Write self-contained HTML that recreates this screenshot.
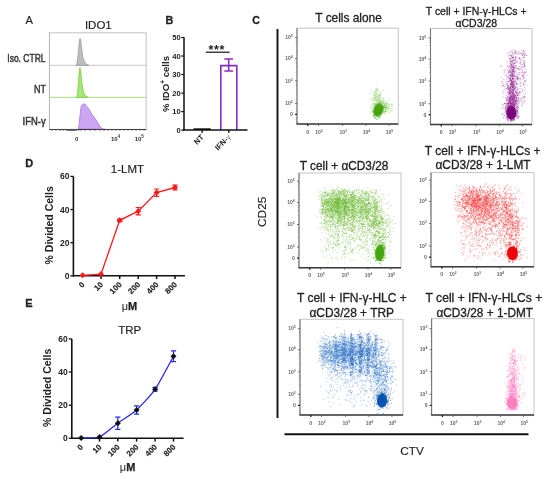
<!DOCTYPE html>
<html><head><meta charset="utf-8"><style>
html,body{margin:0;padding:0;background:#fff;width:550px;height:479px;overflow:hidden}
svg{display:block;will-change:transform}
text{font-family:"Liberation Sans",sans-serif}
.t{stroke:#222;stroke-width:0.3px}
</style></head><body>
<svg width="550" height="479" viewBox="0 0 550 479">
<defs><filter id="b5" x="-50%" y="-50%" width="200%" height="200%"><feGaussianBlur stdDeviation="0.5"/></filter><filter id="b10" x="-50%" y="-50%" width="200%" height="200%"><feGaussianBlur stdDeviation="1.0"/></filter><filter id="b15" x="-50%" y="-50%" width="200%" height="200%"><feGaussianBlur stdDeviation="1.5"/></filter><filter id="b20" x="-50%" y="-50%" width="200%" height="200%"><feGaussianBlur stdDeviation="2.0"/></filter></defs>
<rect width="550" height="479" fill="#fff"/>
<text x="25.4" y="23.6" font-size="11.2" text-anchor="start" font-weight="normal" fill="#222" stroke="#222" stroke-width="0.15">A</text>
<text x="84.9" y="28.7" font-size="11.5" text-anchor="start" font-weight="normal" fill="#222" stroke="#222" stroke-width="0.15">IDO1</text>
<rect x="49.5" y="32.8" width="96.7" height="96.6" fill="none" stroke="#c8c8c8" stroke-width="1.1"/>
<line x1="49.5" y1="65.3" x2="146.2" y2="65.3" stroke="#c8c8c8" stroke-width="1"/>
<line x1="49.5" y1="97.3" x2="146.2" y2="97.3" stroke="#a6e07a" stroke-width="1"/>
<line x1="49.5" y1="32.8" x2="49.5" y2="129.5" stroke="#b8b8b8" stroke-width="1"/>
<text x="45.5" y="61.5" font-size="10.3" text-anchor="end" font-weight="normal" fill="#333" stroke="#333" stroke-width="0.45" textLength="38.2" lengthAdjust="spacingAndGlyphs">Iso. CTRL</text>
<text x="45.9" y="92.9" font-size="10.8" text-anchor="end" font-weight="normal" fill="#333" stroke="#333" stroke-width="0.45" textLength="11.9" lengthAdjust="spacingAndGlyphs">NT</text>
<text x="45.6" y="124.9" font-size="10.2" text-anchor="end" font-weight="normal" fill="#333" stroke="#333" stroke-width="0.45" textLength="23" lengthAdjust="spacingAndGlyphs">IFN-γ</text>
<path d="M76 65.4 C77.3 64.5 78.2 55 79.3 41.5 Q80 35.8 80.8 40.5 C81.8 51 82.8 58.5 84.5 61.8 C86 64 87.5 65 89 65.4 Z" fill="#bdbdbd" stroke="#9a9a9a" stroke-width="0.8"/>
<path d="M76.5 97.4 C77.7 96 78.3 85 79.3 70.5 Q79.9 65.6 80.6 69.5 C81.6 81 82.4 89.5 84.2 93.8 C85.5 96 86.8 97 88 97.4 Z" fill="#a8e47c" stroke="#7fd040" stroke-width="0.9"/>
<path d="M78 129 C79.5 127 80 112 81.3 106 Q82.5 104 84.3 103.8 C85.5 104 86 106 87.4 107.2 C89 109 90.5 112 92.1 114.8 C94 117 95 118.5 96.3 120.3 C98 123 99.5 126 101.2 128.2 C102.5 129 104 129.2 105 129.3 Z" fill="#cca4f2" stroke="#a97ae6" stroke-width="0.9"/>
<line x1="49.2" y1="129.5" x2="146.2" y2="129.5" stroke="#333" stroke-width="0.9"/>
<line x1="52" y1="129.5" x2="52" y2="131" stroke="#444" stroke-width="0.7"/>
<line x1="56" y1="129.5" x2="56" y2="131" stroke="#444" stroke-width="0.7"/>
<line x1="60" y1="129.5" x2="60" y2="131" stroke="#444" stroke-width="0.7"/>
<line x1="63" y1="129.5" x2="63" y2="131" stroke="#444" stroke-width="0.7"/>
<line x1="66" y1="129.5" x2="66" y2="131" stroke="#444" stroke-width="0.7"/>
<line x1="68" y1="129.5" x2="68" y2="131" stroke="#444" stroke-width="0.7"/>
<line x1="70" y1="129.5" x2="70" y2="131" stroke="#444" stroke-width="0.7"/>
<line x1="72" y1="129.5" x2="72" y2="131" stroke="#444" stroke-width="0.7"/>
<line x1="74" y1="129.5" x2="74" y2="131" stroke="#444" stroke-width="0.7"/>
<line x1="76.5" y1="129.5" x2="76.5" y2="131" stroke="#444" stroke-width="0.7"/>
<line x1="79" y1="129.5" x2="79" y2="131" stroke="#444" stroke-width="0.7"/>
<line x1="81" y1="129.5" x2="81" y2="131" stroke="#444" stroke-width="0.7"/>
<line x1="85" y1="129.5" x2="85" y2="131" stroke="#444" stroke-width="0.7"/>
<line x1="90" y1="129.5" x2="90" y2="131" stroke="#444" stroke-width="0.7"/>
<line x1="95" y1="129.5" x2="95" y2="131" stroke="#444" stroke-width="0.7"/>
<line x1="100" y1="129.5" x2="100" y2="131" stroke="#444" stroke-width="0.7"/>
<line x1="104" y1="129.5" x2="104" y2="131" stroke="#444" stroke-width="0.7"/>
<line x1="108" y1="129.5" x2="108" y2="131" stroke="#444" stroke-width="0.7"/>
<line x1="112" y1="129.5" x2="112" y2="131" stroke="#444" stroke-width="0.7"/>
<line x1="116" y1="129.5" x2="116" y2="131" stroke="#444" stroke-width="0.7"/>
<line x1="120" y1="129.5" x2="120" y2="131" stroke="#444" stroke-width="0.7"/>
<line x1="124" y1="129.5" x2="124" y2="131" stroke="#444" stroke-width="0.7"/>
<line x1="128" y1="129.5" x2="128" y2="131" stroke="#444" stroke-width="0.7"/>
<line x1="132" y1="129.5" x2="132" y2="131" stroke="#444" stroke-width="0.7"/>
<line x1="136" y1="129.5" x2="136" y2="131" stroke="#444" stroke-width="0.7"/>
<line x1="140" y1="129.5" x2="140" y2="131" stroke="#444" stroke-width="0.7"/>
<line x1="144" y1="129.5" x2="144" y2="131" stroke="#444" stroke-width="0.7"/>
<rect x="67" y="129.5" width="9" height="1.2" fill="#555"/>
<text x="76.6" y="141" font-size="6" text-anchor="middle" font-weight="bold" fill="#333" >0</text>
<text x="111" y="141" font-size="6" text-anchor="start" font-weight="bold" fill="#333" >10</text>
<text x="117.5" y="137.5" font-size="4.5" text-anchor="start" font-weight="bold" fill="#333" >4</text>
<text x="134.7" y="141" font-size="6" text-anchor="start" font-weight="bold" fill="#333" >10</text>
<text x="141.2" y="137.5" font-size="4.5" text-anchor="start" font-weight="bold" fill="#333" >5</text>
<text x="165.4" y="23.6" font-size="10.8" text-anchor="start" font-weight="bold" fill="#222" stroke="#222" stroke-width="0.3">B</text>
<path d="M220.8 130V65.6H236.8V130" fill="none" stroke="#8a2bc4" stroke-width="1.6"/>
<path d="M228.7 59.1V70.9M224.3 59.1H233.1M224.3 70.9H233.1" fill="none" stroke="#8a2bc4" stroke-width="1.5"/>
<line x1="193.5" y1="129.2" x2="210.7" y2="129.2" stroke="#111" stroke-width="1.8"/>
<line x1="184" y1="37.2" x2="184" y2="130.7" stroke="#111" stroke-width="1.5"/>
<line x1="183.3" y1="130" x2="247.5" y2="130" stroke="#111" stroke-width="1.5"/>
<line x1="181.3" y1="37.5" x2="184" y2="37.5" stroke="#111" stroke-width="1.2"/>
<text x="180.8" y="40.2" font-size="7.6" text-anchor="end" font-weight="bold" fill="#222" >50</text>
<line x1="181.3" y1="56.0" x2="184" y2="56.0" stroke="#111" stroke-width="1.2"/>
<text x="180.8" y="58.72" font-size="7.6" text-anchor="end" font-weight="bold" fill="#222" >40</text>
<line x1="181.3" y1="74.5" x2="184" y2="74.5" stroke="#111" stroke-width="1.2"/>
<text x="180.8" y="77.24" font-size="7.6" text-anchor="end" font-weight="bold" fill="#222" >30</text>
<line x1="181.3" y1="93.1" x2="184" y2="93.1" stroke="#111" stroke-width="1.2"/>
<text x="180.8" y="95.76" font-size="7.6" text-anchor="end" font-weight="bold" fill="#222" >20</text>
<line x1="181.3" y1="111.6" x2="184" y2="111.6" stroke="#111" stroke-width="1.2"/>
<text x="180.8" y="114.28" font-size="7.6" text-anchor="end" font-weight="bold" fill="#222" >10</text>
<line x1="181.3" y1="130.1" x2="184" y2="130.1" stroke="#111" stroke-width="1.2"/>
<text x="180.8" y="132.79999999999998" font-size="7.6" text-anchor="end" font-weight="bold" fill="#222" >0</text>
<text transform="translate(168.8,84) rotate(-90)" x="0" y="0" font-size="9.6" font-weight="bold" text-anchor="middle" fill="#222">% IDO<tspan font-size="6.5" dy="-3.5">+</tspan><tspan dy="3.5"> cells</tspan></text>
<line x1="202" y1="130" x2="202" y2="133" stroke="#111" stroke-width="1.3"/>
<line x1="228.8" y1="130" x2="228.8" y2="133" stroke="#111" stroke-width="1.3"/>
<line x1="205.8" y1="52.2" x2="229.6" y2="52.2" stroke="#111" stroke-width="1.2"/>
<text x="216.8" y="54.4" font-size="12.5" text-anchor="middle" font-weight="bold" fill="#222" letter-spacing="0.6">***</text>
<text transform="translate(204.2,137.8) rotate(-45)" font-size="7.6" font-weight="bold" text-anchor="end" fill="#222">NT</text>
<text transform="translate(231.2,137.6) rotate(-45)" font-size="7.6" font-weight="bold" text-anchor="end" fill="#222">IFN-<tspan font-weight="normal" fill="#777">γ</tspan></text>
<text x="25.3" y="166.8" font-size="11" text-anchor="start" font-weight="bold" fill="#222" stroke="#222" stroke-width="0.3">D</text>
<text x="110.8" y="172.5" font-size="11.5" text-anchor="start" font-weight="normal" fill="#222" stroke="#222" stroke-width="0.15">1-LMT</text>
<line x1="73.4" y1="176.4" x2="73.4" y2="276.5" stroke="#111" stroke-width="1.6"/>
<line x1="72.7" y1="275.8" x2="184.9" y2="275.8" stroke="#111" stroke-width="1.6"/>
<line x1="70.4" y1="275.8" x2="73.4" y2="275.8" stroke="#111" stroke-width="1.3"/>
<text x="69.4" y="278.8" font-size="8.5" text-anchor="end" font-weight="bold" fill="#222" >0</text>
<line x1="70.4" y1="242.7" x2="73.4" y2="242.7" stroke="#111" stroke-width="1.3"/>
<text x="69.4" y="245.66000000000003" font-size="8.5" text-anchor="end" font-weight="bold" fill="#222" >20</text>
<line x1="70.4" y1="209.5" x2="73.4" y2="209.5" stroke="#111" stroke-width="1.3"/>
<text x="69.4" y="212.52" font-size="8.5" text-anchor="end" font-weight="bold" fill="#222" >40</text>
<line x1="70.4" y1="176.4" x2="73.4" y2="176.4" stroke="#111" stroke-width="1.3"/>
<text x="69.4" y="179.38" font-size="8.5" text-anchor="end" font-weight="bold" fill="#222" >60</text>
<line x1="101" y1="275.8" x2="101" y2="279.1" stroke="#111" stroke-width="1.5"/>
<line x1="119.7" y1="275.8" x2="119.7" y2="279.1" stroke="#111" stroke-width="1.5"/>
<line x1="138.2" y1="275.8" x2="138.2" y2="279.1" stroke="#111" stroke-width="1.5"/>
<line x1="156.6" y1="275.8" x2="156.6" y2="279.1" stroke="#111" stroke-width="1.5"/>
<line x1="175.0" y1="275.8" x2="175.0" y2="279.1" stroke="#111" stroke-width="1.5"/>
<text transform="translate(85.19999999999999,285.0) rotate(-45)" font-size="8" font-weight="bold" text-anchor="end" fill="#222" stroke="#222" stroke-width="0.15">0</text>
<text transform="translate(103.6,285.0) rotate(-45)" font-size="8" font-weight="bold" text-anchor="end" fill="#222" stroke="#222" stroke-width="0.15">10</text>
<text transform="translate(122.3,285.0) rotate(-45)" font-size="8" font-weight="bold" text-anchor="end" fill="#222" stroke="#222" stroke-width="0.15">100</text>
<text transform="translate(140.79999999999998,285.0) rotate(-45)" font-size="8" font-weight="bold" text-anchor="end" fill="#222" stroke="#222" stroke-width="0.15">200</text>
<text transform="translate(159.2,285.0) rotate(-45)" font-size="8" font-weight="bold" text-anchor="end" fill="#222" stroke="#222" stroke-width="0.15">400</text>
<text transform="translate(177.6,285.0) rotate(-45)" font-size="8" font-weight="bold" text-anchor="end" fill="#222" stroke="#222" stroke-width="0.15">800</text>
<text transform="translate(52.800000000000004,225.3) rotate(-90)" font-size="10.5" font-weight="bold" text-anchor="middle" fill="#222">% Divided Cells</text>
<text x="121.7" y="310.1" font-size="11" fill="#222"><tspan font-weight="normal">μ</tspan><tspan font-weight="bold" stroke="#222" stroke-width="0.25">M</tspan></text>
<path d="M82.6 275.3 L101.0 274.1 L119.7 220.3 L138.2 211.2 L156.6 192.6 L175.0 187.5" fill="none" stroke="#ff1a1a" stroke-width="1.3"/>
<path d="M82.6 272.3L85.6 275.3L82.6 278.3L79.6 275.3Z" fill="#ff1a1a"/>
<path d="M101.0 271.1L104.0 274.1L101.0 277.1L98.0 274.1Z" fill="#ff1a1a"/>
<path d="M117.1 219.0h5.2M119.7 219.0v2.7M117.1 221.6h5.2" stroke="#ff1a1a" stroke-width="1.2" fill="none"/>
<path d="M119.7 217.3L122.7 220.3L119.7 223.3L116.7 220.3Z" fill="#ff1a1a"/>
<path d="M135.6 207.5h5.2M138.2 207.5v7.3M135.6 214.8h5.2" stroke="#ff1a1a" stroke-width="1.2" fill="none"/>
<path d="M138.2 208.2L141.2 211.2L138.2 214.2L135.2 211.2Z" fill="#ff1a1a"/>
<path d="M154.0 189.0h5.2M156.6 189.0v7.3M154.0 196.3h5.2" stroke="#ff1a1a" stroke-width="1.2" fill="none"/>
<path d="M156.6 189.6L159.6 192.6L156.6 195.6L153.6 192.6Z" fill="#ff1a1a"/>
<path d="M172.4 185.2h5.2M175.0 185.2v4.6M172.4 189.8h5.2" stroke="#ff1a1a" stroke-width="1.2" fill="none"/>
<path d="M175.0 184.5L178.0 187.5L175.0 190.5L172.0 187.5Z" fill="#ff1a1a"/>
<text x="25.3" y="307.3" font-size="11" text-anchor="start" font-weight="bold" fill="#222" stroke="#222" stroke-width="0.3">E</text>
<text x="118.2" y="334.2" font-size="11.5" text-anchor="start" font-weight="normal" fill="#222" stroke="#222" stroke-width="0.15">TRP</text>
<line x1="71.8" y1="338.9" x2="71.8" y2="439.0" stroke="#111" stroke-width="1.6"/>
<line x1="71.1" y1="438.3" x2="183.6" y2="438.3" stroke="#111" stroke-width="1.6"/>
<line x1="68.8" y1="438.3" x2="71.8" y2="438.3" stroke="#111" stroke-width="1.3"/>
<text x="67.8" y="441.3" font-size="8.5" text-anchor="end" font-weight="bold" fill="#222" >0</text>
<line x1="68.8" y1="405.2" x2="71.8" y2="405.2" stroke="#111" stroke-width="1.3"/>
<text x="67.8" y="408.16" font-size="8.5" text-anchor="end" font-weight="bold" fill="#222" >20</text>
<line x1="68.8" y1="372.0" x2="71.8" y2="372.0" stroke="#111" stroke-width="1.3"/>
<text x="67.8" y="375.02" font-size="8.5" text-anchor="end" font-weight="bold" fill="#222" >40</text>
<line x1="68.8" y1="338.9" x2="71.8" y2="338.9" stroke="#111" stroke-width="1.3"/>
<text x="67.8" y="341.88" font-size="8.5" text-anchor="end" font-weight="bold" fill="#222" >60</text>
<line x1="99.5" y1="438.3" x2="99.5" y2="441.6" stroke="#111" stroke-width="1.5"/>
<line x1="117.8" y1="438.3" x2="117.8" y2="441.6" stroke="#111" stroke-width="1.5"/>
<line x1="136.6" y1="438.3" x2="136.6" y2="441.6" stroke="#111" stroke-width="1.5"/>
<line x1="155.1" y1="438.3" x2="155.1" y2="441.6" stroke="#111" stroke-width="1.5"/>
<line x1="173.5" y1="438.3" x2="173.5" y2="441.6" stroke="#111" stroke-width="1.5"/>
<text transform="translate(83.69999999999999,447.5) rotate(-45)" font-size="8" font-weight="bold" text-anchor="end" fill="#222" stroke="#222" stroke-width="0.15">0</text>
<text transform="translate(102.1,447.5) rotate(-45)" font-size="8" font-weight="bold" text-anchor="end" fill="#222" stroke="#222" stroke-width="0.15">10</text>
<text transform="translate(120.39999999999999,447.5) rotate(-45)" font-size="8" font-weight="bold" text-anchor="end" fill="#222" stroke="#222" stroke-width="0.15">100</text>
<text transform="translate(139.2,447.5) rotate(-45)" font-size="8" font-weight="bold" text-anchor="end" fill="#222" stroke="#222" stroke-width="0.15">200</text>
<text transform="translate(157.7,447.5) rotate(-45)" font-size="8" font-weight="bold" text-anchor="end" fill="#222" stroke="#222" stroke-width="0.15">400</text>
<text transform="translate(176.1,447.5) rotate(-45)" font-size="8" font-weight="bold" text-anchor="end" fill="#222" stroke="#222" stroke-width="0.15">800</text>
<text transform="translate(51.199999999999996,387.8) rotate(-90)" font-size="10.5" font-weight="bold" text-anchor="middle" fill="#222">% Divided Cells</text>
<text x="119.8" y="471.0" font-size="11" fill="#222"><tspan font-weight="normal">μ</tspan><tspan font-weight="bold" stroke="#222" stroke-width="0.25">M</tspan></text>
<path d="M81.1 438.0 C82.9 437.9 95.8 438.4 99.5 437.0 C103.2 435.5 114.1 425.9 117.8 423.2 C121.5 420.5 132.9 413.4 136.6 410.0 C140.3 406.6 151.4 394.6 155.1 389.3 C158.8 383.9 171.7 359.6 173.5 356.3" fill="none" stroke="#2a2ae6" stroke-width="1.3"/>
<path d="M81.1 435.0L84.1 438.0L81.1 441.0L78.1 438.0Z" fill="#111"/>
<path d="M99.5 434.0L102.5 437.0L99.5 440.0L96.5 437.0Z" fill="#111"/>
<path d="M115.2 417.1h5.2M117.8 417.1v12.3M115.2 429.4h5.2" stroke="#2a2ae6" stroke-width="1.2" fill="none"/>
<path d="M117.8 420.2L120.8 423.2L117.8 426.2L114.8 423.2Z" fill="#111"/>
<path d="M134.0 405.8h5.2M136.6 405.8v8.3M134.0 414.1h5.2" stroke="#2a2ae6" stroke-width="1.2" fill="none"/>
<path d="M136.6 407.0L139.6 410.0L136.6 413.0L133.6 410.0Z" fill="#111"/>
<path d="M152.5 387.3h5.2M155.1 387.3v4.0M152.5 391.2h5.2" stroke="#2a2ae6" stroke-width="1.2" fill="none"/>
<path d="M155.1 386.3L158.1 389.3L155.1 392.3L152.1 389.3Z" fill="#111"/>
<path d="M170.9 350.8h5.2M173.5 350.8v10.9M170.9 361.7h5.2" stroke="#2a2ae6" stroke-width="1.2" fill="none"/>
<path d="M173.5 353.3L176.5 356.3L173.5 359.3L170.5 356.3Z" fill="#111"/>
<text x="252.3" y="23.6" font-size="10.6" text-anchor="start" font-weight="bold" fill="#222" stroke="#222" stroke-width="0.3">C</text>
<line x1="277.5" y1="29" x2="277.5" y2="418" stroke="#111" stroke-width="1.9"/>
<line x1="284.5" y1="434.3" x2="528.5" y2="434.3" stroke="#111" stroke-width="1.9"/>
<text transform="translate(265.9,226.9) rotate(-90)" font-size="11.8" fill="#222" stroke="#222" stroke-width="0.15">CD25</text>
<text x="400.3" y="454.8" font-size="11.75" text-anchor="start" font-weight="normal" fill="#222" stroke="#222" stroke-width="0.15">CTV</text>
<rect x="297" y="28.2" width="101.30000000000001" height="95.8" fill="none" stroke="#c4c4c4" stroke-width="1"/>
<line x1="297" y1="28.2" x2="297" y2="124" stroke="#777" stroke-width="1.1"/>
<line x1="296.5" y1="124" x2="398.3" y2="124" stroke="#3a3a3a" stroke-width="1.45"/>
<line x1="295" y1="37.6" x2="297" y2="37.6" stroke="#555" stroke-width="0.8"/>
<text x="292.7" y="39.3" font-size="5" font-weight="bold" text-anchor="end" fill="#666">10<tspan font-size="3.4" dy="-2">5</tspan></text>
<line x1="295" y1="58.7" x2="297" y2="58.7" stroke="#555" stroke-width="0.8"/>
<text x="292.7" y="60.4" font-size="5" font-weight="bold" text-anchor="end" fill="#666">10<tspan font-size="3.4" dy="-2">4</tspan></text>
<line x1="295" y1="80.8" x2="297" y2="80.8" stroke="#555" stroke-width="0.8"/>
<text x="292.7" y="82.5" font-size="5" font-weight="bold" text-anchor="end" fill="#666">10<tspan font-size="3.4" dy="-2">3</tspan></text>
<line x1="295" y1="103.4" x2="297" y2="103.4" stroke="#555" stroke-width="0.8"/>
<text x="292.7" y="105.1" font-size="5" font-weight="bold" text-anchor="end" fill="#666">10<tspan font-size="3.4" dy="-2">2</tspan></text>
<line x1="295" y1="114.4" x2="297" y2="114.4" stroke="#222" stroke-width="1.3"/>
<text x="293" y="116.2" font-size="5.2" font-weight="bold" text-anchor="end" fill="#666">0</text>
<line x1="295.8" y1="122.0" x2="297" y2="122.0" stroke="#777" stroke-width="0.6"/>
<line x1="295.8" y1="119.0" x2="297" y2="119.0" stroke="#777" stroke-width="0.6"/>
<line x1="295.8" y1="111.0" x2="297" y2="111.0" stroke="#777" stroke-width="0.6"/>
<line x1="295.8" y1="94.0" x2="297" y2="94.0" stroke="#777" stroke-width="0.6"/>
<line x1="295.8" y1="89.0" x2="297" y2="89.0" stroke="#777" stroke-width="0.6"/>
<line x1="295.8" y1="86.0" x2="297" y2="86.0" stroke="#777" stroke-width="0.6"/>
<line x1="295.8" y1="84.0" x2="297" y2="84.0" stroke="#777" stroke-width="0.6"/>
<line x1="295.8" y1="72.0" x2="297" y2="72.0" stroke="#777" stroke-width="0.6"/>
<line x1="295.8" y1="67.0" x2="297" y2="67.0" stroke="#777" stroke-width="0.6"/>
<line x1="295.8" y1="64.0" x2="297" y2="64.0" stroke="#777" stroke-width="0.6"/>
<line x1="295.8" y1="62.0" x2="297" y2="62.0" stroke="#777" stroke-width="0.6"/>
<line x1="295.8" y1="51.0" x2="297" y2="51.0" stroke="#777" stroke-width="0.6"/>
<line x1="295.8" y1="45.0" x2="297" y2="45.0" stroke="#777" stroke-width="0.6"/>
<line x1="295.8" y1="42.0" x2="297" y2="42.0" stroke="#777" stroke-width="0.6"/>
<line x1="295.8" y1="40.0" x2="297" y2="40.0" stroke="#777" stroke-width="0.6"/>
<line x1="318.5" y1="124" x2="318.5" y2="126" stroke="#555" stroke-width="0.8"/>
<text x="315.3" y="133.6" font-size="5" font-weight="bold" fill="#666">10<tspan font-size="3.4" dy="-2">2</tspan></text>
<line x1="342.6" y1="124" x2="342.6" y2="126" stroke="#555" stroke-width="0.8"/>
<text x="339.4" y="133.6" font-size="5" font-weight="bold" fill="#666">10<tspan font-size="3.4" dy="-2">3</tspan></text>
<line x1="366.0" y1="124" x2="366.0" y2="126" stroke="#555" stroke-width="0.8"/>
<text x="362.8" y="133.6" font-size="5" font-weight="bold" fill="#666">10<tspan font-size="3.4" dy="-2">4</tspan></text>
<line x1="389.0" y1="124" x2="389.0" y2="126" stroke="#555" stroke-width="0.8"/>
<text x="385.8" y="133.6" font-size="5" font-weight="bold" fill="#666">10<tspan font-size="3.4" dy="-2">5</tspan></text>
<line x1="307.8" y1="124" x2="307.8" y2="126" stroke="#222" stroke-width="1.3"/>
<text x="307.8" y="133.6" font-size="5.2" font-weight="bold" text-anchor="middle" fill="#666">0</text>
<line x1="299.0" y1="124" x2="299.0" y2="125.2" stroke="#777" stroke-width="0.6"/>
<line x1="302.0" y1="124" x2="302.0" y2="125.2" stroke="#777" stroke-width="0.6"/>
<line x1="312.0" y1="124" x2="312.0" y2="125.2" stroke="#777" stroke-width="0.6"/>
<line x1="315.0" y1="124" x2="315.0" y2="125.2" stroke="#777" stroke-width="0.6"/>
<line x1="327.0" y1="124" x2="327.0" y2="125.2" stroke="#777" stroke-width="0.6"/>
<line x1="333.0" y1="124" x2="333.0" y2="125.2" stroke="#777" stroke-width="0.6"/>
<line x1="337.0" y1="124" x2="337.0" y2="125.2" stroke="#777" stroke-width="0.6"/>
<line x1="340.0" y1="124" x2="340.0" y2="125.2" stroke="#777" stroke-width="0.6"/>
<line x1="351.0" y1="124" x2="351.0" y2="125.2" stroke="#777" stroke-width="0.6"/>
<line x1="357.0" y1="124" x2="357.0" y2="125.2" stroke="#777" stroke-width="0.6"/>
<line x1="361.0" y1="124" x2="361.0" y2="125.2" stroke="#777" stroke-width="0.6"/>
<line x1="364.0" y1="124" x2="364.0" y2="125.2" stroke="#777" stroke-width="0.6"/>
<line x1="374.0" y1="124" x2="374.0" y2="125.2" stroke="#777" stroke-width="0.6"/>
<line x1="380.0" y1="124" x2="380.0" y2="125.2" stroke="#777" stroke-width="0.6"/>
<line x1="384.0" y1="124" x2="384.0" y2="125.2" stroke="#777" stroke-width="0.6"/>
<line x1="387.0" y1="124" x2="387.0" y2="125.2" stroke="#777" stroke-width="0.6"/>
<line x1="397.0" y1="124" x2="397.0" y2="125.2" stroke="#777" stroke-width="0.6"/>
<text x="315.3" y="21.8" font-size="11.9" text-anchor="start" font-weight="normal" fill="#222" class="t">T cells alone</text>
<path d="M370.1 107.5h1.0M386.0 106.0h1.0M374.0 97.2h1.0M379.5 100.1h1.0M391.1 105.2h1.0M377.7 105.5h1.0M381.5 101.7h1.0M384.8 108.3h1.0M377.8 100.1h1.0M374.1 92.4h1.0M384.8 107.2h1.0M371.6 91.6h1.0M375.7 100.2h1.0M389.5 110.1h1.0M380.9 104.4h1.0M376.2 94.6h1.0M377.7 99.5h1.0M373.9 105.6h1.0M373.7 98.8h1.0M386.2 107.9h1.0M376.8 110.2h1.0M384.8 108.9h1.0M381.2 105.6h1.0M376.3 103.8h1.0M377.6 106.6h1.0M373.9 96.8h1.0M388.1 108.3h1.0M382.4 109.0h1.0M385.3 110.3h1.0M381.5 102.0h1.0M375.7 95.5h1.0M383.8 101.9h1.0M374.0 92.9h1.0M379.2 99.1h1.0M378.1 96.0h1.0M380.8 93.1h1.0M386.1 102.8h1.0M378.2 92.7h1.0M375.1 103.3h1.0M381.6 106.8h1.0M386.4 104.0h1.0M375.1 100.1h1.0M376.5 105.7h1.0M377.7 94.3h1.0M390.6 107.5h1.0M381.4 106.0h1.0M370.3 106.9h1.0M389.5 105.6h1.0M374.4 113.9h1.0M383.2 101.4h1.0M385.9 106.7h1.0M380.6 110.6h1.0M376.9 101.0h1.0M379.1 108.0h1.0M381.0 106.2h1.0M380.3 104.2h1.0M379.2 108.8h1.0M385.2 107.9h1.0M380.2 103.7h1.0M381.6 103.9h1.0M388.8 107.1h1.0M376.7 106.4h1.0M384.4 106.7h1.0M374.1 107.0h1.0M385.2 103.7h1.0M382.8 107.9h1.0M375.4 103.2h1.0M384.3 107.1h1.0M375.7 96.5h1.0M381.4 108.3h1.0M379.4 95.9h1.0M380.2 108.4h1.0M383.2 98.8h1.0M374.2 101.0h1.0M381.4 107.8h1.0M375.6 98.2h1.0M385.4 107.4h1.0M380.8 110.4h1.0M376.7 101.3h1.0M380.0 102.7h1.0M372.0 100.7h1.0M378.0 108.3h1.0M384.6 107.4h1.0M371.7 99.6h1.0M376.0 110.2h1.0M377.5 95.2h1.0M374.1 104.1h1.0M377.2 101.4h1.0M384.1 106.0h1.0M380.8 108.1h1.0M388.8 113.6h1.0M381.9 107.6h1.0M375.1 95.4h1.0M377.9 90.2h1.0M380.7 104.4h1.0M383.5 105.2h1.0M382.9 106.6h1.0M376.0 90.7h1.0M385.7 111.5h1.0M381.1 104.6h1.0M393.2 108.5h1.0M381.5 107.1h1.0M375.3 97.7h1.0M378.0 108.0h1.0M372.9 102.4h1.0M377.1 105.5h1.0M380.7 103.3h1.0M377.8 105.7h1.0M386.0 106.6h1.0M385.2 106.8h1.0M380.8 110.3h1.0M384.5 103.9h1.0M374.0 95.0h1.0M379.2 92.2h1.0M377.3 112.3h1.0M379.6 93.7h1.0M375.9 109.1h1.0M379.7 98.8h1.0M373.6 94.1h1.0M391.3 108.8h1.0M376.9 105.7h1.0M383.5 105.1h1.0M384.1 105.9h1.0M386.5 103.1h1.0M386.4 113.9h1.0M388.6 104.6h1.0M379.5 95.2h1.0M382.3 110.0h1.0M386.3 103.8h1.0M384.0 103.6h1.0M376.3 98.0h1.0M374.9 90.6h1.0M388.5 99.7h1.0M381.7 106.9h1.0M376.6 100.1h1.0M385.0 105.9h1.0M378.7 98.2h1.0M379.2 100.2h1.0M377.7 90.0h1.0M373.3 95.2h1.0M387.5 111.9h1.0M391.5 106.5h1.0M379.4 95.9h1.0M383.3 101.7h1.0M383.2 105.5h1.0M383.3 111.3h1.0M376.9 98.5h1.0M379.1 114.3h1.0M386.2 110.2h1.0M376.6 86.7h1.0M373.1 97.5h1.0M374.3 95.5h1.0M382.4 103.9h1.0M395.3 108.8h1.0M378.1 102.8h1.0M371.3 104.1h1.0M386.7 108.9h1.0M388.7 109.0h1.0M392.5 107.1h1.0M375.9 92.3h1.0M375.9 88.5h1.0M381.6 99.5h1.0M378.7 99.5h1.0M372.7 98.8h1.0M387.2 103.3h1.0M379.7 108.0h1.0M379.4 95.3h1.0M393.3 95.4h1.0M372.7 99.1h1.0M375.3 92.7h1.0M375.3 89.4h1.0M378.7 103.4h1.0M374.6 98.2h1.0M376.4 101.5h1.0M387.0 109.8h1.0M385.9 106.2h1.0M380.4 110.6h1.0M376.1 94.7h1.0M383.3 112.9h1.0M380.0 103.0h1.0M379.7 108.2h1.0M376.8 108.8h1.0M388.7 108.7h1.0M378.7 95.4h1.0M374.9 103.4h1.0M381.8 105.9h1.0M376.6 82.6h1.0M385.9 102.9h1.0M379.8 106.4h1.0M379.2 105.1h1.0M377.3 99.8h1.0M373.9 109.1h1.0M375.0 98.2h1.0M374.6 94.7h1.0M380.7 103.8h1.0M378.1 104.3h1.0M371.3 108.8h1.0M389.0 104.7h1.0M377.5 98.1h1.0M383.9 104.7h1.0M377.7 101.2h1.0M384.6 111.7h1.0M386.0 108.0h1.0M378.4 107.9h1.0M377.3 89.3h1.0M385.7 111.5h1.0M384.2 107.6h1.0M383.0 112.0h1.0M375.4 100.7h1.0M381.1 100.6h1.0M383.6 105.8h1.0M373.1 111.5h1.0M377.3 104.0h1.0M375.1 108.2h1.0M372.6 104.3h1.0M380.4 105.1h1.0M386.6 107.5h1.0M377.1 96.3h1.0M376.4 99.7h1.0M378.7 104.0h1.0M377.0 104.7h1.0M383.4 109.8h1.0M385.3 101.6h1.0M379.1 103.4h1.0M379.2 94.2h1.0M382.8 90.8h1.0M379.1 97.0h1.0M373.3 95.1h1.0M375.1 103.5h1.0M380.8 105.0h1.0M383.5 103.6h1.0M377.3 102.9h1.0M374.6 96.6h1.0M380.1 108.5h1.0M383.3 101.8h1.0M380.3 94.2h1.0M387.9 107.9h1.0M388.5 106.8h1.0M377.1 96.3h1.0M380.3 100.8h1.0M375.8 90.9h1.0M376.4 100.5h1.0M373.4 92.0h1.0M378.9 96.9h1.0M378.8 100.4h1.0M386.5 108.4h1.0M383.2 108.0h1.0M379.6 95.8h1.0M378.1 105.9h1.0M373.3 99.8h1.0M377.6 104.4h1.0M372.7 103.6h1.0M373.2 113.1h1.0M376.6 97.0h1.0M383.9 106.5h1.0M379.9 105.7h1.0M383.6 110.9h1.0M379.5 101.3h1.0M374.8 97.8h1.0M383.1 103.0h1.0M382.3 103.9h1.0M383.2 98.3h1.0M390.9 110.1h1.0M382.2 102.7h1.0M380.8 98.8h1.0M377.0 105.2h1.0M378.2 95.5h1.0M391.0 104.3h1.0M387.6 109.7h1.0M376.9 90.0h1.0M389.2 104.3h1.0M367.8 98.4h1.0M391.9 110.9h1.0M379.0 97.3h1.0M380.7 108.9h1.0M379.0 109.4h1.0M383.1 106.9h1.0M391.6 104.6h1.0M386.8 103.7h1.0M374.3 104.1h1.0M388.3 112.1h1.0M380.2 101.6h1.0M377.2 98.9h1.0M370.3 89.3h1.0M374.0 102.4h1.0M374.0 92.6h1.0M376.0 91.7h1.0M382.9 107.7h1.0M379.3 110.6h1.0M372.7 108.4h1.0M377.8 98.9h1.0M374.4 106.7h1.0M385.0 109.6h1.0M375.6 92.5h1.0M389.7 100.0h1.0M374.7 91.4h1.0M375.7 105.8h1.0M387.4 108.2h1.0M386.3 109.0h1.0M375.5 92.5h1.0M387.1 108.8h1.0M376.3 97.1h1.0M382.9 107.8h1.0M379.8 95.7h1.0M384.5 111.1h1.0M384.7 105.2h1.0M377.8 105.0h1.0M376.5 89.6h1.0M374.7 94.4h1.0M386.1 105.3h1.0M391.6 104.6h1.0M375.7 99.3h1.0M375.1 100.8h1.0M384.7 94.7h1.0M374.0 99.8h1.0M385.9 103.4h1.0M376.3 94.2h1.0M377.0 105.9h1.0M377.8 105.3h1.0M386.5 105.9h1.0M392.3 103.9h1.0M388.8 112.0h1.0M386.8 104.1h1.0M386.1 106.0h1.0M382.9 107.3h1.0M384.8 107.4h1.0M374.5 97.1h1.0M386.6 105.4h1.0M376.8 89.3h1.0M383.4 104.7h1.0M377.6 99.9h1.0M381.4 106.3h1.0M378.5 96.6h1.0M383.4 107.7h1.0M382.8 106.8h1.0M373.1 106.4h1.0M382.0 109.3h1.0M383.0 98.8h1.0M375.7 104.4h1.0M379.5 109.3h1.0M379.2 102.8h1.0M389.9 103.9h1.0M379.8 103.0h1.0M374.6 99.1h1.0M379.3 110.7h1.0M373.4 103.4h1.0M379.1 111.2h1.0M375.7 89.8h1.0M371.1 100.4h1.0M370.7 108.4h1.0M371.0 93.2h1.0M378.2 108.4h1.0M388.0 105.7h1.0M391.1 111.6h1.0M380.0 105.1h1.0M371.5 98.6h1.0M376.1 109.1h1.0M373.7 97.6h1.0M373.4 104.3h1.0M376.1 97.4h1.0M377.5 108.5h1.0M377.4 94.3h1.0M381.9 99.4h1.0M371.9 111.4h1.0M383.3 103.9h1.0M378.0 110.8h1.0M378.5 99.0h1.0M375.8 105.4h1.0M370.6 97.7h1.0M374.0 95.0h1.0M379.1 108.1h1.0M380.1 97.4h1.0M386.8 105.3h1.0M384.9 105.3h1.0M382.6 100.6h1.0M382.7 90.3h1.0M386.7 100.4h1.0M386.7 107.6h1.0M374.7 114.4h1.0M384.7 109.5h1.0" stroke="#86cc5a" stroke-width="1.0" stroke-opacity="0.4" fill="none"/>
<ellipse cx="378.3" cy="110.0" rx="4.8" ry="6.8" fill="#4caa12" transform="rotate(18 378.3 110.0)" filter="url(#b5)"/>
<path d="M379.3 109.0h1.0M382.3 107.1h1.0M378.0 105.6h1.0M381.5 108.2h1.0M379.7 110.4h1.0M381.8 108.2h1.0M379.2 110.0h1.0M378.5 109.2h1.0M376.4 111.6h1.0M376.0 113.5h1.0M380.4 108.0h1.0M378.9 107.1h1.0M379.2 104.6h1.0M380.1 107.5h1.0M375.4 111.8h1.0M379.3 107.3h1.0M385.0 111.7h1.0M379.2 108.0h1.0M377.9 106.7h1.0M378.7 110.8h1.0M376.8 112.6h1.0M378.0 110.6h1.0M379.2 117.6h1.0M379.1 110.6h1.0M373.8 112.2h1.0M377.4 109.4h1.0M377.1 106.7h1.0M377.3 113.5h1.0M381.1 108.2h1.0M378.6 110.1h1.0M379.7 113.8h1.0M382.1 106.8h1.0M377.5 116.2h1.0M378.0 112.8h1.0M381.3 109.4h1.0M377.1 110.2h1.0M374.0 112.2h1.0M377.0 107.0h1.0M378.2 107.1h1.0M379.2 112.7h1.0M377.2 105.9h1.0M377.8 110.4h1.0M377.5 106.9h1.0M377.1 111.2h1.0M380.9 108.3h1.0M380.9 113.3h1.0M376.9 107.7h1.0M374.6 114.8h1.0M374.8 118.3h1.0M381.5 109.1h1.0M375.1 106.6h1.0M379.0 111.5h1.0M373.0 116.7h1.0M379.0 107.8h1.0M373.9 116.4h1.0M382.4 111.7h1.0M375.4 110.6h1.0M379.1 109.3h1.0M381.9 109.2h1.0M375.0 108.8h1.0M378.1 109.7h1.0M381.2 107.3h1.0M378.5 113.1h1.0M379.1 106.2h1.0M379.8 106.7h1.0M378.0 109.1h1.0M385.3 109.7h1.0M375.9 108.0h1.0M376.4 110.1h1.0M378.2 108.6h1.0M383.4 101.7h1.0M379.3 102.7h1.0M382.1 112.5h1.0M375.8 115.8h1.0M378.9 116.6h1.0M375.2 114.5h1.0M374.1 108.9h1.0M381.3 101.1h1.0M379.0 103.5h1.0M376.2 115.2h1.0M384.5 111.9h1.0M373.1 112.1h1.0M377.6 112.6h1.0M377.2 107.2h1.0M378.6 111.6h1.0M378.3 105.6h1.0M372.3 106.9h1.0M377.4 113.7h1.0M377.5 109.8h1.0M379.7 104.0h1.0M376.7 113.9h1.0M375.8 108.1h1.0M383.1 108.0h1.0M375.2 111.2h1.0M380.5 111.3h1.0M375.5 111.2h1.0M377.6 112.2h1.0M377.9 109.0h1.0M384.5 107.8h1.0M379.3 112.9h1.0M384.7 111.7h1.0M375.9 112.6h1.0M375.1 108.2h1.0M379.1 111.3h1.0M376.1 115.1h1.0M379.4 103.1h1.0M371.2 110.7h1.0M374.3 108.8h1.0M382.3 109.5h1.0M377.1 107.2h1.0M377.9 107.2h1.0M375.2 113.4h1.0M377.5 108.7h1.0M383.3 110.0h1.0M380.5 108.5h1.0M379.8 113.4h1.0M380.6 109.6h1.0M377.3 112.8h1.0M373.6 117.8h1.0M374.5 111.9h1.0M377.2 102.5h1.0M377.4 110.3h1.0M380.8 109.0h1.0M374.3 115.0h1.0M378.3 113.0h1.0M378.4 106.3h1.0M374.9 110.9h1.0M382.0 110.2h1.0M376.9 108.0h1.0M375.1 112.2h1.0M379.1 117.3h1.0M377.3 109.4h1.0M381.7 102.4h1.0M380.7 105.0h1.0M379.7 106.2h1.0M378.2 111.6h1.0M381.2 108.5h1.0M377.6 109.0h1.0M377.9 111.5h1.0M376.4 111.4h1.0M379.9 108.6h1.0M377.0 107.5h1.0M376.3 115.2h1.0M377.2 109.2h1.0M380.0 110.0h1.0M378.4 111.0h1.0M375.9 113.2h1.0M373.5 111.5h1.0M372.5 105.9h1.0M379.4 110.9h1.0M375.1 107.2h1.0M374.3 107.5h1.0M379.5 114.4h1.0M380.6 110.5h1.0M371.8 111.9h1.0M379.4 113.8h1.0M381.5 107.8h1.0M377.4 110.4h1.0M383.7 113.3h1.0M381.7 111.3h1.0M380.5 111.9h1.0M375.1 113.3h1.0M377.2 108.2h1.0M376.9 111.2h1.0M380.3 113.3h1.0M376.6 104.7h1.0M380.3 104.0h1.0M377.5 109.9h1.0M380.7 107.6h1.0M377.2 111.8h1.0M379.9 116.2h1.0M374.7 112.1h1.0M377.1 112.6h1.0M378.3 107.0h1.0M377.2 109.5h1.0M380.3 105.6h1.0M378.5 117.2h1.0M382.5 110.5h1.0M375.9 111.6h1.0M374.7 109.2h1.0M380.0 112.4h1.0M373.9 105.3h1.0M380.6 105.8h1.0M379.2 107.1h1.0M378.3 109.3h1.0M375.8 108.8h1.0M380.0 106.5h1.0M379.2 108.9h1.0M377.3 110.9h1.0M376.5 114.8h1.0M377.8 108.7h1.0M378.2 117.1h1.0M377.6 110.5h1.0M376.2 110.4h1.0M375.0 110.3h1.0M381.4 113.8h1.0M384.0 107.6h1.0M373.0 110.3h1.0M370.3 112.2h1.0M382.2 107.2h1.0M378.9 109.9h1.0M378.2 108.5h1.0M376.9 106.4h1.0M377.0 111.3h1.0M373.2 114.9h1.0M379.3 108.7h1.0M376.2 119.3h1.0M380.1 109.4h1.0M379.1 110.7h1.0M375.5 114.2h1.0M375.2 113.1h1.0M383.2 107.3h1.0M377.0 109.4h1.0M380.1 107.6h1.0M382.1 103.8h1.0M374.5 118.1h1.0M375.7 110.3h1.0M378.3 109.5h1.0M380.6 112.5h1.0M379.4 109.0h1.0M380.8 110.5h1.0M378.8 114.9h1.0M380.7 112.1h1.0M381.1 105.4h1.0M377.9 111.7h1.0M375.4 107.3h1.0M376.0 110.4h1.0M383.6 106.7h1.0M375.7 111.9h1.0M376.5 114.7h1.0M382.9 108.7h1.0M378.0 115.2h1.0M376.2 109.8h1.0M375.8 110.4h1.0M378.6 108.4h1.0M378.6 105.3h1.0M373.0 115.5h1.0M375.3 107.4h1.0M377.9 113.0h1.0M377.6 115.5h1.0M377.2 108.2h1.0M376.8 109.6h1.0M376.6 111.0h1.0M377.7 109.8h1.0M374.7 111.6h1.0M378.7 101.7h1.0M380.2 111.6h1.0M377.8 105.8h1.0M384.6 104.6h1.0M374.8 109.9h1.0M378.4 107.6h1.0M375.7 110.2h1.0M377.3 112.2h1.0M374.8 104.9h1.0M376.4 119.1h1.0M378.1 113.5h1.0M380.7 110.7h1.0M378.7 106.5h1.0M378.3 110.8h1.0M377.7 106.8h1.0M375.8 115.3h1.0M377.5 109.9h1.0M377.7 114.0h1.0M374.3 115.5h1.0M377.5 104.4h1.0M379.5 108.9h1.0M375.0 106.9h1.0M379.7 106.6h1.0M379.3 108.5h1.0M380.6 110.8h1.0M376.1 103.2h1.0M376.4 112.5h1.0M377.8 118.8h1.0M377.9 113.1h1.0M377.8 109.0h1.0M375.6 113.1h1.0M379.7 110.3h1.0M376.8 110.3h1.0M380.3 112.0h1.0M376.9 108.3h1.0M375.2 113.9h1.0M375.7 112.7h1.0M381.4 105.8h1.0M379.1 109.5h1.0M378.1 102.9h1.0M378.2 108.2h1.0M378.3 109.5h1.0M378.6 111.5h1.0M375.3 117.7h1.0M376.9 106.7h1.0M380.5 115.0h1.0M375.8 112.7h1.0M375.5 112.0h1.0M372.5 110.3h1.0M379.9 101.0h1.0M378.3 108.5h1.0M381.4 105.9h1.0M382.1 107.1h1.0M379.2 107.0h1.0M375.9 105.3h1.0" stroke="#4caa12" stroke-width="1.0" stroke-opacity="0.5" fill="none"/>
<rect x="430.5" y="28.5" width="101.5" height="95.9" fill="none" stroke="#c4c4c4" stroke-width="1"/>
<line x1="430.5" y1="28.5" x2="430.5" y2="124.4" stroke="#777" stroke-width="1.1"/>
<line x1="430.0" y1="124.4" x2="532" y2="124.4" stroke="#3a3a3a" stroke-width="1.45"/>
<line x1="428.5" y1="38.0" x2="430.5" y2="38.0" stroke="#555" stroke-width="0.8"/>
<text x="426.2" y="39.7" font-size="5" font-weight="bold" text-anchor="end" fill="#666">10<tspan font-size="3.4" dy="-2">5</tspan></text>
<line x1="428.5" y1="59.1" x2="430.5" y2="59.1" stroke="#555" stroke-width="0.8"/>
<text x="426.2" y="60.8" font-size="5" font-weight="bold" text-anchor="end" fill="#666">10<tspan font-size="3.4" dy="-2">4</tspan></text>
<line x1="428.5" y1="81.2" x2="430.5" y2="81.2" stroke="#555" stroke-width="0.8"/>
<text x="426.2" y="82.9" font-size="5" font-weight="bold" text-anchor="end" fill="#666">10<tspan font-size="3.4" dy="-2">3</tspan></text>
<line x1="428.5" y1="103.8" x2="430.5" y2="103.8" stroke="#555" stroke-width="0.8"/>
<text x="426.2" y="105.5" font-size="5" font-weight="bold" text-anchor="end" fill="#666">10<tspan font-size="3.4" dy="-2">2</tspan></text>
<line x1="428.5" y1="114.8" x2="430.5" y2="114.8" stroke="#222" stroke-width="1.3"/>
<text x="426.5" y="116.6" font-size="5.2" font-weight="bold" text-anchor="end" fill="#666">0</text>
<line x1="429.3" y1="122.4" x2="430.5" y2="122.4" stroke="#777" stroke-width="0.6"/>
<line x1="429.3" y1="119.4" x2="430.5" y2="119.4" stroke="#777" stroke-width="0.6"/>
<line x1="429.3" y1="111.4" x2="430.5" y2="111.4" stroke="#777" stroke-width="0.6"/>
<line x1="429.3" y1="94.4" x2="430.5" y2="94.4" stroke="#777" stroke-width="0.6"/>
<line x1="429.3" y1="89.4" x2="430.5" y2="89.4" stroke="#777" stroke-width="0.6"/>
<line x1="429.3" y1="86.4" x2="430.5" y2="86.4" stroke="#777" stroke-width="0.6"/>
<line x1="429.3" y1="84.4" x2="430.5" y2="84.4" stroke="#777" stroke-width="0.6"/>
<line x1="429.3" y1="72.4" x2="430.5" y2="72.4" stroke="#777" stroke-width="0.6"/>
<line x1="429.3" y1="67.4" x2="430.5" y2="67.4" stroke="#777" stroke-width="0.6"/>
<line x1="429.3" y1="64.4" x2="430.5" y2="64.4" stroke="#777" stroke-width="0.6"/>
<line x1="429.3" y1="62.4" x2="430.5" y2="62.4" stroke="#777" stroke-width="0.6"/>
<line x1="429.3" y1="51.4" x2="430.5" y2="51.4" stroke="#777" stroke-width="0.6"/>
<line x1="429.3" y1="45.4" x2="430.5" y2="45.4" stroke="#777" stroke-width="0.6"/>
<line x1="429.3" y1="42.4" x2="430.5" y2="42.4" stroke="#777" stroke-width="0.6"/>
<line x1="429.3" y1="40.4" x2="430.5" y2="40.4" stroke="#777" stroke-width="0.6"/>
<line x1="452.0" y1="124.4" x2="452.0" y2="126.4" stroke="#555" stroke-width="0.8"/>
<text x="448.8" y="134.0" font-size="5" font-weight="bold" fill="#666">10<tspan font-size="3.4" dy="-2">2</tspan></text>
<line x1="476.1" y1="124.4" x2="476.1" y2="126.4" stroke="#555" stroke-width="0.8"/>
<text x="472.9" y="134.0" font-size="5" font-weight="bold" fill="#666">10<tspan font-size="3.4" dy="-2">3</tspan></text>
<line x1="499.5" y1="124.4" x2="499.5" y2="126.4" stroke="#555" stroke-width="0.8"/>
<text x="496.3" y="134.0" font-size="5" font-weight="bold" fill="#666">10<tspan font-size="3.4" dy="-2">4</tspan></text>
<line x1="522.5" y1="124.4" x2="522.5" y2="126.4" stroke="#555" stroke-width="0.8"/>
<text x="519.3" y="134.0" font-size="5" font-weight="bold" fill="#666">10<tspan font-size="3.4" dy="-2">5</tspan></text>
<line x1="441.3" y1="124.4" x2="441.3" y2="126.4" stroke="#222" stroke-width="1.3"/>
<text x="441.3" y="134.0" font-size="5.2" font-weight="bold" text-anchor="middle" fill="#666">0</text>
<line x1="432.5" y1="124.4" x2="432.5" y2="125.60000000000001" stroke="#777" stroke-width="0.6"/>
<line x1="435.5" y1="124.4" x2="435.5" y2="125.60000000000001" stroke="#777" stroke-width="0.6"/>
<line x1="445.5" y1="124.4" x2="445.5" y2="125.60000000000001" stroke="#777" stroke-width="0.6"/>
<line x1="448.5" y1="124.4" x2="448.5" y2="125.60000000000001" stroke="#777" stroke-width="0.6"/>
<line x1="460.5" y1="124.4" x2="460.5" y2="125.60000000000001" stroke="#777" stroke-width="0.6"/>
<line x1="466.5" y1="124.4" x2="466.5" y2="125.60000000000001" stroke="#777" stroke-width="0.6"/>
<line x1="470.5" y1="124.4" x2="470.5" y2="125.60000000000001" stroke="#777" stroke-width="0.6"/>
<line x1="473.5" y1="124.4" x2="473.5" y2="125.60000000000001" stroke="#777" stroke-width="0.6"/>
<line x1="484.5" y1="124.4" x2="484.5" y2="125.60000000000001" stroke="#777" stroke-width="0.6"/>
<line x1="490.5" y1="124.4" x2="490.5" y2="125.60000000000001" stroke="#777" stroke-width="0.6"/>
<line x1="494.5" y1="124.4" x2="494.5" y2="125.60000000000001" stroke="#777" stroke-width="0.6"/>
<line x1="497.5" y1="124.4" x2="497.5" y2="125.60000000000001" stroke="#777" stroke-width="0.6"/>
<line x1="507.5" y1="124.4" x2="507.5" y2="125.60000000000001" stroke="#777" stroke-width="0.6"/>
<line x1="513.5" y1="124.4" x2="513.5" y2="125.60000000000001" stroke="#777" stroke-width="0.6"/>
<line x1="517.5" y1="124.4" x2="517.5" y2="125.60000000000001" stroke="#777" stroke-width="0.6"/>
<line x1="520.5" y1="124.4" x2="520.5" y2="125.60000000000001" stroke="#777" stroke-width="0.6"/>
<line x1="530.5" y1="124.4" x2="530.5" y2="125.60000000000001" stroke="#777" stroke-width="0.6"/>
<text x="425.8" y="14.5" font-size="10.45" text-anchor="start" font-weight="normal" fill="#222" class="t">T cell + IFN-γ-HLCs +</text>
<text x="455.4" y="26.7" font-size="10.5" text-anchor="start" font-weight="normal" fill="#222" class="t">αCD3/28</text>
<path d="M513.7 95.9h1.0M513.9 89.1h1.0M502.0 91.4h1.0M510.4 77.6h1.0M513.1 95.1h1.0M514.6 115.7h1.0M507.3 62.1h1.0M512.5 67.0h1.0M511.4 97.8h1.0M512.2 83.3h1.0M510.9 82.1h1.0M523.5 84.1h1.0M511.4 77.5h1.0M512.2 110.0h1.0M512.1 102.5h1.0M508.3 85.4h1.0M513.8 70.1h1.0M524.8 80.7h1.0M513.2 107.2h1.0M511.7 104.3h1.0M510.4 83.3h1.0M508.8 70.0h1.0M508.6 89.4h1.0M514.8 95.5h1.0M509.3 107.6h1.0M510.1 111.8h1.0M509.8 101.4h1.0M510.0 79.7h1.0M513.0 107.5h1.0M522.9 96.3h1.0M514.8 57.4h1.0M512.0 71.7h1.0M524.1 65.0h1.0M512.4 87.6h1.0M510.7 74.9h1.0M510.3 92.2h1.0M517.9 97.7h1.0M510.6 75.4h1.0M517.1 89.5h1.0M514.7 100.8h1.0M511.8 84.9h1.0M512.2 57.3h1.0M510.8 113.9h1.0M512.2 98.1h1.0M511.0 86.8h1.0M510.6 63.2h1.0M508.7 97.3h1.0M508.0 106.1h1.0M506.2 107.2h1.0M512.8 94.2h1.0M509.1 99.6h1.0M513.1 115.6h1.0M511.0 103.5h1.0M522.9 57.6h1.0M511.8 96.9h1.0M524.2 96.6h1.0M508.5 104.9h1.0M506.5 97.7h1.0M503.7 89.0h1.0M510.4 106.8h1.0M512.9 87.7h1.0M512.4 69.5h1.0M509.6 95.3h1.0M513.8 106.3h1.0M510.4 99.5h1.0M513.2 57.6h1.0M513.8 87.2h1.0M521.8 70.7h1.0M507.7 66.2h1.0M509.8 89.3h1.0M513.0 82.6h1.0M513.8 97.4h1.0M513.2 99.6h1.0M511.7 93.8h1.0M511.3 97.8h1.0M508.6 89.1h1.0M506.5 53.2h1.0M512.2 73.3h1.0M510.8 64.5h1.0M510.8 103.2h1.0M512.4 100.8h1.0M519.0 57.3h1.0M516.6 98.3h1.0M509.1 89.2h1.0M516.0 116.5h1.0M513.6 65.1h1.0M512.3 74.7h1.0M511.7 74.3h1.0M510.7 109.9h1.0M514.3 109.2h1.0M510.9 96.7h1.0M522.6 66.6h1.0M515.1 114.3h1.0M509.4 114.4h1.0M522.2 77.3h1.0M505.7 74.4h1.0M525.2 92.1h1.0M508.7 92.9h1.0M513.4 107.7h1.0M509.4 106.5h1.0M509.2 108.6h1.0M517.6 103.7h1.0M515.5 68.0h1.0M509.6 87.9h1.0M511.3 86.3h1.0M524.4 53.9h1.0M513.2 100.9h1.0M508.3 92.7h1.0M510.5 71.6h1.0M512.4 85.0h1.0M509.2 102.3h1.0M514.5 106.6h1.0M515.2 99.1h1.0M509.5 100.6h1.0M506.3 110.0h1.0M509.4 100.6h1.0M503.6 103.7h1.0M512.5 70.6h1.0M505.0 107.5h1.0M518.9 92.4h1.0M521.9 76.1h1.0M512.9 101.8h1.0M511.1 106.6h1.0M502.9 85.6h1.0M514.6 97.1h1.0M515.6 93.2h1.0M515.6 112.8h1.0M521.8 52.3h1.0M511.0 105.2h1.0M511.9 75.4h1.0M518.7 53.4h1.0M512.6 100.9h1.0M515.2 51.1h1.0M509.7 99.7h1.0M512.6 93.6h1.0M512.9 93.7h1.0M506.5 99.9h1.0M510.1 102.9h1.0M515.6 107.8h1.0M511.5 72.4h1.0M508.0 102.7h1.0M522.5 97.7h1.0M509.7 97.4h1.0M511.1 83.7h1.0M509.9 108.3h1.0M512.4 70.0h1.0M513.5 109.3h1.0M515.6 84.2h1.0M510.9 66.5h1.0M510.4 102.0h1.0M522.5 102.9h1.0M510.4 72.9h1.0M520.3 82.8h1.0M511.6 108.3h1.0M507.6 106.5h1.0M514.6 61.6h1.0M513.0 68.0h1.0M512.7 90.7h1.0M511.6 74.1h1.0M502.5 97.3h1.0M512.6 118.7h1.0M510.9 102.2h1.0M510.4 104.4h1.0M507.9 73.0h1.0M507.9 108.2h1.0M510.8 97.0h1.0M523.4 55.3h1.0M514.1 102.7h1.0M512.5 84.4h1.0M512.2 81.4h1.0M510.0 62.8h1.0M511.7 57.1h1.0M509.7 60.8h1.0M512.8 88.0h1.0M522.9 56.6h1.0M509.2 114.0h1.0M511.2 116.9h1.0M512.1 78.6h1.0M510.9 86.4h1.0M512.7 97.5h1.0M513.0 81.9h1.0M504.3 70.0h1.0M512.2 52.2h1.0M511.6 82.2h1.0M511.9 79.5h1.0M510.6 83.6h1.0M509.0 94.6h1.0M514.8 94.6h1.0M512.4 105.3h1.0M520.4 85.3h1.0M507.5 99.0h1.0M513.0 118.0h1.0M511.7 61.2h1.0M516.5 88.2h1.0M510.6 85.0h1.0M511.6 76.9h1.0M508.2 102.6h1.0M523.9 98.4h1.0M509.5 52.0h1.0M510.7 103.8h1.0M509.2 98.1h1.0M513.6 63.3h1.0M507.9 103.3h1.0M512.6 109.2h1.0M506.4 106.9h1.0M505.3 106.8h1.0M501.8 104.5h1.0M517.2 118.4h1.0M515.1 116.4h1.0M510.2 81.9h1.0M511.7 78.9h1.0M508.8 78.4h1.0M511.9 92.5h1.0M516.7 93.8h1.0M505.5 71.0h1.0M519.2 84.1h1.0M522.3 76.3h1.0M510.5 64.5h1.0M516.8 89.1h1.0M523.8 57.5h1.0M523.7 89.5h1.0M510.1 68.9h1.0M505.6 84.5h1.0M518.9 58.3h1.0M509.7 85.6h1.0M512.6 106.0h1.0M505.9 85.8h1.0M512.2 104.2h1.0M510.6 69.9h1.0M522.8 51.2h1.0M508.6 71.4h1.0M515.8 92.9h1.0M513.6 95.7h1.0M519.8 68.3h1.0M509.9 110.2h1.0M514.7 81.1h1.0M510.8 105.2h1.0M514.5 110.4h1.0M515.7 65.5h1.0M513.8 109.9h1.0M515.0 101.3h1.0M507.5 94.3h1.0M505.7 103.5h1.0M513.6 70.7h1.0M524.3 53.2h1.0M513.1 116.5h1.0M510.3 64.8h1.0M512.4 96.1h1.0M512.9 84.6h1.0M512.8 94.2h1.0M514.8 96.2h1.0M516.1 95.8h1.0M512.2 76.4h1.0M512.1 105.4h1.0M511.2 57.4h1.0M513.8 73.0h1.0M505.2 108.0h1.0M511.7 118.4h1.0M509.0 100.3h1.0M515.6 105.3h1.0M512.3 110.5h1.0M524.2 77.8h1.0M510.2 112.9h1.0M515.8 100.7h1.0M512.3 102.1h1.0M523.2 75.1h1.0M510.0 61.0h1.0M516.9 92.5h1.0M510.8 97.7h1.0M513.1 100.5h1.0M514.6 91.4h1.0M510.0 101.0h1.0M509.4 79.5h1.0M508.9 115.5h1.0M509.2 66.4h1.0M513.2 71.5h1.0M514.8 103.8h1.0M513.6 118.8h1.0M509.0 78.3h1.0M516.9 106.2h1.0M514.7 95.6h1.0M513.3 99.9h1.0M510.2 89.9h1.0M524.0 64.8h1.0M510.2 98.5h1.0M513.3 77.1h1.0M509.2 88.4h1.0M512.7 110.9h1.0M510.3 80.2h1.0M521.0 72.8h1.0M511.4 94.4h1.0M513.0 96.9h1.0M513.7 76.0h1.0M515.0 81.2h1.0M510.8 103.8h1.0M511.4 66.4h1.0M521.6 64.6h1.0M512.5 74.5h1.0M509.9 103.2h1.0M519.0 58.9h1.0M509.3 77.9h1.0M511.9 117.1h1.0M511.4 69.3h1.0M511.9 92.3h1.0M510.8 118.4h1.0M516.7 108.1h1.0M505.2 104.0h1.0M513.4 83.3h1.0M515.9 110.9h1.0M510.0 104.8h1.0M509.7 111.7h1.0M512.7 91.8h1.0M509.2 106.6h1.0M507.1 104.2h1.0M523.6 65.4h1.0M511.8 72.0h1.0M509.6 103.7h1.0M523.6 61.2h1.0M515.1 99.8h1.0M512.9 108.5h1.0M510.8 82.1h1.0M520.2 86.5h1.0M510.2 91.4h1.0M511.4 56.0h1.0M521.1 100.8h1.0M510.7 86.8h1.0M509.2 105.1h1.0M513.1 80.4h1.0M511.6 82.1h1.0M509.4 99.1h1.0M509.9 119.3h1.0M505.9 99.8h1.0M512.1 107.0h1.0M513.2 85.4h1.0M510.5 103.5h1.0M511.5 107.6h1.0M509.6 95.6h1.0M512.8 89.5h1.0M513.5 114.6h1.0M515.5 60.1h1.0M509.0 105.8h1.0M514.0 98.3h1.0M512.3 101.9h1.0M512.0 57.8h1.0M510.4 67.6h1.0M510.7 107.6h1.0M523.9 66.2h1.0M513.8 87.7h1.0M515.3 100.9h1.0M512.8 57.8h1.0M524.5 77.6h1.0M508.3 105.9h1.0M512.8 53.5h1.0M510.5 84.2h1.0M511.5 83.3h1.0M516.6 94.1h1.0M514.3 97.6h1.0M508.0 118.8h1.0M510.4 76.1h1.0M510.6 86.6h1.0M512.8 79.3h1.0M508.9 97.4h1.0M509.9 75.7h1.0M509.0 108.6h1.0M515.0 50.2h1.0M522.6 75.3h1.0M513.2 98.8h1.0M510.7 84.0h1.0M509.9 108.5h1.0M508.7 86.9h1.0M516.8 62.7h1.0M512.9 76.8h1.0M516.3 76.8h1.0M509.4 75.7h1.0M508.7 108.2h1.0M505.8 102.4h1.0M511.0 79.1h1.0M513.1 110.8h1.0M513.1 101.0h1.0M517.1 116.9h1.0M507.2 105.9h1.0M509.2 81.9h1.0M510.5 70.8h1.0M521.0 53.5h1.0M514.7 66.3h1.0M514.6 76.5h1.0M517.8 68.4h1.0M511.3 67.0h1.0M514.0 84.8h1.0M516.5 92.3h1.0M501.6 81.2h1.0M512.2 78.7h1.0M513.3 114.3h1.0M511.7 69.9h1.0M508.7 93.0h1.0M510.0 89.5h1.0M513.3 96.3h1.0M504.4 109.2h1.0M517.2 67.9h1.0M501.9 84.0h1.0M506.7 103.8h1.0M510.9 99.2h1.0M524.4 93.4h1.0M511.4 106.2h1.0M509.7 87.2h1.0M516.3 94.8h1.0M512.7 75.3h1.0M513.4 73.6h1.0M512.5 78.6h1.0M510.1 93.4h1.0M511.6 89.9h1.0M509.6 101.4h1.0M511.8 100.5h1.0M513.7 112.1h1.0M513.1 64.4h1.0M509.3 99.2h1.0M509.5 97.3h1.0M514.2 94.1h1.0M511.9 60.8h1.0M521.5 82.0h1.0M508.3 71.2h1.0M514.5 107.1h1.0M512.5 106.5h1.0M508.5 110.4h1.0M520.7 53.3h1.0M509.8 84.0h1.0M511.2 94.5h1.0M518.4 91.6h1.0M507.7 81.4h1.0M524.3 71.5h1.0M510.9 84.8h1.0M509.6 75.8h1.0M512.7 117.8h1.0M511.4 107.7h1.0M510.0 55.6h1.0M511.9 67.4h1.0M524.4 96.0h1.0M521.8 97.8h1.0M512.0 108.5h1.0M507.9 110.4h1.0M517.5 95.4h1.0M505.8 110.7h1.0M513.7 73.1h1.0M515.6 87.3h1.0M509.7 98.8h1.0M512.3 66.0h1.0M510.9 105.5h1.0M511.5 110.4h1.0M509.6 106.3h1.0M512.6 65.3h1.0M500.7 108.6h1.0M513.4 113.8h1.0M506.5 83.6h1.0M506.1 82.3h1.0M511.8 103.3h1.0M511.1 95.7h1.0M515.5 96.8h1.0M521.6 72.1h1.0M512.9 83.5h1.0M523.1 62.3h1.0M513.6 54.6h1.0M509.2 107.9h1.0M512.1 98.8h1.0M512.4 86.3h1.0M515.8 61.8h1.0M511.6 107.1h1.0M516.8 106.5h1.0M509.8 119.0h1.0M510.3 80.7h1.0M521.6 75.2h1.0M510.3 118.3h1.0M511.1 118.3h1.0M515.4 77.1h1.0M511.7 90.4h1.0M512.1 103.2h1.0M507.5 87.9h1.0M512.9 99.8h1.0M517.0 77.4h1.0M511.6 65.2h1.0M509.3 119.0h1.0M523.0 78.2h1.0M522.9 76.1h1.0M508.6 102.7h1.0M523.9 81.2h1.0M512.3 98.4h1.0M508.7 101.8h1.0M510.0 88.0h1.0M506.1 76.0h1.0M514.0 63.7h1.0M520.3 64.9h1.0M511.5 109.6h1.0M524.8 80.8h1.0M517.8 89.1h1.0M514.1 76.2h1.0M514.3 71.2h1.0M511.2 111.3h1.0M510.8 80.7h1.0M510.1 105.2h1.0M516.0 97.7h1.0M508.8 114.0h1.0M509.7 59.1h1.0M512.2 87.5h1.0M516.6 83.5h1.0M513.5 96.4h1.0M512.0 99.9h1.0M512.9 104.4h1.0M515.7 104.3h1.0M508.9 97.1h1.0M512.2 70.8h1.0M513.9 109.7h1.0M511.4 61.6h1.0M512.5 117.6h1.0M514.6 52.9h1.0M514.5 72.3h1.0M518.9 72.7h1.0M523.6 74.7h1.0M512.5 78.0h1.0M519.9 62.9h1.0M517.1 109.3h1.0M513.9 78.5h1.0M517.2 115.5h1.0M511.8 99.3h1.0M511.8 78.7h1.0M515.0 88.5h1.0M510.3 92.0h1.0M510.4 115.2h1.0M509.3 78.7h1.0M509.7 105.8h1.0M516.1 91.9h1.0M510.8 55.1h1.0M503.3 93.0h1.0M512.9 82.3h1.0M507.3 98.3h1.0M512.8 84.5h1.0M512.0 111.2h1.0M512.9 111.7h1.0M515.5 109.4h1.0M511.3 80.0h1.0M512.6 106.0h1.0M509.6 106.3h1.0M511.3 84.7h1.0M508.0 100.1h1.0M507.9 85.7h1.0M513.8 108.1h1.0M516.3 110.9h1.0M519.2 92.2h1.0M517.1 104.1h1.0M512.0 107.6h1.0M511.4 116.0h1.0M509.8 59.1h1.0M513.9 88.6h1.0M510.9 82.4h1.0M512.6 63.7h1.0M512.7 57.6h1.0M501.6 82.1h1.0M515.4 53.4h1.0M508.8 92.0h1.0M514.1 97.2h1.0M511.7 107.7h1.0M507.4 96.9h1.0M512.0 87.4h1.0M518.3 100.1h1.0M514.9 59.5h1.0M509.9 110.9h1.0M511.3 62.7h1.0M508.8 88.9h1.0M509.1 99.0h1.0M511.5 104.7h1.0M513.1 110.7h1.0M517.1 111.4h1.0M518.4 116.5h1.0M516.0 103.7h1.0M511.9 67.1h1.0M512.2 110.5h1.0M507.7 117.0h1.0M516.1 92.4h1.0M511.3 100.3h1.0M509.1 98.4h1.0M518.7 116.9h1.0M518.4 95.6h1.0M520.5 98.0h1.0M516.3 53.1h1.0M515.0 57.8h1.0M512.1 97.1h1.0M515.2 62.2h1.0M515.0 88.0h1.0M511.9 107.8h1.0M508.8 55.3h1.0M515.4 97.6h1.0M506.9 92.7h1.0M509.1 80.0h1.0M513.5 104.6h1.0M507.1 93.3h1.0M512.1 104.3h1.0M508.6 103.6h1.0M507.2 99.4h1.0M513.9 63.2h1.0M510.9 83.8h1.0M511.2 97.4h1.0M519.3 100.4h1.0M510.2 96.5h1.0M507.8 108.8h1.0M513.8 66.8h1.0M513.3 98.5h1.0M512.3 93.3h1.0M509.6 111.6h1.0M512.7 63.6h1.0M509.6 91.6h1.0M517.7 51.6h1.0M511.4 111.3h1.0M511.9 103.1h1.0M513.3 85.9h1.0M513.6 97.0h1.0M509.1 72.9h1.0M508.4 87.1h1.0M514.7 67.9h1.0M522.9 73.6h1.0M512.3 117.5h1.0M512.7 60.4h1.0M508.8 108.5h1.0M512.5 99.5h1.0M522.1 90.6h1.0M519.0 66.3h1.0M513.7 101.8h1.0M511.6 117.3h1.0M512.9 111.3h1.0M519.6 73.4h1.0M516.1 106.3h1.0M512.1 82.6h1.0M511.2 81.8h1.0M520.3 58.4h1.0M512.8 49.8h1.0M509.2 104.1h1.0M519.4 69.5h1.0M513.6 97.7h1.0M513.8 105.3h1.0M517.8 100.3h1.0M509.1 105.6h1.0M523.1 50.8h1.0M516.5 118.6h1.0M510.5 68.8h1.0M510.5 80.2h1.0M513.7 89.2h1.0M521.6 105.4h1.0M509.6 100.8h1.0M519.2 59.0h1.0M514.6 71.7h1.0M509.2 110.2h1.0M517.1 95.6h1.0M513.1 59.3h1.0M517.5 117.0h1.0M506.3 90.9h1.0M512.7 78.8h1.0M513.3 103.0h1.0M507.4 96.6h1.0M511.3 61.1h1.0M512.0 86.4h1.0M517.5 69.0h1.0M509.2 80.7h1.0M510.7 104.9h1.0M516.5 108.9h1.0M510.7 86.4h1.0M510.9 100.7h1.0M512.4 114.1h1.0M512.9 115.2h1.0M524.3 72.6h1.0M517.3 79.1h1.0M519.4 69.2h1.0M506.0 118.1h1.0M515.7 87.2h1.0M511.2 108.8h1.0M506.8 65.8h1.0M512.2 85.9h1.0M515.1 116.6h1.0M506.6 67.1h1.0M509.7 103.8h1.0M508.8 58.7h1.0M509.4 100.0h1.0M510.1 74.7h1.0M511.8 92.1h1.0M509.6 93.5h1.0M514.3 101.8h1.0M523.9 51.9h1.0M521.4 66.5h1.0M514.3 51.0h1.0M512.4 112.8h1.0M515.4 86.7h1.0M512.8 92.6h1.0M523.9 102.3h1.0M502.7 85.8h1.0M512.9 57.5h1.0M517.8 77.4h1.0M512.3 84.3h1.0M514.3 98.9h1.0M512.2 88.1h1.0M513.8 119.3h1.0M519.2 103.8h1.0M515.9 84.5h1.0M516.6 84.0h1.0M513.2 110.3h1.0M513.3 99.6h1.0M510.8 56.3h1.0M511.1 105.1h1.0M512.5 108.2h1.0M510.4 92.2h1.0M508.0 98.8h1.0M503.6 91.1h1.0M508.3 113.9h1.0M514.5 82.1h1.0M512.5 97.2h1.0M506.8 112.3h1.0M508.8 91.0h1.0M513.5 87.9h1.0M514.5 101.2h1.0M508.1 104.2h1.0M509.5 65.9h1.0M510.7 84.7h1.0M510.3 101.1h1.0M514.0 74.9h1.0M514.2 97.2h1.0M511.9 93.9h1.0M502.5 108.7h1.0M516.4 101.7h1.0M506.0 98.4h1.0M510.4 71.4h1.0M517.8 105.1h1.0M519.6 91.6h1.0M515.6 104.1h1.0M515.5 77.4h1.0M510.8 108.5h1.0M515.9 93.1h1.0M508.1 103.4h1.0M505.8 79.8h1.0M510.8 66.0h1.0M517.1 54.5h1.0M506.7 81.3h1.0M514.3 119.1h1.0M507.2 77.4h1.0M517.5 78.8h1.0M509.9 71.9h1.0M520.4 78.2h1.0M512.1 108.7h1.0M516.8 61.2h1.0M508.8 103.3h1.0M523.8 72.5h1.0M507.0 109.9h1.0M511.2 113.0h1.0M508.6 102.1h1.0M508.1 111.8h1.0M506.0 100.6h1.0M510.8 108.4h1.0M513.0 66.9h1.0M526.3 75.0h1.0M513.6 66.9h1.0M507.0 87.9h1.0M507.9 104.3h1.0M509.4 115.9h1.0M509.0 112.3h1.0M508.3 102.7h1.0M513.3 102.8h1.0M513.2 101.9h1.0M508.4 70.2h1.0M516.7 79.1h1.0M513.5 88.9h1.0M513.7 96.1h1.0M512.1 104.0h1.0M510.1 87.3h1.0M512.3 103.2h1.0M525.1 72.8h1.0M512.0 62.6h1.0M509.8 90.4h1.0M508.8 115.9h1.0M512.4 81.8h1.0M517.3 101.2h1.0M512.5 61.8h1.0M514.3 113.7h1.0M513.9 80.3h1.0M509.6 76.4h1.0M512.4 116.3h1.0M509.1 70.3h1.0M513.5 104.4h1.0M517.6 74.5h1.0M503.5 70.8h1.0M513.1 89.5h1.0M524.3 87.3h1.0M519.6 61.4h1.0M510.1 108.0h1.0M513.2 91.5h1.0M513.4 98.7h1.0M506.9 117.5h1.0M511.5 111.7h1.0M509.8 99.9h1.0M517.8 68.7h1.0M523.7 69.1h1.0M517.2 101.0h1.0M513.1 79.2h1.0M509.9 87.4h1.0M512.6 70.6h1.0M514.8 75.8h1.0M505.7 100.9h1.0M512.4 67.4h1.0M511.2 81.6h1.0M509.9 110.3h1.0M508.4 112.6h1.0M510.8 114.7h1.0M511.4 73.1h1.0M515.2 92.5h1.0M512.2 112.0h1.0M511.1 84.3h1.0M523.7 83.7h1.0M524.0 66.6h1.0M514.2 85.6h1.0M521.0 50.2h1.0M510.7 89.7h1.0M513.5 94.5h1.0M514.2 72.1h1.0M512.8 103.4h1.0M507.6 103.9h1.0M516.6 79.1h1.0M521.4 70.2h1.0M524.5 82.2h1.0M511.3 105.0h1.0M505.0 88.9h1.0M509.3 112.7h1.0M511.1 68.0h1.0M509.3 55.9h1.0M514.0 118.1h1.0M510.0 97.4h1.0M509.3 67.8h1.0M513.1 68.9h1.0M508.8 98.6h1.0M512.0 104.3h1.0M506.1 88.4h1.0M519.5 98.3h1.0M509.9 118.0h1.0M511.4 91.8h1.0M513.3 98.8h1.0M515.9 98.9h1.0M506.9 107.4h1.0M513.0 87.4h1.0M510.0 103.0h1.0M510.5 51.8h1.0M509.3 84.8h1.0M512.9 73.9h1.0M511.8 72.7h1.0M512.8 106.2h1.0M513.0 67.2h1.0M508.1 72.2h1.0M510.8 87.1h1.0M514.4 68.8h1.0M524.4 96.9h1.0M506.9 103.7h1.0M513.9 101.3h1.0M512.1 74.2h1.0M513.5 86.6h1.0M512.2 91.5h1.0M506.7 69.2h1.0M509.6 111.5h1.0M518.1 117.8h1.0M507.2 87.4h1.0M513.5 81.2h1.0M517.8 69.2h1.0M513.1 94.1h1.0M515.4 83.4h1.0M517.2 99.0h1.0M511.2 109.1h1.0M512.4 70.9h1.0M510.4 60.0h1.0M514.1 109.5h1.0M503.1 85.7h1.0M512.4 84.4h1.0M511.5 81.1h1.0M506.2 95.3h1.0M520.2 100.9h1.0M516.2 98.0h1.0M518.4 102.6h1.0M509.8 88.2h1.0M517.6 110.1h1.0M509.0 93.3h1.0M508.3 89.0h1.0M500.8 65.7h1.0M513.0 90.8h1.0M524.2 100.5h1.0M501.6 86.3h1.0M511.3 115.0h1.0M507.6 101.2h1.0M509.2 91.0h1.0M507.0 85.5h1.0M512.6 105.9h1.0M511.0 73.0h1.0M508.6 101.4h1.0M512.2 53.5h1.0M510.0 58.7h1.0M509.8 98.5h1.0M513.2 117.4h1.0M510.8 86.4h1.0M512.2 67.4h1.0M515.1 91.7h1.0M515.2 66.5h1.0M516.9 95.7h1.0M516.4 90.5h1.0M511.4 97.4h1.0M511.9 113.3h1.0M510.1 105.5h1.0M509.8 67.1h1.0M518.0 93.4h1.0M511.4 79.9h1.0M508.1 81.4h1.0M511.0 107.2h1.0M509.4 116.3h1.0M510.6 108.5h1.0M512.4 117.8h1.0M513.7 104.6h1.0M514.0 89.0h1.0M505.0 97.8h1.0M511.8 105.0h1.0M515.7 74.2h1.0M512.8 102.5h1.0M509.3 63.8h1.0M512.3 108.7h1.0M512.4 105.6h1.0M508.3 105.6h1.0M510.5 106.6h1.0M504.8 109.1h1.0M520.5 55.3h1.0M511.4 110.3h1.0M510.7 61.4h1.0M518.4 101.9h1.0M511.8 110.9h1.0M511.7 99.0h1.0M510.4 93.1h1.0M507.7 83.7h1.0M524.1 55.6h1.0M509.4 90.7h1.0M517.6 86.4h1.0M515.5 81.9h1.0M512.6 106.4h1.0M511.5 95.5h1.0M508.4 75.6h1.0M502.4 106.5h1.0M511.6 107.8h1.0M516.4 83.1h1.0M511.0 89.1h1.0M512.7 105.0h1.0M513.9 100.0h1.0M514.1 106.6h1.0M513.1 107.8h1.0M512.4 86.3h1.0M512.9 114.6h1.0M508.7 100.9h1.0M515.6 70.4h1.0M511.6 72.3h1.0M507.8 105.3h1.0M513.7 103.2h1.0M510.8 102.7h1.0M515.5 97.1h1.0M510.7 105.7h1.0M512.0 98.1h1.0M506.4 104.9h1.0M511.3 88.7h1.0M509.6 97.1h1.0M512.4 100.9h1.0M512.4 111.7h1.0M512.6 113.7h1.0M513.3 76.6h1.0M511.2 103.4h1.0M511.9 110.3h1.0M508.5 99.2h1.0M507.9 88.2h1.0M526.4 55.6h1.0M510.1 104.3h1.0M524.6 54.5h1.0M523.7 97.4h1.0M507.9 111.4h1.0M511.9 59.8h1.0M513.0 113.6h1.0M514.6 114.2h1.0M515.7 108.0h1.0M511.5 57.9h1.0M512.6 113.2h1.0M509.2 106.5h1.0M512.9 98.7h1.0M514.6 63.2h1.0M514.4 60.5h1.0M514.0 75.6h1.0M511.0 97.7h1.0M517.1 77.8h1.0M519.3 63.5h1.0M503.4 83.2h1.0M508.7 72.1h1.0M510.7 100.4h1.0M515.6 116.3h1.0M514.9 95.3h1.0M514.0 68.1h1.0M513.1 107.0h1.0M506.7 109.7h1.0M514.1 95.1h1.0M515.6 101.5h1.0M514.2 119.3h1.0M507.8 73.1h1.0M513.0 79.2h1.0M515.0 56.8h1.0M510.9 117.8h1.0M506.0 110.0h1.0M511.5 96.3h1.0M509.8 78.0h1.0M515.8 103.4h1.0M509.7 110.6h1.0M508.8 110.1h1.0M511.9 98.3h1.0M520.9 99.6h1.0M520.5 63.0h1.0M516.7 95.0h1.0M512.2 94.6h1.0M520.6 59.9h1.0M515.0 90.8h1.0M511.9 114.9h1.0M512.2 117.0h1.0M510.7 95.5h1.0M506.4 104.0h1.0M510.1 84.2h1.0M507.7 89.7h1.0M521.8 102.8h1.0M516.9 116.9h1.0M512.9 101.6h1.0M510.2 80.5h1.0M511.3 89.3h1.0M508.0 109.5h1.0M508.9 114.2h1.0M523.1 85.4h1.0M508.5 53.1h1.0M510.7 64.3h1.0M511.6 75.2h1.0M507.6 116.6h1.0M519.5 78.5h1.0M508.4 102.8h1.0M524.2 64.2h1.0M510.3 100.1h1.0M518.3 98.8h1.0M511.6 80.8h1.0M515.8 114.9h1.0M511.6 96.4h1.0M514.5 108.1h1.0M514.5 84.9h1.0M510.8 103.2h1.0M511.1 97.7h1.0M516.3 68.3h1.0M511.8 90.6h1.0M512.1 71.4h1.0M506.2 75.6h1.0M507.5 103.9h1.0M501.1 77.2h1.0M511.2 61.3h1.0M510.0 75.8h1.0M508.5 78.7h1.0M511.7 107.5h1.0M509.7 91.5h1.0M513.5 113.6h1.0M511.0 91.9h1.0M512.8 112.5h1.0M511.4 69.0h1.0M509.7 94.2h1.0M516.8 97.3h1.0M508.2 77.6h1.0M510.1 88.5h1.0M510.0 102.5h1.0M512.0 84.2h1.0M518.7 92.8h1.0M512.1 98.0h1.0M525.8 72.1h1.0M506.7 84.4h1.0M512.4 93.5h1.0M515.6 53.0h1.0M512.6 86.3h1.0M512.1 85.7h1.0M509.1 94.8h1.0M510.8 98.0h1.0M511.9 95.5h1.0M511.7 102.7h1.0M511.0 65.3h1.0M512.5 112.1h1.0M509.3 58.4h1.0M509.6 80.6h1.0M505.1 106.1h1.0M508.1 110.4h1.0M513.6 100.7h1.0M512.6 97.3h1.0M513.5 60.4h1.0M522.0 90.9h1.0M510.5 91.2h1.0M514.9 58.2h1.0M511.1 81.8h1.0M517.3 76.2h1.0M509.7 103.5h1.0M512.2 89.7h1.0M511.2 109.2h1.0M507.4 105.8h1.0M511.1 84.9h1.0M511.9 106.5h1.0M514.1 90.5h1.0M517.8 98.7h1.0M514.0 106.3h1.0M508.8 118.4h1.0M513.5 101.3h1.0M513.2 95.4h1.0M513.8 98.1h1.0M504.1 86.8h1.0M522.8 54.1h1.0M525.4 69.0h1.0M509.4 97.2h1.0M516.4 79.1h1.0M513.5 105.5h1.0M500.2 66.3h1.0M514.3 107.8h1.0M515.9 101.3h1.0M522.6 72.4h1.0M522.0 55.4h1.0M509.8 119.3h1.0M516.5 59.0h1.0M516.3 114.0h1.0M506.9 76.9h1.0M509.8 98.5h1.0M513.8 104.9h1.0M507.8 88.8h1.0M509.6 78.5h1.0M511.2 99.3h1.0M513.9 104.0h1.0M514.1 109.8h1.0M513.3 75.5h1.0M510.1 72.0h1.0M511.7 95.1h1.0M508.5 92.1h1.0M507.5 87.2h1.0M512.3 113.1h1.0M515.1 102.3h1.0M508.2 86.6h1.0M516.0 99.5h1.0M511.4 110.6h1.0M509.3 118.3h1.0M515.9 93.0h1.0M508.7 94.7h1.0M507.9 103.7h1.0M507.5 115.9h1.0M517.0 80.8h1.0M519.8 79.4h1.0M512.8 116.8h1.0M515.9 104.7h1.0M508.8 108.4h1.0M511.1 96.5h1.0M512.0 87.0h1.0M509.9 84.5h1.0M511.7 76.1h1.0M512.4 90.0h1.0M513.9 83.3h1.0M508.5 92.1h1.0M513.1 71.7h1.0M508.8 90.7h1.0M512.2 87.6h1.0M512.3 100.2h1.0M514.2 63.4h1.0M522.4 59.9h1.0M516.4 83.2h1.0M512.3 83.1h1.0M506.7 96.9h1.0M513.5 104.8h1.0M515.6 100.7h1.0M518.1 93.7h1.0M523.5 60.7h1.0M506.9 105.5h1.0M512.6 102.1h1.0M520.4 60.9h1.0M513.4 94.8h1.0M517.3 75.0h1.0M522.7 79.5h1.0M514.2 99.3h1.0M513.4 111.1h1.0M506.1 113.6h1.0M517.7 72.6h1.0M509.1 61.9h1.0M516.2 102.7h1.0M519.4 80.3h1.0M512.7 92.2h1.0M514.3 82.1h1.0M514.9 97.0h1.0M511.5 76.7h1.0M515.1 52.2h1.0M520.4 92.6h1.0M510.2 72.9h1.0M504.1 103.6h1.0M508.5 89.9h1.0M524.7 62.3h1.0M508.1 102.5h1.0M511.8 111.5h1.0M511.2 101.7h1.0M515.3 99.9h1.0M510.9 75.4h1.0M509.6 106.9h1.0M515.4 103.3h1.0M519.2 74.8h1.0M511.0 97.0h1.0M511.4 51.2h1.0M512.7 117.1h1.0M510.9 109.5h1.0M505.5 105.2h1.0M512.5 71.7h1.0M512.5 89.9h1.0M513.3 68.1h1.0M506.8 100.1h1.0M513.2 71.2h1.0M513.9 116.4h1.0M509.8 91.0h1.0M523.8 63.1h1.0M515.7 103.1h1.0M512.9 109.4h1.0M507.4 100.8h1.0M512.6 55.5h1.0M516.1 56.9h1.0M520.3 83.4h1.0M525.4 55.5h1.0M510.4 102.4h1.0M510.1 79.9h1.0M506.4 89.6h1.0M521.7 105.2h1.0M506.2 108.8h1.0M512.2 84.8h1.0M519.4 94.5h1.0M513.2 95.6h1.0M511.4 99.1h1.0M514.5 105.8h1.0M513.8 60.0h1.0M512.0 87.2h1.0M513.5 110.2h1.0M509.4 93.1h1.0M508.5 101.3h1.0M508.8 97.8h1.0M503.8 72.7h1.0M507.5 55.9h1.0M511.4 91.7h1.0M517.5 107.7h1.0M516.3 76.5h1.0M511.5 117.8h1.0M526.5 85.0h1.0M508.3 95.1h1.0M510.7 100.3h1.0M511.0 115.6h1.0M515.1 102.5h1.0M515.8 113.9h1.0M511.0 74.7h1.0M523.2 101.3h1.0M512.2 65.1h1.0M518.3 77.9h1.0M512.1 75.2h1.0M518.6 52.0h1.0M519.6 53.5h1.0M523.0 84.5h1.0M508.1 92.4h1.0M511.2 93.7h1.0M514.1 86.4h1.0M516.8 95.2h1.0M513.5 103.6h1.0M512.6 96.4h1.0M511.7 68.3h1.0M504.6 107.1h1.0M514.8 115.5h1.0M523.0 54.1h1.0M517.4 78.9h1.0M513.4 85.6h1.0M509.8 100.4h1.0M508.8 99.5h1.0M512.1 99.4h1.0M512.7 118.2h1.0M511.8 82.1h1.0M507.8 103.4h1.0M513.6 67.7h1.0M512.8 56.7h1.0M512.2 89.0h1.0M508.5 101.6h1.0M511.9 81.4h1.0M511.2 107.5h1.0M511.6 75.1h1.0M511.6 76.5h1.0M521.9 68.2h1.0M508.5 114.9h1.0M512.6 93.1h1.0M511.7 65.9h1.0M509.1 93.8h1.0M513.8 93.1h1.0M513.6 98.5h1.0M524.7 66.5h1.0M512.2 77.0h1.0M515.4 90.5h1.0M513.6 104.6h1.0M507.3 86.9h1.0M514.3 101.8h1.0M513.7 108.6h1.0M509.2 111.2h1.0M515.0 65.6h1.0M513.1 90.6h1.0M510.1 94.6h1.0M521.1 67.4h1.0M508.8 66.5h1.0M513.8 81.9h1.0M514.2 116.7h1.0M503.2 79.6h1.0M522.0 54.4h1.0M515.4 100.2h1.0M513.9 110.3h1.0M522.3 64.2h1.0M511.2 99.8h1.0M509.9 91.1h1.0M511.8 112.6h1.0M509.0 74.5h1.0M516.0 97.8h1.0M509.7 96.5h1.0M516.3 101.0h1.0M523.2 63.3h1.0M512.3 71.1h1.0M516.7 101.2h1.0M513.2 99.6h1.0M514.9 78.6h1.0M512.9 69.4h1.0M509.4 108.9h1.0M507.1 119.2h1.0M521.4 88.7h1.0M512.9 69.2h1.0M514.0 52.0h1.0M514.4 100.6h1.0M513.7 96.6h1.0M513.3 92.3h1.0M510.2 63.8h1.0M515.0 88.1h1.0M510.6 104.1h1.0M502.8 104.9h1.0M512.3 104.8h1.0M511.7 85.3h1.0M515.8 80.0h1.0M517.7 78.5h1.0M507.7 88.7h1.0M514.7 104.0h1.0M524.1 57.4h1.0M513.2 103.0h1.0M509.8 101.1h1.0M512.1 75.7h1.0M517.6 113.5h1.0M510.4 92.6h1.0M510.3 91.5h1.0M517.7 57.7h1.0M506.5 112.2h1.0M519.6 88.7h1.0M511.1 54.9h1.0" stroke="#9a2c9a" stroke-width="1.0" stroke-opacity="0.44" fill="none"/>
<ellipse cx="511.3" cy="112.9" rx="5.0" ry="6.4" fill="#7d0a80" transform="rotate(0 511.3 112.9)" filter="url(#b5)"/>
<path d="M507.3 113.7h1.0M509.6 112.5h1.0M510.2 111.7h1.0M510.6 110.9h1.0M509.7 110.4h1.0M510.7 119.5h1.0M509.3 112.9h1.0M512.3 109.3h1.0M509.7 107.3h1.0M512.3 114.3h1.0M508.9 107.4h1.0M510.8 111.0h1.0M513.5 113.9h1.0M512.9 109.6h1.0M510.9 115.1h1.0M512.4 118.9h1.0M510.2 117.5h1.0M510.3 109.7h1.0M509.1 112.2h1.0M507.5 103.2h1.0M510.6 114.8h1.0M509.4 103.1h1.0M513.3 112.4h1.0M513.6 120.3h1.0M515.4 111.2h1.0M512.6 106.9h1.0M509.4 108.3h1.0M510.6 116.5h1.0M510.4 111.6h1.0M513.1 110.7h1.0M510.9 105.9h1.0M512.7 114.0h1.0M513.0 111.4h1.0M509.0 106.0h1.0M515.2 109.5h1.0M507.2 107.5h1.0M515.0 113.3h1.0M512.6 112.1h1.0M515.0 112.6h1.0M510.5 111.3h1.0M515.3 111.8h1.0M506.7 110.7h1.0M513.2 119.8h1.0M511.6 118.4h1.0M511.7 115.0h1.0M504.4 115.2h1.0M510.9 107.5h1.0M515.4 113.3h1.0M514.0 110.2h1.0M511.3 113.5h1.0M509.2 111.1h1.0M512.1 109.8h1.0M509.8 113.9h1.0M510.4 109.6h1.0M511.7 111.3h1.0M501.8 113.5h1.0M513.2 111.5h1.0M509.0 115.1h1.0M507.5 109.6h1.0M512.5 108.3h1.0M510.8 107.8h1.0M511.7 112.3h1.0M508.5 118.3h1.0M509.0 108.7h1.0M511.9 116.2h1.0M510.8 107.8h1.0M510.9 113.7h1.0M506.5 111.2h1.0M512.1 111.4h1.0M514.0 108.9h1.0M516.6 110.3h1.0M510.7 112.6h1.0M511.4 106.8h1.0M509.5 114.7h1.0M507.2 112.7h1.0M511.9 109.0h1.0M508.2 108.0h1.0M509.2 113.9h1.0M512.1 110.7h1.0M513.0 109.9h1.0M511.8 116.5h1.0M511.0 112.3h1.0M505.7 110.8h1.0M510.2 115.1h1.0M507.7 115.7h1.0M513.4 109.4h1.0M508.3 106.6h1.0M512.7 121.1h1.0M507.8 114.0h1.0M510.6 111.0h1.0M511.0 119.1h1.0M512.2 118.9h1.0M506.5 117.5h1.0M513.3 110.5h1.0M507.5 114.0h1.0M511.0 110.9h1.0M509.6 112.2h1.0M509.3 118.4h1.0M508.8 108.0h1.0M510.5 113.5h1.0M511.4 109.7h1.0M515.9 114.6h1.0M511.5 112.5h1.0M506.4 115.5h1.0M509.7 111.5h1.0M504.5 112.0h1.0M510.8 107.1h1.0M507.7 110.2h1.0M511.1 112.7h1.0M512.8 109.1h1.0M511.3 120.3h1.0M509.8 112.6h1.0M512.3 112.3h1.0M507.5 109.6h1.0M510.8 116.1h1.0M508.0 110.7h1.0M507.2 113.0h1.0M510.2 112.9h1.0M514.5 111.2h1.0M511.9 115.8h1.0M511.6 118.6h1.0M506.4 106.7h1.0M501.9 114.8h1.0M516.8 111.5h1.0M511.7 116.3h1.0M508.6 108.0h1.0M508.6 112.2h1.0M510.8 114.7h1.0M511.4 109.8h1.0M510.3 113.1h1.0M512.2 109.1h1.0M505.6 111.4h1.0M507.8 113.7h1.0M512.7 106.6h1.0M508.5 107.7h1.0M508.6 118.4h1.0M508.9 110.6h1.0M514.6 110.3h1.0M513.6 114.0h1.0M507.4 120.7h1.0M509.9 115.0h1.0M509.8 117.9h1.0M513.2 109.1h1.0M508.3 111.3h1.0M512.7 107.7h1.0M513.6 116.4h1.0M512.4 114.0h1.0M512.5 111.4h1.0M518.0 107.4h1.0M511.3 111.3h1.0M512.3 112.8h1.0M507.4 110.5h1.0M517.4 112.3h1.0M514.1 109.8h1.0M517.1 112.7h1.0M510.2 110.4h1.0M512.4 115.2h1.0M509.2 106.2h1.0M504.6 116.1h1.0M508.0 110.0h1.0M508.0 115.2h1.0M513.2 115.8h1.0M511.4 115.4h1.0M509.9 115.3h1.0M512.8 110.3h1.0M511.0 116.9h1.0M512.9 116.1h1.0M508.3 115.0h1.0M509.3 109.8h1.0M512.9 112.3h1.0M510.0 114.7h1.0M517.2 110.7h1.0M512.9 110.7h1.0M510.8 112.7h1.0M508.8 107.4h1.0M515.0 115.3h1.0M507.4 115.6h1.0M513.7 111.1h1.0M517.1 106.5h1.0M510.3 120.9h1.0M511.9 113.9h1.0M511.0 115.9h1.0M511.4 111.8h1.0M511.6 115.9h1.0M508.5 115.9h1.0M513.1 113.7h1.0M510.7 120.1h1.0M511.3 107.8h1.0M511.6 114.7h1.0M510.4 107.1h1.0M513.0 115.4h1.0M508.9 113.8h1.0M508.5 109.8h1.0M514.6 113.9h1.0M514.4 112.3h1.0M506.6 119.3h1.0M510.5 115.7h1.0M511.4 119.8h1.0M509.3 114.9h1.0M510.1 112.8h1.0M510.1 117.3h1.0M514.5 117.3h1.0M510.0 114.6h1.0M510.9 115.3h1.0M510.4 112.1h1.0M513.9 116.7h1.0M505.5 113.0h1.0M507.6 121.1h1.0M506.0 117.2h1.0M511.7 116.5h1.0M511.4 108.4h1.0M514.0 111.8h1.0M514.0 105.0h1.0M510.4 110.8h1.0M511.9 116.6h1.0M511.6 108.6h1.0M512.4 114.9h1.0M509.1 113.3h1.0M512.3 120.2h1.0M514.0 115.4h1.0M511.0 115.3h1.0M515.7 115.0h1.0M510.7 108.0h1.0M507.2 107.8h1.0M509.2 110.6h1.0M509.5 113.4h1.0M505.7 110.8h1.0M514.7 114.6h1.0M510.2 121.2h1.0M503.2 117.8h1.0M509.4 111.5h1.0M505.5 108.3h1.0M515.3 111.5h1.0M512.6 119.6h1.0M511.4 110.4h1.0M512.7 107.8h1.0M508.7 115.5h1.0M515.5 113.3h1.0M513.4 113.3h1.0M512.7 113.3h1.0M514.4 110.8h1.0M509.5 106.1h1.0M510.7 117.0h1.0M511.7 112.9h1.0M509.7 109.1h1.0M511.0 112.7h1.0M509.7 108.7h1.0M516.5 108.3h1.0M515.0 113.5h1.0M510.8 110.6h1.0M514.6 105.3h1.0M512.7 113.7h1.0M507.1 115.0h1.0M511.1 108.7h1.0M511.6 106.5h1.0M510.8 111.5h1.0M508.9 111.9h1.0M506.1 113.4h1.0M507.2 119.2h1.0M510.8 114.8h1.0M514.4 113.2h1.0M504.2 103.5h1.0M513.7 107.3h1.0M511.5 114.7h1.0M510.4 119.7h1.0M507.6 106.9h1.0M511.3 114.8h1.0M511.1 110.2h1.0M512.8 114.6h1.0M517.8 114.8h1.0M511.3 108.1h1.0M509.4 115.6h1.0M510.0 115.4h1.0M507.3 111.2h1.0M511.0 112.1h1.0M514.6 116.2h1.0M511.8 111.0h1.0M508.8 114.8h1.0M506.8 112.6h1.0M507.7 111.5h1.0M512.8 112.9h1.0M509.0 113.8h1.0M511.3 115.5h1.0M510.7 116.9h1.0M505.5 109.3h1.0M511.6 115.7h1.0M507.9 116.9h1.0M513.2 117.4h1.0M510.4 120.7h1.0M510.8 113.7h1.0M510.9 115.9h1.0M508.3 114.9h1.0M513.5 103.7h1.0M508.7 117.0h1.0M514.7 111.5h1.0M512.7 113.8h1.0M514.0 112.3h1.0M508.5 115.0h1.0M511.5 112.1h1.0M514.1 112.9h1.0" stroke="#7d0a80" stroke-width="1.0" stroke-opacity="0.5" fill="none"/>
<rect x="299" y="173" width="102" height="94.69999999999999" fill="none" stroke="#c4c4c4" stroke-width="1"/>
<line x1="299" y1="173" x2="299" y2="267.7" stroke="#777" stroke-width="1.1"/>
<line x1="298.5" y1="267.7" x2="401" y2="267.7" stroke="#3a3a3a" stroke-width="1.45"/>
<line x1="297" y1="181.3" x2="299" y2="181.3" stroke="#555" stroke-width="0.8"/>
<text x="294.7" y="183.0" font-size="5" font-weight="bold" text-anchor="end" fill="#666">10<tspan font-size="3.4" dy="-2">5</tspan></text>
<line x1="297" y1="202.4" x2="299" y2="202.4" stroke="#555" stroke-width="0.8"/>
<text x="294.7" y="204.1" font-size="5" font-weight="bold" text-anchor="end" fill="#666">10<tspan font-size="3.4" dy="-2">4</tspan></text>
<line x1="297" y1="224.5" x2="299" y2="224.5" stroke="#555" stroke-width="0.8"/>
<text x="294.7" y="226.2" font-size="5" font-weight="bold" text-anchor="end" fill="#666">10<tspan font-size="3.4" dy="-2">3</tspan></text>
<line x1="297" y1="247.1" x2="299" y2="247.1" stroke="#555" stroke-width="0.8"/>
<text x="294.7" y="248.8" font-size="5" font-weight="bold" text-anchor="end" fill="#666">10<tspan font-size="3.4" dy="-2">2</tspan></text>
<line x1="297" y1="258.1" x2="299" y2="258.1" stroke="#222" stroke-width="1.3"/>
<text x="295" y="259.9" font-size="5.2" font-weight="bold" text-anchor="end" fill="#666">0</text>
<line x1="297.8" y1="265.7" x2="299" y2="265.7" stroke="#777" stroke-width="0.6"/>
<line x1="297.8" y1="262.7" x2="299" y2="262.7" stroke="#777" stroke-width="0.6"/>
<line x1="297.8" y1="254.7" x2="299" y2="254.7" stroke="#777" stroke-width="0.6"/>
<line x1="297.8" y1="237.7" x2="299" y2="237.7" stroke="#777" stroke-width="0.6"/>
<line x1="297.8" y1="232.7" x2="299" y2="232.7" stroke="#777" stroke-width="0.6"/>
<line x1="297.8" y1="229.7" x2="299" y2="229.7" stroke="#777" stroke-width="0.6"/>
<line x1="297.8" y1="227.7" x2="299" y2="227.7" stroke="#777" stroke-width="0.6"/>
<line x1="297.8" y1="215.7" x2="299" y2="215.7" stroke="#777" stroke-width="0.6"/>
<line x1="297.8" y1="210.7" x2="299" y2="210.7" stroke="#777" stroke-width="0.6"/>
<line x1="297.8" y1="207.7" x2="299" y2="207.7" stroke="#777" stroke-width="0.6"/>
<line x1="297.8" y1="205.7" x2="299" y2="205.7" stroke="#777" stroke-width="0.6"/>
<line x1="297.8" y1="194.7" x2="299" y2="194.7" stroke="#777" stroke-width="0.6"/>
<line x1="297.8" y1="188.7" x2="299" y2="188.7" stroke="#777" stroke-width="0.6"/>
<line x1="297.8" y1="185.7" x2="299" y2="185.7" stroke="#777" stroke-width="0.6"/>
<line x1="297.8" y1="183.7" x2="299" y2="183.7" stroke="#777" stroke-width="0.6"/>
<line x1="320.5" y1="267.7" x2="320.5" y2="269.7" stroke="#555" stroke-width="0.8"/>
<text x="317.3" y="277.3" font-size="5" font-weight="bold" fill="#666">10<tspan font-size="3.4" dy="-2">2</tspan></text>
<line x1="344.6" y1="267.7" x2="344.6" y2="269.7" stroke="#555" stroke-width="0.8"/>
<text x="341.4" y="277.3" font-size="5" font-weight="bold" fill="#666">10<tspan font-size="3.4" dy="-2">3</tspan></text>
<line x1="368.0" y1="267.7" x2="368.0" y2="269.7" stroke="#555" stroke-width="0.8"/>
<text x="364.8" y="277.3" font-size="5" font-weight="bold" fill="#666">10<tspan font-size="3.4" dy="-2">4</tspan></text>
<line x1="391.0" y1="267.7" x2="391.0" y2="269.7" stroke="#555" stroke-width="0.8"/>
<text x="387.8" y="277.3" font-size="5" font-weight="bold" fill="#666">10<tspan font-size="3.4" dy="-2">5</tspan></text>
<line x1="309.8" y1="267.7" x2="309.8" y2="269.7" stroke="#222" stroke-width="1.3"/>
<text x="309.8" y="277.3" font-size="5.2" font-weight="bold" text-anchor="middle" fill="#666">0</text>
<line x1="301.0" y1="267.7" x2="301.0" y2="268.9" stroke="#777" stroke-width="0.6"/>
<line x1="304.0" y1="267.7" x2="304.0" y2="268.9" stroke="#777" stroke-width="0.6"/>
<line x1="314.0" y1="267.7" x2="314.0" y2="268.9" stroke="#777" stroke-width="0.6"/>
<line x1="317.0" y1="267.7" x2="317.0" y2="268.9" stroke="#777" stroke-width="0.6"/>
<line x1="329.0" y1="267.7" x2="329.0" y2="268.9" stroke="#777" stroke-width="0.6"/>
<line x1="335.0" y1="267.7" x2="335.0" y2="268.9" stroke="#777" stroke-width="0.6"/>
<line x1="339.0" y1="267.7" x2="339.0" y2="268.9" stroke="#777" stroke-width="0.6"/>
<line x1="342.0" y1="267.7" x2="342.0" y2="268.9" stroke="#777" stroke-width="0.6"/>
<line x1="353.0" y1="267.7" x2="353.0" y2="268.9" stroke="#777" stroke-width="0.6"/>
<line x1="359.0" y1="267.7" x2="359.0" y2="268.9" stroke="#777" stroke-width="0.6"/>
<line x1="363.0" y1="267.7" x2="363.0" y2="268.9" stroke="#777" stroke-width="0.6"/>
<line x1="366.0" y1="267.7" x2="366.0" y2="268.9" stroke="#777" stroke-width="0.6"/>
<line x1="376.0" y1="267.7" x2="376.0" y2="268.9" stroke="#777" stroke-width="0.6"/>
<line x1="382.0" y1="267.7" x2="382.0" y2="268.9" stroke="#777" stroke-width="0.6"/>
<line x1="386.0" y1="267.7" x2="386.0" y2="268.9" stroke="#777" stroke-width="0.6"/>
<line x1="389.0" y1="267.7" x2="389.0" y2="268.9" stroke="#777" stroke-width="0.6"/>
<line x1="399.0" y1="267.7" x2="399.0" y2="268.9" stroke="#777" stroke-width="0.6"/>
<text x="299.8" y="169.7" font-size="11.85" text-anchor="start" font-weight="normal" fill="#222" class="t">T cell + αCD3/28</text>
<path d="M380.7 240.0h1.0M338.6 202.2h1.0M333.5 207.4h1.0M345.2 200.9h1.0M367.1 200.4h1.0M346.8 206.1h1.0M346.5 233.6h1.0M335.9 211.7h1.0M332.4 202.5h1.0M346.3 215.7h1.0M328.0 211.5h1.0M363.1 234.0h1.0M349.2 220.6h1.0M323.4 209.8h1.0M357.0 201.1h1.0M375.1 242.1h1.0M323.7 189.1h1.0M374.8 244.6h1.0M348.3 202.8h1.0M333.9 217.1h1.0M362.8 215.1h1.0M381.7 242.7h1.0M339.9 210.4h1.0M331.7 201.0h1.0M336.5 202.8h1.0M381.5 236.8h1.0M352.3 196.1h1.0M338.6 205.6h1.0M373.8 216.5h1.0M344.6 210.0h1.0M342.7 206.0h1.0M338.3 199.9h1.0M366.0 206.2h1.0M325.9 251.0h1.0M357.0 234.3h1.0M354.9 228.4h1.0M341.9 190.8h1.0M348.0 210.5h1.0M344.4 203.4h1.0M339.3 213.7h1.0M353.4 216.4h1.0M353.2 200.1h1.0M374.6 199.8h1.0M360.8 200.8h1.0M342.7 200.0h1.0M375.4 224.5h1.0M351.3 202.6h1.0M337.7 199.9h1.0M343.9 216.4h1.0M375.3 227.6h1.0M366.5 225.6h1.0M374.3 223.8h1.0M322.6 212.0h1.0M352.6 190.3h1.0M367.7 208.9h1.0M362.5 202.4h1.0M322.7 213.1h1.0M338.4 208.3h1.0M361.7 191.8h1.0M372.2 209.2h1.0M367.3 214.5h1.0M384.9 233.7h1.0M379.1 222.3h1.0M354.0 201.7h1.0M346.8 191.1h1.0M374.4 226.7h1.0M362.8 215.5h1.0M329.2 210.1h1.0M366.2 209.6h1.0M327.8 195.2h1.0M328.2 245.4h1.0M336.4 200.8h1.0M384.3 247.3h1.0M323.9 213.9h1.0M355.5 189.7h1.0M347.8 210.8h1.0M338.1 205.2h1.0M323.1 209.0h1.0M370.4 226.5h1.0M353.0 213.4h1.0M335.3 198.5h1.0M377.2 232.4h1.0M338.8 212.3h1.0M335.1 200.1h1.0M364.9 216.8h1.0M361.0 216.0h1.0M339.5 207.0h1.0M358.1 198.6h1.0M346.9 204.8h1.0M343.5 203.0h1.0M346.2 239.5h1.0M323.3 196.5h1.0M332.3 214.2h1.0M350.4 228.7h1.0M333.3 193.7h1.0M347.1 208.5h1.0M327.8 210.0h1.0M334.3 206.3h1.0M381.4 228.8h1.0M378.6 216.9h1.0M325.4 214.2h1.0M377.5 204.7h1.0M375.1 238.1h1.0M352.7 237.6h1.0M373.2 215.9h1.0M373.1 222.2h1.0M363.0 223.7h1.0M358.9 209.1h1.0M349.8 200.2h1.0M374.7 247.2h1.0M355.4 220.9h1.0M344.4 213.5h1.0M363.8 229.9h1.0M354.1 211.6h1.0M339.8 206.4h1.0M374.0 222.4h1.0M330.3 197.3h1.0M375.5 228.4h1.0M370.0 196.4h1.0M326.1 206.4h1.0M364.4 198.5h1.0M372.0 207.6h1.0M356.1 203.1h1.0M323.7 201.3h1.0M351.6 203.8h1.0M337.2 230.2h1.0M366.8 212.4h1.0M377.7 214.4h1.0M361.0 207.2h1.0M370.8 204.0h1.0M373.0 224.6h1.0M345.0 203.1h1.0M380.6 215.9h1.0M361.1 206.1h1.0M359.8 198.7h1.0M330.6 257.9h1.0M352.8 252.4h1.0M368.4 204.2h1.0M351.2 209.6h1.0M340.5 211.7h1.0M324.4 201.2h1.0M369.4 208.8h1.0M364.3 191.3h1.0M345.1 192.1h1.0M383.9 237.3h1.0M365.1 228.6h1.0M344.6 229.0h1.0M347.6 221.4h1.0M371.8 204.4h1.0M330.6 204.8h1.0M364.5 208.0h1.0M360.0 220.6h1.0M372.7 201.7h1.0M365.5 220.8h1.0M343.1 198.7h1.0M325.3 210.3h1.0M322.0 205.6h1.0M345.4 224.4h1.0M347.1 206.1h1.0M375.5 203.1h1.0M344.6 194.1h1.0M375.0 199.8h1.0M357.0 212.2h1.0M342.6 198.1h1.0M364.1 193.0h1.0M340.1 203.0h1.0M335.8 214.7h1.0M340.7 221.2h1.0M337.6 206.2h1.0M344.1 216.3h1.0M377.6 215.4h1.0M358.9 238.9h1.0M351.4 198.0h1.0M368.8 225.3h1.0M341.0 192.5h1.0M352.5 210.7h1.0M341.9 203.5h1.0M321.7 214.4h1.0M353.1 206.2h1.0M371.5 215.2h1.0M374.9 199.3h1.0M360.9 223.1h1.0M360.1 214.6h1.0M325.9 201.8h1.0M355.2 199.6h1.0M337.5 197.7h1.0M338.7 199.7h1.0M351.8 191.5h1.0M374.9 221.9h1.0M334.3 215.6h1.0M329.7 210.3h1.0M380.9 217.5h1.0M359.8 212.6h1.0M326.8 203.8h1.0M355.1 214.8h1.0M361.0 224.0h1.0M374.1 210.4h1.0M382.1 244.5h1.0M374.7 231.3h1.0M350.2 243.5h1.0M350.4 224.5h1.0M344.0 211.3h1.0M374.1 221.6h1.0M383.5 228.7h1.0M366.0 218.7h1.0M351.6 210.5h1.0M334.4 209.7h1.0M324.7 191.1h1.0M350.9 194.7h1.0M359.1 199.5h1.0M358.6 218.2h1.0M387.7 194.5h1.0M362.6 224.7h1.0M337.1 202.8h1.0M339.1 217.1h1.0M334.7 199.3h1.0M371.4 226.6h1.0M375.0 219.1h1.0M384.7 242.5h1.0M337.2 209.6h1.0M321.1 198.9h1.0M338.6 214.8h1.0M338.1 200.8h1.0M362.2 218.4h1.0M375.1 192.8h1.0M332.7 193.6h1.0M374.4 249.7h1.0M386.1 226.3h1.0M378.1 237.2h1.0M362.1 210.1h1.0M344.9 201.7h1.0M363.2 201.5h1.0M349.5 209.3h1.0M369.7 215.1h1.0M333.3 203.0h1.0M337.7 228.3h1.0M336.6 198.3h1.0M383.0 242.7h1.0M333.4 201.0h1.0M352.5 201.8h1.0M344.4 209.5h1.0M335.7 189.6h1.0M335.0 217.5h1.0M371.8 228.6h1.0M353.9 228.8h1.0M373.2 224.8h1.0M337.0 202.7h1.0M376.0 231.5h1.0M325.4 201.2h1.0M324.9 209.6h1.0M366.4 210.1h1.0M361.5 217.1h1.0M338.7 202.2h1.0M390.6 242.5h1.0M321.8 204.6h1.0M344.2 206.7h1.0M374.2 209.1h1.0M351.7 201.2h1.0M326.2 248.1h1.0M333.9 204.8h1.0M375.0 245.5h1.0M329.0 206.3h1.0M336.3 208.5h1.0M385.9 213.2h1.0M337.5 206.5h1.0M367.2 222.2h1.0M353.0 232.3h1.0M374.9 233.5h1.0M338.3 202.0h1.0M352.1 230.2h1.0M345.3 212.6h1.0M377.2 231.1h1.0M362.2 213.5h1.0M375.9 206.8h1.0M356.0 203.5h1.0M338.5 202.3h1.0M322.8 204.1h1.0M351.7 254.2h1.0M332.0 226.5h1.0M345.8 207.0h1.0M335.3 207.7h1.0M361.1 211.7h1.0M328.7 221.6h1.0M335.1 207.5h1.0M328.5 221.4h1.0M347.3 209.2h1.0M338.3 194.7h1.0M352.0 212.3h1.0M338.0 234.4h1.0M333.0 203.3h1.0M361.6 198.3h1.0M362.4 200.5h1.0M354.1 213.8h1.0M363.3 200.9h1.0M349.8 245.3h1.0M378.0 244.7h1.0M335.7 229.2h1.0M338.3 192.6h1.0M341.2 200.6h1.0M384.7 241.9h1.0M365.2 204.6h1.0M336.6 202.3h1.0M318.7 199.2h1.0M342.2 210.4h1.0M361.1 213.2h1.0M373.3 256.9h1.0M349.9 248.1h1.0M354.1 210.1h1.0M374.5 220.5h1.0M376.2 248.1h1.0M341.8 208.1h1.0M354.3 215.9h1.0M359.7 213.2h1.0M382.9 223.2h1.0M380.9 228.5h1.0M366.2 220.0h1.0M368.0 214.9h1.0M324.3 194.1h1.0M383.1 241.8h1.0M375.6 205.4h1.0M344.3 200.6h1.0M374.2 223.1h1.0M349.3 193.8h1.0M323.3 219.2h1.0M346.4 198.0h1.0M344.9 247.0h1.0M346.9 228.9h1.0M355.1 206.0h1.0M333.8 199.3h1.0M343.0 216.3h1.0M337.4 207.0h1.0M338.6 205.9h1.0M380.2 200.8h1.0M367.3 230.3h1.0M368.0 194.8h1.0M349.8 197.4h1.0M385.4 204.2h1.0M336.0 195.1h1.0M361.8 242.7h1.0M349.0 214.8h1.0M337.4 218.2h1.0M353.8 232.5h1.0M376.3 233.8h1.0M360.4 210.0h1.0M350.1 218.2h1.0M371.0 224.1h1.0M359.5 207.3h1.0M331.5 210.7h1.0M371.8 196.1h1.0M369.3 203.3h1.0M337.2 223.3h1.0M336.4 215.2h1.0M343.6 190.2h1.0M347.4 209.2h1.0M366.6 195.6h1.0M380.2 217.0h1.0M366.0 191.5h1.0M364.5 203.5h1.0M365.2 207.2h1.0M353.6 193.3h1.0M380.0 216.3h1.0M322.0 204.0h1.0M350.5 200.4h1.0M355.7 208.7h1.0M324.3 221.4h1.0M381.1 225.1h1.0M384.0 258.2h1.0M330.4 208.9h1.0M334.5 208.3h1.0M375.4 215.9h1.0M370.9 199.2h1.0M327.6 203.3h1.0M348.3 211.2h1.0M360.0 212.6h1.0M344.5 223.5h1.0M368.2 197.2h1.0M321.8 201.1h1.0M355.3 206.7h1.0M367.4 219.3h1.0M360.7 199.2h1.0M321.0 196.8h1.0M365.6 193.7h1.0M377.0 216.5h1.0M377.4 210.3h1.0M342.7 224.9h1.0M360.6 213.6h1.0M330.2 199.3h1.0M327.2 205.6h1.0M337.4 204.9h1.0M337.2 201.8h1.0M352.0 215.5h1.0M341.6 214.8h1.0M363.4 244.3h1.0M373.7 219.8h1.0M360.8 191.0h1.0M338.9 203.6h1.0M374.7 208.7h1.0M335.7 201.6h1.0M375.5 222.7h1.0M329.2 204.8h1.0M340.9 191.4h1.0M346.4 207.4h1.0M369.9 209.7h1.0M374.4 216.6h1.0M325.7 192.6h1.0M327.9 245.2h1.0M358.4 193.5h1.0M362.0 189.6h1.0M358.0 211.6h1.0M367.1 218.5h1.0M380.7 228.3h1.0M355.2 204.6h1.0M338.2 200.7h1.0M329.4 204.2h1.0M364.6 203.8h1.0M354.4 247.9h1.0M374.6 226.0h1.0M343.2 224.6h1.0M356.5 207.0h1.0M348.5 215.1h1.0M374.4 217.3h1.0M380.5 244.9h1.0M331.9 210.9h1.0M347.0 199.5h1.0M356.6 221.1h1.0M361.8 197.9h1.0M371.2 214.9h1.0M330.7 231.2h1.0M342.0 205.9h1.0M365.7 206.4h1.0M366.2 260.8h1.0M379.5 215.7h1.0M346.0 248.0h1.0M335.2 211.2h1.0M353.3 203.9h1.0M328.6 211.8h1.0M344.5 233.9h1.0M338.3 204.1h1.0M332.0 200.2h1.0M348.0 200.4h1.0M362.8 224.6h1.0M377.9 212.1h1.0M352.3 204.9h1.0M327.9 224.1h1.0M355.7 208.6h1.0M350.6 202.6h1.0M346.1 219.3h1.0M364.8 203.2h1.0M346.6 210.9h1.0M332.0 216.9h1.0M363.5 211.2h1.0M355.4 215.2h1.0M377.9 202.5h1.0M364.6 212.2h1.0M335.7 194.8h1.0M359.4 191.1h1.0M336.0 242.1h1.0M371.9 212.1h1.0M327.1 209.3h1.0M351.2 216.2h1.0M337.6 220.4h1.0M335.7 198.1h1.0M357.8 239.2h1.0M352.9 210.0h1.0M340.5 194.1h1.0M358.3 223.4h1.0M350.6 226.9h1.0M334.9 210.4h1.0M384.9 230.2h1.0M328.2 205.8h1.0M379.9 229.5h1.0M345.5 233.2h1.0M338.1 217.4h1.0M376.8 242.1h1.0M365.0 226.5h1.0M320.3 213.0h1.0M350.6 224.0h1.0M374.2 235.9h1.0M365.9 204.7h1.0M341.0 209.7h1.0M347.2 212.6h1.0M331.2 217.8h1.0M338.6 220.8h1.0M374.3 211.9h1.0M323.4 202.7h1.0M357.5 196.8h1.0M327.5 193.5h1.0M375.1 210.9h1.0M340.1 192.6h1.0M350.3 196.2h1.0M324.9 204.3h1.0M335.6 202.4h1.0M364.5 213.3h1.0M376.6 227.3h1.0M365.5 200.3h1.0M350.1 220.7h1.0M361.5 231.6h1.0M345.9 212.6h1.0M343.2 221.9h1.0M331.0 209.9h1.0M344.2 195.9h1.0M340.1 214.3h1.0M348.3 206.8h1.0M347.6 219.9h1.0M354.9 200.0h1.0M376.1 220.0h1.0M344.0 213.8h1.0M360.5 227.5h1.0M336.6 236.2h1.0M333.8 210.5h1.0M343.0 214.7h1.0M327.2 203.8h1.0M378.2 222.6h1.0M362.0 219.4h1.0M348.5 228.4h1.0M334.5 210.4h1.0M350.1 208.8h1.0M373.8 236.0h1.0M364.5 212.1h1.0M380.4 219.2h1.0M334.2 192.0h1.0M378.6 223.1h1.0M383.2 225.1h1.0M369.1 209.8h1.0M329.7 208.4h1.0M337.3 206.0h1.0M346.9 242.6h1.0M373.6 201.2h1.0M377.9 235.9h1.0M341.8 242.4h1.0M343.4 202.2h1.0M350.3 223.4h1.0M367.6 214.8h1.0M327.7 230.5h1.0M370.8 225.2h1.0M365.9 222.1h1.0M368.1 218.1h1.0M334.4 198.8h1.0M334.6 197.7h1.0M343.1 200.4h1.0M354.0 205.7h1.0M338.7 215.2h1.0M338.1 235.8h1.0M375.8 201.5h1.0M346.2 213.4h1.0M330.0 213.6h1.0M378.5 226.0h1.0M331.2 211.7h1.0M346.0 213.8h1.0M353.9 204.9h1.0M360.2 202.4h1.0M345.3 209.1h1.0M332.8 209.9h1.0M344.2 206.7h1.0M350.3 198.4h1.0M354.5 195.1h1.0M327.7 211.6h1.0M343.9 199.0h1.0M345.1 228.6h1.0M325.7 224.5h1.0M359.0 221.7h1.0M344.8 203.1h1.0M365.5 219.2h1.0M334.2 223.9h1.0M352.9 205.7h1.0M324.5 224.0h1.0M348.6 189.4h1.0M374.8 200.8h1.0M345.5 203.4h1.0M342.8 209.4h1.0M370.1 214.9h1.0M353.9 230.2h1.0M337.5 210.4h1.0M377.8 233.5h1.0M361.5 206.8h1.0M367.1 244.8h1.0M376.3 216.9h1.0M319.6 212.9h1.0M353.5 216.7h1.0M351.5 219.3h1.0M338.8 215.3h1.0M366.5 214.9h1.0M372.8 226.5h1.0M377.8 210.2h1.0M377.0 217.6h1.0M356.9 206.8h1.0M380.2 242.8h1.0M351.3 205.2h1.0M335.1 214.4h1.0M340.2 213.4h1.0M337.4 221.8h1.0M373.7 240.3h1.0M332.3 195.5h1.0M336.7 208.9h1.0M332.1 223.2h1.0M352.7 200.9h1.0M343.2 240.2h1.0M365.5 192.5h1.0M342.6 229.3h1.0M357.1 199.3h1.0M350.5 196.3h1.0M335.6 195.8h1.0M343.6 219.5h1.0M319.7 210.3h1.0M327.5 263.0h1.0M334.7 235.0h1.0M322.6 203.3h1.0M338.6 223.7h1.0M363.1 219.6h1.0M337.7 198.5h1.0M368.4 192.0h1.0M356.3 197.3h1.0M352.0 231.1h1.0M353.7 198.2h1.0M348.1 203.0h1.0M343.2 214.0h1.0M338.0 203.3h1.0M363.4 190.3h1.0M327.7 202.4h1.0M343.2 232.3h1.0M347.6 214.5h1.0M332.8 201.4h1.0M376.3 231.2h1.0M344.1 216.3h1.0M370.0 211.0h1.0M327.4 202.0h1.0M366.1 214.3h1.0M346.2 204.0h1.0M334.8 257.9h1.0M322.6 209.5h1.0M374.0 207.7h1.0M382.5 221.4h1.0M336.0 208.0h1.0M338.1 225.5h1.0M364.1 212.7h1.0M341.8 234.1h1.0M363.0 207.1h1.0M361.6 230.5h1.0M327.9 226.0h1.0M344.4 191.6h1.0M350.6 251.0h1.0M381.0 245.4h1.0M331.2 199.6h1.0M337.6 205.2h1.0M334.5 211.7h1.0M333.9 201.1h1.0M330.0 244.3h1.0M371.5 219.8h1.0M330.1 211.2h1.0M326.3 210.3h1.0M331.4 209.2h1.0M324.9 210.4h1.0M375.1 207.8h1.0M358.7 203.6h1.0M327.4 226.9h1.0M347.9 211.0h1.0M344.3 222.9h1.0M350.5 200.0h1.0M330.4 202.4h1.0M345.6 200.3h1.0M348.3 217.6h1.0M365.4 244.6h1.0M323.1 197.4h1.0M353.2 217.8h1.0M369.3 208.7h1.0M380.8 205.8h1.0M362.0 207.1h1.0M346.6 208.3h1.0M345.3 205.6h1.0M324.0 220.7h1.0M364.1 194.5h1.0M379.1 212.3h1.0M355.7 222.5h1.0M337.8 221.6h1.0M329.2 208.7h1.0M340.4 200.5h1.0M344.5 211.1h1.0M378.0 210.6h1.0M351.2 198.9h1.0M341.7 230.8h1.0M361.8 203.0h1.0M367.8 199.8h1.0M374.4 242.3h1.0M338.8 202.5h1.0M333.2 208.2h1.0M340.7 216.0h1.0M364.0 198.0h1.0M373.6 257.7h1.0M351.6 194.1h1.0M341.7 193.8h1.0M350.1 217.1h1.0M336.4 202.9h1.0M330.4 247.1h1.0M339.7 226.5h1.0M338.3 200.9h1.0M337.9 240.7h1.0M329.4 237.7h1.0M320.0 205.9h1.0M344.6 209.3h1.0M336.0 223.0h1.0M373.9 224.4h1.0M361.1 239.3h1.0M357.7 208.7h1.0M329.7 196.9h1.0M339.6 193.3h1.0M360.4 208.8h1.0M336.8 240.9h1.0M372.2 197.5h1.0M336.3 212.2h1.0M359.8 215.6h1.0M361.4 208.8h1.0M357.3 204.5h1.0M352.4 215.3h1.0M361.6 200.8h1.0M382.7 239.2h1.0M359.8 208.8h1.0M354.0 219.2h1.0M381.9 222.2h1.0M334.2 197.0h1.0M334.1 202.1h1.0M367.6 203.8h1.0M353.1 197.0h1.0M385.8 238.0h1.0M338.8 216.7h1.0M375.4 209.8h1.0M371.6 213.4h1.0M350.4 217.0h1.0M382.2 235.5h1.0M335.8 194.6h1.0M337.8 233.5h1.0M335.1 201.7h1.0M329.3 194.4h1.0M339.2 212.1h1.0M376.1 224.1h1.0M351.6 211.9h1.0M326.3 211.6h1.0M362.2 218.3h1.0M385.4 222.6h1.0M367.3 249.4h1.0M333.9 242.6h1.0M370.2 230.1h1.0M343.7 219.4h1.0M383.0 243.3h1.0M343.4 201.3h1.0M321.6 232.5h1.0M370.7 224.6h1.0M379.0 246.9h1.0M359.1 205.2h1.0M380.6 213.1h1.0M371.1 228.7h1.0M374.2 205.0h1.0M350.2 199.8h1.0M339.1 220.4h1.0M338.1 238.7h1.0M379.0 240.9h1.0M366.2 210.4h1.0M349.8 195.7h1.0M339.6 216.5h1.0M344.0 188.9h1.0M331.2 209.4h1.0M355.5 220.0h1.0M363.4 236.6h1.0M358.0 206.9h1.0M366.4 204.4h1.0M329.4 199.4h1.0M324.1 200.3h1.0M356.3 221.4h1.0M344.7 214.9h1.0M326.4 208.2h1.0M341.2 207.0h1.0M347.4 245.1h1.0M362.7 226.9h1.0M342.9 222.5h1.0M352.3 222.2h1.0M325.5 194.4h1.0M325.1 209.8h1.0M362.8 209.1h1.0M351.7 204.8h1.0M332.1 211.8h1.0M358.7 220.7h1.0M354.0 225.7h1.0M369.7 221.1h1.0M383.6 233.5h1.0M351.2 231.0h1.0M351.4 202.1h1.0M346.1 240.9h1.0M352.2 197.9h1.0M352.0 249.4h1.0M362.3 204.4h1.0M340.5 208.7h1.0M358.7 225.9h1.0M337.2 207.9h1.0M349.9 243.9h1.0M337.4 194.4h1.0M375.4 260.2h1.0M331.3 203.9h1.0M346.0 210.7h1.0M384.3 212.2h1.0M343.5 209.5h1.0M327.1 215.6h1.0M352.9 215.2h1.0M344.9 193.6h1.0M324.4 202.7h1.0M329.2 222.3h1.0M333.6 215.8h1.0M351.0 203.9h1.0M382.2 218.3h1.0M369.1 193.6h1.0M332.0 193.2h1.0M357.2 207.9h1.0M325.9 202.3h1.0M349.4 191.9h1.0M361.2 197.3h1.0M352.5 200.1h1.0M373.4 218.8h1.0M356.9 220.5h1.0M337.6 197.2h1.0M367.5 216.1h1.0M335.0 194.5h1.0M359.5 210.6h1.0M364.4 204.4h1.0M336.7 198.3h1.0M376.5 217.2h1.0M349.2 211.0h1.0M342.1 218.3h1.0M357.7 190.6h1.0M331.9 216.6h1.0M337.8 201.1h1.0M360.3 218.7h1.0M341.8 204.4h1.0M322.0 195.5h1.0M360.6 216.5h1.0M327.6 201.2h1.0M353.6 199.0h1.0M351.0 220.9h1.0M375.1 212.3h1.0M375.3 250.2h1.0M335.5 205.9h1.0M341.8 232.3h1.0M356.1 199.7h1.0M350.9 205.5h1.0M324.1 198.9h1.0M353.3 230.8h1.0M379.5 251.8h1.0M325.0 214.6h1.0M327.1 217.6h1.0M350.5 210.1h1.0M369.4 254.7h1.0M362.6 246.8h1.0M376.6 206.0h1.0M367.9 194.6h1.0M339.6 209.6h1.0M339.8 245.3h1.0M374.0 203.7h1.0M376.2 226.5h1.0M339.2 199.5h1.0M352.5 203.5h1.0M335.1 218.4h1.0M326.1 209.0h1.0M331.5 258.7h1.0M346.9 222.9h1.0M344.8 220.8h1.0M335.5 211.3h1.0M388.7 222.3h1.0M339.1 197.6h1.0M359.1 212.4h1.0M361.3 217.2h1.0M361.5 203.1h1.0M358.8 227.9h1.0M319.7 208.9h1.0M347.2 197.1h1.0M360.0 202.7h1.0M365.0 217.1h1.0M333.1 243.9h1.0M338.9 217.7h1.0M343.3 223.2h1.0M371.3 203.3h1.0M336.5 218.5h1.0M358.4 217.5h1.0M329.8 243.3h1.0M344.3 210.1h1.0M333.1 238.4h1.0M338.3 203.5h1.0M360.4 198.8h1.0M348.8 210.0h1.0M352.8 230.0h1.0M352.0 207.4h1.0M343.5 242.1h1.0M360.0 220.7h1.0M372.7 232.4h1.0M357.3 221.4h1.0M367.5 230.7h1.0M343.2 204.1h1.0M329.3 202.6h1.0M333.3 199.7h1.0M355.7 226.6h1.0M358.0 203.4h1.0M353.5 193.0h1.0M339.3 217.1h1.0M375.8 202.2h1.0M347.9 204.1h1.0M342.1 203.1h1.0M338.6 215.8h1.0M339.8 203.7h1.0M326.6 201.3h1.0M338.8 197.4h1.0M342.5 207.9h1.0M379.3 248.1h1.0M351.0 213.4h1.0M364.2 226.5h1.0M378.2 246.7h1.0M352.1 200.7h1.0M345.9 215.5h1.0M368.6 225.5h1.0M324.0 197.9h1.0M333.4 193.8h1.0M356.0 206.0h1.0M367.3 196.8h1.0M363.0 216.2h1.0M331.6 203.4h1.0M330.7 204.9h1.0M381.7 218.1h1.0M325.5 227.1h1.0M336.0 210.2h1.0M348.9 225.3h1.0M379.5 207.2h1.0M347.0 218.3h1.0M366.5 248.3h1.0M329.5 208.4h1.0M337.0 198.9h1.0M336.4 207.2h1.0M330.2 214.7h1.0M352.2 215.2h1.0M370.7 226.1h1.0M343.0 204.2h1.0M325.3 212.5h1.0M362.9 220.9h1.0M370.9 207.5h1.0M334.1 220.0h1.0M326.4 215.1h1.0M374.7 218.5h1.0M351.5 260.8h1.0M361.1 196.9h1.0M335.2 226.3h1.0M325.4 211.2h1.0M354.7 240.0h1.0M323.9 200.6h1.0M365.4 244.5h1.0M365.0 250.6h1.0M330.0 204.6h1.0M378.3 213.1h1.0M343.1 204.8h1.0M381.8 237.5h1.0M350.6 252.0h1.0M376.6 202.0h1.0M327.7 202.8h1.0M328.5 220.8h1.0M340.0 220.1h1.0M372.8 216.6h1.0M381.4 242.8h1.0M366.7 212.1h1.0M368.8 204.5h1.0M387.7 219.1h1.0M344.7 208.4h1.0M375.8 220.2h1.0M367.1 216.0h1.0M376.8 229.7h1.0M345.3 209.9h1.0M376.2 220.3h1.0M337.4 223.3h1.0M368.5 194.0h1.0M348.1 194.5h1.0M333.3 192.7h1.0M344.6 247.5h1.0M341.1 211.9h1.0M333.5 207.2h1.0M346.3 206.4h1.0M333.7 231.1h1.0M334.5 202.4h1.0M382.9 236.2h1.0M331.6 236.0h1.0M359.8 239.7h1.0M328.6 216.2h1.0M330.6 197.8h1.0M382.8 222.6h1.0M331.8 218.4h1.0M336.9 215.8h1.0M326.3 239.9h1.0M341.6 214.0h1.0M359.9 202.5h1.0M348.1 198.8h1.0M322.6 212.2h1.0M376.6 245.9h1.0M357.8 201.0h1.0M329.7 194.9h1.0M372.2 241.8h1.0M342.8 204.2h1.0M340.7 207.0h1.0M346.1 212.9h1.0M345.3 231.9h1.0M339.0 211.2h1.0M370.8 192.4h1.0M344.9 207.5h1.0M373.1 202.1h1.0M330.6 194.3h1.0M332.0 190.5h1.0M372.6 247.1h1.0M331.2 211.3h1.0M339.7 212.9h1.0M344.4 206.5h1.0M350.0 200.0h1.0M362.2 202.0h1.0M353.4 241.0h1.0M359.3 231.9h1.0M369.4 207.7h1.0M341.4 221.7h1.0M343.6 223.6h1.0M336.8 211.1h1.0M346.6 223.9h1.0M380.4 248.4h1.0M332.6 218.7h1.0M340.2 199.6h1.0M343.9 196.5h1.0M347.9 211.8h1.0M346.0 197.7h1.0M351.4 199.2h1.0M344.1 218.5h1.0M331.5 204.9h1.0M376.5 212.1h1.0M380.8 240.3h1.0M330.9 199.9h1.0M374.5 235.0h1.0M334.2 205.8h1.0M367.3 212.4h1.0M351.5 210.0h1.0M332.4 199.0h1.0M336.5 245.9h1.0M343.1 194.2h1.0M354.7 218.3h1.0M349.8 200.2h1.0M320.2 228.3h1.0M353.3 198.5h1.0M321.5 206.0h1.0M358.2 200.6h1.0M374.8 204.6h1.0M332.5 213.1h1.0M365.5 193.1h1.0M360.4 199.1h1.0M332.7 244.9h1.0M361.2 247.3h1.0M329.6 217.3h1.0M333.7 206.0h1.0M349.5 249.4h1.0M333.1 217.2h1.0M354.1 208.4h1.0M380.0 221.3h1.0M337.7 203.2h1.0M351.3 250.6h1.0M375.4 220.5h1.0M327.1 202.1h1.0M339.0 203.3h1.0M385.5 230.4h1.0M372.5 223.4h1.0M345.1 205.1h1.0M363.7 235.8h1.0M366.6 217.6h1.0M342.7 207.4h1.0M326.1 205.3h1.0M369.3 211.0h1.0M336.3 204.9h1.0M338.1 205.9h1.0M357.7 213.2h1.0M361.5 207.3h1.0M331.5 204.5h1.0M355.7 202.9h1.0M355.6 211.0h1.0M336.8 220.5h1.0M338.5 207.4h1.0M364.4 221.7h1.0M342.7 225.2h1.0M321.8 211.5h1.0M352.4 208.8h1.0M347.0 203.3h1.0M349.4 239.5h1.0M353.8 219.4h1.0M373.3 200.4h1.0M325.5 207.6h1.0M337.2 245.2h1.0M337.3 205.9h1.0M340.6 258.6h1.0M340.2 198.3h1.0M330.9 206.5h1.0M357.5 210.5h1.0M381.7 195.0h1.0M359.2 212.4h1.0M385.3 246.5h1.0M348.1 204.7h1.0M337.9 199.1h1.0M343.3 193.1h1.0M373.8 222.2h1.0M373.6 211.6h1.0M378.7 220.6h1.0M354.7 197.3h1.0M366.0 211.5h1.0M344.8 202.9h1.0M335.3 226.7h1.0M346.5 197.3h1.0M354.4 211.1h1.0M331.6 208.3h1.0M345.4 203.2h1.0M352.1 226.2h1.0M328.3 203.3h1.0M339.0 199.8h1.0M372.6 243.2h1.0M374.2 203.2h1.0M331.0 216.7h1.0M357.3 196.1h1.0M340.6 193.1h1.0M320.8 202.8h1.0M360.0 202.2h1.0M348.2 211.2h1.0M335.3 206.9h1.0M337.5 214.7h1.0M357.5 201.2h1.0M350.1 201.2h1.0M360.1 210.8h1.0M362.5 201.4h1.0M352.4 196.3h1.0M344.2 208.4h1.0M375.8 205.8h1.0M364.2 205.2h1.0M336.4 205.6h1.0M368.2 256.4h1.0M356.0 190.7h1.0M354.0 214.8h1.0M337.7 244.0h1.0M337.7 228.5h1.0M351.5 211.4h1.0M337.2 206.4h1.0M365.4 200.2h1.0M382.3 217.3h1.0M336.3 208.0h1.0M335.3 204.4h1.0M335.5 201.6h1.0M358.0 190.3h1.0M366.9 235.6h1.0M346.9 222.6h1.0M364.0 231.9h1.0M345.3 207.7h1.0M343.9 208.3h1.0M331.3 216.5h1.0M351.7 222.6h1.0M330.5 207.3h1.0M349.1 201.7h1.0M330.2 207.8h1.0M327.1 201.8h1.0M346.1 223.3h1.0M341.3 202.5h1.0M353.7 208.8h1.0M386.7 232.4h1.0M361.1 213.2h1.0M340.0 208.6h1.0M370.8 234.3h1.0M322.7 203.1h1.0M332.0 202.4h1.0M345.1 213.9h1.0M325.6 200.6h1.0M333.5 207.1h1.0M346.4 207.7h1.0M377.2 240.1h1.0M328.2 233.9h1.0M343.2 202.6h1.0M317.4 228.4h1.0M322.3 205.6h1.0M334.1 203.8h1.0M328.6 203.6h1.0M327.2 222.4h1.0M387.1 225.2h1.0M369.3 211.3h1.0M332.2 248.4h1.0M339.0 196.0h1.0M377.1 245.5h1.0M338.9 202.5h1.0M322.4 205.6h1.0M343.2 205.7h1.0M350.0 205.7h1.0M388.5 223.0h1.0M326.6 209.7h1.0M336.3 211.4h1.0M333.9 209.5h1.0M338.9 199.6h1.0M324.8 211.7h1.0M374.9 251.0h1.0M343.3 199.6h1.0M375.8 217.0h1.0M362.1 192.8h1.0M373.6 221.5h1.0M360.9 204.3h1.0M334.4 199.5h1.0M349.0 214.1h1.0M327.8 201.9h1.0M337.5 204.9h1.0M347.7 207.7h1.0M366.9 206.8h1.0M375.8 249.1h1.0M389.4 234.4h1.0M372.4 214.8h1.0M335.0 201.0h1.0M374.8 250.8h1.0M360.1 246.4h1.0M352.6 248.8h1.0M357.6 199.0h1.0M350.9 195.9h1.0M344.3 253.1h1.0M367.9 213.1h1.0M329.1 210.0h1.0M365.4 205.3h1.0M344.3 213.0h1.0M362.4 247.8h1.0M368.3 210.9h1.0M345.6 213.5h1.0M369.1 230.1h1.0M335.9 199.8h1.0M334.3 207.6h1.0M341.9 206.2h1.0M340.1 222.6h1.0M377.8 251.6h1.0M341.6 218.4h1.0M350.0 194.6h1.0M328.6 198.3h1.0M392.6 223.9h1.0M358.5 224.0h1.0M323.7 200.1h1.0M359.2 200.0h1.0M386.7 259.2h1.0M335.0 206.2h1.0M336.6 212.3h1.0M354.6 199.0h1.0M346.6 204.7h1.0M332.6 235.8h1.0M356.7 202.7h1.0M384.4 237.3h1.0M348.2 214.3h1.0M348.0 243.4h1.0M383.6 234.1h1.0M358.3 216.8h1.0M339.3 211.9h1.0M347.8 207.4h1.0M375.2 206.4h1.0M384.7 215.0h1.0M375.1 217.0h1.0M348.6 209.7h1.0M382.8 244.9h1.0M336.9 209.0h1.0M348.7 191.9h1.0M353.4 216.1h1.0M383.1 237.1h1.0M325.6 201.5h1.0M344.3 221.6h1.0M344.1 208.1h1.0M353.4 197.5h1.0M370.9 257.2h1.0M343.1 250.9h1.0M363.6 211.0h1.0M380.3 237.0h1.0M336.0 210.7h1.0M346.9 206.6h1.0M337.7 214.4h1.0M371.7 244.5h1.0M363.3 210.2h1.0M358.2 245.2h1.0M366.8 205.0h1.0M368.4 218.2h1.0M361.5 212.6h1.0M354.3 216.8h1.0M355.7 200.3h1.0M349.1 201.2h1.0M337.6 207.7h1.0M364.2 224.4h1.0M353.3 216.9h1.0M364.6 231.7h1.0M354.6 217.4h1.0M362.1 191.3h1.0M361.2 206.6h1.0M361.6 209.2h1.0M372.4 196.8h1.0M349.7 205.0h1.0M337.0 212.6h1.0M376.3 225.5h1.0M340.3 221.3h1.0M381.8 221.6h1.0M337.1 204.8h1.0M348.1 206.4h1.0M366.6 251.0h1.0M325.3 257.4h1.0M360.8 245.1h1.0M362.5 213.2h1.0M337.2 212.1h1.0M331.9 206.0h1.0M337.7 240.5h1.0M356.4 216.1h1.0M356.7 246.6h1.0M357.4 210.3h1.0M335.0 245.2h1.0M350.4 218.0h1.0M331.3 194.7h1.0M340.6 221.9h1.0M333.2 215.1h1.0M323.8 230.3h1.0M344.9 197.5h1.0M373.7 224.3h1.0M338.4 204.5h1.0M340.4 202.4h1.0M337.4 240.4h1.0M347.2 198.6h1.0M353.7 211.1h1.0M332.6 247.8h1.0M330.9 200.8h1.0M347.2 194.9h1.0M368.3 195.3h1.0M324.8 216.2h1.0M361.8 207.4h1.0M344.7 201.4h1.0M346.7 200.0h1.0M321.2 194.5h1.0M380.9 244.6h1.0M318.8 192.1h1.0M321.9 209.3h1.0M337.5 192.8h1.0M343.2 209.7h1.0M338.9 231.5h1.0M355.8 190.0h1.0M374.9 232.5h1.0M367.2 221.0h1.0M379.4 237.7h1.0M337.7 222.2h1.0M339.4 199.7h1.0M349.0 210.2h1.0M361.5 200.0h1.0M334.4 203.6h1.0M386.9 227.4h1.0M344.1 217.9h1.0M342.9 228.1h1.0M327.4 191.5h1.0M353.1 209.8h1.0M377.7 222.6h1.0M374.7 254.1h1.0M336.4 256.9h1.0M354.8 226.6h1.0M364.7 212.9h1.0M336.9 203.6h1.0M349.0 194.0h1.0M372.7 222.0h1.0M367.3 212.1h1.0M341.5 254.2h1.0M353.2 209.6h1.0M341.8 211.7h1.0M341.1 200.7h1.0M330.2 209.6h1.0M375.9 206.0h1.0M347.1 222.8h1.0M344.7 241.1h1.0M361.0 193.9h1.0M321.8 210.4h1.0M331.3 234.4h1.0M329.0 254.9h1.0M368.1 224.6h1.0M352.0 215.5h1.0M373.8 203.9h1.0M385.1 247.1h1.0M327.2 200.9h1.0M339.8 209.0h1.0M335.5 223.7h1.0M383.5 223.3h1.0M333.7 197.1h1.0M331.0 209.9h1.0M340.3 211.9h1.0M330.9 200.9h1.0M331.2 192.4h1.0M335.6 203.2h1.0M331.8 197.0h1.0M352.9 220.1h1.0M336.5 206.5h1.0M363.8 247.1h1.0M371.8 225.7h1.0M367.9 216.4h1.0M345.6 202.7h1.0M376.7 231.5h1.0M363.3 242.4h1.0M383.0 251.3h1.0M328.5 207.9h1.0M366.6 218.3h1.0M373.9 214.9h1.0M348.8 209.5h1.0M337.5 190.6h1.0M361.4 210.9h1.0M381.8 233.1h1.0M348.1 199.8h1.0M376.8 234.8h1.0M341.2 206.9h1.0M331.6 236.9h1.0M362.2 207.1h1.0M352.1 212.5h1.0M328.8 221.7h1.0M360.7 247.9h1.0M345.0 244.6h1.0M369.7 216.2h1.0M374.8 208.8h1.0M376.1 210.9h1.0M323.4 212.9h1.0M360.1 216.4h1.0M367.7 199.8h1.0M373.0 228.8h1.0M350.1 222.8h1.0M347.2 215.8h1.0M337.8 234.8h1.0M383.0 246.3h1.0M334.4 212.9h1.0M378.7 211.0h1.0M342.1 221.0h1.0M392.1 228.3h1.0M346.1 213.1h1.0M367.5 216.1h1.0M365.0 199.2h1.0M365.4 228.1h1.0M378.1 233.9h1.0M362.1 209.5h1.0M338.7 210.6h1.0M362.3 209.8h1.0M367.7 259.3h1.0M340.1 194.5h1.0M321.9 212.0h1.0M336.5 202.6h1.0M380.4 210.2h1.0M365.5 216.9h1.0M356.0 218.8h1.0M356.4 198.1h1.0M367.5 219.7h1.0M332.1 198.3h1.0M365.6 211.7h1.0M335.2 199.3h1.0M363.0 192.8h1.0M374.1 236.8h1.0M343.6 196.5h1.0M330.6 201.3h1.0M366.9 241.1h1.0M320.2 191.2h1.0M343.5 226.8h1.0M358.9 200.0h1.0M348.5 202.8h1.0M346.5 224.6h1.0M356.6 208.4h1.0M370.9 234.6h1.0M345.8 225.0h1.0M367.9 210.9h1.0M347.4 214.5h1.0M331.3 206.4h1.0M336.6 210.4h1.0M339.5 208.7h1.0M321.8 209.2h1.0M357.7 207.1h1.0M344.9 229.9h1.0M378.4 242.5h1.0M344.3 202.9h1.0M364.6 194.1h1.0M362.4 199.4h1.0M347.6 202.8h1.0M326.1 224.3h1.0M389.5 206.4h1.0M373.5 240.5h1.0M374.1 206.8h1.0M351.2 204.7h1.0M383.4 219.0h1.0M331.5 217.4h1.0M326.6 194.5h1.0M363.4 236.0h1.0M330.4 209.8h1.0M339.7 220.3h1.0M347.4 224.6h1.0M340.8 200.6h1.0M364.5 213.2h1.0M356.3 204.0h1.0M367.9 202.7h1.0M376.3 192.6h1.0M368.7 252.3h1.0M340.6 202.2h1.0M378.5 248.4h1.0M326.0 201.9h1.0M334.1 213.0h1.0M367.6 196.6h1.0M324.2 205.0h1.0M385.5 227.3h1.0M353.0 225.9h1.0M343.9 199.9h1.0M333.9 237.3h1.0M388.5 232.8h1.0M379.5 243.9h1.0M371.0 211.3h1.0M359.4 206.0h1.0M322.6 209.8h1.0M346.7 201.5h1.0M324.3 205.4h1.0M366.1 241.3h1.0M364.9 201.0h1.0M389.0 251.2h1.0M369.9 205.9h1.0M371.7 241.0h1.0M348.1 191.3h1.0M332.6 230.9h1.0M334.5 198.3h1.0M369.6 217.8h1.0M345.6 254.3h1.0M330.6 214.9h1.0M349.2 197.5h1.0M333.5 222.5h1.0M336.4 204.0h1.0M383.4 234.8h1.0M366.4 217.7h1.0M333.8 206.4h1.0M366.4 209.2h1.0M380.3 222.6h1.0M373.6 236.4h1.0M335.0 221.2h1.0M383.0 234.1h1.0M316.8 216.7h1.0M326.0 204.7h1.0M351.3 213.6h1.0M359.4 230.0h1.0M387.8 203.5h1.0M322.0 208.7h1.0M349.3 198.8h1.0M381.8 244.7h1.0M343.2 212.7h1.0M379.7 214.0h1.0M348.5 203.2h1.0M354.0 195.4h1.0M337.6 213.2h1.0M366.1 191.7h1.0M332.9 206.4h1.0M325.3 216.4h1.0M346.9 230.1h1.0M337.8 223.1h1.0M343.8 200.9h1.0M339.2 212.1h1.0M381.7 241.0h1.0M343.2 203.5h1.0M341.5 203.6h1.0M353.0 196.3h1.0M344.9 198.4h1.0M381.4 217.1h1.0M324.5 223.5h1.0M378.1 221.0h1.0M347.3 219.1h1.0M338.7 196.9h1.0M340.4 197.5h1.0M377.4 215.4h1.0M354.5 229.0h1.0M369.2 214.4h1.0M338.0 199.3h1.0M351.6 230.1h1.0M382.0 222.2h1.0M337.4 200.4h1.0M350.0 204.3h1.0M353.5 209.7h1.0M381.5 205.3h1.0M341.5 207.0h1.0M355.9 209.9h1.0M368.9 212.4h1.0M336.8 208.5h1.0M326.5 194.5h1.0M338.4 202.4h1.0M369.8 206.1h1.0M344.8 202.6h1.0M331.5 199.4h1.0M333.4 204.1h1.0M323.5 205.0h1.0M335.9 198.7h1.0M351.1 216.4h1.0M337.4 222.2h1.0M351.6 239.0h1.0M353.9 203.8h1.0M346.9 220.0h1.0M325.6 207.3h1.0M340.5 210.5h1.0M375.1 224.8h1.0M334.2 199.8h1.0M363.2 234.3h1.0M339.1 232.2h1.0M330.4 209.7h1.0M339.3 216.7h1.0M378.4 245.9h1.0M368.2 248.8h1.0M368.8 225.9h1.0M342.4 209.7h1.0M366.2 200.5h1.0M338.2 225.6h1.0M342.2 208.3h1.0M360.3 210.0h1.0M354.1 199.4h1.0M359.0 200.5h1.0M356.5 234.6h1.0M365.9 196.1h1.0M358.6 237.0h1.0M351.0 192.3h1.0M368.5 199.4h1.0M328.8 199.9h1.0M332.0 205.3h1.0M347.4 213.7h1.0M324.1 203.7h1.0M342.5 200.8h1.0M374.1 250.9h1.0M337.6 226.3h1.0M342.7 219.8h1.0M324.5 238.3h1.0M353.6 197.2h1.0M356.0 223.3h1.0M335.8 207.2h1.0M329.1 207.4h1.0M335.9 204.2h1.0M392.4 231.8h1.0M339.0 203.4h1.0M395.0 223.3h1.0M371.2 216.4h1.0M331.4 202.3h1.0M368.0 208.4h1.0M367.3 208.3h1.0M384.6 220.9h1.0M379.3 238.8h1.0M351.2 197.7h1.0M364.4 226.4h1.0M358.5 212.2h1.0M344.7 208.7h1.0M344.8 197.9h1.0M331.9 220.6h1.0M330.3 198.9h1.0M330.6 205.0h1.0M340.5 223.6h1.0M368.4 224.1h1.0M336.9 204.0h1.0M356.2 218.0h1.0M345.0 204.0h1.0M351.1 207.4h1.0M367.2 218.4h1.0M329.8 212.8h1.0M352.9 218.2h1.0M329.9 225.0h1.0M373.0 215.7h1.0M371.1 223.3h1.0M388.9 225.0h1.0M355.5 202.8h1.0M370.0 209.8h1.0M364.6 239.7h1.0M339.8 243.4h1.0M335.1 201.5h1.0M330.7 208.5h1.0M351.9 201.1h1.0M379.8 223.8h1.0M344.2 205.3h1.0M375.3 207.7h1.0M375.1 239.4h1.0M355.3 207.2h1.0M355.9 199.6h1.0M338.2 212.5h1.0M351.3 207.4h1.0M331.5 216.5h1.0M365.0 206.3h1.0M328.4 201.5h1.0M339.7 209.4h1.0M361.2 204.0h1.0M337.1 209.6h1.0M372.7 200.4h1.0M381.4 228.5h1.0M344.5 207.2h1.0M367.5 193.2h1.0M378.6 223.5h1.0M377.8 231.6h1.0M371.3 244.0h1.0M357.8 226.9h1.0M353.9 206.2h1.0M351.6 201.6h1.0M323.5 196.0h1.0M384.4 231.5h1.0M336.7 202.3h1.0M345.9 196.4h1.0M374.6 190.0h1.0M358.5 196.8h1.0M375.2 204.2h1.0M351.6 231.1h1.0M373.4 223.2h1.0M337.4 202.0h1.0M327.2 210.4h1.0M333.6 191.0h1.0M321.7 226.1h1.0M381.5 217.9h1.0M346.1 195.1h1.0M350.6 230.5h1.0M338.8 198.6h1.0M335.8 200.2h1.0M337.9 201.9h1.0M352.4 230.5h1.0M334.8 236.1h1.0M345.2 212.2h1.0M354.2 222.3h1.0M330.4 221.7h1.0M368.7 225.9h1.0M369.3 229.8h1.0M358.3 192.8h1.0M361.4 209.3h1.0M362.6 217.5h1.0M372.6 196.2h1.0M373.9 229.5h1.0M372.7 225.1h1.0M380.5 246.2h1.0M372.1 198.3h1.0M345.6 214.3h1.0M321.2 198.7h1.0M364.5 208.2h1.0M380.5 218.4h1.0M355.5 226.7h1.0M335.7 240.3h1.0M330.6 196.5h1.0M373.9 213.5h1.0M344.0 221.4h1.0M327.7 203.9h1.0M378.1 247.1h1.0M369.8 206.4h1.0M321.5 252.1h1.0M375.7 236.5h1.0M371.8 221.3h1.0M335.1 202.5h1.0M339.4 207.8h1.0M349.7 200.4h1.0M347.1 192.4h1.0M359.7 206.3h1.0M335.0 211.7h1.0M324.8 206.7h1.0M377.4 249.5h1.0M387.9 232.5h1.0M365.1 200.8h1.0M332.2 213.8h1.0M363.8 209.5h1.0M353.1 200.4h1.0M374.9 234.8h1.0M321.2 223.9h1.0M365.5 218.5h1.0M337.3 202.4h1.0M379.5 196.3h1.0M353.6 226.7h1.0M334.3 190.9h1.0M332.2 211.5h1.0M325.2 233.6h1.0M374.7 218.0h1.0M372.4 226.3h1.0M349.9 213.4h1.0M359.7 228.5h1.0M340.0 214.5h1.0M339.7 213.7h1.0M374.8 226.2h1.0M341.7 224.0h1.0M339.3 208.3h1.0M344.8 199.7h1.0M368.9 203.0h1.0M375.2 191.9h1.0M353.2 218.3h1.0M327.8 204.8h1.0M335.0 202.2h1.0M340.1 221.8h1.0M335.1 211.9h1.0M331.7 215.9h1.0M351.2 252.4h1.0M373.4 222.7h1.0M345.2 206.4h1.0M373.7 217.3h1.0M347.3 218.2h1.0M377.0 240.0h1.0M330.1 217.2h1.0M351.8 250.0h1.0M373.0 220.0h1.0M330.2 204.6h1.0M352.6 206.7h1.0M373.3 199.5h1.0M336.7 213.5h1.0M351.8 215.6h1.0M353.1 209.2h1.0M377.1 237.5h1.0M384.4 246.2h1.0M340.0 215.7h1.0M346.1 212.7h1.0M349.1 207.2h1.0M347.4 227.4h1.0M356.9 213.8h1.0M341.4 222.3h1.0M325.6 201.7h1.0M337.5 218.7h1.0M367.9 206.4h1.0M333.9 202.6h1.0M385.8 220.7h1.0M379.6 233.1h1.0M356.8 229.9h1.0M365.0 194.5h1.0M326.9 229.9h1.0M322.5 197.7h1.0M332.4 212.2h1.0M336.6 202.8h1.0M378.5 197.0h1.0M334.7 201.2h1.0M385.0 220.7h1.0M379.0 210.3h1.0M344.4 202.5h1.0M362.2 229.6h1.0M338.6 205.8h1.0M379.5 227.1h1.0M377.1 247.4h1.0M345.3 199.3h1.0M382.0 257.9h1.0M328.2 195.5h1.0M388.1 221.9h1.0M378.6 224.1h1.0M326.3 199.2h1.0M370.3 222.9h1.0M345.0 214.6h1.0M326.4 212.5h1.0M378.1 223.8h1.0M334.7 214.0h1.0M336.9 218.9h1.0M334.0 203.6h1.0M381.7 218.4h1.0M367.9 202.2h1.0M323.3 207.3h1.0M326.5 238.7h1.0M357.4 231.9h1.0M350.1 217.5h1.0M348.2 228.9h1.0M327.9 204.4h1.0M348.7 208.7h1.0M332.7 212.1h1.0M341.8 213.2h1.0M360.4 196.1h1.0M361.8 200.4h1.0M327.3 215.9h1.0M344.2 202.5h1.0M341.3 201.7h1.0M361.6 197.6h1.0M352.2 205.3h1.0M328.9 194.4h1.0M326.9 195.5h1.0M344.1 249.6h1.0M340.1 189.6h1.0M353.1 220.7h1.0M376.7 207.0h1.0M344.2 200.7h1.0M344.7 196.8h1.0M352.9 227.6h1.0M354.1 242.2h1.0M366.3 241.7h1.0M372.3 249.5h1.0M354.4 203.9h1.0M345.0 218.2h1.0M343.6 210.5h1.0M359.5 218.6h1.0M379.8 237.8h1.0M323.6 205.9h1.0M350.9 231.0h1.0M373.8 249.1h1.0M333.3 210.0h1.0M362.9 193.4h1.0M328.1 204.4h1.0M358.7 222.2h1.0M333.4 206.1h1.0M387.6 237.7h1.0M330.2 200.7h1.0M349.5 210.1h1.0M373.1 206.9h1.0M326.2 199.6h1.0M358.7 192.7h1.0M362.8 202.2h1.0M344.7 225.5h1.0M362.4 203.4h1.0M373.7 214.2h1.0M330.0 207.3h1.0M347.4 216.3h1.0M317.8 196.9h1.0M373.9 235.0h1.0M339.1 195.6h1.0M374.2 235.6h1.0M373.2 249.7h1.0M343.8 208.8h1.0M365.2 203.8h1.0M361.8 213.9h1.0M333.0 223.9h1.0M363.1 204.5h1.0M374.2 211.1h1.0M360.5 211.9h1.0M331.3 208.3h1.0M348.6 223.4h1.0M328.5 229.2h1.0M346.5 207.0h1.0M335.0 212.6h1.0M338.8 210.7h1.0M339.6 215.6h1.0M380.8 220.3h1.0M327.5 209.2h1.0M366.0 212.8h1.0M344.4 207.4h1.0M322.1 201.3h1.0M345.1 206.7h1.0M378.5 200.0h1.0M348.5 210.2h1.0M360.0 203.6h1.0M336.5 212.3h1.0M336.2 204.9h1.0M334.8 210.4h1.0M343.6 253.6h1.0M345.0 190.6h1.0M336.4 201.8h1.0M381.3 242.8h1.0M376.1 236.0h1.0M343.2 195.0h1.0M384.0 216.2h1.0M364.0 205.0h1.0M378.3 217.6h1.0M361.8 203.2h1.0M378.3 222.8h1.0M332.4 208.2h1.0M367.8 199.9h1.0M380.0 249.5h1.0M325.6 230.5h1.0M383.0 213.1h1.0M338.3 199.1h1.0M328.3 242.7h1.0M368.5 195.7h1.0M360.6 222.1h1.0M368.5 229.5h1.0M325.5 248.9h1.0M351.0 198.4h1.0M337.4 204.2h1.0M342.0 199.3h1.0M330.6 227.3h1.0M343.7 211.0h1.0M355.7 239.3h1.0M357.2 236.1h1.0M382.1 210.6h1.0M345.4 205.0h1.0M367.0 218.5h1.0M379.2 238.5h1.0M322.6 199.7h1.0M343.0 191.2h1.0M336.5 252.5h1.0M332.0 216.3h1.0M353.6 206.4h1.0M345.0 190.1h1.0M327.0 210.2h1.0M334.1 208.6h1.0M333.7 232.3h1.0M373.6 209.1h1.0M387.9 236.3h1.0M361.3 190.7h1.0M337.8 193.3h1.0M344.3 233.2h1.0M354.7 238.1h1.0M343.8 192.3h1.0M380.8 224.2h1.0M377.9 225.5h1.0M357.1 205.9h1.0M354.2 201.8h1.0M321.2 199.0h1.0M343.4 201.9h1.0M353.9 195.8h1.0M375.0 222.1h1.0M352.7 210.7h1.0M342.0 197.4h1.0M373.3 194.9h1.0M353.0 198.5h1.0M346.3 223.7h1.0M368.9 196.0h1.0M322.6 251.1h1.0M372.9 247.6h1.0M384.9 249.6h1.0M358.0 217.5h1.0M361.7 245.1h1.0M382.2 233.2h1.0M354.9 201.5h1.0M376.5 215.2h1.0M349.2 224.0h1.0M364.7 195.3h1.0M327.4 200.1h1.0M382.2 239.7h1.0M353.2 207.4h1.0M331.7 204.3h1.0M328.0 198.9h1.0M364.9 192.8h1.0M381.7 220.0h1.0M339.1 217.5h1.0M352.1 194.1h1.0M348.6 221.5h1.0M338.4 199.4h1.0M343.1 201.7h1.0M337.1 211.5h1.0M336.7 196.9h1.0M338.0 207.0h1.0M357.0 213.7h1.0M343.4 203.2h1.0M358.8 236.7h1.0M341.6 208.9h1.0M378.6 232.4h1.0M346.9 227.9h1.0M359.3 196.2h1.0M376.6 223.4h1.0M361.8 220.8h1.0M353.1 201.2h1.0M347.3 192.2h1.0M327.3 195.3h1.0M367.0 197.6h1.0M345.9 233.4h1.0M340.2 213.4h1.0M347.3 189.9h1.0M375.5 206.9h1.0M331.4 211.0h1.0M348.7 210.6h1.0M339.3 191.2h1.0M325.5 210.0h1.0M331.6 193.8h1.0M361.4 225.2h1.0M362.7 210.4h1.0M380.4 243.0h1.0M334.6 203.0h1.0M365.3 217.0h1.0M351.9 210.1h1.0M375.9 224.3h1.0M335.0 233.4h1.0M351.8 193.2h1.0M327.4 194.9h1.0M385.0 239.6h1.0M376.1 243.5h1.0M327.5 213.3h1.0M343.8 200.1h1.0M337.8 195.8h1.0M368.6 203.0h1.0M362.4 193.6h1.0M335.5 198.5h1.0M361.4 210.5h1.0M338.1 190.2h1.0M383.5 223.5h1.0M370.1 197.8h1.0M335.1 214.1h1.0M371.1 206.2h1.0M345.8 195.1h1.0M376.1 190.9h1.0M336.0 199.9h1.0M353.0 202.6h1.0M377.1 225.6h1.0M345.9 213.8h1.0M382.1 218.6h1.0M326.6 216.0h1.0M360.2 223.5h1.0M333.5 196.3h1.0M334.6 249.7h1.0M325.1 203.6h1.0M338.9 208.7h1.0M373.3 222.9h1.0M376.8 244.0h1.0M378.6 229.1h1.0M344.2 193.1h1.0M375.5 215.3h1.0M353.8 209.2h1.0M345.8 211.6h1.0M332.6 204.7h1.0M360.4 214.6h1.0M361.1 236.2h1.0M329.7 217.4h1.0M372.1 238.6h1.0M374.9 221.5h1.0M363.6 205.4h1.0M330.1 198.9h1.0M376.3 221.8h1.0M341.9 211.2h1.0M354.6 215.8h1.0M335.0 195.4h1.0M368.4 197.4h1.0M339.5 208.4h1.0M346.8 202.6h1.0M373.9 203.7h1.0M337.4 201.6h1.0M333.2 201.6h1.0M372.4 220.1h1.0M329.7 208.4h1.0M351.5 199.0h1.0M338.0 207.1h1.0M345.8 203.2h1.0M336.0 231.1h1.0M379.0 236.5h1.0M358.0 207.1h1.0M340.5 193.9h1.0M352.4 197.4h1.0M343.7 215.9h1.0M330.2 211.8h1.0M353.1 199.5h1.0M365.8 205.7h1.0M371.0 226.7h1.0M358.2 230.6h1.0M383.6 247.3h1.0M356.4 232.2h1.0M378.4 207.0h1.0M341.6 190.7h1.0M346.8 203.1h1.0M371.7 223.5h1.0M344.3 250.3h1.0M367.1 200.1h1.0M352.3 192.2h1.0M326.9 199.9h1.0M333.3 197.0h1.0M334.9 224.4h1.0M330.4 196.5h1.0M334.9 206.5h1.0M333.0 206.1h1.0M330.6 214.0h1.0M369.2 210.8h1.0M362.3 214.2h1.0M333.0 206.5h1.0M371.0 202.2h1.0M358.5 209.6h1.0M346.7 212.4h1.0M353.9 217.2h1.0M347.8 229.7h1.0M366.4 224.5h1.0M362.7 212.7h1.0M376.3 204.9h1.0M334.9 191.6h1.0M324.6 201.0h1.0M339.3 213.0h1.0M352.2 214.4h1.0M320.4 198.7h1.0M350.5 203.4h1.0M338.8 199.5h1.0M338.4 193.1h1.0M376.9 218.7h1.0M348.6 217.7h1.0M332.7 200.2h1.0M339.1 203.0h1.0M337.8 212.1h1.0M337.9 205.8h1.0M334.7 204.4h1.0M341.1 219.4h1.0M335.2 244.2h1.0M350.6 212.9h1.0M331.7 212.1h1.0M337.0 199.6h1.0M379.8 237.4h1.0M352.5 209.5h1.0M374.7 221.6h1.0M369.8 221.5h1.0M331.5 216.3h1.0M335.7 233.5h1.0M342.1 200.6h1.0M354.1 203.1h1.0M366.7 244.2h1.0M333.9 216.0h1.0M349.3 203.1h1.0M344.9 195.8h1.0M333.2 198.9h1.0M346.0 203.1h1.0M362.8 210.6h1.0M375.0 235.1h1.0M344.7 194.3h1.0M341.1 214.4h1.0M325.1 212.6h1.0M320.7 214.1h1.0M340.1 200.8h1.0M357.1 201.0h1.0M351.6 251.9h1.0M365.1 207.3h1.0M353.7 205.8h1.0M342.8 216.4h1.0M347.4 208.0h1.0M346.5 220.4h1.0M382.8 218.8h1.0M341.7 235.5h1.0M326.0 249.2h1.0M330.9 224.7h1.0M381.5 211.6h1.0M372.5 217.9h1.0M343.5 218.5h1.0M327.6 196.5h1.0M378.7 244.7h1.0M385.5 242.3h1.0M362.4 223.8h1.0M356.6 210.1h1.0M381.9 225.0h1.0M346.8 202.0h1.0M343.6 257.9h1.0M359.9 216.6h1.0M372.6 223.8h1.0M356.5 214.5h1.0M329.5 215.9h1.0M358.3 211.0h1.0M327.7 216.2h1.0M333.5 218.4h1.0M328.1 206.4h1.0M339.3 221.9h1.0M347.8 216.3h1.0M377.2 208.3h1.0M324.2 192.6h1.0M329.5 190.4h1.0M366.3 213.7h1.0M338.0 207.6h1.0M327.6 206.3h1.0M353.3 191.2h1.0M351.6 223.9h1.0M371.2 234.1h1.0M363.3 197.0h1.0M350.5 204.1h1.0M386.7 225.2h1.0M323.2 212.5h1.0M344.9 216.2h1.0M344.2 210.3h1.0M360.6 223.8h1.0M342.1 194.9h1.0M344.1 194.5h1.0M361.8 221.2h1.0M365.8 237.3h1.0M330.4 194.8h1.0M361.6 208.7h1.0M329.6 210.2h1.0M341.7 224.7h1.0M328.9 198.3h1.0M375.1 231.7h1.0M332.1 193.5h1.0M379.9 228.1h1.0M333.9 209.8h1.0M378.7 223.8h1.0M371.5 232.8h1.0M325.3 228.9h1.0M390.4 219.6h1.0M359.5 203.6h1.0M354.6 208.2h1.0M339.0 214.7h1.0M375.8 230.1h1.0M374.1 213.2h1.0M382.8 239.6h1.0M333.5 205.6h1.0M371.7 192.3h1.0M366.5 218.7h1.0M338.6 219.4h1.0M337.4 199.8h1.0M377.1 224.5h1.0M367.1 226.9h1.0M325.8 196.5h1.0M341.5 202.1h1.0M371.1 197.2h1.0M382.2 218.8h1.0M346.9 192.8h1.0M332.8 190.4h1.0M335.3 206.7h1.0M339.1 198.4h1.0M360.7 214.9h1.0M382.5 228.3h1.0M380.4 249.5h1.0M352.5 217.1h1.0M382.7 226.1h1.0M375.5 211.4h1.0M331.2 209.9h1.0M324.5 227.2h1.0M322.5 209.8h1.0M357.6 219.2h1.0M325.9 203.7h1.0M362.6 226.6h1.0M366.5 187.9h1.0M350.6 201.6h1.0M346.5 202.2h1.0M364.3 199.5h1.0M346.8 224.8h1.0M345.2 200.0h1.0M333.8 194.8h1.0M329.3 199.1h1.0M352.9 206.2h1.0M382.6 225.4h1.0M331.5 202.5h1.0M326.2 214.3h1.0M370.2 220.6h1.0M329.8 226.6h1.0M341.4 205.1h1.0M334.9 212.0h1.0M339.5 247.5h1.0M342.2 201.1h1.0M363.2 254.1h1.0M340.1 207.5h1.0M354.2 227.9h1.0M367.7 207.6h1.0M351.4 194.7h1.0M343.4 217.5h1.0M327.8 212.6h1.0M336.8 232.0h1.0M341.8 208.2h1.0M364.8 215.6h1.0M328.1 198.7h1.0M374.1 204.8h1.0M321.1 211.0h1.0M359.2 197.1h1.0M320.9 223.0h1.0M341.7 210.7h1.0M343.5 207.2h1.0M338.6 214.4h1.0M357.8 202.2h1.0M353.9 191.5h1.0M336.3 210.5h1.0M327.8 205.6h1.0M350.5 214.9h1.0M361.4 196.1h1.0M366.9 230.1h1.0M355.2 211.6h1.0M326.2 206.1h1.0M376.2 249.6h1.0M329.2 218.7h1.0M348.4 242.6h1.0M343.9 217.5h1.0M355.3 208.6h1.0M366.3 209.7h1.0M343.9 202.3h1.0M348.1 218.9h1.0M350.5 236.2h1.0M336.6 200.9h1.0M348.4 213.1h1.0M324.9 199.6h1.0M359.0 229.4h1.0M341.7 242.9h1.0M344.5 203.2h1.0M345.6 211.1h1.0M344.8 212.8h1.0M352.0 206.0h1.0M340.7 205.7h1.0M354.3 201.2h1.0M332.3 208.4h1.0M386.5 215.5h1.0M346.2 226.0h1.0M344.7 212.9h1.0M344.3 205.1h1.0M366.2 237.6h1.0M364.9 201.8h1.0M373.1 206.2h1.0M348.4 210.3h1.0M380.4 223.1h1.0M368.0 210.5h1.0M386.4 222.1h1.0M356.3 213.7h1.0M323.9 203.1h1.0M346.8 217.7h1.0M337.5 200.7h1.0M344.0 195.3h1.0M334.5 194.1h1.0M343.5 220.0h1.0M367.6 228.2h1.0M337.5 206.1h1.0M353.6 205.6h1.0M377.7 194.2h1.0M362.4 201.0h1.0M367.6 234.9h1.0M372.6 235.7h1.0M371.4 244.6h1.0M341.3 218.8h1.0M379.4 233.5h1.0M382.5 211.9h1.0M383.0 230.1h1.0M356.3 190.5h1.0M352.0 209.2h1.0M330.7 205.0h1.0M360.3 200.1h1.0M350.4 195.0h1.0M376.5 217.1h1.0M332.4 222.0h1.0M338.0 204.9h1.0M340.3 224.0h1.0M352.9 205.7h1.0M346.3 235.8h1.0M363.4 217.5h1.0M371.2 206.9h1.0M360.9 204.3h1.0M351.8 200.3h1.0M349.1 241.1h1.0M330.8 235.3h1.0M333.4 192.8h1.0M333.9 201.5h1.0M369.1 238.2h1.0M352.5 193.9h1.0M355.7 213.4h1.0M333.8 221.7h1.0M354.8 234.2h1.0M349.0 237.2h1.0M328.9 193.7h1.0M339.6 211.4h1.0M346.1 200.0h1.0M372.9 209.5h1.0M381.3 199.6h1.0M326.5 210.1h1.0M350.3 197.3h1.0M362.5 240.6h1.0M332.0 198.3h1.0M335.0 227.6h1.0M352.9 197.3h1.0M332.0 229.8h1.0M346.6 213.0h1.0M344.2 214.8h1.0M393.5 216.8h1.0M343.7 220.9h1.0M333.0 224.2h1.0M338.6 219.5h1.0M365.4 209.5h1.0M325.1 202.4h1.0M328.9 203.2h1.0M349.3 205.8h1.0M332.7 215.8h1.0M360.0 220.5h1.0M372.3 225.7h1.0M381.6 214.0h1.0M342.0 193.3h1.0M386.3 223.8h1.0M368.8 229.6h1.0M341.9 202.1h1.0M344.3 262.9h1.0M334.7 226.7h1.0M337.5 219.9h1.0M341.2 212.4h1.0M340.0 206.4h1.0M364.8 206.4h1.0M373.3 234.4h1.0M351.2 212.5h1.0M380.8 236.7h1.0M367.6 250.2h1.0M348.9 212.5h1.0M367.0 199.9h1.0M368.3 202.5h1.0M344.9 205.2h1.0M329.3 240.7h1.0M357.4 210.2h1.0M328.7 219.7h1.0M364.5 208.5h1.0M349.0 202.6h1.0M362.5 227.7h1.0M324.3 204.2h1.0M343.5 254.5h1.0M382.4 234.2h1.0M327.3 212.7h1.0M331.4 203.4h1.0M340.1 200.9h1.0M352.9 226.9h1.0M322.1 204.2h1.0M383.8 199.1h1.0M345.7 207.8h1.0M365.3 208.1h1.0M336.3 204.1h1.0M346.4 207.1h1.0M353.2 206.2h1.0M351.9 206.5h1.0M337.1 205.6h1.0M374.6 206.2h1.0M337.6 234.5h1.0M372.8 216.6h1.0M351.3 213.5h1.0M339.7 191.9h1.0M342.9 209.5h1.0M360.5 248.9h1.0M373.8 241.7h1.0M331.9 190.1h1.0M339.1 199.4h1.0M322.8 207.4h1.0M351.5 228.6h1.0M379.4 237.3h1.0M342.3 199.3h1.0M335.4 207.0h1.0M338.2 193.4h1.0M371.9 221.7h1.0M354.5 195.5h1.0M334.1 203.6h1.0M343.6 213.8h1.0M352.1 201.4h1.0M351.0 229.8h1.0M365.5 192.5h1.0M335.4 221.0h1.0M380.1 211.3h1.0M374.5 206.6h1.0M374.1 227.0h1.0M352.8 198.6h1.0M352.0 214.8h1.0M352.6 209.2h1.0M352.4 225.9h1.0M326.8 205.9h1.0M347.9 220.5h1.0M348.3 207.4h1.0M339.0 191.9h1.0M339.7 200.7h1.0M337.0 205.8h1.0M333.0 211.5h1.0M353.5 219.5h1.0M384.9 236.0h1.0M340.7 200.9h1.0M335.8 196.9h1.0M321.5 202.3h1.0M340.1 204.3h1.0M336.5 206.7h1.0M324.9 195.5h1.0M333.3 214.8h1.0M355.9 201.0h1.0M359.5 205.9h1.0M335.4 201.7h1.0M355.5 196.0h1.0M332.5 247.4h1.0M387.9 215.3h1.0M330.1 201.7h1.0M381.9 225.6h1.0M349.7 211.5h1.0M344.4 233.3h1.0M338.3 187.3h1.0M369.7 212.2h1.0M329.9 201.8h1.0M335.2 226.7h1.0M341.8 243.3h1.0M332.0 190.9h1.0M351.8 220.3h1.0M364.0 209.2h1.0M369.0 231.3h1.0M340.7 204.0h1.0M342.6 225.1h1.0M361.2 201.2h1.0M373.8 235.9h1.0M373.2 223.6h1.0M348.8 202.1h1.0M330.1 202.3h1.0M373.1 238.5h1.0M375.5 219.7h1.0M359.6 238.1h1.0M344.4 213.9h1.0M329.1 213.6h1.0M336.0 245.8h1.0M351.5 196.2h1.0M340.0 217.8h1.0M329.0 216.8h1.0M344.0 218.8h1.0M343.1 195.9h1.0M375.4 193.4h1.0M345.5 205.8h1.0M376.8 225.5h1.0M364.3 206.4h1.0M373.8 212.4h1.0M326.5 241.1h1.0M336.0 191.3h1.0M353.3 207.1h1.0M353.7 240.7h1.0M384.8 229.3h1.0M348.0 202.0h1.0M326.6 203.3h1.0M321.6 200.4h1.0M325.9 244.0h1.0M375.4 218.4h1.0M323.9 203.7h1.0M344.3 201.5h1.0M343.4 235.9h1.0M360.3 200.7h1.0M326.3 208.5h1.0M382.3 235.3h1.0M328.4 198.2h1.0M330.7 213.0h1.0M335.6 211.2h1.0M344.8 221.6h1.0M352.1 224.8h1.0M330.3 213.1h1.0M350.0 206.6h1.0M337.6 244.2h1.0M321.3 197.5h1.0M337.6 203.4h1.0M359.8 240.9h1.0M332.3 206.1h1.0M345.0 196.4h1.0M389.0 229.0h1.0M356.6 212.5h1.0M349.6 223.8h1.0M335.5 201.6h1.0M377.5 223.5h1.0M339.0 220.4h1.0M339.3 199.9h1.0M351.6 200.4h1.0M338.2 208.8h1.0M373.9 213.9h1.0M372.4 220.5h1.0M354.0 219.6h1.0M343.9 203.0h1.0M367.5 209.0h1.0M389.3 245.8h1.0M335.8 205.2h1.0M373.9 227.7h1.0M326.0 199.3h1.0M337.3 213.2h1.0M381.9 215.9h1.0M324.4 202.7h1.0M360.6 205.0h1.0M332.2 203.7h1.0M332.4 193.1h1.0M381.4 235.6h1.0M333.7 237.3h1.0M371.9 241.0h1.0M349.5 217.5h1.0M325.5 193.4h1.0M324.0 212.9h1.0M373.5 228.1h1.0M336.2 223.5h1.0M369.4 246.9h1.0M376.1 209.0h1.0M348.6 221.7h1.0M373.0 245.5h1.0M371.2 222.3h1.0M357.4 244.9h1.0M368.4 220.3h1.0M357.7 203.7h1.0M345.4 258.0h1.0M345.4 246.9h1.0M328.5 201.0h1.0M355.2 192.2h1.0M344.1 229.0h1.0M377.4 211.2h1.0M350.1 223.9h1.0M361.5 223.9h1.0M368.6 226.9h1.0M383.3 194.4h1.0M373.6 243.7h1.0M348.6 199.5h1.0M334.5 214.0h1.0M380.2 222.4h1.0M379.9 219.9h1.0M333.1 243.1h1.0M373.3 228.4h1.0M384.2 244.0h1.0M351.9 218.8h1.0M341.8 204.4h1.0M389.6 222.8h1.0M328.2 246.9h1.0M354.8 211.0h1.0M343.2 198.3h1.0M348.3 197.5h1.0M320.7 196.7h1.0M345.7 203.7h1.0M332.9 214.3h1.0M334.9 201.9h1.0M374.1 202.5h1.0M363.5 205.6h1.0M355.4 212.6h1.0M379.7 215.9h1.0M363.7 220.8h1.0M339.4 217.0h1.0M344.0 210.9h1.0M371.5 223.8h1.0M368.1 212.4h1.0M326.6 223.7h1.0M360.9 203.9h1.0M354.9 201.4h1.0M359.5 201.1h1.0M343.7 220.1h1.0M332.0 218.8h1.0M331.9 207.5h1.0M366.0 241.0h1.0M365.2 213.3h1.0M362.6 214.6h1.0M338.2 218.9h1.0M378.1 239.2h1.0M339.7 196.1h1.0M338.6 210.2h1.0M350.4 204.6h1.0M352.5 192.5h1.0M348.7 214.9h1.0M371.9 208.2h1.0M323.6 219.3h1.0M358.0 200.9h1.0M336.3 217.2h1.0M346.4 201.8h1.0M374.5 208.8h1.0M321.9 203.4h1.0M339.1 194.2h1.0M359.1 221.0h1.0M326.7 241.8h1.0M325.4 216.9h1.0M343.9 207.8h1.0M350.3 210.6h1.0M368.1 212.7h1.0M360.1 211.3h1.0M357.6 204.6h1.0M328.1 224.4h1.0M341.9 189.2h1.0M353.8 223.1h1.0M381.1 237.1h1.0M389.4 230.2h1.0M374.8 215.9h1.0M363.3 203.4h1.0M338.6 236.1h1.0M325.4 204.7h1.0M360.1 234.0h1.0M340.5 191.5h1.0M364.4 213.8h1.0M363.2 198.4h1.0M372.7 235.9h1.0M335.4 230.7h1.0M327.5 230.6h1.0M332.8 218.8h1.0M344.5 200.7h1.0M334.7 244.8h1.0M338.5 249.5h1.0M341.2 207.6h1.0M322.5 216.0h1.0M336.9 211.3h1.0M370.5 204.1h1.0M326.2 199.6h1.0M325.6 212.2h1.0M322.3 227.2h1.0M333.6 216.3h1.0M361.5 207.0h1.0M359.1 239.1h1.0M367.6 210.9h1.0M343.6 225.4h1.0M328.6 210.8h1.0M365.5 216.6h1.0M365.5 211.3h1.0M338.7 230.7h1.0M331.8 214.0h1.0M341.2 217.5h1.0M326.6 225.8h1.0M351.6 205.3h1.0M338.4 200.7h1.0M337.7 210.3h1.0M354.1 213.2h1.0M347.6 215.6h1.0M324.8 250.6h1.0M375.3 211.6h1.0M329.3 193.0h1.0M337.5 209.1h1.0M365.7 219.1h1.0M376.0 223.5h1.0M346.3 203.9h1.0M327.5 208.4h1.0M319.9 217.3h1.0M375.7 190.0h1.0M369.0 203.2h1.0M366.3 203.6h1.0M328.8 249.6h1.0M378.2 221.7h1.0M342.7 195.9h1.0M374.5 213.1h1.0M329.5 215.6h1.0M343.1 204.7h1.0M378.9 222.3h1.0M368.1 197.9h1.0M336.5 204.3h1.0M344.2 190.6h1.0M340.8 218.8h1.0M350.4 227.6h1.0M332.7 220.4h1.0M365.6 231.8h1.0M369.0 212.4h1.0M318.7 211.2h1.0M335.3 212.2h1.0M375.2 211.6h1.0M360.7 212.1h1.0M339.5 202.5h1.0M341.6 210.8h1.0M376.1 208.8h1.0M333.7 238.8h1.0M360.7 218.4h1.0M341.0 213.0h1.0M324.7 207.3h1.0M344.4 211.2h1.0M336.4 210.7h1.0M332.6 199.5h1.0M376.2 242.4h1.0M324.0 221.9h1.0M364.2 207.3h1.0M376.6 230.9h1.0M361.6 205.6h1.0M344.6 201.0h1.0M344.9 216.8h1.0M375.3 244.6h1.0M367.6 212.6h1.0M335.7 226.8h1.0M338.6 195.5h1.0M381.2 210.0h1.0M359.8 209.7h1.0M334.3 197.5h1.0M363.1 195.5h1.0M347.9 252.6h1.0M351.2 208.9h1.0M342.2 225.3h1.0M375.1 238.2h1.0M338.7 205.7h1.0M360.5 234.9h1.0M343.0 213.8h1.0M337.5 194.4h1.0M346.2 195.6h1.0M371.0 237.5h1.0M331.5 201.8h1.0M342.0 202.4h1.0M343.2 190.7h1.0M338.3 198.4h1.0M363.2 223.0h1.0M373.0 243.7h1.0M353.8 196.9h1.0M352.3 202.9h1.0M387.9 225.9h1.0M385.5 237.1h1.0M334.9 192.9h1.0M340.9 221.1h1.0M344.2 207.0h1.0M344.1 229.8h1.0M371.7 207.3h1.0M331.9 209.9h1.0M386.3 257.5h1.0M346.1 208.9h1.0M350.3 238.3h1.0M334.8 244.2h1.0M340.5 213.3h1.0M380.8 219.1h1.0M345.0 211.9h1.0M331.0 208.2h1.0M373.9 213.0h1.0M381.0 208.4h1.0M340.6 219.1h1.0M361.6 216.1h1.0M347.1 200.7h1.0M350.4 231.1h1.0M331.2 219.3h1.0M367.9 202.3h1.0M376.4 203.1h1.0M333.7 204.4h1.0M374.5 216.5h1.0M375.6 203.5h1.0M367.9 201.0h1.0M337.5 242.0h1.0M332.8 191.9h1.0M382.7 254.2h1.0M361.8 207.2h1.0M333.2 241.4h1.0M330.4 195.5h1.0M354.2 207.8h1.0M327.9 208.9h1.0M341.9 203.4h1.0M361.1 194.9h1.0M340.9 203.7h1.0M367.9 208.6h1.0M323.6 205.0h1.0M345.7 199.5h1.0M355.4 195.0h1.0M341.4 216.3h1.0M388.4 253.4h1.0M345.5 211.4h1.0M373.8 227.7h1.0M358.4 202.6h1.0M368.6 203.5h1.0M362.9 218.0h1.0M337.2 203.9h1.0M365.1 211.4h1.0M327.4 249.9h1.0M345.3 206.3h1.0M324.5 208.6h1.0M363.9 224.8h1.0M371.0 220.2h1.0M350.3 202.7h1.0M355.5 212.0h1.0M340.9 218.6h1.0M320.0 239.9h1.0M363.2 208.8h1.0M324.9 213.8h1.0M354.2 238.8h1.0M344.9 200.3h1.0M372.1 199.0h1.0M329.3 201.8h1.0M337.1 235.4h1.0M345.8 215.3h1.0M343.7 216.3h1.0M369.5 239.7h1.0M364.9 248.0h1.0M329.4 210.5h1.0M330.9 215.9h1.0M369.6 232.6h1.0M324.9 201.9h1.0M344.4 222.6h1.0M355.6 211.9h1.0M333.4 213.8h1.0M389.8 240.2h1.0M329.0 198.4h1.0M371.1 211.0h1.0M338.0 210.7h1.0M369.6 208.6h1.0M381.1 219.2h1.0M347.6 201.9h1.0M344.5 218.4h1.0M343.8 212.5h1.0M331.5 205.1h1.0M328.1 214.2h1.0M382.1 251.8h1.0M349.1 236.4h1.0M378.1 232.6h1.0M345.7 199.6h1.0M331.2 216.0h1.0M325.1 221.5h1.0M337.9 214.6h1.0M342.3 199.0h1.0M345.1 250.6h1.0M351.9 223.2h1.0M373.9 219.5h1.0M361.1 224.3h1.0M365.6 215.6h1.0M357.9 202.7h1.0M341.4 214.6h1.0M389.9 231.5h1.0M370.6 220.8h1.0M337.0 219.9h1.0M356.7 252.5h1.0M324.6 219.9h1.0M388.3 241.7h1.0M366.5 242.0h1.0M365.2 209.9h1.0M365.7 195.1h1.0M383.4 245.2h1.0M379.8 241.2h1.0M336.1 207.1h1.0M366.1 191.3h1.0M355.1 211.3h1.0M322.2 211.3h1.0M350.4 194.6h1.0M359.8 196.3h1.0M375.2 214.6h1.0M354.8 215.2h1.0M365.2 246.4h1.0M362.1 248.6h1.0M342.5 226.3h1.0M348.7 199.6h1.0M338.1 201.4h1.0M377.2 240.3h1.0M339.6 194.8h1.0M379.2 202.2h1.0M348.8 220.3h1.0M341.1 256.8h1.0M338.9 214.2h1.0M347.1 222.4h1.0M351.6 222.0h1.0M352.0 201.6h1.0M348.3 206.9h1.0M329.7 229.7h1.0M327.5 202.8h1.0M366.9 203.9h1.0M328.1 211.4h1.0M324.7 213.7h1.0M376.1 207.7h1.0M342.9 192.1h1.0M379.8 224.0h1.0M352.0 231.7h1.0M323.4 200.4h1.0M333.1 193.1h1.0M343.3 210.2h1.0M325.5 211.7h1.0M383.4 230.0h1.0M348.7 234.9h1.0M335.4 203.7h1.0M338.1 238.0h1.0M329.0 231.9h1.0M353.5 212.2h1.0M365.2 198.6h1.0M354.0 227.8h1.0M387.2 236.2h1.0M354.0 214.4h1.0M353.1 221.1h1.0M369.6 219.5h1.0M384.5 247.1h1.0M342.1 211.3h1.0M380.2 244.8h1.0M322.1 212.2h1.0M334.0 225.1h1.0M337.1 243.8h1.0M342.2 207.1h1.0M379.2 221.6h1.0M344.7 210.4h1.0M327.0 201.4h1.0M331.6 216.7h1.0M332.3 233.3h1.0M335.6 234.1h1.0M350.7 216.0h1.0M382.9 253.4h1.0M372.1 216.5h1.0M353.2 221.7h1.0M323.8 197.0h1.0M347.8 226.8h1.0M342.4 192.1h1.0M342.0 210.9h1.0M369.1 218.4h1.0M357.9 199.1h1.0M342.9 199.7h1.0M338.7 200.2h1.0M343.0 204.5h1.0M364.2 258.3h1.0M359.4 216.5h1.0M339.8 192.1h1.0M338.8 207.6h1.0M339.0 202.0h1.0M372.5 224.8h1.0M388.9 219.9h1.0M349.5 206.5h1.0M371.7 221.6h1.0M327.5 192.9h1.0M322.4 201.0h1.0M376.2 208.8h1.0M343.8 200.5h1.0M355.7 212.8h1.0M351.5 226.4h1.0M334.1 189.9h1.0M348.1 205.7h1.0M357.1 229.6h1.0M368.9 221.4h1.0M337.7 213.9h1.0M378.1 233.6h1.0M379.2 190.3h1.0M344.6 206.5h1.0M330.8 205.9h1.0M343.7 205.1h1.0M369.8 227.8h1.0M333.5 205.8h1.0M330.1 222.0h1.0M329.3 225.8h1.0M349.5 197.2h1.0M335.5 198.2h1.0M366.1 203.7h1.0M358.3 213.0h1.0M376.9 207.5h1.0M367.2 199.2h1.0M353.5 216.5h1.0M376.1 231.2h1.0M345.9 191.3h1.0M320.9 222.4h1.0M341.8 203.5h1.0M388.1 236.9h1.0M330.8 211.2h1.0M357.8 202.7h1.0M343.0 193.0h1.0M335.2 202.6h1.0M369.2 193.6h1.0M381.4 235.9h1.0M325.3 201.0h1.0M328.7 220.7h1.0M386.3 235.8h1.0M345.0 214.5h1.0M352.6 214.2h1.0M327.5 198.6h1.0M349.4 192.6h1.0M330.6 220.0h1.0M328.6 218.0h1.0M328.3 210.4h1.0M352.7 213.6h1.0M361.8 211.5h1.0M332.6 207.0h1.0M345.7 214.4h1.0M324.8 192.4h1.0M343.1 212.2h1.0M336.9 204.1h1.0M384.0 222.6h1.0M370.8 231.9h1.0M369.0 212.3h1.0M369.0 206.1h1.0M360.9 208.5h1.0M352.6 237.2h1.0M363.4 198.0h1.0M332.2 201.1h1.0M332.7 194.8h1.0M348.6 210.0h1.0M340.2 204.8h1.0M360.4 205.9h1.0M384.9 232.4h1.0M337.7 239.7h1.0M368.9 225.9h1.0M335.9 200.1h1.0M384.3 257.3h1.0M320.9 198.9h1.0M365.2 208.8h1.0M378.0 229.6h1.0M354.7 197.9h1.0M371.3 214.7h1.0M361.2 229.9h1.0M367.3 222.0h1.0M339.1 215.5h1.0M371.9 212.6h1.0M377.1 239.3h1.0M367.6 256.5h1.0M361.7 226.3h1.0M339.6 199.4h1.0M374.0 251.1h1.0M342.8 212.6h1.0M324.4 193.2h1.0M342.4 234.7h1.0M370.4 196.1h1.0M375.9 221.0h1.0M344.6 205.6h1.0M368.0 204.0h1.0M372.7 190.1h1.0M324.0 217.2h1.0M373.3 233.9h1.0M331.4 241.6h1.0M371.9 192.6h1.0M366.3 205.4h1.0M337.0 197.1h1.0M343.6 246.4h1.0M323.7 192.7h1.0M337.3 198.4h1.0M387.0 208.4h1.0M333.8 203.7h1.0M350.6 209.5h1.0M337.8 191.9h1.0M336.3 199.4h1.0M378.6 241.7h1.0M385.6 223.8h1.0M384.4 237.2h1.0M344.8 217.0h1.0M362.8 231.5h1.0M345.9 215.5h1.0M376.1 209.7h1.0M333.7 226.2h1.0M362.8 202.0h1.0M338.1 191.0h1.0M358.7 225.0h1.0M375.5 213.5h1.0M347.7 201.3h1.0M355.0 217.6h1.0M337.4 200.0h1.0M337.5 212.8h1.0M348.7 207.9h1.0M331.3 228.9h1.0M324.8 196.2h1.0M375.1 201.1h1.0M329.6 227.3h1.0M374.0 234.5h1.0M360.7 208.0h1.0M331.0 202.6h1.0M373.4 206.9h1.0M343.6 212.7h1.0M365.9 210.0h1.0M338.1 191.7h1.0M364.3 202.6h1.0M340.9 203.4h1.0M348.9 198.9h1.0M363.2 226.8h1.0M369.6 232.0h1.0M354.4 204.3h1.0M343.7 214.2h1.0M377.0 202.9h1.0M336.9 244.3h1.0M385.8 202.9h1.0M369.8 221.5h1.0M351.9 225.0h1.0M373.6 207.8h1.0M375.9 217.5h1.0M341.1 188.2h1.0M374.1 197.9h1.0M339.5 222.7h1.0M330.6 202.8h1.0M371.9 237.2h1.0M333.9 206.9h1.0M351.0 212.2h1.0M365.3 193.4h1.0M354.5 201.8h1.0M328.1 200.6h1.0M353.7 204.2h1.0M346.4 211.2h1.0M350.6 216.2h1.0M336.5 215.0h1.0M362.7 218.3h1.0M379.8 238.1h1.0M342.1 202.3h1.0M346.3 209.5h1.0M378.0 228.3h1.0M343.6 225.6h1.0M324.4 216.1h1.0M345.3 199.9h1.0M353.3 217.2h1.0M333.1 251.6h1.0M345.5 246.5h1.0M324.9 212.1h1.0M351.1 201.4h1.0M340.9 215.9h1.0M351.7 206.5h1.0M329.0 209.7h1.0M320.7 209.6h1.0M377.6 217.8h1.0M327.7 239.5h1.0M340.0 211.7h1.0M335.3 210.2h1.0M341.5 222.7h1.0M328.6 235.8h1.0M336.1 237.6h1.0M353.8 205.8h1.0M361.5 209.7h1.0M354.1 212.8h1.0M327.7 204.3h1.0M373.5 221.9h1.0M374.0 200.4h1.0M343.4 210.9h1.0M347.5 209.6h1.0M356.2 237.5h1.0M334.7 208.2h1.0M373.9 227.4h1.0M330.3 205.4h1.0M330.2 225.4h1.0M330.6 236.6h1.0M334.5 207.9h1.0M378.3 223.9h1.0M381.2 201.7h1.0M366.6 215.9h1.0M358.1 202.7h1.0M365.2 205.6h1.0M326.7 215.3h1.0M352.0 212.1h1.0M338.6 202.0h1.0M358.3 228.6h1.0M353.9 204.1h1.0M338.3 213.1h1.0M340.4 223.6h1.0M369.3 260.8h1.0M325.0 191.1h1.0M370.3 224.3h1.0M351.8 208.1h1.0M359.1 245.5h1.0M345.9 205.8h1.0M335.8 201.7h1.0M381.7 244.8h1.0M359.7 212.8h1.0M347.2 207.5h1.0M328.8 193.3h1.0M341.9 199.3h1.0M365.6 232.4h1.0M362.0 233.2h1.0M382.1 243.8h1.0M336.5 197.6h1.0M387.1 218.8h1.0M323.8 223.4h1.0M333.1 211.3h1.0M346.1 194.3h1.0M371.2 216.1h1.0M358.4 221.4h1.0M376.1 208.3h1.0M359.7 217.1h1.0M339.0 197.9h1.0M343.8 198.8h1.0M334.4 214.6h1.0M339.1 203.6h1.0M366.8 207.5h1.0M356.8 216.1h1.0M329.7 196.0h1.0M322.4 208.2h1.0M389.0 217.4h1.0M360.7 207.3h1.0M345.8 207.4h1.0M366.4 216.5h1.0M353.1 194.0h1.0M332.0 193.3h1.0M386.7 252.7h1.0M375.9 213.9h1.0M370.7 208.7h1.0M376.6 224.5h1.0M380.6 202.1h1.0M366.8 204.8h1.0M364.2 210.7h1.0M368.2 202.4h1.0M359.0 210.8h1.0M337.9 231.5h1.0M346.0 191.8h1.0M326.6 207.2h1.0M323.9 247.4h1.0M344.8 206.1h1.0M373.8 236.6h1.0M329.9 210.9h1.0M339.3 196.3h1.0M324.4 210.0h1.0M363.8 211.1h1.0M326.7 199.0h1.0M348.0 200.7h1.0M337.0 226.0h1.0M372.1 226.3h1.0M372.6 223.0h1.0M325.5 227.5h1.0M377.5 235.5h1.0M340.5 201.5h1.0M359.5 202.7h1.0M383.7 254.4h1.0M328.7 242.1h1.0M323.9 195.3h1.0M364.8 209.4h1.0M340.2 207.0h1.0M375.0 234.8h1.0M382.2 235.8h1.0M350.6 202.1h1.0M375.8 211.3h1.0M325.5 211.7h1.0M333.4 204.4h1.0M358.2 226.2h1.0M373.7 234.8h1.0M377.2 225.2h1.0M361.9 223.9h1.0M377.1 242.9h1.0M374.4 219.0h1.0M358.5 220.7h1.0M341.4 200.5h1.0M339.6 212.6h1.0M380.6 219.2h1.0M318.8 196.3h1.0M334.6 195.8h1.0M321.9 212.7h1.0M352.0 204.3h1.0M326.1 228.6h1.0M338.7 211.0h1.0M349.7 236.3h1.0M342.0 251.4h1.0M326.2 216.1h1.0M369.5 258.1h1.0M376.5 225.5h1.0M351.2 213.3h1.0M349.0 217.9h1.0M367.4 236.2h1.0M363.2 205.3h1.0M350.7 234.9h1.0M332.1 217.3h1.0M352.4 227.4h1.0M367.0 206.0h1.0M323.3 223.2h1.0M339.8 204.7h1.0M353.3 196.0h1.0M359.9 195.5h1.0M372.6 211.7h1.0M374.5 193.3h1.0M344.3 215.5h1.0M331.0 221.3h1.0M385.6 222.9h1.0M323.5 207.7h1.0M322.2 213.0h1.0M371.2 211.1h1.0M379.2 223.6h1.0M381.2 209.2h1.0M351.8 216.2h1.0M345.5 224.0h1.0M351.3 239.4h1.0M329.3 200.9h1.0M368.1 209.3h1.0M377.8 196.9h1.0M319.7 223.6h1.0M364.8 222.3h1.0M351.5 210.8h1.0M336.2 193.0h1.0M321.6 212.6h1.0M365.4 199.8h1.0M348.0 215.4h1.0M359.0 198.0h1.0M325.1 218.7h1.0M326.7 206.0h1.0M347.5 195.5h1.0M332.0 207.4h1.0M371.2 224.3h1.0M360.5 201.6h1.0M335.8 202.2h1.0M359.7 198.6h1.0M327.4 202.7h1.0M383.6 237.4h1.0M326.6 220.6h1.0M332.6 210.3h1.0M342.1 214.8h1.0M370.1 190.9h1.0M383.3 229.4h1.0M375.0 236.4h1.0M341.3 196.4h1.0M328.9 217.4h1.0M344.1 225.2h1.0M341.0 203.7h1.0M336.4 201.1h1.0M330.6 202.8h1.0M378.4 232.5h1.0M346.6 195.3h1.0M337.6 202.2h1.0M330.5 189.2h1.0M345.6 204.4h1.0M362.7 224.5h1.0M380.1 198.5h1.0M365.9 197.8h1.0M367.3 213.9h1.0M353.5 220.9h1.0M345.0 206.6h1.0M369.6 209.3h1.0M335.2 211.4h1.0M367.4 223.5h1.0M352.2 201.8h1.0M363.7 202.6h1.0M345.1 212.2h1.0M343.1 237.8h1.0M354.5 203.9h1.0M346.0 199.1h1.0M371.7 232.5h1.0M332.8 200.7h1.0M354.4 195.4h1.0M352.4 224.5h1.0M322.8 206.7h1.0M365.0 216.4h1.0M335.9 202.6h1.0M351.3 202.9h1.0M340.9 212.3h1.0M336.5 198.5h1.0M382.1 232.0h1.0M345.4 211.2h1.0M340.7 206.2h1.0M330.2 201.9h1.0M338.5 206.0h1.0M334.4 211.8h1.0M344.7 206.1h1.0M321.2 202.3h1.0M344.1 209.3h1.0M342.6 218.1h1.0M351.6 193.6h1.0M343.7 238.3h1.0M358.3 215.4h1.0M375.8 223.2h1.0M378.8 210.4h1.0M336.5 195.5h1.0M338.9 204.4h1.0M366.8 235.3h1.0M375.5 244.2h1.0M336.4 204.7h1.0M381.2 199.8h1.0M350.5 233.9h1.0M356.6 246.2h1.0M362.0 228.4h1.0M367.0 193.3h1.0M374.6 207.1h1.0M357.5 203.2h1.0M370.2 214.3h1.0M331.9 207.1h1.0M375.8 203.8h1.0M339.9 218.4h1.0M322.6 199.4h1.0M382.5 239.5h1.0M336.6 208.9h1.0M321.3 203.2h1.0M344.7 195.7h1.0M343.7 206.9h1.0M354.2 232.7h1.0M337.8 206.1h1.0M349.9 219.2h1.0M374.8 219.5h1.0M346.6 190.3h1.0M321.0 202.3h1.0M340.6 216.5h1.0M321.4 214.5h1.0M373.1 202.6h1.0M330.4 220.8h1.0M340.1 197.0h1.0M373.9 195.0h1.0M373.2 204.3h1.0M365.4 211.4h1.0M365.6 212.5h1.0M375.6 199.6h1.0M337.7 189.0h1.0M350.9 195.6h1.0M359.0 205.1h1.0M337.3 259.2h1.0M368.6 213.7h1.0M379.4 226.2h1.0M344.9 197.5h1.0M368.0 213.2h1.0M354.3 205.3h1.0M349.2 259.0h1.0M373.5 216.5h1.0M348.6 213.7h1.0M348.1 213.3h1.0M336.4 193.2h1.0M382.8 219.7h1.0M382.7 231.2h1.0M344.0 201.8h1.0M348.4 207.9h1.0M361.9 225.3h1.0M326.1 192.5h1.0M365.7 212.5h1.0M383.8 258.1h1.0M375.3 253.4h1.0M371.7 215.7h1.0M349.0 229.5h1.0M360.1 240.1h1.0M384.5 239.9h1.0M372.8 207.6h1.0M364.5 218.2h1.0M344.9 208.6h1.0M331.3 224.3h1.0M338.9 244.3h1.0M365.0 199.3h1.0M359.0 249.7h1.0M342.8 228.0h1.0M357.2 215.4h1.0M325.2 204.2h1.0M375.3 217.7h1.0M346.1 249.3h1.0M349.1 230.3h1.0M331.6 200.2h1.0M351.4 207.6h1.0M352.8 220.7h1.0M335.5 199.4h1.0M345.5 222.6h1.0M362.7 201.4h1.0M335.6 211.2h1.0M361.2 211.6h1.0M347.6 215.5h1.0M345.5 207.5h1.0M378.7 205.7h1.0M369.5 219.8h1.0M335.9 195.5h1.0M350.1 202.2h1.0M333.2 209.6h1.0M343.7 197.0h1.0M352.0 238.2h1.0M329.5 198.5h1.0M349.7 203.1h1.0M338.3 209.1h1.0M380.4 249.7h1.0M337.8 215.6h1.0M342.6 216.9h1.0M332.3 208.7h1.0M336.7 213.4h1.0M379.5 240.6h1.0M342.0 202.1h1.0M337.4 204.9h1.0M367.9 217.1h1.0M331.0 199.4h1.0M355.2 209.8h1.0M390.1 227.1h1.0M378.6 242.2h1.0M351.3 196.6h1.0M327.0 206.0h1.0M375.1 205.7h1.0M346.6 203.2h1.0M329.6 216.4h1.0M368.6 221.6h1.0M379.7 212.3h1.0M371.0 225.7h1.0M351.7 210.5h1.0M376.6 220.2h1.0M367.3 253.6h1.0M337.9 236.1h1.0M371.1 193.9h1.0M341.2 207.9h1.0M375.4 203.0h1.0M374.1 237.4h1.0M373.8 219.9h1.0M338.6 206.0h1.0M353.4 225.1h1.0M330.7 208.8h1.0M382.3 252.6h1.0M374.4 213.4h1.0M372.7 225.8h1.0M376.2 235.6h1.0M348.0 198.8h1.0M385.1 219.4h1.0M337.2 227.2h1.0M339.2 208.9h1.0M359.5 208.9h1.0M326.2 221.0h1.0M331.4 210.1h1.0M342.8 195.0h1.0M340.8 236.5h1.0M364.3 232.6h1.0M363.7 242.9h1.0M353.5 210.9h1.0M362.1 224.4h1.0M335.8 196.1h1.0M333.9 196.1h1.0M341.7 202.3h1.0M380.7 217.0h1.0M351.9 212.1h1.0M379.4 227.8h1.0M335.9 199.5h1.0M335.6 202.5h1.0M366.5 215.3h1.0M379.1 237.0h1.0M320.9 206.1h1.0M339.8 198.3h1.0M340.1 192.9h1.0M323.1 205.3h1.0M326.6 214.4h1.0M348.7 189.5h1.0M356.6 200.7h1.0M335.4 203.1h1.0M332.6 220.2h1.0M341.9 191.1h1.0M345.4 209.4h1.0M342.3 193.3h1.0M352.2 250.7h1.0M343.9 208.3h1.0M373.9 209.5h1.0M354.7 196.0h1.0M375.5 197.6h1.0M365.0 205.5h1.0M337.3 216.2h1.0M390.3 205.3h1.0M360.7 224.2h1.0M364.5 204.3h1.0M323.6 210.9h1.0M373.5 218.3h1.0M328.7 206.3h1.0M377.6 209.1h1.0M341.6 231.5h1.0M332.2 193.0h1.0M390.5 221.4h1.0M353.7 200.0h1.0M345.9 196.3h1.0M322.0 209.9h1.0M354.9 196.3h1.0M322.8 193.1h1.0M375.7 246.5h1.0M350.7 211.6h1.0M325.4 203.9h1.0M349.2 191.9h1.0M357.9 201.7h1.0M343.9 189.8h1.0M348.6 211.1h1.0M341.5 204.4h1.0M352.2 229.0h1.0M350.4 214.2h1.0M339.9 225.1h1.0M336.2 194.1h1.0M329.3 201.6h1.0M377.8 196.8h1.0M358.3 217.4h1.0M334.5 202.7h1.0M377.9 226.6h1.0M362.6 209.7h1.0M360.0 206.7h1.0M321.6 206.3h1.0M342.6 199.0h1.0M326.4 222.9h1.0M328.3 201.9h1.0M351.9 209.4h1.0M337.9 220.1h1.0M331.4 199.2h1.0M374.7 225.8h1.0M351.3 219.2h1.0M369.4 219.7h1.0M376.7 206.5h1.0M365.0 235.0h1.0M348.3 199.6h1.0M365.6 217.3h1.0M350.0 227.7h1.0M337.7 228.6h1.0M383.2 197.0h1.0M336.8 204.0h1.0M351.2 209.5h1.0M378.4 212.9h1.0M351.3 194.9h1.0M337.2 246.9h1.0M374.7 211.1h1.0M326.4 202.5h1.0M360.2 195.1h1.0M336.1 205.4h1.0M330.8 205.4h1.0M367.9 198.7h1.0M365.5 198.7h1.0M338.5 217.0h1.0M332.4 218.4h1.0M366.8 218.7h1.0M333.1 190.0h1.0M330.8 235.5h1.0M361.5 207.9h1.0M338.2 216.9h1.0M338.8 203.1h1.0M358.0 201.2h1.0M366.4 233.5h1.0M333.1 206.2h1.0M336.8 238.4h1.0M370.4 263.4h1.0M349.6 247.8h1.0M332.2 195.7h1.0M380.6 230.0h1.0M344.7 192.2h1.0M343.5 210.8h1.0M367.5 224.5h1.0M338.2 196.8h1.0M367.2 210.7h1.0M367.8 223.7h1.0M376.1 220.7h1.0M367.7 232.5h1.0M376.8 202.3h1.0M340.7 206.5h1.0M335.3 199.0h1.0M378.7 226.7h1.0M335.5 200.2h1.0M354.4 198.4h1.0M332.3 246.9h1.0M337.7 212.6h1.0M355.9 197.7h1.0M344.6 253.0h1.0M353.7 234.7h1.0M339.0 196.9h1.0M358.4 211.6h1.0M351.3 216.4h1.0M342.8 190.7h1.0M367.0 228.5h1.0M323.6 202.8h1.0M344.2 208.5h1.0M335.1 210.0h1.0M366.1 198.6h1.0M336.6 195.7h1.0M368.2 200.2h1.0M337.5 207.7h1.0M376.7 220.5h1.0M342.3 229.8h1.0M383.5 249.4h1.0M354.2 213.9h1.0M326.6 195.7h1.0M336.9 220.3h1.0M390.0 249.5h1.0M370.4 203.1h1.0M354.4 208.5h1.0M328.5 231.2h1.0M338.1 217.1h1.0M342.8 216.4h1.0M342.9 202.1h1.0M360.8 256.1h1.0M325.2 222.5h1.0M353.3 207.5h1.0M375.4 210.2h1.0M339.7 220.5h1.0M370.6 208.5h1.0M363.3 206.7h1.0M377.1 205.0h1.0M340.8 228.6h1.0M363.4 200.8h1.0M382.8 251.7h1.0M362.3 211.8h1.0M321.3 218.7h1.0M369.0 209.4h1.0M365.6 193.4h1.0M331.1 191.4h1.0M336.5 212.4h1.0M343.6 205.4h1.0M369.9 204.8h1.0M368.7 223.3h1.0M346.0 237.8h1.0M340.0 214.4h1.0M355.8 215.5h1.0M356.3 203.1h1.0M320.4 250.2h1.0M392.0 220.3h1.0M362.4 207.4h1.0M336.4 187.7h1.0M365.8 233.3h1.0M367.4 218.1h1.0M360.4 194.0h1.0M379.0 231.7h1.0M347.5 207.2h1.0M345.2 207.3h1.0M340.6 193.3h1.0M325.1 209.2h1.0M375.9 190.2h1.0M340.0 206.4h1.0M350.7 225.2h1.0M330.8 204.7h1.0M342.2 194.0h1.0M362.9 216.3h1.0M330.6 205.1h1.0M375.9 236.1h1.0M331.8 224.5h1.0M335.8 218.1h1.0M351.6 199.8h1.0M335.0 208.8h1.0M333.2 221.7h1.0M359.4 217.6h1.0M324.6 215.1h1.0M337.2 198.8h1.0M340.6 199.4h1.0M352.3 193.3h1.0M345.0 202.3h1.0M380.9 249.6h1.0M345.9 227.9h1.0M332.1 198.7h1.0M344.5 211.6h1.0M328.8 213.9h1.0M345.3 195.2h1.0M356.8 206.0h1.0M326.6 202.3h1.0M343.2 190.1h1.0M345.1 202.9h1.0M327.9 209.4h1.0M366.3 207.9h1.0M344.7 256.6h1.0M352.1 197.1h1.0M328.6 211.6h1.0M324.3 219.7h1.0M326.9 221.2h1.0M335.1 228.8h1.0M367.5 230.6h1.0M350.5 228.5h1.0M350.0 204.0h1.0M373.6 219.1h1.0M342.3 206.4h1.0M323.2 192.2h1.0M328.9 204.3h1.0M364.6 196.3h1.0M365.1 217.7h1.0M349.3 197.6h1.0M337.1 213.6h1.0M353.9 230.6h1.0M356.1 195.1h1.0M373.8 197.7h1.0M336.5 207.1h1.0M336.9 221.5h1.0M334.2 205.1h1.0M348.5 225.9h1.0M371.8 192.3h1.0M367.9 252.3h1.0M369.8 250.2h1.0M358.1 200.4h1.0M328.3 201.1h1.0M322.6 195.6h1.0M382.2 222.6h1.0M364.9 215.2h1.0M368.0 213.8h1.0M381.1 252.6h1.0M327.0 196.2h1.0M354.0 259.6h1.0M338.4 191.5h1.0M380.6 248.2h1.0M369.8 200.0h1.0M366.8 204.3h1.0M378.0 231.6h1.0M362.0 232.7h1.0M366.0 214.7h1.0M325.8 221.9h1.0M348.3 207.2h1.0M369.5 226.5h1.0M376.1 249.8h1.0M378.4 224.1h1.0M358.8 250.9h1.0M358.0 215.3h1.0M364.8 208.3h1.0M379.2 230.5h1.0M322.0 193.7h1.0M331.3 197.3h1.0M337.8 221.3h1.0M339.5 224.9h1.0M374.6 225.1h1.0M334.4 224.2h1.0M332.1 198.6h1.0M345.0 205.0h1.0M366.7 193.3h1.0M338.9 206.6h1.0M321.4 195.6h1.0M340.4 194.5h1.0M335.9 207.6h1.0M353.9 249.7h1.0M369.3 209.3h1.0M377.4 219.5h1.0M369.6 201.7h1.0M368.4 203.6h1.0M370.0 239.8h1.0M350.8 197.5h1.0M334.8 205.3h1.0M335.7 216.2h1.0M383.1 250.2h1.0M344.3 199.8h1.0M383.9 229.8h1.0M348.0 219.0h1.0M364.9 240.0h1.0M320.8 216.6h1.0M368.0 198.0h1.0M330.6 210.3h1.0M376.5 221.8h1.0M347.8 208.6h1.0M353.1 210.5h1.0M343.3 208.9h1.0M337.3 203.0h1.0M329.4 206.8h1.0M345.2 214.5h1.0M349.4 241.4h1.0M352.3 192.8h1.0M327.1 194.8h1.0M344.2 224.4h1.0M361.8 215.4h1.0M355.5 224.5h1.0M319.8 195.1h1.0M338.0 218.0h1.0M329.0 215.5h1.0M358.1 207.3h1.0M378.8 242.5h1.0M379.7 244.5h1.0M336.9 201.9h1.0M327.0 215.3h1.0M336.9 211.7h1.0M332.4 212.7h1.0M389.4 234.4h1.0M365.9 210.9h1.0M359.6 213.5h1.0M352.0 222.8h1.0M351.7 204.2h1.0M332.2 216.1h1.0M382.7 237.7h1.0M375.6 242.6h1.0M367.9 204.5h1.0M347.2 236.4h1.0M340.6 219.7h1.0M372.3 211.8h1.0M366.8 211.9h1.0M373.8 223.9h1.0M359.0 188.7h1.0M320.7 200.5h1.0M352.4 204.4h1.0M358.6 198.9h1.0M323.5 208.8h1.0M329.5 206.2h1.0M338.3 205.7h1.0M376.2 246.6h1.0M362.6 211.6h1.0M336.5 200.1h1.0M352.8 206.8h1.0M359.5 208.2h1.0M331.4 201.8h1.0M327.5 208.9h1.0M372.1 215.6h1.0M332.4 208.0h1.0M389.8 241.5h1.0M369.5 206.2h1.0M379.4 233.0h1.0M369.2 203.7h1.0M352.0 216.0h1.0M373.5 206.8h1.0M349.3 230.7h1.0M337.4 200.4h1.0M376.8 207.5h1.0M354.5 216.5h1.0M353.8 213.0h1.0M331.7 196.1h1.0M380.1 240.8h1.0M351.0 228.5h1.0M332.0 195.8h1.0M324.1 225.7h1.0M341.8 200.5h1.0M361.8 228.1h1.0M342.0 216.1h1.0M354.4 225.1h1.0M336.7 209.6h1.0M326.9 212.7h1.0M369.9 191.6h1.0M337.1 259.2h1.0M378.0 200.8h1.0M359.6 212.1h1.0M335.5 210.6h1.0M364.8 216.9h1.0M379.4 234.0h1.0M338.0 225.2h1.0M334.0 204.4h1.0M343.9 247.4h1.0M325.8 218.2h1.0M343.5 212.8h1.0M352.7 195.1h1.0M359.9 226.3h1.0M348.3 200.9h1.0M337.6 208.6h1.0M323.2 256.7h1.0M373.3 228.2h1.0M357.4 198.1h1.0M343.0 233.0h1.0M346.0 204.5h1.0M326.6 228.6h1.0M346.1 201.4h1.0M352.2 238.7h1.0M380.6 194.1h1.0M374.5 220.3h1.0M375.0 214.0h1.0M366.8 238.5h1.0M381.0 220.8h1.0M376.1 199.5h1.0M357.5 205.9h1.0M373.9 192.4h1.0M333.4 204.1h1.0M351.8 218.1h1.0M352.5 197.4h1.0M368.4 230.3h1.0M378.1 220.5h1.0M336.9 211.4h1.0M335.6 208.3h1.0M365.1 212.9h1.0M371.9 243.9h1.0M362.4 218.3h1.0M374.3 197.3h1.0M347.6 206.6h1.0M379.6 208.2h1.0M358.7 202.3h1.0M348.8 220.8h1.0M351.0 217.8h1.0M325.0 195.6h1.0M373.6 203.3h1.0M335.8 189.5h1.0M346.7 210.2h1.0M387.2 220.5h1.0M353.4 212.8h1.0M328.4 199.8h1.0M383.8 238.2h1.0M371.7 204.1h1.0M372.9 224.1h1.0M355.5 220.1h1.0M381.2 221.6h1.0" stroke="#6cba34" stroke-width="1.0" stroke-opacity="0.45" fill="none"/>
<ellipse cx="379.8" cy="253.0" rx="4.6" ry="8.3" fill="#4aa612" transform="rotate(6 379.8 253.0)" filter="url(#b5)"/>
<path d="M379.7 251.8h1.0M376.4 253.9h1.0M377.2 254.4h1.0M384.9 248.4h1.0M379.8 255.3h1.0M377.3 249.3h1.0M377.8 255.3h1.0M380.9 246.6h1.0M379.6 256.3h1.0M379.5 252.5h1.0M379.3 260.7h1.0M380.8 251.8h1.0M378.1 252.1h1.0M381.4 254.3h1.0M377.6 240.7h1.0M382.2 248.2h1.0M371.9 253.3h1.0M378.3 250.6h1.0M380.6 255.5h1.0M377.0 256.6h1.0M381.8 248.8h1.0M380.7 248.1h1.0M381.0 252.2h1.0M383.5 247.6h1.0M381.9 249.7h1.0M382.5 253.8h1.0M384.1 244.3h1.0M375.5 251.6h1.0M380.5 255.8h1.0M378.0 256.9h1.0M376.3 244.5h1.0M379.7 258.4h1.0M384.9 252.5h1.0M381.0 250.6h1.0M376.2 250.8h1.0M376.0 260.1h1.0M375.6 253.3h1.0M379.5 249.1h1.0M381.1 250.3h1.0M375.4 252.3h1.0M379.8 256.3h1.0M378.7 259.1h1.0M380.7 258.2h1.0M379.5 251.2h1.0M381.7 250.9h1.0M380.0 252.8h1.0M380.0 249.1h1.0M378.9 252.6h1.0M377.6 254.7h1.0M379.9 250.6h1.0M381.9 254.5h1.0M379.7 247.8h1.0M380.3 256.3h1.0M380.9 252.7h1.0M381.9 252.5h1.0M379.4 257.4h1.0M380.3 254.0h1.0M377.7 255.7h1.0M379.4 258.5h1.0M383.4 245.5h1.0M379.3 254.6h1.0M375.5 251.3h1.0M382.6 250.1h1.0M375.0 253.4h1.0M380.7 259.0h1.0M379.1 254.4h1.0M379.5 250.2h1.0M378.6 254.3h1.0M382.3 260.5h1.0M378.3 247.4h1.0M377.4 251.3h1.0M379.4 250.1h1.0M378.0 254.8h1.0M379.4 248.3h1.0M377.5 250.6h1.0M380.4 241.6h1.0M382.6 258.0h1.0M382.3 257.4h1.0M384.0 248.4h1.0M375.9 253.8h1.0M381.5 250.5h1.0M379.8 251.4h1.0M382.1 245.4h1.0M380.4 256.2h1.0M378.9 257.7h1.0M377.4 260.0h1.0M375.1 257.4h1.0M380.0 253.1h1.0M375.8 255.2h1.0M379.0 246.4h1.0M378.1 254.7h1.0M376.7 248.8h1.0M376.2 252.8h1.0M377.2 248.7h1.0M380.6 257.2h1.0M381.3 251.2h1.0M383.8 250.3h1.0M380.4 256.5h1.0M380.2 249.9h1.0M381.7 247.1h1.0M382.5 251.1h1.0M379.9 255.1h1.0M382.4 255.3h1.0M377.4 256.0h1.0M379.5 251.2h1.0M379.4 257.6h1.0M379.4 247.8h1.0M378.8 258.3h1.0M377.1 257.7h1.0M380.4 249.5h1.0M377.3 247.5h1.0M376.6 254.0h1.0M377.1 249.3h1.0M376.5 257.2h1.0M380.0 250.7h1.0M382.3 252.5h1.0M377.6 252.5h1.0M377.9 244.1h1.0M382.4 255.3h1.0M380.1 252.6h1.0M377.7 259.2h1.0M380.3 256.5h1.0M380.5 254.0h1.0M378.8 255.9h1.0M376.5 251.3h1.0M382.0 256.8h1.0M384.7 255.1h1.0M381.1 249.6h1.0M380.3 253.4h1.0M376.1 252.4h1.0M378.5 254.9h1.0M378.8 249.4h1.0M379.8 263.1h1.0M380.6 254.0h1.0M376.3 251.9h1.0M377.7 259.3h1.0M379.1 257.0h1.0M378.8 255.5h1.0M378.6 250.8h1.0M380.6 255.1h1.0M380.7 249.1h1.0M379.6 259.4h1.0M381.6 254.0h1.0M379.1 263.4h1.0M380.4 252.8h1.0M378.4 254.5h1.0M375.8 252.6h1.0M375.5 252.5h1.0M381.3 256.5h1.0M380.3 251.3h1.0M380.4 248.2h1.0M377.5 251.5h1.0M382.7 255.6h1.0M381.7 256.0h1.0M383.2 251.1h1.0M382.0 255.8h1.0M378.6 255.2h1.0M383.4 245.5h1.0M382.9 251.9h1.0M379.3 250.5h1.0M376.5 248.5h1.0M372.9 257.9h1.0M377.5 251.7h1.0M379.5 254.5h1.0M380.9 252.9h1.0M382.4 252.9h1.0M381.7 260.0h1.0M378.6 248.4h1.0M378.9 246.5h1.0M382.7 243.5h1.0M379.6 250.8h1.0M380.2 250.4h1.0M380.4 252.5h1.0M379.1 247.2h1.0M384.4 256.1h1.0M381.1 251.7h1.0M378.1 253.1h1.0M382.5 248.5h1.0M377.9 254.5h1.0M380.4 251.9h1.0M381.8 254.5h1.0M377.3 251.6h1.0M379.7 253.2h1.0M378.3 252.1h1.0M377.2 249.9h1.0M379.2 250.7h1.0M377.7 256.7h1.0M375.6 259.3h1.0M379.9 259.4h1.0M376.4 253.5h1.0M376.6 255.8h1.0M377.2 249.5h1.0M380.2 252.8h1.0M381.9 250.6h1.0M375.4 254.1h1.0M380.7 250.8h1.0M379.0 260.4h1.0M378.4 251.7h1.0M376.0 253.2h1.0M376.5 257.0h1.0M379.3 246.5h1.0M377.1 254.6h1.0M379.6 252.6h1.0M376.6 254.0h1.0M375.8 256.9h1.0M380.1 260.3h1.0M380.4 255.4h1.0M378.7 253.6h1.0M379.3 254.4h1.0M380.7 245.2h1.0M382.2 256.0h1.0M376.1 254.7h1.0M375.1 261.1h1.0M381.0 250.5h1.0M378.8 257.2h1.0M379.0 258.6h1.0M380.2 249.2h1.0M377.2 254.6h1.0M380.2 252.4h1.0M378.9 254.8h1.0M379.6 249.4h1.0M382.1 258.3h1.0M374.8 253.5h1.0M382.8 248.3h1.0M377.9 251.4h1.0M378.2 257.5h1.0M380.6 261.4h1.0M376.8 250.8h1.0M381.4 245.9h1.0M380.7 246.6h1.0M380.3 247.6h1.0M379.6 257.2h1.0M377.1 258.3h1.0M376.6 253.4h1.0M380.8 258.8h1.0M378.9 253.8h1.0M376.0 252.2h1.0M377.2 252.5h1.0M380.0 251.4h1.0M382.9 252.8h1.0M380.5 252.4h1.0M380.1 252.3h1.0M384.2 247.8h1.0M378.8 251.9h1.0M379.0 254.0h1.0M378.0 247.6h1.0M372.9 258.4h1.0M379.2 254.1h1.0M378.8 254.5h1.0M377.4 253.1h1.0M376.8 253.2h1.0M384.8 254.3h1.0M379.6 251.1h1.0M379.4 253.6h1.0M377.4 247.6h1.0M378.6 253.0h1.0M380.6 248.4h1.0M374.8 255.9h1.0M382.2 250.2h1.0M382.6 255.5h1.0M375.9 259.2h1.0M380.6 260.7h1.0M380.8 255.0h1.0M380.6 264.9h1.0M383.0 252.9h1.0M375.8 251.0h1.0M379.4 246.4h1.0M377.0 248.0h1.0M381.5 251.6h1.0M381.1 248.7h1.0M378.5 258.1h1.0M380.0 257.4h1.0M383.1 260.5h1.0M381.0 256.6h1.0M384.6 257.4h1.0M375.1 245.6h1.0M380.1 260.2h1.0M378.8 259.9h1.0M376.9 249.0h1.0M378.1 255.4h1.0M381.4 252.8h1.0M376.0 250.6h1.0M379.8 258.1h1.0M377.9 247.8h1.0M378.5 256.7h1.0M379.6 254.2h1.0M379.7 254.0h1.0M381.5 256.0h1.0M380.2 249.9h1.0M377.8 252.7h1.0M379.9 258.0h1.0M378.6 253.9h1.0M378.6 246.9h1.0M384.0 247.2h1.0M378.7 247.9h1.0M378.8 251.0h1.0M380.1 252.0h1.0M379.2 258.4h1.0M380.9 251.7h1.0M379.7 251.5h1.0" stroke="#4aa612" stroke-width="1.0" stroke-opacity="0.6" fill="none"/>
<rect x="431" y="172.5" width="103" height="94.19999999999999" fill="none" stroke="#c4c4c4" stroke-width="1"/>
<line x1="431" y1="172.5" x2="431" y2="266.7" stroke="#777" stroke-width="1.1"/>
<line x1="430.5" y1="266.7" x2="534" y2="266.7" stroke="#3a3a3a" stroke-width="1.45"/>
<line x1="429" y1="180.3" x2="431" y2="180.3" stroke="#555" stroke-width="0.8"/>
<text x="426.7" y="182.0" font-size="5" font-weight="bold" text-anchor="end" fill="#666">10<tspan font-size="3.4" dy="-2">5</tspan></text>
<line x1="429" y1="201.4" x2="431" y2="201.4" stroke="#555" stroke-width="0.8"/>
<text x="426.7" y="203.1" font-size="5" font-weight="bold" text-anchor="end" fill="#666">10<tspan font-size="3.4" dy="-2">4</tspan></text>
<line x1="429" y1="223.5" x2="431" y2="223.5" stroke="#555" stroke-width="0.8"/>
<text x="426.7" y="225.2" font-size="5" font-weight="bold" text-anchor="end" fill="#666">10<tspan font-size="3.4" dy="-2">3</tspan></text>
<line x1="429" y1="246.1" x2="431" y2="246.1" stroke="#555" stroke-width="0.8"/>
<text x="426.7" y="247.8" font-size="5" font-weight="bold" text-anchor="end" fill="#666">10<tspan font-size="3.4" dy="-2">2</tspan></text>
<line x1="429" y1="257.1" x2="431" y2="257.1" stroke="#222" stroke-width="1.3"/>
<text x="427" y="258.9" font-size="5.2" font-weight="bold" text-anchor="end" fill="#666">0</text>
<line x1="429.8" y1="264.7" x2="431" y2="264.7" stroke="#777" stroke-width="0.6"/>
<line x1="429.8" y1="261.7" x2="431" y2="261.7" stroke="#777" stroke-width="0.6"/>
<line x1="429.8" y1="253.7" x2="431" y2="253.7" stroke="#777" stroke-width="0.6"/>
<line x1="429.8" y1="236.7" x2="431" y2="236.7" stroke="#777" stroke-width="0.6"/>
<line x1="429.8" y1="231.7" x2="431" y2="231.7" stroke="#777" stroke-width="0.6"/>
<line x1="429.8" y1="228.7" x2="431" y2="228.7" stroke="#777" stroke-width="0.6"/>
<line x1="429.8" y1="226.7" x2="431" y2="226.7" stroke="#777" stroke-width="0.6"/>
<line x1="429.8" y1="214.7" x2="431" y2="214.7" stroke="#777" stroke-width="0.6"/>
<line x1="429.8" y1="209.7" x2="431" y2="209.7" stroke="#777" stroke-width="0.6"/>
<line x1="429.8" y1="206.7" x2="431" y2="206.7" stroke="#777" stroke-width="0.6"/>
<line x1="429.8" y1="204.7" x2="431" y2="204.7" stroke="#777" stroke-width="0.6"/>
<line x1="429.8" y1="193.7" x2="431" y2="193.7" stroke="#777" stroke-width="0.6"/>
<line x1="429.8" y1="187.7" x2="431" y2="187.7" stroke="#777" stroke-width="0.6"/>
<line x1="429.8" y1="184.7" x2="431" y2="184.7" stroke="#777" stroke-width="0.6"/>
<line x1="429.8" y1="182.7" x2="431" y2="182.7" stroke="#777" stroke-width="0.6"/>
<line x1="452.5" y1="266.7" x2="452.5" y2="268.7" stroke="#555" stroke-width="0.8"/>
<text x="449.3" y="276.3" font-size="5" font-weight="bold" fill="#666">10<tspan font-size="3.4" dy="-2">2</tspan></text>
<line x1="476.6" y1="266.7" x2="476.6" y2="268.7" stroke="#555" stroke-width="0.8"/>
<text x="473.4" y="276.3" font-size="5" font-weight="bold" fill="#666">10<tspan font-size="3.4" dy="-2">3</tspan></text>
<line x1="500.0" y1="266.7" x2="500.0" y2="268.7" stroke="#555" stroke-width="0.8"/>
<text x="496.8" y="276.3" font-size="5" font-weight="bold" fill="#666">10<tspan font-size="3.4" dy="-2">4</tspan></text>
<line x1="523.0" y1="266.7" x2="523.0" y2="268.7" stroke="#555" stroke-width="0.8"/>
<text x="519.8" y="276.3" font-size="5" font-weight="bold" fill="#666">10<tspan font-size="3.4" dy="-2">5</tspan></text>
<line x1="441.8" y1="266.7" x2="441.8" y2="268.7" stroke="#222" stroke-width="1.3"/>
<text x="441.8" y="276.3" font-size="5.2" font-weight="bold" text-anchor="middle" fill="#666">0</text>
<line x1="433.0" y1="266.7" x2="433.0" y2="267.9" stroke="#777" stroke-width="0.6"/>
<line x1="436.0" y1="266.7" x2="436.0" y2="267.9" stroke="#777" stroke-width="0.6"/>
<line x1="446.0" y1="266.7" x2="446.0" y2="267.9" stroke="#777" stroke-width="0.6"/>
<line x1="449.0" y1="266.7" x2="449.0" y2="267.9" stroke="#777" stroke-width="0.6"/>
<line x1="461.0" y1="266.7" x2="461.0" y2="267.9" stroke="#777" stroke-width="0.6"/>
<line x1="467.0" y1="266.7" x2="467.0" y2="267.9" stroke="#777" stroke-width="0.6"/>
<line x1="471.0" y1="266.7" x2="471.0" y2="267.9" stroke="#777" stroke-width="0.6"/>
<line x1="474.0" y1="266.7" x2="474.0" y2="267.9" stroke="#777" stroke-width="0.6"/>
<line x1="485.0" y1="266.7" x2="485.0" y2="267.9" stroke="#777" stroke-width="0.6"/>
<line x1="491.0" y1="266.7" x2="491.0" y2="267.9" stroke="#777" stroke-width="0.6"/>
<line x1="495.0" y1="266.7" x2="495.0" y2="267.9" stroke="#777" stroke-width="0.6"/>
<line x1="498.0" y1="266.7" x2="498.0" y2="267.9" stroke="#777" stroke-width="0.6"/>
<line x1="508.0" y1="266.7" x2="508.0" y2="267.9" stroke="#777" stroke-width="0.6"/>
<line x1="514.0" y1="266.7" x2="514.0" y2="267.9" stroke="#777" stroke-width="0.6"/>
<line x1="518.0" y1="266.7" x2="518.0" y2="267.9" stroke="#777" stroke-width="0.6"/>
<line x1="521.0" y1="266.7" x2="521.0" y2="267.9" stroke="#777" stroke-width="0.6"/>
<line x1="531.0" y1="266.7" x2="531.0" y2="267.9" stroke="#777" stroke-width="0.6"/>
<text x="424.8" y="154.8" font-size="12" text-anchor="start" font-weight="normal" fill="#222" class="t">T cell + IFN-γ-HLCs +</text>
<text x="435.5" y="169.3" font-size="11.9" text-anchor="start" font-weight="normal" fill="#222" class="t">αCD3/28 + 1-LMT</text>
<path d="M483.3 207.9h1.0M514.9 197.9h1.0M477.8 213.8h1.0M474.1 199.4h1.0M498.3 215.2h1.0M484.1 213.6h1.0M477.5 210.9h1.0M500.3 206.1h1.0M479.5 202.5h1.0M511.0 214.3h1.0M493.3 233.6h1.0M509.5 203.4h1.0M467.4 244.6h1.0M482.7 192.1h1.0M480.7 222.0h1.0M475.9 197.0h1.0M488.8 194.3h1.0M505.7 244.6h1.0M514.6 238.9h1.0M487.0 212.8h1.0M477.9 192.3h1.0M489.7 190.1h1.0M505.5 221.1h1.0M477.1 203.1h1.0M479.2 212.1h1.0M514.5 228.2h1.0M513.8 203.1h1.0M511.9 210.0h1.0M499.7 236.5h1.0M480.9 215.3h1.0M454.8 196.8h1.0M476.5 198.6h1.0M475.4 205.3h1.0M486.0 231.5h1.0M509.4 237.2h1.0M493.0 205.8h1.0M475.0 202.5h1.0M477.6 195.1h1.0M456.1 206.3h1.0M474.5 207.2h1.0M477.0 193.0h1.0M514.7 212.1h1.0M494.4 207.3h1.0M493.8 220.3h1.0M485.5 196.3h1.0M469.3 248.9h1.0M478.8 195.0h1.0M473.7 200.0h1.0M489.8 193.5h1.0M479.3 206.8h1.0M471.8 196.5h1.0M514.2 245.6h1.0M475.9 219.8h1.0M506.1 190.8h1.0M460.6 249.5h1.0M491.4 213.6h1.0M503.0 212.0h1.0M479.6 200.0h1.0M492.2 200.1h1.0M476.2 204.7h1.0M507.0 214.0h1.0M468.7 219.2h1.0M473.5 192.0h1.0M485.2 197.7h1.0M469.9 215.4h1.0M467.1 205.3h1.0M504.7 195.8h1.0M468.4 201.5h1.0M510.5 217.4h1.0M472.1 204.7h1.0M520.4 254.5h1.0M474.6 200.8h1.0M471.7 203.8h1.0M494.8 252.2h1.0M464.8 217.1h1.0M462.1 216.9h1.0M488.2 218.0h1.0M513.3 222.7h1.0M466.6 192.2h1.0M481.5 206.0h1.0M459.8 219.8h1.0M518.9 220.7h1.0M512.2 220.6h1.0M469.1 190.5h1.0M501.1 219.8h1.0M492.9 215.3h1.0M511.3 227.9h1.0M468.7 218.3h1.0M470.6 239.2h1.0M506.3 198.0h1.0M518.5 232.2h1.0M478.7 199.9h1.0M467.9 207.6h1.0M492.6 193.3h1.0M511.7 201.0h1.0M472.2 205.6h1.0M468.5 204.4h1.0M501.5 240.3h1.0M494.0 217.7h1.0M510.6 203.3h1.0M495.1 226.6h1.0M487.8 227.8h1.0M488.4 201.7h1.0M511.9 221.1h1.0M501.6 208.6h1.0M499.0 232.8h1.0M477.7 216.0h1.0M471.0 191.6h1.0M487.1 192.3h1.0M508.6 214.3h1.0M506.3 205.5h1.0M506.7 213.5h1.0M504.9 198.7h1.0M510.8 228.5h1.0M490.0 205.6h1.0M468.4 198.5h1.0M509.0 211.1h1.0M475.9 189.8h1.0M472.5 196.6h1.0M519.7 223.7h1.0M504.3 224.5h1.0M505.3 192.6h1.0M479.1 207.0h1.0M483.4 192.3h1.0M515.2 228.4h1.0M511.8 216.7h1.0M505.2 203.2h1.0M515.7 234.4h1.0M478.4 205.9h1.0M473.3 200.1h1.0M463.1 191.9h1.0M504.8 218.2h1.0M504.9 208.3h1.0M503.3 218.0h1.0M510.6 203.3h1.0M483.0 204.6h1.0M493.9 200.2h1.0M490.5 192.4h1.0M465.3 190.1h1.0M479.0 217.2h1.0M482.7 190.5h1.0M468.5 220.7h1.0M507.0 205.3h1.0M462.0 216.3h1.0M472.2 226.3h1.0M515.7 235.9h1.0M500.7 238.3h1.0M506.7 198.7h1.0M512.0 250.9h1.0M505.2 243.1h1.0M514.3 232.1h1.0M515.3 206.1h1.0M462.6 193.9h1.0M507.7 245.8h1.0M476.0 205.1h1.0M500.9 209.4h1.0M490.7 204.8h1.0M489.1 206.1h1.0M517.9 245.9h1.0M489.6 206.8h1.0M498.7 210.9h1.0M494.6 196.4h1.0M490.2 202.2h1.0M474.1 245.9h1.0M510.3 199.3h1.0M483.3 212.0h1.0M466.4 211.6h1.0M484.2 198.5h1.0M484.8 222.5h1.0M494.7 214.8h1.0M481.8 253.9h1.0M512.5 228.4h1.0M506.4 224.7h1.0M488.3 202.5h1.0M488.0 200.1h1.0M484.4 210.5h1.0M487.3 211.2h1.0M456.4 210.7h1.0M480.9 189.6h1.0M468.9 194.9h1.0M490.0 245.3h1.0M471.9 207.5h1.0M481.3 208.1h1.0M494.2 254.2h1.0M503.8 246.6h1.0M507.2 204.0h1.0M467.4 204.4h1.0M516.1 217.4h1.0M491.0 206.9h1.0M480.7 198.8h1.0M467.6 231.4h1.0M486.6 217.9h1.0M502.6 219.0h1.0M517.3 216.5h1.0M475.5 203.5h1.0M469.1 212.7h1.0M475.9 199.0h1.0M489.4 209.6h1.0M462.5 201.1h1.0M479.8 211.2h1.0M479.7 222.8h1.0M491.4 242.5h1.0M503.1 242.3h1.0M485.3 214.7h1.0M488.7 206.7h1.0M484.9 199.1h1.0M482.1 204.9h1.0M479.5 199.8h1.0M463.5 219.7h1.0M483.4 209.0h1.0M474.5 207.8h1.0M480.0 209.8h1.0M508.7 213.5h1.0M483.2 201.0h1.0M501.0 217.3h1.0M476.5 202.8h1.0M511.0 236.2h1.0M507.9 209.2h1.0M504.6 224.0h1.0M520.5 225.6h1.0M513.8 215.9h1.0M501.2 210.0h1.0M480.5 258.9h1.0M463.7 196.4h1.0M471.6 195.0h1.0M503.2 238.6h1.0M464.7 200.0h1.0M475.4 193.6h1.0M482.6 241.1h1.0M511.9 229.6h1.0M475.0 210.3h1.0M483.1 200.1h1.0M518.3 228.3h1.0M478.8 221.4h1.0M466.1 200.9h1.0M469.7 191.6h1.0M474.5 198.3h1.0M484.1 223.1h1.0M469.4 198.4h1.0M482.5 205.1h1.0M518.3 226.9h1.0M476.0 232.5h1.0M484.8 230.0h1.0M516.3 211.0h1.0M467.3 200.5h1.0M508.6 211.3h1.0M480.9 221.8h1.0M476.4 223.4h1.0M492.7 199.9h1.0M499.9 197.2h1.0M462.0 235.8h1.0M485.5 202.0h1.0M482.3 202.4h1.0M512.1 235.4h1.0M464.7 207.8h1.0M474.0 214.4h1.0M490.5 216.3h1.0M486.4 210.2h1.0M468.9 197.6h1.0M507.6 229.5h1.0M516.0 199.1h1.0M468.8 213.5h1.0M497.5 224.8h1.0M464.6 191.6h1.0M494.8 207.3h1.0M498.7 210.2h1.0M507.0 242.5h1.0M482.5 208.5h1.0M476.4 196.1h1.0M481.1 231.4h1.0M464.8 202.1h1.0M499.8 204.2h1.0M471.6 200.2h1.0M480.5 207.8h1.0M476.5 233.5h1.0M491.9 205.9h1.0M504.3 205.0h1.0M473.5 210.9h1.0M457.7 217.0h1.0M504.7 194.1h1.0M492.5 197.3h1.0M488.0 199.9h1.0M470.6 198.7h1.0M485.0 194.4h1.0M482.6 212.9h1.0M515.7 242.8h1.0M493.0 253.0h1.0M470.8 192.4h1.0M491.1 217.3h1.0M475.4 218.1h1.0M464.5 198.0h1.0M491.9 187.7h1.0M498.9 203.9h1.0M477.6 199.7h1.0M510.7 244.8h1.0M472.3 210.0h1.0M487.2 239.1h1.0M472.3 238.1h1.0M478.4 214.4h1.0M478.2 193.0h1.0M480.1 194.0h1.0M465.9 195.5h1.0M490.7 209.2h1.0M484.7 212.1h1.0M486.3 206.8h1.0M515.9 237.3h1.0M476.9 196.9h1.0M492.2 220.2h1.0M458.5 222.0h1.0M518.1 246.9h1.0M517.9 238.5h1.0M473.2 212.1h1.0M499.1 217.0h1.0M501.1 235.6h1.0M478.7 197.1h1.0M478.1 200.0h1.0M502.2 204.2h1.0M509.0 216.4h1.0M513.4 215.4h1.0M467.3 211.9h1.0M507.8 193.4h1.0M487.6 210.5h1.0M506.6 212.4h1.0M473.2 219.5h1.0M493.7 192.0h1.0M466.8 196.4h1.0M484.3 213.2h1.0M470.3 235.9h1.0M501.4 201.8h1.0M462.4 223.6h1.0M495.7 211.7h1.0M476.6 225.4h1.0M516.8 211.9h1.0M512.8 255.0h1.0M511.5 239.2h1.0M473.3 186.5h1.0M498.1 231.1h1.0M473.4 191.6h1.0M498.8 200.0h1.0M470.6 194.4h1.0M462.9 189.0h1.0M493.0 214.8h1.0M494.6 213.4h1.0M501.9 235.2h1.0M468.9 200.5h1.0M485.9 215.9h1.0M492.0 231.1h1.0M485.1 219.6h1.0M475.3 188.5h1.0M494.6 204.0h1.0M508.5 215.1h1.0M495.1 185.6h1.0M478.3 203.8h1.0M508.1 201.9h1.0M473.2 222.3h1.0M480.0 246.5h1.0M475.8 195.5h1.0M487.7 194.6h1.0M457.6 209.5h1.0M512.5 225.5h1.0M511.7 211.1h1.0M512.2 219.0h1.0M483.7 196.4h1.0M506.0 206.1h1.0M484.7 212.1h1.0M492.6 203.0h1.0M459.7 190.1h1.0M504.6 198.6h1.0M475.3 220.5h1.0M480.4 213.9h1.0M520.0 249.5h1.0M475.1 197.7h1.0M490.5 209.8h1.0M501.0 217.8h1.0M507.5 224.8h1.0M491.3 215.1h1.0M468.1 199.9h1.0M477.0 224.6h1.0M465.8 202.8h1.0M473.5 200.0h1.0M511.6 207.9h1.0M513.8 228.5h1.0M494.6 197.0h1.0M495.0 225.3h1.0M483.7 221.9h1.0M485.1 238.3h1.0M480.9 195.7h1.0M486.5 219.6h1.0M511.9 209.0h1.0M523.7 249.8h1.0M475.5 217.8h1.0M492.1 239.9h1.0M492.0 214.9h1.0M475.8 206.8h1.0M476.4 202.1h1.0M472.9 221.7h1.0M487.2 208.3h1.0M511.6 205.1h1.0M467.4 196.2h1.0M489.4 193.6h1.0M489.3 228.5h1.0M471.7 232.6h1.0M473.8 187.5h1.0M486.6 213.4h1.0M477.2 202.1h1.0M494.9 205.3h1.0M462.4 247.6h1.0M509.2 224.5h1.0M509.6 228.9h1.0M467.6 215.7h1.0M494.7 205.3h1.0M488.2 206.1h1.0M506.5 227.9h1.0M513.5 230.0h1.0M493.3 244.5h1.0M471.4 190.3h1.0M461.4 229.2h1.0M481.1 217.4h1.0M493.2 201.5h1.0M472.0 197.5h1.0M489.5 200.9h1.0M501.6 213.6h1.0M459.5 216.8h1.0M465.2 200.0h1.0M474.9 216.5h1.0M506.5 234.8h1.0M512.1 217.2h1.0M515.9 226.0h1.0M507.1 206.0h1.0M470.1 208.7h1.0M483.2 216.2h1.0M485.2 203.1h1.0M474.7 205.1h1.0M466.5 216.5h1.0M484.0 195.9h1.0M470.6 214.9h1.0M496.3 217.0h1.0M485.0 205.8h1.0M480.0 194.0h1.0M475.4 205.4h1.0M481.7 196.7h1.0M510.7 238.1h1.0M461.8 193.9h1.0M490.8 212.0h1.0M494.9 240.6h1.0M491.0 214.3h1.0M486.5 234.8h1.0M485.8 199.4h1.0M478.2 196.9h1.0M516.4 241.1h1.0M467.1 206.7h1.0M486.6 202.7h1.0M492.3 205.2h1.0M478.2 221.1h1.0M512.3 258.4h1.0M482.4 232.2h1.0M462.5 202.8h1.0M485.9 210.6h1.0M483.2 203.3h1.0M483.8 186.2h1.0M510.3 205.8h1.0M470.5 213.2h1.0M485.6 195.4h1.0M482.4 202.7h1.0M487.6 202.0h1.0M516.9 225.1h1.0M506.8 194.2h1.0M486.6 194.7h1.0M479.3 195.9h1.0M505.4 221.6h1.0M473.6 213.4h1.0M507.7 207.1h1.0M517.1 223.7h1.0M495.1 205.7h1.0M509.8 194.1h1.0M512.1 198.4h1.0M490.5 224.9h1.0M473.2 190.4h1.0M476.2 205.0h1.0M475.9 196.6h1.0M512.2 239.3h1.0M463.6 219.7h1.0M520.8 238.2h1.0M470.7 192.0h1.0M473.0 201.3h1.0M461.8 207.6h1.0M485.5 192.3h1.0M493.5 215.5h1.0M492.9 213.9h1.0M502.6 227.1h1.0M491.3 203.0h1.0M469.9 210.6h1.0M509.7 227.5h1.0M481.1 222.4h1.0M485.0 196.5h1.0M482.5 221.4h1.0M516.0 228.0h1.0M465.4 235.2h1.0M472.8 212.9h1.0M462.1 252.5h1.0M491.1 230.6h1.0M462.0 198.9h1.0M467.7 196.6h1.0M481.0 222.1h1.0M487.4 203.5h1.0M464.4 206.7h1.0M472.1 207.2h1.0M484.6 233.3h1.0M465.3 221.3h1.0M460.4 232.4h1.0M478.8 190.6h1.0M463.9 185.1h1.0M517.5 225.4h1.0M466.7 198.0h1.0M500.9 214.0h1.0M477.4 240.6h1.0M497.3 206.6h1.0M495.8 192.3h1.0M479.8 216.9h1.0M487.7 211.4h1.0M509.2 198.3h1.0M476.8 200.3h1.0M508.1 219.5h1.0M479.3 198.2h1.0M473.3 187.8h1.0M484.0 212.1h1.0M472.0 199.9h1.0M461.9 200.2h1.0M466.9 195.6h1.0M486.9 244.0h1.0M498.7 224.0h1.0M501.6 215.3h1.0M480.2 187.5h1.0M480.9 189.8h1.0M493.6 189.3h1.0M498.6 208.4h1.0M477.9 210.2h1.0M479.7 200.6h1.0M466.0 216.7h1.0M486.5 219.5h1.0M505.5 257.8h1.0M478.8 199.6h1.0M503.6 193.2h1.0M487.6 197.3h1.0M500.0 233.0h1.0M470.2 204.8h1.0M510.6 217.3h1.0M497.6 210.6h1.0M494.4 212.4h1.0M497.2 199.4h1.0M497.3 229.9h1.0M489.9 216.8h1.0M494.0 190.1h1.0M491.3 201.3h1.0M486.2 204.2h1.0M518.8 235.5h1.0M516.0 211.7h1.0M472.7 214.1h1.0M503.5 228.5h1.0M509.7 194.2h1.0M486.0 248.0h1.0M473.2 191.5h1.0M478.8 224.2h1.0M475.6 203.6h1.0M489.7 217.3h1.0M494.0 213.0h1.0M493.4 205.5h1.0M513.1 193.6h1.0M468.4 229.5h1.0M469.7 210.5h1.0M470.4 209.9h1.0M504.3 199.1h1.0M517.0 222.4h1.0M465.5 193.4h1.0M482.4 205.8h1.0M473.9 198.6h1.0M464.8 196.5h1.0M476.3 215.0h1.0M519.3 251.3h1.0M490.0 245.3h1.0M478.8 189.2h1.0M507.2 220.3h1.0M470.3 224.7h1.0M478.5 196.6h1.0M468.6 256.2h1.0M509.1 244.3h1.0M511.2 235.9h1.0M492.7 220.9h1.0M508.7 214.7h1.0M488.8 215.3h1.0M471.3 204.3h1.0M517.0 225.1h1.0M506.0 239.4h1.0M489.0 214.0h1.0M479.3 200.7h1.0M494.1 221.8h1.0M486.1 198.5h1.0M474.3 202.1h1.0M511.3 219.7h1.0M483.0 201.8h1.0M510.9 235.6h1.0M493.1 219.6h1.0M469.9 251.5h1.0M488.4 201.9h1.0M516.3 247.7h1.0M489.2 212.0h1.0M483.3 201.9h1.0M509.0 220.2h1.0M506.3 210.1h1.0M514.3 199.8h1.0M498.5 235.1h1.0M489.6 213.5h1.0M517.0 220.5h1.0M457.1 208.8h1.0M487.5 195.8h1.0M509.4 204.8h1.0M505.7 206.6h1.0M454.9 199.4h1.0M507.4 213.8h1.0M486.0 203.5h1.0M509.6 213.9h1.0M511.5 226.5h1.0M506.5 237.6h1.0M475.6 215.4h1.0M488.4 245.9h1.0M479.5 208.2h1.0M491.1 218.3h1.0M477.8 199.0h1.0M474.5 200.5h1.0M459.4 202.4h1.0M470.5 200.7h1.0M498.0 207.4h1.0M520.5 225.8h1.0M459.3 202.7h1.0M481.3 210.5h1.0M472.1 200.8h1.0M463.3 203.8h1.0M476.1 211.4h1.0M484.4 196.7h1.0M473.0 188.1h1.0M494.3 219.8h1.0M494.3 208.7h1.0M520.0 240.7h1.0M492.0 243.3h1.0M478.0 199.7h1.0M504.0 236.0h1.0M517.4 224.7h1.0M470.6 206.6h1.0M475.1 211.8h1.0M497.7 210.8h1.0M476.5 239.3h1.0M471.3 213.1h1.0M496.9 252.5h1.0M476.8 196.6h1.0M480.4 205.9h1.0M467.4 219.8h1.0M486.1 204.2h1.0M494.1 213.4h1.0M482.7 240.1h1.0M470.7 208.2h1.0M478.5 218.7h1.0M473.8 203.2h1.0M505.7 220.5h1.0M504.0 231.1h1.0M485.9 241.0h1.0M505.2 214.3h1.0M507.2 233.3h1.0M489.0 205.2h1.0M490.2 205.1h1.0M493.4 191.1h1.0M496.3 197.3h1.0M507.1 227.9h1.0M505.1 215.6h1.0M498.6 217.7h1.0M506.3 225.6h1.0M484.3 198.2h1.0M483.2 206.1h1.0M478.4 205.9h1.0M468.7 207.6h1.0M464.2 208.3h1.0M476.0 200.2h1.0M518.0 232.6h1.0M507.7 211.8h1.0M487.9 199.8h1.0M495.3 204.5h1.0M486.4 198.0h1.0M484.6 203.6h1.0M473.3 221.8h1.0M495.1 216.1h1.0M508.0 198.2h1.0M470.8 198.8h1.0M461.3 205.7h1.0M483.9 199.8h1.0M509.7 235.0h1.0M490.6 204.7h1.0M515.8 245.1h1.0M471.2 190.8h1.0M480.5 205.2h1.0M484.3 209.4h1.0M485.6 197.9h1.0M468.8 204.1h1.0M473.4 219.1h1.0M461.0 232.5h1.0M485.2 225.8h1.0M497.7 203.0h1.0M501.6 203.3h1.0M490.7 206.3h1.0M463.2 203.6h1.0M485.6 216.2h1.0M490.6 202.8h1.0M515.6 240.9h1.0M518.1 217.9h1.0M499.4 220.5h1.0M472.0 189.1h1.0M469.7 250.0h1.0M481.9 208.3h1.0M513.2 209.6h1.0M486.0 211.3h1.0M466.1 204.3h1.0M494.5 224.8h1.0M486.0 197.5h1.0M485.1 211.7h1.0M484.6 212.6h1.0M485.5 208.2h1.0M473.5 243.1h1.0M473.6 198.8h1.0M498.9 195.1h1.0M484.4 209.3h1.0M488.2 206.7h1.0M495.4 214.9h1.0M510.4 211.0h1.0M526.8 257.4h1.0M458.7 211.5h1.0M503.5 224.0h1.0M483.2 235.9h1.0M480.3 198.9h1.0M511.3 257.3h1.0M503.0 223.2h1.0M468.4 189.3h1.0M521.2 193.5h1.0M499.3 219.5h1.0M496.4 202.2h1.0M509.5 217.5h1.0M498.3 211.2h1.0M480.6 219.9h1.0M513.9 222.1h1.0M492.9 215.5h1.0M480.6 213.3h1.0M490.3 189.0h1.0M506.3 245.8h1.0M503.1 226.1h1.0M510.3 216.0h1.0M474.7 219.7h1.0M506.3 208.5h1.0M459.7 194.3h1.0M495.3 228.3h1.0M480.0 192.6h1.0M495.8 208.6h1.0M468.3 192.5h1.0M486.2 223.5h1.0M463.9 231.9h1.0M512.5 247.1h1.0M483.4 191.0h1.0M492.2 220.8h1.0M477.3 225.1h1.0M462.8 244.5h1.0M477.1 205.7h1.0M517.4 210.0h1.0M462.6 200.8h1.0M491.4 217.8h1.0M506.6 218.4h1.0M483.5 205.9h1.0M493.8 198.1h1.0M484.6 194.7h1.0M506.7 244.5h1.0M487.0 245.2h1.0M479.8 204.1h1.0M495.0 253.9h1.0M496.4 208.7h1.0M500.6 238.8h1.0M512.2 225.1h1.0M493.0 201.3h1.0M476.2 232.1h1.0M495.3 215.5h1.0M509.1 242.7h1.0M457.9 189.5h1.0M490.6 205.1h1.0M470.5 227.5h1.0M479.7 214.1h1.0M476.6 203.1h1.0M505.8 207.5h1.0M460.9 210.3h1.0M486.0 203.4h1.0M492.4 205.4h1.0M475.8 205.7h1.0M517.0 242.5h1.0M510.6 243.2h1.0M485.8 200.5h1.0M495.6 234.4h1.0M510.7 224.3h1.0M487.4 198.6h1.0M509.9 224.5h1.0M471.1 204.6h1.0M472.8 187.1h1.0M490.4 200.7h1.0M522.2 228.8h1.0M490.5 221.6h1.0M509.9 245.7h1.0M489.5 196.5h1.0M470.5 195.6h1.0M505.4 222.5h1.0M487.0 190.5h1.0M505.4 213.3h1.0M507.9 253.4h1.0M500.0 213.5h1.0M487.4 198.3h1.0M504.2 196.5h1.0M481.5 251.9h1.0M514.3 210.4h1.0M490.5 227.5h1.0M513.4 225.1h1.0M506.6 210.9h1.0M479.1 207.1h1.0M492.1 218.8h1.0M466.8 211.9h1.0M486.0 203.6h1.0M512.2 225.8h1.0M491.7 215.8h1.0M470.9 229.2h1.0M482.0 220.0h1.0M502.5 211.4h1.0M490.0 198.3h1.0M504.7 209.8h1.0M488.9 216.8h1.0M464.9 200.0h1.0M501.9 207.1h1.0M498.0 215.3h1.0M482.4 195.7h1.0M495.8 212.7h1.0M459.7 190.3h1.0M510.8 232.6h1.0M495.7 240.2h1.0M490.9 229.2h1.0M503.4 244.7h1.0M472.6 236.4h1.0M496.9 205.5h1.0M472.7 255.0h1.0M515.8 233.4h1.0M468.9 233.8h1.0M476.4 189.2h1.0M514.0 239.2h1.0M475.2 198.3h1.0M489.6 191.2h1.0M466.1 206.5h1.0M490.7 212.0h1.0M487.2 205.4h1.0M495.2 203.1h1.0M484.7 191.5h1.0M503.4 221.1h1.0M480.3 217.3h1.0M494.0 198.9h1.0M510.3 221.9h1.0M489.5 190.7h1.0M494.6 215.8h1.0M482.4 228.3h1.0M477.0 200.1h1.0M458.9 195.4h1.0M475.3 216.5h1.0M467.2 203.9h1.0M503.6 225.2h1.0M484.9 201.7h1.0M476.3 194.2h1.0M486.4 204.0h1.0M482.6 202.0h1.0M504.0 202.7h1.0M470.4 192.1h1.0M498.3 218.0h1.0M491.9 220.2h1.0M459.6 202.7h1.0M492.5 193.4h1.0M458.6 215.2h1.0M467.9 215.0h1.0M466.6 216.1h1.0M481.8 254.0h1.0M508.2 207.2h1.0M498.3 204.6h1.0M477.4 249.1h1.0M492.2 225.8h1.0M478.7 214.4h1.0M507.2 212.0h1.0M472.1 203.1h1.0M464.4 216.9h1.0M494.0 188.7h1.0M476.9 206.8h1.0M472.7 192.1h1.0M484.2 223.7h1.0M475.1 198.7h1.0M480.9 199.3h1.0M488.3 188.5h1.0M481.8 222.9h1.0M478.6 199.4h1.0M501.9 196.7h1.0M522.5 222.5h1.0M482.0 217.2h1.0M488.3 214.6h1.0M479.4 198.0h1.0M476.2 196.7h1.0M490.4 215.5h1.0M511.8 216.7h1.0M478.6 213.2h1.0M477.1 195.7h1.0M470.7 204.8h1.0M476.6 209.8h1.0M515.4 203.0h1.0M490.9 206.6h1.0M472.5 215.6h1.0M501.2 226.2h1.0M479.7 239.5h1.0M477.7 217.2h1.0M499.1 236.1h1.0M514.2 225.9h1.0M510.1 203.6h1.0M522.2 240.1h1.0M500.4 207.4h1.0M513.7 230.4h1.0M515.1 239.8h1.0M493.1 194.6h1.0M501.0 253.0h1.0M476.2 207.4h1.0M492.3 211.2h1.0M479.6 200.1h1.0M466.3 236.2h1.0M471.8 204.4h1.0M482.4 219.0h1.0M488.1 195.0h1.0M501.7 211.2h1.0M486.3 211.3h1.0M510.0 211.8h1.0M500.2 255.9h1.0M519.7 221.6h1.0M488.4 186.1h1.0M512.2 228.8h1.0M479.4 192.1h1.0M516.6 245.7h1.0M506.3 219.1h1.0M471.9 206.8h1.0M505.4 202.0h1.0M474.2 212.6h1.0M484.7 253.1h1.0M505.4 187.3h1.0M469.2 242.0h1.0M478.2 203.0h1.0M470.7 217.0h1.0M498.8 238.4h1.0M517.2 221.4h1.0M496.8 204.7h1.0M504.4 216.5h1.0M477.4 210.7h1.0M510.6 204.2h1.0M470.4 198.9h1.0M489.2 221.1h1.0M475.4 192.1h1.0M505.0 245.4h1.0M469.5 187.8h1.0M465.3 209.1h1.0M500.5 199.1h1.0M490.7 217.5h1.0M489.4 210.0h1.0M516.2 230.3h1.0M508.4 206.2h1.0M504.3 193.1h1.0M492.2 193.9h1.0M497.8 219.6h1.0M475.8 192.0h1.0M499.3 195.0h1.0M498.6 223.6h1.0M473.3 209.4h1.0M466.3 197.8h1.0M511.0 223.0h1.0M477.7 204.4h1.0M494.6 252.4h1.0M476.3 207.3h1.0M460.6 191.0h1.0M493.5 210.3h1.0M508.7 242.8h1.0M465.6 215.6h1.0M505.3 194.1h1.0M487.1 198.3h1.0M485.2 197.8h1.0M481.2 202.1h1.0M480.5 202.3h1.0M457.6 221.7h1.0M489.1 211.6h1.0M486.7 191.8h1.0M484.6 207.0h1.0M489.7 208.1h1.0M485.6 219.7h1.0M499.7 230.6h1.0M476.7 207.4h1.0M465.9 187.4h1.0M512.4 248.6h1.0M473.9 238.6h1.0M505.9 207.8h1.0M487.3 211.1h1.0M478.3 241.2h1.0M463.3 215.7h1.0M508.6 249.7h1.0M495.7 199.3h1.0M513.7 212.0h1.0M477.3 197.1h1.0M479.3 200.3h1.0M482.8 204.0h1.0M505.7 206.1h1.0M472.9 206.5h1.0M471.2 196.2h1.0M467.8 204.5h1.0M482.2 197.4h1.0M492.0 202.8h1.0M484.2 190.3h1.0M463.0 207.5h1.0M483.7 202.8h1.0M484.6 209.7h1.0M516.0 192.1h1.0M485.9 201.5h1.0M489.0 206.8h1.0M478.8 235.5h1.0M480.7 206.8h1.0M482.5 210.8h1.0M506.9 230.0h1.0M493.0 195.7h1.0M483.3 219.3h1.0M516.0 215.6h1.0M517.1 230.4h1.0M483.4 206.4h1.0M497.6 224.3h1.0M515.2 223.1h1.0M506.5 209.0h1.0M514.4 254.9h1.0M487.6 201.8h1.0M495.9 197.8h1.0M507.3 215.6h1.0M463.8 218.4h1.0M462.3 219.3h1.0M463.0 200.7h1.0M512.9 228.9h1.0M458.0 206.0h1.0M474.4 234.0h1.0M468.6 219.0h1.0M476.4 194.6h1.0M499.3 215.3h1.0M480.2 204.4h1.0M495.2 194.9h1.0M489.2 193.2h1.0M475.1 203.8h1.0M497.9 218.4h1.0M492.8 207.6h1.0M482.4 255.7h1.0M512.5 231.9h1.0M476.5 245.2h1.0M510.6 215.5h1.0M479.0 230.4h1.0M486.0 196.7h1.0M511.6 203.6h1.0M499.4 221.9h1.0M502.6 191.6h1.0M504.0 237.1h1.0M504.9 217.7h1.0M514.5 226.4h1.0M498.7 205.0h1.0M476.8 218.1h1.0M512.9 244.8h1.0M476.0 209.6h1.0M516.1 241.9h1.0M484.5 208.1h1.0M467.5 218.3h1.0M459.4 202.7h1.0M496.7 239.3h1.0M515.1 230.0h1.0M486.5 238.0h1.0M491.7 196.9h1.0M481.4 233.2h1.0M475.7 207.0h1.0M502.8 231.6h1.0M465.9 221.2h1.0M471.4 199.1h1.0M504.1 227.3h1.0M456.3 204.0h1.0M474.8 216.3h1.0M488.1 223.7h1.0M469.0 199.5h1.0M459.5 208.6h1.0M478.2 197.2h1.0M470.7 206.5h1.0M482.2 210.1h1.0M484.5 208.1h1.0M469.5 226.3h1.0M468.2 208.5h1.0M505.0 201.3h1.0M479.5 202.7h1.0M480.4 204.6h1.0M468.4 225.5h1.0M484.9 201.7h1.0M486.2 204.4h1.0M463.9 196.6h1.0M492.7 214.0h1.0M484.9 209.5h1.0M518.7 225.5h1.0M509.7 216.1h1.0M469.9 197.0h1.0M455.1 195.6h1.0M483.1 209.9h1.0M466.1 201.1h1.0M467.6 203.3h1.0M463.9 208.2h1.0M516.2 226.7h1.0M508.9 242.1h1.0M501.5 199.9h1.0M479.9 191.2h1.0M479.5 231.4h1.0M460.8 216.3h1.0M487.9 204.8h1.0M472.8 200.7h1.0M471.0 206.9h1.0M513.4 240.1h1.0M512.7 241.9h1.0M474.3 218.4h1.0M510.9 215.8h1.0M481.8 190.7h1.0M488.8 212.7h1.0M489.7 195.3h1.0M494.4 193.5h1.0M483.7 228.4h1.0M501.3 202.2h1.0M479.8 218.7h1.0M514.0 238.8h1.0M512.1 216.6h1.0M515.6 242.0h1.0M473.1 201.2h1.0M521.5 226.3h1.0M463.3 223.3h1.0M501.3 200.9h1.0M472.4 199.8h1.0M490.7 215.7h1.0M472.5 241.6h1.0M513.4 217.4h1.0M472.3 194.1h1.0M511.0 222.8h1.0M504.0 188.2h1.0M458.5 204.3h1.0M471.0 198.3h1.0M475.0 231.2h1.0M483.8 198.4h1.0M471.2 204.0h1.0M507.9 223.0h1.0M505.5 192.2h1.0M465.0 195.5h1.0M466.8 204.1h1.0M521.2 218.3h1.0M515.9 216.3h1.0M462.4 218.4h1.0M462.9 206.9h1.0M485.0 220.4h1.0M479.0 222.6h1.0M515.3 223.0h1.0M517.2 236.0h1.0M472.6 193.7h1.0M471.9 249.7h1.0M475.9 195.3h1.0M479.9 225.8h1.0M459.0 201.7h1.0M465.7 213.0h1.0M512.1 200.1h1.0M471.4 217.0h1.0M471.6 202.3h1.0M509.4 187.8h1.0M485.6 199.2h1.0M496.9 238.8h1.0M473.4 204.5h1.0M505.5 201.4h1.0M484.8 197.4h1.0M466.7 203.4h1.0M515.2 235.1h1.0M475.4 192.4h1.0M522.0 255.7h1.0M475.6 208.9h1.0M510.1 232.6h1.0M494.2 226.0h1.0M501.7 197.9h1.0M511.4 222.6h1.0M510.1 209.9h1.0M510.5 219.1h1.0M502.4 229.2h1.0M493.1 193.5h1.0M476.5 242.9h1.0M482.2 193.2h1.0M507.4 245.4h1.0M491.2 232.0h1.0M478.5 211.2h1.0M458.6 195.7h1.0M486.0 199.9h1.0M508.5 233.7h1.0M506.5 212.8h1.0M490.7 228.2h1.0M468.9 196.4h1.0M488.6 247.1h1.0M515.7 236.3h1.0M484.3 212.8h1.0M499.7 195.4h1.0M506.6 219.8h1.0M511.8 224.3h1.0M486.6 205.3h1.0M511.0 198.2h1.0M502.4 198.5h1.0M500.3 212.1h1.0M485.9 199.7h1.0M461.5 217.8h1.0M485.8 217.7h1.0M496.1 242.6h1.0M472.1 202.2h1.0M517.6 223.0h1.0M501.5 213.3h1.0M505.6 233.1h1.0M472.2 244.9h1.0M512.4 224.5h1.0M467.3 192.0h1.0M512.6 225.0h1.0M464.8 208.6h1.0M494.3 195.2h1.0M510.0 243.7h1.0M509.7 220.2h1.0M466.8 219.7h1.0M471.6 209.3h1.0M491.7 197.7h1.0M516.7 255.7h1.0M487.9 193.9h1.0M506.7 214.1h1.0M512.7 225.7h1.0M515.4 214.0h1.0M477.7 218.5h1.0M456.9 205.3h1.0M495.5 204.8h1.0M515.9 213.4h1.0M504.7 224.4h1.0M505.2 211.3h1.0M481.0 203.3h1.0M518.0 221.9h1.0M465.8 205.9h1.0M496.6 220.7h1.0M502.3 207.6h1.0M465.0 198.9h1.0M475.8 203.3h1.0M515.2 243.2h1.0M478.4 203.2h1.0M505.6 194.0h1.0M477.0 208.3h1.0M482.4 216.7h1.0M518.5 191.3h1.0M489.3 223.9h1.0M504.4 207.9h1.0M498.4 201.8h1.0M499.0 223.1h1.0M506.8 217.1h1.0M484.6 197.3h1.0M465.1 195.1h1.0M489.2 218.1h1.0M518.4 228.5h1.0M496.0 204.1h1.0M505.9 246.0h1.0M517.6 228.4h1.0M473.0 203.0h1.0M501.4 234.4h1.0M483.1 215.5h1.0M497.4 200.2h1.0M468.5 226.5h1.0M471.9 215.7h1.0M476.6 208.6h1.0M510.6 241.2h1.0M478.7 246.1h1.0M491.2 203.7h1.0M510.5 193.7h1.0M478.1 225.9h1.0M503.7 204.0h1.0M483.5 199.7h1.0M478.6 202.5h1.0M503.8 253.8h1.0M488.8 198.2h1.0M495.6 213.1h1.0M481.5 196.9h1.0M478.3 215.5h1.0M516.5 243.1h1.0M473.3 202.8h1.0M474.9 207.5h1.0M512.0 214.2h1.0M516.9 250.1h1.0M503.4 240.3h1.0M487.7 208.9h1.0M475.7 206.8h1.0M502.4 233.1h1.0M488.1 216.2h1.0M515.5 221.0h1.0M492.1 216.6h1.0M463.1 222.0h1.0M485.9 207.3h1.0M471.7 218.3h1.0M486.3 215.7h1.0M485.1 202.8h1.0M467.8 194.7h1.0M492.1 197.1h1.0M465.2 203.0h1.0M509.4 234.6h1.0M503.1 226.5h1.0M485.6 230.3h1.0M482.9 226.9h1.0M483.1 217.4h1.0M486.4 209.1h1.0M470.0 219.0h1.0M509.3 215.3h1.0M469.6 190.3h1.0M460.5 209.0h1.0M485.3 233.1h1.0M458.0 197.4h1.0M487.2 187.0h1.0M488.7 234.4h1.0M483.3 223.0h1.0M495.0 254.2h1.0M476.2 190.9h1.0M492.6 209.1h1.0M474.6 222.7h1.0M507.8 205.2h1.0M473.4 206.9h1.0M489.1 224.3h1.0M465.5 206.1h1.0M511.1 195.2h1.0M488.0 200.4h1.0M481.4 189.9h1.0M516.6 226.6h1.0M490.3 229.3h1.0M510.3 213.4h1.0M515.1 231.5h1.0M484.7 205.1h1.0M519.0 230.2h1.0M480.2 203.6h1.0M493.0 202.3h1.0M487.1 228.9h1.0M467.4 218.7h1.0M479.6 207.2h1.0M469.2 191.2h1.0M485.3 196.8h1.0M507.7 222.6h1.0M508.4 234.7h1.0M477.7 204.9h1.0M463.5 243.3h1.0M510.6 190.0h1.0M488.6 211.6h1.0M524.7 250.6h1.0M507.5 220.1h1.0M476.7 200.7h1.0M484.4 223.4h1.0M483.5 220.8h1.0M510.7 229.8h1.0M469.2 197.1h1.0M506.4 222.3h1.0M493.2 218.4h1.0M501.7 214.3h1.0M474.4 197.9h1.0M459.1 205.4h1.0M479.5 194.3h1.0M479.1 204.4h1.0M466.3 196.2h1.0M475.6 200.3h1.0M502.1 217.9h1.0M469.2 220.1h1.0M485.6 230.5h1.0M472.2 215.6h1.0M484.8 196.9h1.0M461.5 199.4h1.0M479.1 240.4h1.0M494.3 200.5h1.0M503.7 207.2h1.0M518.7 240.9h1.0M514.7 244.2h1.0M495.9 225.2h1.0M507.4 250.1h1.0M502.0 214.8h1.0M463.3 191.8h1.0M506.5 207.8h1.0M473.4 197.2h1.0M470.8 227.2h1.0M493.0 242.6h1.0M496.6 207.9h1.0M507.3 228.7h1.0M509.5 256.5h1.0M498.7 193.7h1.0M507.0 212.2h1.0M467.2 223.0h1.0M509.7 238.2h1.0M465.2 194.4h1.0M484.1 202.8h1.0M475.9 190.4h1.0M489.1 241.8h1.0M500.3 196.7h1.0M480.0 186.8h1.0M505.3 204.0h1.0M489.0 217.2h1.0M461.7 212.0h1.0M474.6 194.3h1.0M461.9 255.1h1.0M508.5 218.0h1.0M518.9 199.0h1.0M489.7 190.5h1.0M526.4 226.2h1.0M479.7 228.6h1.0M503.4 240.9h1.0M520.8 233.0h1.0M490.9 197.0h1.0M492.7 208.8h1.0M510.0 210.1h1.0M495.4 224.4h1.0M511.9 247.1h1.0M473.3 200.5h1.0M473.6 202.3h1.0M489.1 204.6h1.0M504.9 206.8h1.0M485.9 204.3h1.0M504.3 188.6h1.0M509.6 221.3h1.0M486.7 249.0h1.0M465.6 194.2h1.0M478.4 200.9h1.0M485.7 212.6h1.0M463.5 216.8h1.0M506.6 201.6h1.0M473.9 199.4h1.0M505.4 210.5h1.0M506.0 214.0h1.0M469.0 187.3h1.0M503.1 209.9h1.0M462.3 196.7h1.0M473.0 210.5h1.0M478.3 200.7h1.0M512.5 227.2h1.0M506.2 212.9h1.0M515.8 198.9h1.0M496.8 191.7h1.0M475.2 227.4h1.0M486.5 211.1h1.0M488.4 227.8h1.0M468.3 200.3h1.0M479.1 190.2h1.0M496.9 213.4h1.0M497.9 217.5h1.0M477.3 203.2h1.0M502.8 202.6h1.0M471.5 214.7h1.0M491.3 209.1h1.0M487.0 199.1h1.0M470.4 198.2h1.0M471.1 205.5h1.0M501.7 253.5h1.0M479.5 200.0h1.0M483.3 201.5h1.0M493.3 207.2h1.0M487.1 193.7h1.0M492.2 191.0h1.0M473.5 203.6h1.0M493.2 218.3h1.0M480.7 206.0h1.0M517.6 251.5h1.0M506.5 204.2h1.0M498.6 233.5h1.0M476.0 211.8h1.0M514.8 230.7h1.0M474.9 231.7h1.0M497.7 214.8h1.0M495.8 217.2h1.0M506.1 211.2h1.0M485.4 192.7h1.0M517.2 228.3h1.0M493.4 226.4h1.0M475.6 232.9h1.0M505.0 231.1h1.0M517.6 229.2h1.0M509.5 219.6h1.0M475.1 213.5h1.0M473.1 239.7h1.0M464.4 247.2h1.0M477.9 219.3h1.0M490.0 199.0h1.0M468.4 202.6h1.0M496.2 202.3h1.0M510.6 254.7h1.0M504.3 224.7h1.0M461.2 199.5h1.0M482.0 227.1h1.0M501.3 220.7h1.0M481.5 207.9h1.0M473.7 208.7h1.0M475.6 211.3h1.0M468.3 217.9h1.0M467.5 222.9h1.0M488.1 207.3h1.0M485.0 238.4h1.0M505.5 248.7h1.0M515.6 248.1h1.0M463.7 215.2h1.0M518.0 218.5h1.0M489.5 200.0h1.0M509.6 237.6h1.0M470.3 193.6h1.0M493.7 216.6h1.0M478.7 199.1h1.0M465.9 210.9h1.0M486.1 208.4h1.0M479.2 201.2h1.0M459.7 186.4h1.0M460.9 241.6h1.0M481.5 213.5h1.0M506.6 197.0h1.0M468.7 212.6h1.0M495.0 196.0h1.0M481.8 208.3h1.0M457.7 202.4h1.0M471.6 215.1h1.0M481.9 198.5h1.0M500.8 201.9h1.0M477.9 194.0h1.0M483.3 186.8h1.0M493.3 199.6h1.0M495.5 213.9h1.0M517.5 228.2h1.0M509.7 241.8h1.0M466.1 202.3h1.0M494.4 198.4h1.0M453.7 201.2h1.0M510.1 223.9h1.0M482.3 221.3h1.0M472.7 198.0h1.0M502.6 227.7h1.0M475.6 221.6h1.0M498.4 211.0h1.0M470.0 205.0h1.0M510.4 217.4h1.0M464.6 202.1h1.0M516.1 242.1h1.0M478.8 195.5h1.0M494.5 239.3h1.0M472.0 198.0h1.0M490.3 205.7h1.0M509.2 242.1h1.0M515.7 220.7h1.0M476.3 203.6h1.0M483.3 205.6h1.0M486.2 195.5h1.0M508.4 214.8h1.0M498.3 198.8h1.0M470.9 213.3h1.0M510.8 234.8h1.0M478.2 206.0h1.0M496.3 201.7h1.0M523.1 247.8h1.0M480.8 198.1h1.0M480.5 245.8h1.0M493.1 199.0h1.0M505.6 212.2h1.0M499.4 216.8h1.0M480.8 199.9h1.0M475.9 222.5h1.0M472.6 201.2h1.0M469.5 216.6h1.0M515.5 234.5h1.0M486.4 215.0h1.0M487.8 211.9h1.0M504.0 242.0h1.0M481.8 242.3h1.0M485.6 199.8h1.0M502.5 203.2h1.0M514.9 211.7h1.0M483.8 214.2h1.0M467.0 188.5h1.0M475.9 235.6h1.0M464.2 189.2h1.0M496.2 201.7h1.0M508.8 229.0h1.0M477.8 205.3h1.0M505.4 216.8h1.0M467.3 195.6h1.0M475.3 204.0h1.0M459.9 214.8h1.0M480.8 196.5h1.0M517.2 229.6h1.0M488.0 204.0h1.0M468.5 212.6h1.0M484.3 204.3h1.0M502.0 207.8h1.0M478.5 206.9h1.0M485.9 189.8h1.0M467.2 203.0h1.0M515.0 238.0h1.0M484.9 203.4h1.0M461.5 227.1h1.0M500.5 195.2h1.0M455.0 192.6h1.0M482.6 214.1h1.0M473.6 203.6h1.0M476.3 246.0h1.0M476.0 234.8h1.0M502.6 209.6h1.0M473.2 205.5h1.0M502.4 239.8h1.0M523.4 223.4h1.0M486.1 214.5h1.0M478.5 256.6h1.0M509.5 197.0h1.0M479.4 215.4h1.0M518.9 224.6h1.0M483.9 198.3h1.0M474.0 188.9h1.0M464.0 245.0h1.0M486.5 208.4h1.0M483.1 195.9h1.0M493.1 201.9h1.0M518.0 230.8h1.0M501.9 253.1h1.0M464.0 200.1h1.0M463.6 230.3h1.0M472.8 194.5h1.0M465.6 190.4h1.0M484.8 210.2h1.0M479.9 186.0h1.0M512.5 204.2h1.0M511.8 205.6h1.0M508.9 238.6h1.0M472.4 193.3h1.0M469.7 213.4h1.0M503.8 205.1h1.0M485.5 200.6h1.0M483.1 217.1h1.0M494.2 212.9h1.0M517.0 244.0h1.0M463.2 217.0h1.0M482.6 211.2h1.0M494.6 209.8h1.0M504.5 226.3h1.0M509.4 226.7h1.0M484.7 200.4h1.0M464.5 259.9h1.0M487.0 217.4h1.0M470.2 228.9h1.0M523.7 218.4h1.0M494.5 226.7h1.0M510.3 214.4h1.0M501.8 222.7h1.0M518.8 244.4h1.0M475.6 198.1h1.0M472.1 190.8h1.0M470.5 204.6h1.0M522.2 224.6h1.0M492.8 203.9h1.0M506.0 185.6h1.0M504.9 212.5h1.0M487.7 210.9h1.0M503.5 225.5h1.0M511.9 214.8h1.0M483.5 205.0h1.0M461.0 199.4h1.0M505.4 217.7h1.0M483.5 218.1h1.0M510.9 231.0h1.0M479.5 198.7h1.0M495.9 231.8h1.0M495.2 216.9h1.0M493.1 220.9h1.0M487.7 191.5h1.0M520.9 258.7h1.0M478.7 225.1h1.0M487.0 214.5h1.0M489.2 205.5h1.0M508.2 239.1h1.0M495.1 198.5h1.0M506.1 205.8h1.0M504.9 207.5h1.0M495.3 198.0h1.0M503.8 255.3h1.0M500.8 205.1h1.0M480.3 214.5h1.0M496.7 210.5h1.0M472.0 194.0h1.0M488.2 194.9h1.0M463.3 224.0h1.0M504.6 257.0h1.0M490.9 217.7h1.0M471.8 223.3h1.0M518.6 230.4h1.0M494.0 234.9h1.0M492.0 233.3h1.0M488.6 196.5h1.0M475.0 250.0h1.0M478.3 245.5h1.0M470.0 198.4h1.0M488.8 209.3h1.0M464.7 187.1h1.0M464.8 204.5h1.0M462.2 191.5h1.0M476.0 207.7h1.0M503.7 199.2h1.0M482.3 192.6h1.0M484.7 207.7h1.0M491.9 226.4h1.0M460.7 204.9h1.0M485.3 216.0h1.0M459.5 204.5h1.0M478.1 219.3h1.0M462.7 187.4h1.0M512.7 199.4h1.0M510.4 186.9h1.0M487.3 244.4h1.0M466.5 236.4h1.0M473.2 205.8h1.0M491.6 238.9h1.0M489.8 193.1h1.0M505.1 207.8h1.0M466.1 196.2h1.0M499.9 189.0h1.0M499.3 215.9h1.0M478.4 204.2h1.0M488.0 213.2h1.0M464.7 227.3h1.0M520.2 258.1h1.0M471.9 202.8h1.0M509.6 223.5h1.0M454.8 209.6h1.0M506.3 208.8h1.0M491.8 199.7h1.0M511.0 216.3h1.0M459.6 217.3h1.0M497.0 238.3h1.0M488.0 218.5h1.0M477.2 258.9h1.0M479.9 229.1h1.0M507.2 244.2h1.0M479.3 205.4h1.0M480.2 228.4h1.0M469.5 203.7h1.0M491.5 190.9h1.0M464.8 229.2h1.0M495.8 204.1h1.0M478.5 214.2h1.0M514.4 223.5h1.0M469.8 208.1h1.0M513.0 239.2h1.0M478.8 210.3h1.0M453.3 204.3h1.0M492.9 186.6h1.0M489.9 205.7h1.0M495.8 197.7h1.0M481.0 212.4h1.0M488.6 209.2h1.0M471.9 186.2h1.0M478.1 238.5h1.0M502.3 259.1h1.0M468.2 235.6h1.0M512.9 227.7h1.0M479.4 208.4h1.0M504.0 197.9h1.0M491.3 199.7h1.0M484.3 253.1h1.0M512.1 212.7h1.0M509.2 234.7h1.0M504.4 201.4h1.0M464.0 208.9h1.0M467.5 196.6h1.0M514.2 205.8h1.0M514.9 216.7h1.0M470.7 192.9h1.0M496.1 231.3h1.0M478.0 211.0h1.0M465.7 238.0h1.0M503.6 206.4h1.0M512.1 222.4h1.0M476.0 222.4h1.0M499.8 241.3h1.0M475.1 218.9h1.0M500.1 241.4h1.0M475.1 209.1h1.0M463.5 248.3h1.0M482.1 218.1h1.0M469.1 192.1h1.0M469.4 200.1h1.0M498.9 187.8h1.0M502.4 204.6h1.0M502.7 230.5h1.0M492.0 194.5h1.0M496.3 218.4h1.0M478.2 202.1h1.0M459.0 202.1h1.0M476.6 257.4h1.0M490.8 211.1h1.0M463.5 189.9h1.0M486.8 206.5h1.0M499.7 214.9h1.0M512.3 233.4h1.0M457.1 217.1h1.0M473.5 199.0h1.0M496.6 208.7h1.0M514.7 226.1h1.0M503.7 211.7h1.0M460.2 211.7h1.0M486.8 228.9h1.0M507.8 216.5h1.0M512.6 203.5h1.0M485.4 183.1h1.0M475.1 206.4h1.0M501.1 248.8h1.0M473.1 209.2h1.0M510.7 218.7h1.0M516.2 222.5h1.0M467.1 202.5h1.0M513.9 198.7h1.0M488.7 223.9h1.0M481.7 217.0h1.0M512.8 218.7h1.0M496.9 240.2h1.0M490.4 201.0h1.0M466.5 228.1h1.0M501.1 245.9h1.0M490.5 207.7h1.0M486.7 211.5h1.0M468.5 197.0h1.0M472.3 198.2h1.0M486.9 204.4h1.0M495.3 192.3h1.0M489.8 208.0h1.0M511.5 239.6h1.0M515.5 220.4h1.0M502.7 225.2h1.0M485.5 246.0h1.0M513.5 223.2h1.0M506.2 201.4h1.0M478.1 196.1h1.0M509.3 221.3h1.0M471.9 192.7h1.0M515.9 232.1h1.0M503.3 190.5h1.0M507.5 232.8h1.0M477.3 197.6h1.0M463.4 240.4h1.0M502.7 212.5h1.0M481.3 248.8h1.0M498.7 204.3h1.0M479.5 232.3h1.0M463.2 243.5h1.0M470.7 193.0h1.0M479.7 190.8h1.0M471.2 193.8h1.0M468.2 199.5h1.0M463.3 197.1h1.0M469.8 225.9h1.0M486.4 201.0h1.0M475.8 229.8h1.0M518.7 219.3h1.0M521.6 217.5h1.0M504.7 254.0h1.0M490.6 200.6h1.0M479.7 212.2h1.0M474.8 203.8h1.0M510.5 214.5h1.0M488.1 210.7h1.0M502.5 228.4h1.0M495.6 245.4h1.0M472.8 211.7h1.0M489.9 207.5h1.0M498.9 203.8h1.0M480.7 216.5h1.0M496.3 201.5h1.0M474.7 199.0h1.0M506.5 212.4h1.0M483.4 192.5h1.0M478.1 217.8h1.0M502.8 223.0h1.0M494.3 205.3h1.0M487.3 219.8h1.0M489.0 198.4h1.0M493.3 224.7h1.0M508.5 229.5h1.0M508.7 197.5h1.0M518.0 221.9h1.0M488.2 215.2h1.0M470.6 211.2h1.0M474.0 234.7h1.0M499.8 243.5h1.0M463.2 198.6h1.0M474.9 220.6h1.0M507.7 219.4h1.0M467.5 202.2h1.0M512.5 226.7h1.0M510.4 236.3h1.0M473.8 217.2h1.0M471.0 229.4h1.0M495.9 218.9h1.0M481.4 210.3h1.0M508.8 215.3h1.0M510.6 209.0h1.0M499.3 223.0h1.0M479.1 233.5h1.0M494.1 213.5h1.0M506.1 207.8h1.0M475.1 190.9h1.0M469.6 204.7h1.0M478.9 215.3h1.0M504.1 206.9h1.0M480.1 207.3h1.0M489.8 202.8h1.0M482.6 249.1h1.0M484.6 199.8h1.0M468.1 201.2h1.0M497.1 205.1h1.0M476.2 224.0h1.0M516.6 220.7h1.0M493.9 220.1h1.0M466.2 221.3h1.0M475.3 248.4h1.0M460.2 214.9h1.0M491.3 230.2h1.0M473.4 217.6h1.0M510.5 212.6h1.0M509.2 249.6h1.0M482.2 223.4h1.0M477.0 215.6h1.0M479.4 233.2h1.0M471.6 244.0h1.0M495.7 209.5h1.0M489.7 247.9h1.0M494.5 218.8h1.0M478.0 222.6h1.0M473.3 220.5h1.0M506.1 222.5h1.0M517.2 241.8h1.0M470.6 217.7h1.0M510.2 226.4h1.0M473.2 202.2h1.0M478.7 245.8h1.0M505.3 207.1h1.0M476.2 205.2h1.0M474.3 255.5h1.0M492.8 204.7h1.0M508.8 235.0h1.0M490.5 187.2h1.0M476.6 202.1h1.0M485.2 204.1h1.0M481.1 193.9h1.0M478.9 252.4h1.0M492.9 198.8h1.0M487.1 202.6h1.0M514.8 226.7h1.0M503.6 219.8h1.0M484.7 206.7h1.0M465.7 215.4h1.0M479.4 207.6h1.0M477.9 209.2h1.0M484.6 200.5h1.0M490.6 198.8h1.0M474.8 221.8h1.0M509.9 201.2h1.0M509.7 227.4h1.0M485.5 206.9h1.0M477.0 197.7h1.0M461.6 227.0h1.0M485.1 184.3h1.0M487.9 213.2h1.0M480.9 202.4h1.0M461.9 201.9h1.0M474.1 223.7h1.0M501.9 221.3h1.0M504.9 242.5h1.0M473.5 202.1h1.0M508.0 219.0h1.0M517.2 217.9h1.0M504.6 226.0h1.0M493.8 206.8h1.0M495.4 223.7h1.0M504.6 239.4h1.0M460.6 192.8h1.0M485.2 236.2h1.0M491.0 225.8h1.0M504.5 214.7h1.0M468.7 188.4h1.0M495.8 218.0h1.0M495.8 199.9h1.0M512.1 240.0h1.0M501.9 198.6h1.0M497.4 197.8h1.0M477.2 213.3h1.0M470.5 205.2h1.0M508.2 229.5h1.0M498.4 223.5h1.0M479.8 221.0h1.0M510.4 239.1h1.0M480.7 199.7h1.0M464.4 215.7h1.0M479.2 207.4h1.0M492.8 211.1h1.0M467.5 193.1h1.0M508.9 221.7h1.0M475.7 194.9h1.0M517.6 238.1h1.0M491.9 210.4h1.0M483.3 208.0h1.0M494.0 202.1h1.0M510.2 237.0h1.0M507.2 223.5h1.0M469.1 198.9h1.0M459.7 208.2h1.0M493.8 260.3h1.0M521.9 229.3h1.0M475.6 241.0h1.0M503.5 204.3h1.0M517.0 226.0h1.0M486.6 195.8h1.0M482.9 202.2h1.0M486.7 218.5h1.0M508.3 202.7h1.0M507.5 218.6h1.0M466.2 195.3h1.0M517.0 246.4h1.0M467.2 196.4h1.0M497.6 217.5h1.0M496.3 250.9h1.0M475.8 209.6h1.0M476.2 244.1h1.0M466.6 198.9h1.0M480.2 209.6h1.0M500.3 216.0h1.0M470.6 202.5h1.0M515.3 228.3h1.0M505.8 224.7h1.0M477.4 195.0h1.0M479.8 198.7h1.0M480.4 218.5h1.0M503.1 198.1h1.0M476.7 196.4h1.0M495.3 196.7h1.0M509.2 235.9h1.0M488.4 234.2h1.0M491.9 205.9h1.0M508.4 247.3h1.0M510.2 238.0h1.0M462.9 194.8h1.0M499.1 230.6h1.0M470.9 232.4h1.0M462.9 207.2h1.0M472.3 213.1h1.0M512.2 228.8h1.0M487.0 203.5h1.0M481.9 204.9h1.0M473.5 201.8h1.0M490.2 198.4h1.0M478.0 195.1h1.0M483.0 198.1h1.0M518.3 223.0h1.0M505.6 197.8h1.0M473.7 206.2h1.0M482.6 219.5h1.0M503.4 204.9h1.0M469.9 195.4h1.0M465.1 220.7h1.0M466.3 203.6h1.0M500.5 220.2h1.0M511.2 231.6h1.0M461.3 197.9h1.0M473.4 208.9h1.0M476.8 214.1h1.0M490.6 230.8h1.0M491.5 220.9h1.0M477.8 236.6h1.0M464.6 207.8h1.0M475.9 202.2h1.0M472.4 195.6h1.0M480.7 236.7h1.0M479.9 224.1h1.0M463.1 254.2h1.0M489.8 202.3h1.0M515.8 234.5h1.0M505.3 193.4h1.0M475.0 204.0h1.0M507.3 220.0h1.0M483.9 219.4h1.0M476.8 218.9h1.0M464.1 215.8h1.0M482.7 204.5h1.0M486.1 197.9h1.0M489.6 224.0h1.0M489.7 216.2h1.0M498.2 185.8h1.0M461.6 206.0h1.0M490.1 191.0h1.0M473.1 200.6h1.0M514.9 217.2h1.0M512.5 224.1h1.0M497.0 226.8h1.0M455.1 208.0h1.0M479.3 218.8h1.0M487.0 201.2h1.0M509.9 202.6h1.0M504.1 210.6h1.0M515.9 248.3h1.0M491.1 210.3h1.0M493.4 200.8h1.0M508.3 233.7h1.0M489.7 222.5h1.0M474.0 206.5h1.0M496.5 224.2h1.0M492.6 201.7h1.0M504.7 226.8h1.0M495.6 209.0h1.0M469.0 199.4h1.0M512.3 216.2h1.0M510.8 217.7h1.0M491.5 203.4h1.0M507.9 225.0h1.0M479.2 198.7h1.0M474.1 196.8h1.0M500.3 214.8h1.0M476.2 197.0h1.0M499.9 235.5h1.0M463.2 213.6h1.0M508.9 238.3h1.0M464.9 203.3h1.0M453.6 199.6h1.0M494.7 211.1h1.0M484.1 204.9h1.0M498.5 194.9h1.0M463.8 206.6h1.0M483.0 230.2h1.0M509.1 215.3h1.0M473.1 212.0h1.0M503.5 200.6h1.0M505.3 219.8h1.0M507.8 221.9h1.0M470.7 216.8h1.0M508.0 244.2h1.0M509.2 199.6h1.0M461.6 210.7h1.0M495.8 204.3h1.0M478.1 190.4h1.0M500.2 242.2h1.0M517.6 233.1h1.0M478.2 201.1h1.0M502.4 224.1h1.0M514.1 210.2h1.0M472.2 222.3h1.0M485.4 216.2h1.0M470.9 189.6h1.0M491.4 213.2h1.0M470.5 217.0h1.0M489.0 202.6h1.0M466.2 211.2h1.0M520.3 255.3h1.0M515.6 212.1h1.0M478.1 219.9h1.0M512.2 235.4h1.0M503.2 223.6h1.0M490.0 228.3h1.0M491.2 206.9h1.0M487.2 209.9h1.0M472.4 196.2h1.0M467.0 197.3h1.0M510.2 221.6h1.0M514.8 188.0h1.0M517.9 210.3h1.0M471.9 203.5h1.0M495.8 194.0h1.0M510.9 221.3h1.0M493.5 223.2h1.0M478.4 206.4h1.0M509.0 206.3h1.0M466.3 203.8h1.0M490.6 200.1h1.0M473.0 203.3h1.0M460.7 185.7h1.0M498.7 201.4h1.0M469.6 193.8h1.0M500.2 228.5h1.0M463.5 251.5h1.0M510.4 244.7h1.0M477.9 208.5h1.0M468.2 187.5h1.0M482.0 191.7h1.0M515.6 230.8h1.0M515.0 222.7h1.0M479.1 189.3h1.0M471.8 234.9h1.0M492.3 217.1h1.0M516.8 232.2h1.0M505.1 224.4h1.0M488.8 204.3h1.0M476.8 196.7h1.0M509.7 210.7h1.0M486.4 234.6h1.0M492.8 198.4h1.0M471.1 202.7h1.0M462.7 195.1h1.0M495.9 204.5h1.0M476.5 191.8h1.0M506.6 205.0h1.0M475.1 214.7h1.0M501.6 218.6h1.0M518.2 235.4h1.0M464.2 197.2h1.0M481.7 237.3h1.0M491.3 210.0h1.0M506.4 209.0h1.0M479.0 199.2h1.0M474.3 191.6h1.0M498.1 256.9h1.0M483.7 199.1h1.0M504.3 202.9h1.0M464.5 202.9h1.0M508.7 228.5h1.0M491.9 240.7h1.0M465.9 195.5h1.0M505.6 233.0h1.0M526.1 218.5h1.0M506.6 227.2h1.0M472.8 197.7h1.0M473.0 191.9h1.0M474.1 206.7h1.0M519.4 257.0h1.0M516.7 240.9h1.0M481.8 222.6h1.0M522.8 202.8h1.0M490.6 204.3h1.0M480.2 216.1h1.0M506.7 235.0h1.0M467.2 202.7h1.0M488.8 252.6h1.0M507.4 231.1h1.0M496.2 205.7h1.0M479.7 198.8h1.0M479.8 191.9h1.0M512.3 223.0h1.0M484.1 208.0h1.0M477.5 196.6h1.0M454.9 204.8h1.0M476.5 214.8h1.0M469.3 205.7h1.0M465.6 189.7h1.0M462.0 205.5h1.0M503.9 211.8h1.0M479.7 230.1h1.0M471.1 191.6h1.0M459.1 202.7h1.0M460.9 200.2h1.0M503.7 201.4h1.0M496.6 202.7h1.0M472.2 195.3h1.0M510.3 213.3h1.0M489.7 233.6h1.0M466.2 226.6h1.0M506.2 234.4h1.0M466.7 193.7h1.0M516.9 246.2h1.0M492.1 191.3h1.0M504.0 203.8h1.0M474.6 201.3h1.0M507.9 223.0h1.0M491.5 191.6h1.0M454.9 198.8h1.0M494.2 196.2h1.0M503.1 210.6h1.0M505.4 204.6h1.0M510.4 244.7h1.0M478.8 208.7h1.0M492.9 217.9h1.0M508.1 205.4h1.0M474.8 205.3h1.0M488.3 193.7h1.0M501.5 208.6h1.0M478.4 243.4h1.0M516.7 254.2h1.0M469.6 251.4h1.0M488.4 215.4h1.0M472.6 204.8h1.0M489.0 223.3h1.0M482.1 203.9h1.0M507.0 210.6h1.0M464.1 193.7h1.0M519.1 234.5h1.0M464.9 197.7h1.0M486.9 201.5h1.0M459.9 240.1h1.0M477.5 231.0h1.0M470.9 201.7h1.0M469.9 196.6h1.0M488.4 212.7h1.0M482.4 202.0h1.0M461.2 216.9h1.0M495.9 215.7h1.0M462.5 210.6h1.0M477.0 202.5h1.0M472.4 190.2h1.0M466.9 201.0h1.0M464.9 238.7h1.0M469.4 213.0h1.0M496.9 209.0h1.0M498.8 256.4h1.0M465.1 231.1h1.0M486.5 204.1h1.0M483.4 215.4h1.0M522.4 229.4h1.0M507.4 222.0h1.0M462.8 196.9h1.0M473.0 201.3h1.0M485.5 229.7h1.0M484.3 206.2h1.0M515.3 235.0h1.0M503.7 236.1h1.0M463.4 196.5h1.0M472.8 200.7h1.0M517.8 208.1h1.0M486.1 202.2h1.0M469.8 193.9h1.0M473.5 218.2h1.0M475.7 214.5h1.0M494.2 184.9h1.0M470.4 222.6h1.0M486.9 239.4h1.0M496.5 236.1h1.0M495.5 197.5h1.0M505.6 204.5h1.0M467.6 200.4h1.0M518.8 243.8h1.0M505.3 198.4h1.0M468.9 243.0h1.0M475.2 194.0h1.0M500.8 248.0h1.0M491.2 222.6h1.0M513.4 193.6h1.0M473.3 204.6h1.0M504.9 221.4h1.0M485.6 213.2h1.0M512.2 223.1h1.0M499.5 197.7h1.0M464.2 209.2h1.0M484.2 237.9h1.0M492.4 220.0h1.0M512.8 232.0h1.0M481.3 199.8h1.0M497.9 202.7h1.0M467.9 213.6h1.0M506.4 230.9h1.0M478.1 198.8h1.0M515.5 220.4h1.0M507.5 208.5h1.0M477.3 206.1h1.0M471.5 224.4h1.0M487.4 208.8h1.0M467.6 227.5h1.0M477.4 194.6h1.0M496.2 225.1h1.0M462.9 202.2h1.0M483.1 206.6h1.0M484.3 197.4h1.0M470.0 245.5h1.0M500.8 215.1h1.0M485.0 210.8h1.0M465.8 211.1h1.0M511.3 199.2h1.0M487.4 204.0h1.0M491.7 197.5h1.0M466.8 199.0h1.0M490.7 228.6h1.0M477.8 231.6h1.0M466.1 202.8h1.0M486.6 186.9h1.0M470.3 210.5h1.0M470.9 246.1h1.0M469.3 227.8h1.0M503.4 188.0h1.0M474.8 205.9h1.0M464.6 224.5h1.0M487.1 197.9h1.0M485.4 220.6h1.0M482.0 211.5h1.0M502.9 198.2h1.0M475.5 236.1h1.0M510.4 216.1h1.0M505.6 213.8h1.0M502.0 201.6h1.0M480.6 213.2h1.0M504.7 244.7h1.0M477.9 209.4h1.0M514.3 235.3h1.0M473.2 210.7h1.0M483.7 199.1h1.0M483.6 199.9h1.0M495.3 225.5h1.0M474.7 238.4h1.0M465.1 206.2h1.0M511.2 237.7h1.0M471.4 212.2h1.0M497.9 232.3h1.0M499.9 208.3h1.0M516.4 217.2h1.0M501.4 209.0h1.0M476.6 208.0h1.0M488.2 221.6h1.0M487.2 220.0h1.0M488.8 213.9h1.0M489.2 229.9h1.0M482.2 236.2h1.0M465.7 210.4h1.0M496.1 212.1h1.0M484.2 193.3h1.0M489.0 254.4h1.0M468.7 186.9h1.0M491.8 203.1h1.0M455.5 202.1h1.0M467.1 213.9h1.0M508.0 209.6h1.0M499.3 221.0h1.0M481.3 236.3h1.0M498.1 228.5h1.0M483.8 214.7h1.0M485.0 213.0h1.0M465.4 225.8h1.0M471.2 208.9h1.0M500.3 234.2h1.0M482.2 202.8h1.0M507.1 229.0h1.0M510.7 203.8h1.0M463.3 208.4h1.0M488.9 196.0h1.0M504.5 196.7h1.0M462.6 207.0h1.0M481.2 209.5h1.0M468.4 202.4h1.0M475.1 195.8h1.0M517.3 213.3h1.0M471.3 199.6h1.0M514.4 253.1h1.0M466.3 206.0h1.0M515.4 223.6h1.0M504.8 207.5h1.0M484.4 228.0h1.0M480.4 204.7h1.0M467.9 203.8h1.0M486.3 225.2h1.0M486.3 198.0h1.0M487.4 198.2h1.0M481.3 207.3h1.0M483.1 203.6h1.0M469.9 233.7h1.0M474.1 205.9h1.0M467.8 197.9h1.0M477.6 209.9h1.0M485.4 204.9h1.0M493.0 209.6h1.0M504.9 219.8h1.0M486.4 192.2h1.0M491.4 233.4h1.0M494.8 203.9h1.0M487.9 198.3h1.0M459.0 205.8h1.0M481.0 210.6h1.0M510.6 234.9h1.0M510.6 233.0h1.0M505.6 203.8h1.0M490.3 216.6h1.0M468.7 189.5h1.0M505.9 233.2h1.0M505.0 234.9h1.0M485.1 204.4h1.0M521.8 228.7h1.0M498.3 222.7h1.0M517.8 227.0h1.0M486.2 209.3h1.0M465.4 206.5h1.0M482.3 188.8h1.0M483.1 222.2h1.0M463.9 192.1h1.0M497.9 192.5h1.0M479.7 195.1h1.0M495.4 215.2h1.0M472.1 200.4h1.0M508.3 222.2h1.0M466.8 210.5h1.0M476.5 193.2h1.0M481.9 208.4h1.0M483.9 214.0h1.0M496.2 207.1h1.0M512.5 224.9h1.0M474.5 200.3h1.0M485.5 233.4h1.0M476.8 209.6h1.0M486.2 221.1h1.0M473.8 201.5h1.0M510.3 197.4h1.0M481.3 211.9h1.0M514.6 228.2h1.0M492.3 210.7h1.0M470.3 210.3h1.0M477.2 214.7h1.0M478.3 207.5h1.0M495.5 211.1h1.0M476.4 187.8h1.0M486.3 205.6h1.0M508.2 217.7h1.0M503.5 211.1h1.0M484.7 200.9h1.0M498.5 195.1h1.0M473.3 256.4h1.0M470.8 200.8h1.0M502.7 214.0h1.0M501.3 199.3h1.0M508.4 203.1h1.0M461.8 203.3h1.0M507.8 189.6h1.0M464.2 203.2h1.0M475.2 199.9h1.0M515.5 228.0h1.0M504.2 235.7h1.0M514.5 243.6h1.0M505.1 224.3h1.0M472.8 206.5h1.0M477.4 228.1h1.0M513.5 214.4h1.0M464.6 200.0h1.0M466.4 200.2h1.0M473.2 203.1h1.0M476.8 198.3h1.0M475.3 201.6h1.0M497.3 197.5h1.0M512.1 222.5h1.0M466.7 210.2h1.0M473.2 200.6h1.0M482.0 196.8h1.0M493.2 221.8h1.0M505.1 216.0h1.0M479.1 219.9h1.0M468.7 199.3h1.0M507.2 225.5h1.0M486.2 217.5h1.0M469.1 222.9h1.0M458.3 215.3h1.0M471.1 205.4h1.0M497.9 206.4h1.0M466.0 201.5h1.0M463.9 217.0h1.0M509.5 198.6h1.0M509.5 210.8h1.0M496.4 212.9h1.0M486.6 197.7h1.0M477.4 193.9h1.0M510.5 235.6h1.0M482.5 191.6h1.0M471.9 246.4h1.0M504.4 237.7h1.0M463.2 226.7h1.0M469.9 193.4h1.0M484.0 215.7h1.0M484.8 193.3h1.0M498.5 234.5h1.0M479.2 206.9h1.0M462.2 199.7h1.0M477.8 206.5h1.0M503.9 210.5h1.0M495.3 226.6h1.0M473.2 209.0h1.0M504.5 189.3h1.0M460.7 243.7h1.0M480.6 210.2h1.0M505.9 233.0h1.0M509.8 225.2h1.0M475.0 201.4h1.0M495.3 216.5h1.0M474.6 211.2h1.0M469.5 202.1h1.0M509.7 200.7h1.0M506.2 225.0h1.0M457.4 206.0h1.0M519.5 242.7h1.0M488.7 202.6h1.0M477.0 212.5h1.0M474.4 219.8h1.0M487.7 195.5h1.0M511.9 215.7h1.0M512.8 238.9h1.0M503.9 214.7h1.0M474.5 200.2h1.0M497.5 205.5h1.0M506.4 231.1h1.0M468.6 192.3h1.0M507.0 213.1h1.0M464.8 203.1h1.0M513.5 227.7h1.0M478.8 196.4h1.0M512.4 229.0h1.0M490.7 192.3h1.0M511.5 195.4h1.0M469.8 213.1h1.0M480.6 200.0h1.0M467.6 216.2h1.0M479.9 222.1h1.0M466.7 258.7h1.0M474.2 218.9h1.0M507.5 184.3h1.0M490.9 206.4h1.0M508.8 216.7h1.0M477.8 205.9h1.0M481.4 212.6h1.0M473.0 203.7h1.0M468.4 197.1h1.0M500.9 230.0h1.0M457.7 201.0h1.0M481.2 208.8h1.0M513.7 249.1h1.0M470.8 204.2h1.0M518.2 189.7h1.0M506.7 185.9h1.0M462.1 205.0h1.0M469.8 252.4h1.0M481.1 215.3h1.0M484.3 210.6h1.0M512.0 216.8h1.0M510.2 195.1h1.0M470.0 196.2h1.0M513.0 221.5h1.0M510.2 195.8h1.0M497.2 226.5h1.0M483.7 205.4h1.0M500.3 196.2h1.0M489.7 212.3h1.0M490.1 240.7h1.0M479.4 188.4h1.0M461.7 198.4h1.0M474.4 205.2h1.0M466.1 195.0h1.0M500.9 222.5h1.0M486.7 203.1h1.0M493.0 233.8h1.0M479.8 187.0h1.0M506.0 231.7h1.0M480.4 200.5h1.0M466.8 225.6h1.0M508.6 222.1h1.0M493.2 213.9h1.0M487.3 200.3h1.0M484.3 216.3h1.0M470.0 223.4h1.0M470.4 208.7h1.0M481.4 214.2h1.0M510.0 244.5h1.0M482.0 204.6h1.0M516.5 217.1h1.0M478.4 200.6h1.0M505.8 245.7h1.0M503.8 219.0h1.0M496.1 193.9h1.0M477.0 200.0h1.0M463.7 206.3h1.0M509.5 209.7h1.0M461.2 252.2h1.0M498.5 198.4h1.0M520.9 219.8h1.0M479.4 215.4h1.0M472.1 206.3h1.0M483.9 206.1h1.0M477.3 190.8h1.0M493.6 219.2h1.0M492.8 225.9h1.0M487.2 214.0h1.0M461.7 206.5h1.0M488.4 215.4h1.0M456.5 219.8h1.0M487.4 230.7h1.0M463.2 199.4h1.0M480.2 230.2h1.0M475.3 200.5h1.0M508.6 189.7h1.0M483.6 249.3h1.0M482.2 206.0h1.0M475.7 205.1h1.0M519.1 221.6h1.0M490.4 229.3h1.0M504.1 205.5h1.0M484.9 211.7h1.0M476.9 198.5h1.0M488.2 218.5h1.0M499.5 248.4h1.0M523.5 237.9h1.0M487.4 197.3h1.0M471.1 212.0h1.0M476.9 199.5h1.0M497.8 208.5h1.0M458.0 216.5h1.0M482.0 211.8h1.0M485.6 247.5h1.0M476.8 206.4h1.0M518.1 223.5h1.0M512.1 235.6h1.0M487.4 213.7h1.0M478.9 204.1h1.0M476.5 201.6h1.0M484.3 219.3h1.0M508.5 210.9h1.0M478.5 234.5h1.0M514.7 197.6h1.0M509.7 205.6h1.0M460.7 198.6h1.0M490.3 216.6h1.0M481.1 211.4h1.0M486.8 198.3h1.0M473.8 205.5h1.0M484.7 200.9h1.0M484.7 238.3h1.0M491.5 216.8h1.0M496.5 202.5h1.0M493.6 221.8h1.0M494.2 209.9h1.0M477.6 196.5h1.0M493.1 199.4h1.0M473.4 190.9h1.0M483.1 216.7h1.0M457.2 203.5h1.0M473.0 216.5h1.0M483.8 214.7h1.0M516.7 222.2h1.0M486.1 201.2h1.0M474.2 207.2h1.0M470.0 202.6h1.0M477.8 255.4h1.0M479.5 198.6h1.0M479.3 207.9h1.0M484.7 208.7h1.0M506.0 228.8h1.0M502.9 205.3h1.0M480.7 199.2h1.0M475.7 234.1h1.0M476.1 191.8h1.0M503.6 215.5h1.0M515.8 234.1h1.0M495.2 213.9h1.0M472.6 210.5h1.0M464.0 207.5h1.0M489.8 205.1h1.0M475.0 194.5h1.0M507.0 228.9h1.0M470.8 204.9h1.0M490.1 207.7h1.0M499.6 209.7h1.0M492.6 189.0h1.0M474.4 202.4h1.0M475.4 200.5h1.0M485.2 196.3h1.0M478.7 214.0h1.0M496.3 193.2h1.0M490.2 204.0h1.0M474.8 229.7h1.0M468.6 206.0h1.0M504.8 217.0h1.0M500.1 220.5h1.0M501.3 221.8h1.0M456.0 201.8h1.0M489.1 244.1h1.0M505.0 202.8h1.0M499.3 198.2h1.0M486.9 196.3h1.0M507.2 216.4h1.0M489.7 209.1h1.0M457.6 201.3h1.0M475.4 208.4h1.0M455.7 185.7h1.0M499.4 192.1h1.0M483.0 224.5h1.0M506.8 220.3h1.0M500.9 231.6h1.0M501.9 205.5h1.0M492.3 195.0h1.0M485.7 207.1h1.0M481.4 236.2h1.0M505.7 195.2h1.0M470.9 210.3h1.0M485.4 235.2h1.0M495.3 221.8h1.0M509.4 206.3h1.0M457.1 196.7h1.0M473.1 192.6h1.0M468.0 204.0h1.0M489.8 195.7h1.0M476.7 223.3h1.0M508.4 218.5h1.0M475.6 210.4h1.0M473.0 195.4h1.0M482.5 222.2h1.0M469.5 208.9h1.0M471.0 224.2h1.0M502.6 217.4h1.0M498.4 254.4h1.0M510.9 218.5h1.0M484.0 199.7h1.0" stroke="#ff3030" stroke-width="1.0" stroke-opacity="0.42" fill="none"/>
<ellipse cx="512.5" cy="253.2" rx="5.2" ry="7.0" fill="#f0060c" transform="rotate(0 512.5 253.2)" filter="url(#b5)"/>
<path d="M516.2 256.0h1.0M513.8 254.8h1.0M515.9 243.9h1.0M508.7 255.8h1.0M512.1 253.1h1.0M513.9 254.6h1.0M512.3 252.1h1.0M508.2 258.9h1.0M509.2 249.7h1.0M510.2 242.9h1.0M514.4 252.4h1.0M514.3 246.9h1.0M507.0 250.5h1.0M512.6 257.1h1.0M514.9 256.1h1.0M511.6 254.9h1.0M515.1 251.2h1.0M510.6 256.2h1.0M509.5 261.6h1.0M512.9 251.8h1.0M510.2 249.0h1.0M505.4 252.1h1.0M515.8 255.9h1.0M508.6 261.8h1.0M508.8 254.7h1.0M512.7 259.3h1.0M515.3 255.1h1.0M512.1 252.8h1.0M513.6 255.1h1.0M511.2 255.6h1.0M510.9 251.1h1.0M507.7 246.6h1.0M516.9 254.1h1.0M513.2 247.6h1.0M509.5 248.2h1.0M506.1 254.3h1.0M512.5 254.6h1.0M508.6 250.2h1.0M513.2 248.4h1.0M508.7 252.6h1.0M509.4 253.1h1.0M515.3 252.1h1.0M508.6 253.7h1.0M511.4 253.2h1.0M512.9 250.1h1.0M505.6 247.4h1.0M510.4 254.3h1.0M506.2 253.9h1.0M511.1 250.1h1.0M512.2 257.8h1.0M512.2 250.1h1.0M510.5 252.5h1.0M509.0 245.5h1.0M509.9 252.3h1.0M514.9 255.0h1.0M513.9 253.6h1.0M512.1 255.4h1.0M509.1 249.0h1.0M512.2 260.8h1.0M515.2 254.0h1.0M507.1 252.9h1.0M506.7 254.3h1.0M509.4 254.6h1.0M508.8 253.5h1.0M513.1 250.2h1.0M511.9 255.5h1.0M508.6 250.4h1.0M516.8 258.7h1.0M508.7 258.0h1.0M509.4 258.2h1.0M516.1 249.5h1.0M514.1 249.1h1.0M514.5 254.8h1.0M513.2 254.1h1.0M510.6 255.6h1.0M511.9 249.4h1.0M511.9 251.5h1.0M516.1 256.1h1.0M510.8 252.6h1.0M515.9 249.8h1.0M507.9 251.2h1.0M511.6 251.9h1.0M510.8 255.8h1.0M512.9 252.4h1.0M512.4 255.4h1.0M507.9 259.9h1.0M515.6 250.3h1.0M510.8 255.7h1.0M511.4 253.1h1.0M510.2 254.6h1.0M513.8 253.7h1.0M511.7 255.4h1.0M512.2 252.5h1.0M514.6 255.9h1.0M510.3 257.7h1.0M512.3 251.8h1.0M510.4 253.7h1.0M514.3 251.3h1.0M508.5 242.9h1.0M515.3 255.4h1.0M512.8 251.7h1.0M515.4 249.4h1.0M512.0 253.1h1.0M513.9 258.3h1.0M513.8 249.8h1.0M507.4 256.8h1.0M509.9 250.5h1.0M516.6 255.8h1.0M510.8 253.2h1.0M511.8 249.4h1.0M517.6 249.0h1.0M508.7 253.7h1.0M516.3 252.4h1.0M516.2 245.9h1.0M514.8 249.8h1.0M506.1 256.0h1.0M510.5 252.3h1.0M509.4 254.2h1.0M507.7 249.8h1.0M515.3 256.1h1.0M511.2 254.7h1.0M511.3 251.5h1.0M515.1 250.2h1.0M513.9 251.6h1.0M511.2 253.1h1.0M516.3 257.2h1.0M507.6 250.2h1.0M512.6 251.1h1.0M513.9 248.5h1.0M511.6 252.0h1.0M515.3 255.4h1.0M514.1 251.2h1.0M513.6 251.7h1.0M510.3 254.7h1.0M512.6 253.7h1.0M511.2 252.2h1.0M516.5 253.2h1.0M508.6 261.4h1.0M507.9 249.6h1.0M516.0 247.6h1.0M511.3 256.0h1.0M510.2 252.2h1.0M513.3 249.5h1.0M508.2 260.0h1.0M509.2 249.1h1.0M511.5 252.8h1.0M510.5 252.8h1.0M516.5 251.5h1.0M512.8 253.0h1.0M512.6 252.8h1.0M514.5 252.8h1.0M507.9 255.6h1.0M512.1 247.2h1.0M513.8 251.2h1.0M508.0 249.0h1.0M512.5 256.0h1.0M510.7 252.0h1.0M508.4 250.2h1.0M509.6 258.4h1.0M519.3 252.1h1.0M511.3 254.2h1.0M516.3 257.9h1.0M512.8 255.3h1.0M508.9 247.6h1.0M513.5 257.2h1.0M510.8 252.2h1.0M510.5 250.2h1.0M508.6 255.8h1.0M509.8 257.9h1.0M512.3 250.0h1.0M510.6 254.7h1.0M512.0 258.4h1.0M514.9 252.4h1.0M516.0 257.7h1.0M512.3 252.8h1.0M507.3 253.2h1.0M513.1 250.8h1.0M508.5 256.7h1.0M511.0 252.1h1.0M510.7 259.1h1.0M507.9 253.9h1.0M514.8 252.5h1.0M512.0 255.1h1.0M509.3 256.2h1.0M509.1 249.2h1.0M510.5 247.1h1.0M507.3 255.1h1.0M513.6 255.9h1.0M512.9 253.3h1.0M510.7 249.3h1.0M518.6 252.4h1.0M515.0 255.9h1.0M512.3 258.6h1.0M508.0 249.3h1.0M507.1 254.8h1.0M509.4 252.8h1.0M515.1 251.9h1.0M509.4 255.0h1.0M506.1 251.1h1.0M509.3 254.8h1.0M514.1 260.7h1.0M509.8 254.9h1.0M509.4 254.4h1.0M511.3 258.3h1.0M512.2 253.8h1.0M509.9 253.3h1.0M513.1 247.5h1.0M507.3 250.4h1.0M510.3 255.5h1.0M510.4 250.0h1.0M510.5 256.7h1.0M509.7 258.6h1.0M514.4 253.4h1.0M519.1 259.6h1.0M513.5 253.6h1.0M511.7 256.9h1.0M513.2 252.9h1.0M509.5 255.2h1.0M513.1 254.7h1.0M509.1 244.3h1.0M508.4 256.8h1.0M514.9 257.6h1.0M512.2 254.5h1.0M514.1 246.9h1.0M512.2 250.4h1.0M512.4 251.8h1.0M515.8 249.9h1.0M512.3 252.9h1.0M513.4 251.3h1.0M515.9 248.2h1.0M511.9 252.9h1.0M510.9 255.7h1.0M514.4 249.7h1.0M512.3 262.5h1.0M512.8 255.0h1.0M509.8 249.2h1.0M512.4 258.2h1.0M515.1 253.5h1.0M509.5 255.0h1.0M508.8 254.8h1.0M513.5 254.3h1.0M506.7 255.0h1.0M514.4 256.7h1.0M515.3 248.6h1.0M509.2 253.4h1.0M514.3 252.9h1.0M509.8 251.8h1.0M514.1 251.0h1.0M509.0 261.8h1.0M513.6 249.8h1.0M514.1 252.1h1.0M511.1 253.8h1.0M508.2 250.3h1.0M518.0 256.2h1.0M515.3 253.8h1.0M514.7 249.2h1.0M505.1 251.5h1.0M513.4 248.9h1.0M515.1 249.5h1.0M509.4 242.9h1.0M519.6 251.6h1.0M515.2 255.2h1.0M512.7 250.2h1.0M512.0 259.3h1.0M509.8 255.6h1.0M510.5 255.9h1.0M507.9 251.8h1.0M511.3 253.8h1.0M510.6 257.7h1.0M510.1 253.9h1.0M512.2 259.9h1.0M512.1 254.5h1.0M514.8 260.0h1.0M512.8 257.8h1.0M507.9 254.8h1.0M516.5 255.4h1.0M515.1 249.5h1.0M513.2 252.3h1.0M515.7 259.3h1.0M511.3 248.7h1.0M510.6 253.1h1.0M514.3 251.0h1.0M513.2 246.3h1.0M514.1 252.3h1.0M511.9 253.9h1.0M516.3 252.0h1.0M513.2 247.7h1.0M513.2 248.6h1.0M509.1 254.6h1.0M512.5 251.0h1.0M511.0 252.8h1.0M509.3 251.8h1.0M511.5 250.9h1.0M512.4 253.2h1.0M512.4 261.9h1.0M508.5 244.3h1.0M510.1 249.2h1.0M510.3 249.1h1.0M508.8 255.2h1.0M513.1 249.1h1.0" stroke="#f0060c" stroke-width="1.0" stroke-opacity="0.5" fill="none"/>
<rect x="300" y="319.3" width="103" height="95.69999999999999" fill="none" stroke="#c4c4c4" stroke-width="1"/>
<line x1="300" y1="319.3" x2="300" y2="415" stroke="#777" stroke-width="1.1"/>
<line x1="299.5" y1="415" x2="403" y2="415" stroke="#3a3a3a" stroke-width="1.45"/>
<line x1="298" y1="328.6" x2="300" y2="328.6" stroke="#555" stroke-width="0.8"/>
<text x="295.7" y="330.3" font-size="5" font-weight="bold" text-anchor="end" fill="#666">10<tspan font-size="3.4" dy="-2">5</tspan></text>
<line x1="298" y1="349.7" x2="300" y2="349.7" stroke="#555" stroke-width="0.8"/>
<text x="295.7" y="351.4" font-size="5" font-weight="bold" text-anchor="end" fill="#666">10<tspan font-size="3.4" dy="-2">4</tspan></text>
<line x1="298" y1="371.8" x2="300" y2="371.8" stroke="#555" stroke-width="0.8"/>
<text x="295.7" y="373.5" font-size="5" font-weight="bold" text-anchor="end" fill="#666">10<tspan font-size="3.4" dy="-2">3</tspan></text>
<line x1="298" y1="394.4" x2="300" y2="394.4" stroke="#555" stroke-width="0.8"/>
<text x="295.7" y="396.1" font-size="5" font-weight="bold" text-anchor="end" fill="#666">10<tspan font-size="3.4" dy="-2">2</tspan></text>
<line x1="298" y1="405.4" x2="300" y2="405.4" stroke="#222" stroke-width="1.3"/>
<text x="296" y="407.2" font-size="5.2" font-weight="bold" text-anchor="end" fill="#666">0</text>
<line x1="298.8" y1="413.0" x2="300" y2="413.0" stroke="#777" stroke-width="0.6"/>
<line x1="298.8" y1="410.0" x2="300" y2="410.0" stroke="#777" stroke-width="0.6"/>
<line x1="298.8" y1="402.0" x2="300" y2="402.0" stroke="#777" stroke-width="0.6"/>
<line x1="298.8" y1="385.0" x2="300" y2="385.0" stroke="#777" stroke-width="0.6"/>
<line x1="298.8" y1="380.0" x2="300" y2="380.0" stroke="#777" stroke-width="0.6"/>
<line x1="298.8" y1="377.0" x2="300" y2="377.0" stroke="#777" stroke-width="0.6"/>
<line x1="298.8" y1="375.0" x2="300" y2="375.0" stroke="#777" stroke-width="0.6"/>
<line x1="298.8" y1="363.0" x2="300" y2="363.0" stroke="#777" stroke-width="0.6"/>
<line x1="298.8" y1="358.0" x2="300" y2="358.0" stroke="#777" stroke-width="0.6"/>
<line x1="298.8" y1="355.0" x2="300" y2="355.0" stroke="#777" stroke-width="0.6"/>
<line x1="298.8" y1="353.0" x2="300" y2="353.0" stroke="#777" stroke-width="0.6"/>
<line x1="298.8" y1="342.0" x2="300" y2="342.0" stroke="#777" stroke-width="0.6"/>
<line x1="298.8" y1="336.0" x2="300" y2="336.0" stroke="#777" stroke-width="0.6"/>
<line x1="298.8" y1="333.0" x2="300" y2="333.0" stroke="#777" stroke-width="0.6"/>
<line x1="298.8" y1="331.0" x2="300" y2="331.0" stroke="#777" stroke-width="0.6"/>
<line x1="321.5" y1="415" x2="321.5" y2="417" stroke="#555" stroke-width="0.8"/>
<text x="318.3" y="424.6" font-size="5" font-weight="bold" fill="#666">10<tspan font-size="3.4" dy="-2">2</tspan></text>
<line x1="345.6" y1="415" x2="345.6" y2="417" stroke="#555" stroke-width="0.8"/>
<text x="342.4" y="424.6" font-size="5" font-weight="bold" fill="#666">10<tspan font-size="3.4" dy="-2">3</tspan></text>
<line x1="369.0" y1="415" x2="369.0" y2="417" stroke="#555" stroke-width="0.8"/>
<text x="365.8" y="424.6" font-size="5" font-weight="bold" fill="#666">10<tspan font-size="3.4" dy="-2">4</tspan></text>
<line x1="392.0" y1="415" x2="392.0" y2="417" stroke="#555" stroke-width="0.8"/>
<text x="388.8" y="424.6" font-size="5" font-weight="bold" fill="#666">10<tspan font-size="3.4" dy="-2">5</tspan></text>
<line x1="310.8" y1="415" x2="310.8" y2="417" stroke="#222" stroke-width="1.3"/>
<text x="310.8" y="424.6" font-size="5.2" font-weight="bold" text-anchor="middle" fill="#666">0</text>
<line x1="302.0" y1="415" x2="302.0" y2="416.2" stroke="#777" stroke-width="0.6"/>
<line x1="305.0" y1="415" x2="305.0" y2="416.2" stroke="#777" stroke-width="0.6"/>
<line x1="315.0" y1="415" x2="315.0" y2="416.2" stroke="#777" stroke-width="0.6"/>
<line x1="318.0" y1="415" x2="318.0" y2="416.2" stroke="#777" stroke-width="0.6"/>
<line x1="330.0" y1="415" x2="330.0" y2="416.2" stroke="#777" stroke-width="0.6"/>
<line x1="336.0" y1="415" x2="336.0" y2="416.2" stroke="#777" stroke-width="0.6"/>
<line x1="340.0" y1="415" x2="340.0" y2="416.2" stroke="#777" stroke-width="0.6"/>
<line x1="343.0" y1="415" x2="343.0" y2="416.2" stroke="#777" stroke-width="0.6"/>
<line x1="354.0" y1="415" x2="354.0" y2="416.2" stroke="#777" stroke-width="0.6"/>
<line x1="360.0" y1="415" x2="360.0" y2="416.2" stroke="#777" stroke-width="0.6"/>
<line x1="364.0" y1="415" x2="364.0" y2="416.2" stroke="#777" stroke-width="0.6"/>
<line x1="367.0" y1="415" x2="367.0" y2="416.2" stroke="#777" stroke-width="0.6"/>
<line x1="377.0" y1="415" x2="377.0" y2="416.2" stroke="#777" stroke-width="0.6"/>
<line x1="383.0" y1="415" x2="383.0" y2="416.2" stroke="#777" stroke-width="0.6"/>
<line x1="387.0" y1="415" x2="387.0" y2="416.2" stroke="#777" stroke-width="0.6"/>
<line x1="390.0" y1="415" x2="390.0" y2="416.2" stroke="#777" stroke-width="0.6"/>
<line x1="400.0" y1="415" x2="400.0" y2="416.2" stroke="#777" stroke-width="0.6"/>
<text x="297.0" y="302.3" font-size="12" text-anchor="start" font-weight="normal" fill="#222" class="t">T cell + IFN-γ-HLC +</text>
<text x="309.4" y="316.5" font-size="11.95" text-anchor="start" font-weight="normal" fill="#222" class="t">αCD3/28 + TRP</text>
<path d="M330.3 372.6h1.0M326.1 352.7h1.0M347.6 343.5h1.0M378.4 370.9h1.0M332.3 348.9h1.0M340.4 352.9h1.0M384.8 379.8h1.0M344.3 349.5h1.0M342.6 359.2h1.0M391.0 403.5h1.0M343.2 336.3h1.0M338.2 359.3h1.0M338.7 359.5h1.0M366.7 363.4h1.0M342.4 350.0h1.0M360.8 371.0h1.0M339.2 336.2h1.0M325.3 360.5h1.0M338.9 355.6h1.0M346.0 348.1h1.0M341.3 348.3h1.0M363.4 362.8h1.0M382.1 353.4h1.0M332.8 354.8h1.0M380.2 349.0h1.0M355.3 381.4h1.0M329.0 359.6h1.0M341.4 338.6h1.0M352.7 363.5h1.0M381.7 385.1h1.0M341.6 358.3h1.0M334.7 351.1h1.0M336.1 355.4h1.0M322.5 347.8h1.0M367.9 353.9h1.0M367.7 397.3h1.0M361.5 362.0h1.0M373.3 348.4h1.0M326.0 335.7h1.0M323.5 354.3h1.0M363.9 348.9h1.0M392.9 366.4h1.0M352.3 360.4h1.0M376.9 392.7h1.0M350.8 371.2h1.0M336.5 348.3h1.0M333.7 336.5h1.0M358.1 394.0h1.0M377.7 399.5h1.0M338.7 350.4h1.0M367.1 346.1h1.0M350.1 360.3h1.0M324.0 356.9h1.0M386.1 391.8h1.0M374.3 350.5h1.0M365.9 362.5h1.0M323.5 340.0h1.0M386.9 372.1h1.0M355.9 351.9h1.0M374.8 367.7h1.0M350.7 373.0h1.0M324.8 342.7h1.0M381.1 372.1h1.0M325.8 347.9h1.0M375.3 353.8h1.0M356.3 369.6h1.0M359.0 352.4h1.0M330.0 365.2h1.0M354.9 366.9h1.0M335.0 365.9h1.0M331.8 355.8h1.0M380.9 365.1h1.0M361.1 356.9h1.0M333.9 356.0h1.0M379.9 392.2h1.0M377.1 377.1h1.0M333.5 348.4h1.0M327.1 352.5h1.0M341.5 340.6h1.0M374.3 386.3h1.0M344.4 367.5h1.0M347.3 351.8h1.0M336.3 357.8h1.0M330.1 361.5h1.0M378.5 356.0h1.0M355.5 365.8h1.0M333.5 362.4h1.0M366.4 350.7h1.0M358.5 357.0h1.0M327.1 342.7h1.0M385.8 385.8h1.0M342.5 355.0h1.0M364.3 358.5h1.0M375.1 367.6h1.0M326.4 354.9h1.0M367.8 339.6h1.0M382.1 340.3h1.0M361.9 365.7h1.0M380.6 343.1h1.0M378.3 382.1h1.0M338.8 366.3h1.0M333.8 348.3h1.0M368.5 348.5h1.0M339.2 359.7h1.0M322.8 338.4h1.0M339.4 353.1h1.0M336.1 351.9h1.0M383.2 371.3h1.0M373.8 378.8h1.0M389.5 393.7h1.0M338.6 352.6h1.0M342.2 357.5h1.0M374.2 344.5h1.0M380.3 394.0h1.0M336.5 355.0h1.0M381.1 372.2h1.0M338.9 362.3h1.0M368.9 355.7h1.0M354.4 354.5h1.0M366.6 355.6h1.0M372.4 360.6h1.0M323.3 348.7h1.0M349.2 359.0h1.0M372.8 350.8h1.0M343.6 347.5h1.0M332.6 368.6h1.0M343.5 343.7h1.0M345.7 361.3h1.0M339.1 352.1h1.0M331.5 363.8h1.0M363.8 387.9h1.0M355.3 340.7h1.0M334.9 364.3h1.0M333.1 359.7h1.0M333.7 340.4h1.0M334.7 358.5h1.0M354.1 345.2h1.0M371.4 361.4h1.0M329.9 359.3h1.0M348.0 362.7h1.0M332.4 360.9h1.0M369.6 354.6h1.0M328.2 350.0h1.0M331.4 363.5h1.0M355.7 350.8h1.0M370.2 356.4h1.0M343.1 352.8h1.0M387.4 361.1h1.0M376.9 377.6h1.0M380.6 352.9h1.0M356.1 350.2h1.0M363.9 356.5h1.0M327.9 359.9h1.0M382.9 385.1h1.0M383.8 363.6h1.0M381.3 352.4h1.0M343.5 357.9h1.0M324.9 354.3h1.0M337.7 356.8h1.0M343.6 334.3h1.0M376.5 351.5h1.0M341.6 352.1h1.0M369.9 382.3h1.0M387.1 349.8h1.0M329.0 351.5h1.0M360.5 367.1h1.0M342.6 357.5h1.0M349.8 391.0h1.0M347.2 356.9h1.0M356.2 354.6h1.0M361.8 355.7h1.0M376.7 383.8h1.0M351.7 358.2h1.0M339.2 353.4h1.0M387.2 386.3h1.0M352.1 354.3h1.0M332.5 341.8h1.0M361.9 345.9h1.0M364.5 348.0h1.0M389.2 397.9h1.0M350.1 359.6h1.0M378.4 367.6h1.0M341.4 379.9h1.0M392.8 361.0h1.0M368.9 363.9h1.0M320.6 356.3h1.0M349.9 346.3h1.0M340.9 358.1h1.0M333.3 346.6h1.0M370.4 362.0h1.0M355.7 375.9h1.0M332.2 348.3h1.0M351.9 339.0h1.0M358.8 353.3h1.0M387.7 394.0h1.0M351.5 381.2h1.0M380.6 371.5h1.0M327.7 368.6h1.0M329.8 360.9h1.0M337.7 387.3h1.0M347.7 338.2h1.0M376.8 388.7h1.0M349.9 350.5h1.0M352.5 357.2h1.0M329.0 342.0h1.0M336.7 384.6h1.0M328.1 356.5h1.0M321.9 364.9h1.0M373.2 354.8h1.0M392.3 381.5h1.0M364.7 353.2h1.0M377.4 351.0h1.0M374.8 369.9h1.0M351.7 349.4h1.0M357.7 394.3h1.0M345.2 382.5h1.0M366.8 358.3h1.0M380.8 386.9h1.0M380.0 380.9h1.0M357.1 352.0h1.0M333.9 344.8h1.0M363.1 366.7h1.0M358.8 352.1h1.0M387.5 389.9h1.0M382.3 379.9h1.0M322.3 365.3h1.0M333.7 357.2h1.0M380.0 389.7h1.0M341.2 361.6h1.0M351.0 350.4h1.0M322.0 355.3h1.0M377.2 365.2h1.0M346.5 345.7h1.0M352.4 349.6h1.0M369.8 364.0h1.0M327.2 360.3h1.0M323.4 363.1h1.0M362.2 353.3h1.0M350.1 357.2h1.0M346.1 354.4h1.0M343.1 356.2h1.0M368.0 368.1h1.0M347.2 354.0h1.0M342.8 354.8h1.0M334.5 351.5h1.0M343.2 354.4h1.0M358.8 363.6h1.0M366.2 353.8h1.0M374.3 372.7h1.0M344.8 373.8h1.0M366.0 392.9h1.0M338.1 365.4h1.0M379.9 373.3h1.0M321.3 355.0h1.0M349.7 346.7h1.0M330.0 357.5h1.0M335.5 379.2h1.0M381.9 393.0h1.0M387.1 383.6h1.0M336.1 358.7h1.0M334.6 352.1h1.0M389.4 380.6h1.0M379.6 366.3h1.0M377.0 340.2h1.0M334.3 355.6h1.0M389.9 383.2h1.0M333.1 342.2h1.0M332.3 350.4h1.0M363.1 366.2h1.0M352.0 356.2h1.0M376.6 383.9h1.0M359.9 345.2h1.0M343.1 352.6h1.0M357.7 356.9h1.0M391.9 382.1h1.0M354.6 358.6h1.0M388.0 397.4h1.0M361.6 373.0h1.0M386.7 388.4h1.0M383.2 387.2h1.0M346.2 345.7h1.0M386.1 381.7h1.0M387.8 353.3h1.0M323.9 352.2h1.0M350.4 349.6h1.0M332.4 363.2h1.0M353.2 346.3h1.0M357.2 357.2h1.0M370.6 351.3h1.0M376.9 393.7h1.0M343.6 352.4h1.0M374.7 351.7h1.0M326.6 349.1h1.0M342.0 348.7h1.0M381.7 369.3h1.0M367.6 360.5h1.0M377.8 399.8h1.0M384.2 391.0h1.0M385.8 362.5h1.0M334.5 360.6h1.0M366.2 352.8h1.0M385.5 380.4h1.0M389.8 378.1h1.0M345.6 339.9h1.0M339.4 372.9h1.0M343.4 356.0h1.0M355.7 372.5h1.0M349.4 358.7h1.0M325.6 367.3h1.0M356.8 345.6h1.0M343.4 350.2h1.0M382.3 391.6h1.0M367.1 354.2h1.0M369.8 371.3h1.0M350.1 367.0h1.0M352.9 351.9h1.0M380.7 360.6h1.0M364.0 371.8h1.0M383.5 371.5h1.0M377.9 381.2h1.0M329.2 354.7h1.0M362.7 350.3h1.0M330.2 384.5h1.0M320.9 351.1h1.0M346.1 349.7h1.0M362.5 350.7h1.0M348.6 346.7h1.0M333.0 337.2h1.0M325.9 378.4h1.0M358.3 355.6h1.0M335.3 355.3h1.0M327.3 354.2h1.0M347.9 355.8h1.0M363.0 360.4h1.0M368.9 349.4h1.0M380.9 368.2h1.0M382.9 391.5h1.0M329.2 351.0h1.0M321.9 351.6h1.0M324.9 347.2h1.0M376.4 374.8h1.0M337.0 352.8h1.0M337.9 357.5h1.0M388.8 368.7h1.0M346.9 356.0h1.0M347.1 355.0h1.0M362.1 348.3h1.0M356.8 347.0h1.0M380.7 376.6h1.0M362.8 349.2h1.0M351.5 356.9h1.0M374.3 364.7h1.0M335.3 382.5h1.0M361.3 369.4h1.0M338.7 355.3h1.0M364.7 360.5h1.0M376.6 334.0h1.0M384.1 380.7h1.0M357.4 356.0h1.0M366.7 368.1h1.0M345.6 348.6h1.0M381.3 350.1h1.0M350.1 358.0h1.0M376.7 371.8h1.0M375.5 354.6h1.0M339.2 351.5h1.0M341.7 347.2h1.0M375.0 343.4h1.0M345.0 367.2h1.0M370.4 381.9h1.0M335.9 351.8h1.0M387.2 387.5h1.0M375.6 340.4h1.0M380.0 379.0h1.0M331.2 352.9h1.0M380.2 369.2h1.0M369.8 349.6h1.0M321.5 350.9h1.0M328.2 352.4h1.0M385.0 396.8h1.0M321.6 361.4h1.0M370.0 345.6h1.0M346.1 356.5h1.0M379.3 373.6h1.0M383.8 357.9h1.0M368.8 353.8h1.0M353.1 367.2h1.0M371.1 346.8h1.0M382.5 347.7h1.0M355.6 360.5h1.0M383.0 370.7h1.0M355.0 363.0h1.0M339.3 354.4h1.0M344.5 351.6h1.0M379.3 371.6h1.0M391.0 389.2h1.0M337.4 355.9h1.0M390.7 389.7h1.0M322.6 350.6h1.0M349.2 349.8h1.0M353.5 354.5h1.0M360.2 371.7h1.0M353.8 340.2h1.0M356.0 347.0h1.0M330.7 347.2h1.0M337.1 367.4h1.0M363.3 338.1h1.0M346.0 352.8h1.0M374.4 382.5h1.0M354.8 346.0h1.0M354.8 360.6h1.0M330.1 406.8h1.0M347.3 345.5h1.0M324.8 350.7h1.0M351.7 352.9h1.0M352.7 363.5h1.0M368.6 355.8h1.0M371.7 364.6h1.0M357.8 335.9h1.0M334.8 344.7h1.0M366.9 364.8h1.0M351.4 360.8h1.0M331.6 351.4h1.0M371.5 384.4h1.0M387.0 376.6h1.0M391.2 376.9h1.0M323.2 357.8h1.0M321.3 356.6h1.0M349.9 360.5h1.0M371.0 357.2h1.0M339.4 355.0h1.0M385.6 376.1h1.0M333.6 347.8h1.0M361.3 342.4h1.0M369.5 375.2h1.0M376.2 348.9h1.0M347.4 353.5h1.0M358.9 372.5h1.0M352.5 365.5h1.0M374.9 350.0h1.0M327.3 359.8h1.0M376.5 395.2h1.0M358.3 360.3h1.0M350.3 362.9h1.0M372.2 346.7h1.0M359.5 373.6h1.0M386.2 365.8h1.0M339.6 370.6h1.0M336.6 354.6h1.0M359.1 344.7h1.0M340.9 342.5h1.0M361.5 361.6h1.0M329.3 353.6h1.0M329.8 355.0h1.0M353.2 369.7h1.0M364.3 360.5h1.0M324.4 364.2h1.0M346.5 367.4h1.0M380.6 389.6h1.0M342.8 346.6h1.0M346.7 395.3h1.0M342.6 357.0h1.0M366.6 391.2h1.0M383.4 387.4h1.0M357.2 338.2h1.0M331.7 377.5h1.0M329.7 346.3h1.0M374.8 382.4h1.0M342.1 354.9h1.0M345.1 353.0h1.0M328.7 346.5h1.0M331.0 366.4h1.0M319.7 349.8h1.0M340.8 361.3h1.0M368.8 357.0h1.0M334.2 353.7h1.0M351.4 364.1h1.0M350.9 349.4h1.0M341.3 362.4h1.0M379.3 369.0h1.0M344.3 345.2h1.0M363.5 342.8h1.0M388.0 394.2h1.0M338.6 350.3h1.0M356.8 349.6h1.0M390.8 384.0h1.0M346.4 365.4h1.0M330.8 336.9h1.0M336.6 351.3h1.0M341.2 355.2h1.0M353.1 354.1h1.0M351.4 393.9h1.0M360.5 361.8h1.0M366.1 350.0h1.0M390.7 379.7h1.0M362.1 388.0h1.0M383.5 381.5h1.0M346.4 365.0h1.0M366.3 355.7h1.0M340.3 363.4h1.0M377.3 389.2h1.0M366.2 366.1h1.0M382.4 379.0h1.0M374.8 376.2h1.0M372.7 354.3h1.0M332.9 344.2h1.0M340.2 391.1h1.0M340.0 340.0h1.0M363.6 347.0h1.0M373.2 369.8h1.0M358.2 341.9h1.0M377.9 374.5h1.0M343.8 357.5h1.0M376.6 343.0h1.0M356.6 353.2h1.0M346.9 357.6h1.0M331.8 364.8h1.0M349.5 367.7h1.0M353.5 364.7h1.0M378.4 387.1h1.0M346.6 361.2h1.0M363.7 355.9h1.0M372.6 367.6h1.0M360.5 365.5h1.0M352.9 348.7h1.0M350.7 363.2h1.0M361.2 363.3h1.0M351.2 337.7h1.0M351.9 367.6h1.0M382.1 390.5h1.0M387.8 348.5h1.0M371.8 344.1h1.0M325.1 354.5h1.0M372.8 351.3h1.0M368.6 345.9h1.0M322.3 363.8h1.0M347.8 349.3h1.0M384.4 379.2h1.0M339.0 347.1h1.0M357.9 348.2h1.0M339.0 362.5h1.0M336.3 354.5h1.0M323.6 345.7h1.0M334.5 370.4h1.0M338.4 342.0h1.0M384.3 375.9h1.0M325.9 361.7h1.0M348.0 359.3h1.0M321.3 353.2h1.0M366.7 338.3h1.0M332.8 355.9h1.0M350.0 345.1h1.0M344.7 383.3h1.0M356.6 339.5h1.0M377.7 376.0h1.0M349.4 363.6h1.0M357.9 354.6h1.0M349.8 374.9h1.0M378.9 385.3h1.0M348.0 354.8h1.0M380.5 339.3h1.0M370.6 362.2h1.0M350.8 361.0h1.0M380.7 379.4h1.0M380.1 367.0h1.0M374.8 377.8h1.0M392.0 369.4h1.0M372.6 355.4h1.0M372.1 359.1h1.0M328.4 360.4h1.0M336.6 343.0h1.0M344.3 382.7h1.0M339.6 349.0h1.0M337.5 348.1h1.0M328.5 356.9h1.0M351.3 346.6h1.0M371.2 357.7h1.0M360.2 392.2h1.0M376.6 347.9h1.0M336.8 353.9h1.0M362.9 400.4h1.0M345.0 361.2h1.0M360.9 353.8h1.0M319.9 347.9h1.0M339.5 345.0h1.0M357.0 377.1h1.0M328.4 350.8h1.0M344.0 359.8h1.0M353.6 351.2h1.0M342.7 357.1h1.0M324.6 351.3h1.0M359.9 344.5h1.0M373.1 353.9h1.0M377.8 367.7h1.0M377.9 359.3h1.0M374.6 347.7h1.0M328.4 342.8h1.0M334.3 366.0h1.0M339.5 342.7h1.0M355.2 353.2h1.0M338.0 356.3h1.0M368.2 352.6h1.0M324.8 351.0h1.0M382.4 395.7h1.0M388.9 369.1h1.0M329.4 349.0h1.0M372.5 363.3h1.0M374.7 373.5h1.0M340.5 346.3h1.0M352.4 352.4h1.0M362.9 347.6h1.0M370.0 349.2h1.0M381.5 354.8h1.0M376.3 358.7h1.0M394.9 366.7h1.0M332.5 340.7h1.0M373.2 353.1h1.0M366.8 371.8h1.0M359.1 337.1h1.0M353.8 406.2h1.0M373.5 396.7h1.0M377.0 364.7h1.0M355.2 369.5h1.0M371.6 351.3h1.0M373.0 376.1h1.0M324.0 357.5h1.0M336.9 365.7h1.0M365.1 375.4h1.0M329.7 354.1h1.0M335.6 343.3h1.0M336.9 343.2h1.0M391.3 371.6h1.0M383.1 368.0h1.0M364.0 366.0h1.0M334.1 356.6h1.0M349.5 345.6h1.0M387.2 378.4h1.0M328.5 350.4h1.0M377.5 374.7h1.0M335.0 351.9h1.0M324.5 340.2h1.0M351.3 351.8h1.0M344.8 387.9h1.0M361.1 351.4h1.0M343.7 352.8h1.0M375.2 370.4h1.0M335.3 346.3h1.0M365.4 385.0h1.0M370.5 391.1h1.0M375.6 389.5h1.0M391.7 376.5h1.0M357.6 374.4h1.0M353.5 343.3h1.0M385.1 374.1h1.0M338.9 346.8h1.0M342.0 363.0h1.0M349.5 363.1h1.0M360.4 370.1h1.0M376.6 389.0h1.0M384.2 374.6h1.0M339.7 348.1h1.0M341.4 344.1h1.0M354.1 341.7h1.0M339.6 344.1h1.0M323.3 351.4h1.0M344.3 360.6h1.0M363.9 357.3h1.0M380.9 371.9h1.0M343.6 343.1h1.0M358.6 352.8h1.0M373.8 376.1h1.0M380.5 365.6h1.0M354.6 344.0h1.0M331.4 350.6h1.0M345.3 362.7h1.0M320.3 355.7h1.0M326.5 350.8h1.0M383.2 347.7h1.0M380.7 362.1h1.0M381.1 391.7h1.0M369.1 380.8h1.0M347.9 358.2h1.0M346.3 344.6h1.0M371.5 349.8h1.0M331.6 351.6h1.0M326.3 352.1h1.0M335.7 354.3h1.0M375.9 398.2h1.0M375.1 356.6h1.0M332.5 352.8h1.0M331.8 338.8h1.0M362.0 374.2h1.0M352.7 361.4h1.0M335.7 345.5h1.0M350.1 379.0h1.0M325.1 362.8h1.0M361.1 351.2h1.0M362.1 351.3h1.0M380.1 348.0h1.0M334.7 348.9h1.0M355.4 336.6h1.0M353.3 357.7h1.0M371.4 364.4h1.0M322.1 355.1h1.0M346.2 366.9h1.0M368.1 352.6h1.0M358.5 364.7h1.0M327.3 371.9h1.0M351.9 343.3h1.0M371.6 342.2h1.0M331.1 361.4h1.0M383.6 352.7h1.0M376.4 372.6h1.0M336.5 349.0h1.0M375.5 373.9h1.0M375.3 378.7h1.0M333.9 367.7h1.0M344.2 341.5h1.0M318.7 350.7h1.0M329.7 352.7h1.0M334.8 350.0h1.0M349.2 365.4h1.0M337.0 362.8h1.0M380.5 348.0h1.0M322.0 347.9h1.0M357.0 351.6h1.0M367.2 364.7h1.0M347.0 369.5h1.0M344.0 362.6h1.0M321.8 353.8h1.0M334.4 358.0h1.0M319.9 353.1h1.0M377.0 364.9h1.0M327.0 348.7h1.0M344.7 355.5h1.0M324.1 348.3h1.0M333.3 359.1h1.0M347.8 368.1h1.0M353.6 348.6h1.0M352.2 391.2h1.0M340.8 346.6h1.0M369.0 358.6h1.0M358.8 349.5h1.0M353.9 349.3h1.0M356.2 363.7h1.0M331.9 351.8h1.0M329.8 345.2h1.0M335.8 347.3h1.0M339.9 344.6h1.0M334.7 347.3h1.0M373.7 360.6h1.0M341.9 347.5h1.0M338.9 344.6h1.0M326.0 351.0h1.0M365.0 376.1h1.0M347.2 354.5h1.0M329.5 349.6h1.0M347.1 348.7h1.0M359.3 359.7h1.0M354.6 342.6h1.0M337.7 352.5h1.0M378.4 363.8h1.0M385.9 369.0h1.0M339.0 347.1h1.0M359.1 361.0h1.0M345.9 386.0h1.0M346.5 342.7h1.0M363.6 343.6h1.0M319.8 386.5h1.0M340.7 356.5h1.0M317.1 342.2h1.0M336.7 352.4h1.0M330.5 350.5h1.0M355.4 372.0h1.0M325.0 351.0h1.0M354.5 358.9h1.0M353.6 339.4h1.0M365.6 348.6h1.0M389.9 407.7h1.0M370.8 367.9h1.0M348.3 341.4h1.0M390.4 367.0h1.0M381.2 362.1h1.0M330.8 351.7h1.0M333.6 352.5h1.0M373.5 390.7h1.0M365.4 348.3h1.0M336.7 359.0h1.0M354.8 354.0h1.0M340.5 350.4h1.0M326.4 359.3h1.0M382.4 393.7h1.0M344.4 359.0h1.0M374.9 374.8h1.0M341.7 355.7h1.0M384.9 363.2h1.0M351.1 359.7h1.0M382.1 381.1h1.0M341.0 368.7h1.0M383.4 375.3h1.0M379.0 378.3h1.0M383.4 405.9h1.0M352.5 372.3h1.0M376.7 404.3h1.0M344.4 350.3h1.0M359.9 345.1h1.0M387.2 368.1h1.0M341.1 355.7h1.0M345.1 349.5h1.0M375.9 388.7h1.0M344.8 366.5h1.0M353.5 382.8h1.0M354.3 360.7h1.0M331.1 386.7h1.0M381.2 355.5h1.0M387.8 358.7h1.0M378.8 372.3h1.0M350.3 380.5h1.0M344.9 355.9h1.0M339.8 372.7h1.0M373.2 353.5h1.0M363.9 351.7h1.0M324.9 354.1h1.0M343.1 364.3h1.0M363.0 365.6h1.0M364.7 375.8h1.0M379.4 351.8h1.0M377.3 381.8h1.0M341.4 336.3h1.0M380.8 392.5h1.0M385.1 367.4h1.0M381.7 379.2h1.0M342.6 343.7h1.0M356.1 346.3h1.0M334.6 355.5h1.0M386.3 348.4h1.0M353.0 406.9h1.0M353.2 346.9h1.0M325.0 344.1h1.0M375.4 375.5h1.0M344.9 380.7h1.0M327.1 339.9h1.0M374.1 365.6h1.0M358.9 345.5h1.0M338.2 343.8h1.0M345.5 351.6h1.0M359.9 344.2h1.0M355.6 353.6h1.0M385.2 365.4h1.0M341.5 353.7h1.0M337.4 381.4h1.0M329.3 344.9h1.0M364.3 345.5h1.0M368.6 397.2h1.0M361.3 347.9h1.0M328.9 343.7h1.0M362.9 342.2h1.0M375.5 372.5h1.0M369.0 370.9h1.0M340.6 369.3h1.0M378.6 373.2h1.0M342.2 379.3h1.0M323.6 353.0h1.0M343.2 352.3h1.0M385.7 380.6h1.0M372.3 387.3h1.0M371.1 367.8h1.0M332.3 368.1h1.0M362.5 354.3h1.0M336.2 357.9h1.0M355.3 354.8h1.0M342.0 355.2h1.0M395.9 385.1h1.0M345.6 360.3h1.0M340.1 347.0h1.0M328.4 346.1h1.0M330.8 357.0h1.0M339.2 343.0h1.0M348.4 353.2h1.0M366.2 369.5h1.0M347.8 340.7h1.0M383.6 365.9h1.0M348.1 354.0h1.0M338.1 362.1h1.0M376.1 384.1h1.0M344.2 347.3h1.0M350.0 390.5h1.0M383.9 384.2h1.0M347.9 360.6h1.0M380.9 391.8h1.0M390.9 367.2h1.0M345.4 367.4h1.0M391.5 382.7h1.0M337.3 362.8h1.0M364.9 363.9h1.0M376.5 345.4h1.0M384.9 371.1h1.0M322.5 357.0h1.0M372.2 357.4h1.0M344.5 357.5h1.0M377.8 380.2h1.0M369.8 376.7h1.0M372.9 364.2h1.0M348.8 395.2h1.0M345.1 348.5h1.0M358.5 365.8h1.0M351.8 344.8h1.0M321.9 355.4h1.0M367.2 346.8h1.0M354.0 353.7h1.0M332.1 390.7h1.0M345.3 354.3h1.0M341.8 354.2h1.0M337.2 361.5h1.0M363.3 368.9h1.0M384.7 347.5h1.0M346.1 355.7h1.0M324.5 346.6h1.0M359.9 351.1h1.0M323.1 356.8h1.0M327.3 356.7h1.0M348.6 345.8h1.0M372.6 398.4h1.0M363.4 354.1h1.0M380.6 375.5h1.0M381.9 389.3h1.0M390.6 364.7h1.0M367.3 381.0h1.0M363.2 374.8h1.0M335.4 366.1h1.0M354.7 345.0h1.0M337.9 356.3h1.0M340.4 355.5h1.0M372.9 352.4h1.0M364.1 345.5h1.0M374.3 380.2h1.0M367.5 348.7h1.0M329.9 362.0h1.0M336.2 348.9h1.0M362.5 352.8h1.0M362.9 349.0h1.0M355.5 371.6h1.0M347.0 357.0h1.0M380.9 391.4h1.0M324.2 364.8h1.0M350.4 368.3h1.0M349.9 355.9h1.0M330.7 355.4h1.0M353.1 352.4h1.0M383.8 353.6h1.0M328.7 348.3h1.0M324.4 350.1h1.0M386.8 396.2h1.0M334.5 348.9h1.0M385.6 353.1h1.0M363.6 349.3h1.0M321.8 359.2h1.0M381.0 368.6h1.0M356.2 355.2h1.0M387.5 346.0h1.0M360.1 370.2h1.0M364.6 372.4h1.0M371.9 369.0h1.0M350.1 340.6h1.0M376.8 373.2h1.0M363.1 374.6h1.0M327.6 361.1h1.0M327.6 374.5h1.0M346.0 349.7h1.0M332.0 341.1h1.0M371.4 386.2h1.0M354.6 351.1h1.0M338.5 350.8h1.0M378.1 393.4h1.0M353.2 341.7h1.0M354.5 356.5h1.0M345.3 344.5h1.0M367.1 361.2h1.0M320.4 362.1h1.0M380.9 378.0h1.0M366.9 363.9h1.0M370.3 362.5h1.0M367.3 367.8h1.0M379.0 392.2h1.0M340.2 350.2h1.0M343.5 340.3h1.0M344.0 360.1h1.0M362.4 364.1h1.0M359.9 355.9h1.0M335.5 390.4h1.0M343.2 360.5h1.0M355.7 347.1h1.0M375.1 348.6h1.0M386.1 374.2h1.0M353.9 340.5h1.0M373.3 396.0h1.0M347.6 342.5h1.0M383.0 375.9h1.0M369.2 389.4h1.0M373.4 377.5h1.0M387.2 371.9h1.0M371.8 371.2h1.0M340.3 356.7h1.0M363.5 370.7h1.0M377.1 389.8h1.0M347.9 360.6h1.0M356.7 359.6h1.0M347.9 358.5h1.0M333.5 359.3h1.0M364.4 365.2h1.0M355.4 362.8h1.0M352.2 343.9h1.0M331.6 354.0h1.0M376.6 374.1h1.0M324.0 354.2h1.0M345.1 347.3h1.0M328.4 356.7h1.0M335.4 350.1h1.0M340.0 363.4h1.0M384.5 392.9h1.0M352.4 364.4h1.0M346.6 350.5h1.0M360.2 387.0h1.0M354.0 346.8h1.0M362.3 340.8h1.0M337.5 356.5h1.0M319.9 346.2h1.0M341.3 353.0h1.0M358.2 352.6h1.0M349.1 401.3h1.0M342.8 362.3h1.0M374.0 369.3h1.0M354.6 347.6h1.0M383.5 355.2h1.0M378.0 391.9h1.0M332.0 360.9h1.0M332.7 357.5h1.0M372.1 366.7h1.0M327.3 367.7h1.0M374.0 365.0h1.0M332.3 358.7h1.0M347.8 353.0h1.0M329.3 352.5h1.0M373.8 361.5h1.0M354.2 395.6h1.0M326.6 348.5h1.0M386.9 365.7h1.0M348.3 342.9h1.0M356.3 351.5h1.0M350.0 342.8h1.0M377.3 373.9h1.0M366.2 379.9h1.0M334.1 349.1h1.0M362.1 352.2h1.0M366.8 359.4h1.0M371.6 361.7h1.0M329.2 385.7h1.0M392.4 392.5h1.0M331.2 351.5h1.0M342.4 361.4h1.0M372.5 360.4h1.0M340.6 375.6h1.0M322.0 338.1h1.0M327.7 369.3h1.0M386.2 375.8h1.0M376.5 368.9h1.0M326.5 346.0h1.0M345.8 347.2h1.0M329.4 345.8h1.0M330.8 387.7h1.0M334.1 350.6h1.0M359.9 354.8h1.0M377.9 352.8h1.0M369.1 342.2h1.0M379.6 392.7h1.0M388.8 371.1h1.0M383.4 376.9h1.0M371.0 381.5h1.0M330.2 377.9h1.0M379.0 380.5h1.0M326.6 352.0h1.0M330.5 369.0h1.0M322.4 346.3h1.0M357.3 334.9h1.0M358.6 339.9h1.0M361.9 342.0h1.0M367.8 338.4h1.0M331.1 350.0h1.0M359.2 350.4h1.0M380.8 375.8h1.0M371.2 360.3h1.0M387.3 380.0h1.0M382.6 347.0h1.0M366.3 351.6h1.0M363.5 385.1h1.0M395.1 379.5h1.0M384.3 366.6h1.0M359.8 350.6h1.0M348.3 344.1h1.0M363.4 356.4h1.0M381.2 375.8h1.0M356.8 353.3h1.0M361.4 342.3h1.0M350.6 346.8h1.0M389.8 378.2h1.0M336.9 354.1h1.0M332.2 372.8h1.0M344.0 350.7h1.0M365.6 345.3h1.0M334.0 355.7h1.0M364.6 348.6h1.0M365.5 381.3h1.0M347.8 354.9h1.0M381.3 395.2h1.0M366.3 353.8h1.0M321.0 349.7h1.0M366.7 406.5h1.0M336.9 356.8h1.0M375.7 383.4h1.0M381.1 384.5h1.0M355.9 346.8h1.0M349.6 381.8h1.0M351.5 355.0h1.0M329.6 354.7h1.0M372.8 352.6h1.0M319.4 357.9h1.0M350.1 374.6h1.0M320.5 350.9h1.0M322.9 359.1h1.0M379.4 369.4h1.0M340.3 359.0h1.0M334.4 372.1h1.0M345.5 350.8h1.0M352.6 359.8h1.0M371.5 375.4h1.0M347.3 373.2h1.0M333.0 362.2h1.0M346.4 361.4h1.0M379.7 390.1h1.0M378.9 391.1h1.0M369.7 365.8h1.0M352.4 365.2h1.0M363.4 361.7h1.0M330.9 360.6h1.0M345.2 351.5h1.0M381.7 355.7h1.0M337.6 363.8h1.0M387.8 401.0h1.0M382.0 383.0h1.0M372.1 363.4h1.0M344.4 359.5h1.0M348.4 382.2h1.0M325.5 339.5h1.0M335.9 344.2h1.0M348.6 343.1h1.0M338.7 350.1h1.0M354.8 354.9h1.0M350.2 357.1h1.0M348.6 355.5h1.0M337.4 367.4h1.0M322.0 368.6h1.0M343.9 359.6h1.0M368.9 341.5h1.0M354.3 348.3h1.0M386.4 381.3h1.0M326.4 357.7h1.0M327.7 360.1h1.0M368.4 371.6h1.0M341.4 354.5h1.0M367.8 359.6h1.0M386.2 374.4h1.0M360.0 346.8h1.0M369.8 376.7h1.0M385.2 357.4h1.0M349.1 354.4h1.0M333.2 341.6h1.0M320.5 365.6h1.0M354.4 383.1h1.0M371.4 366.9h1.0M342.5 348.0h1.0M373.2 376.4h1.0M388.1 372.9h1.0M365.7 372.1h1.0M326.5 358.9h1.0M342.1 343.1h1.0M359.4 357.7h1.0M380.4 385.6h1.0M359.5 341.9h1.0M327.3 357.6h1.0M392.7 376.8h1.0M381.5 369.1h1.0M377.5 356.4h1.0M361.0 348.1h1.0M330.2 358.5h1.0M345.3 372.6h1.0M322.1 361.1h1.0M355.7 363.4h1.0M376.5 371.1h1.0M354.9 351.9h1.0M331.9 361.1h1.0M335.3 348.3h1.0M343.4 354.5h1.0M342.3 371.1h1.0M319.6 355.1h1.0M367.9 380.1h1.0M346.3 374.8h1.0M339.7 338.7h1.0M372.8 333.9h1.0M348.1 361.4h1.0M370.6 385.9h1.0M322.1 359.4h1.0M350.2 358.7h1.0M376.9 395.6h1.0M324.6 354.5h1.0M339.0 357.1h1.0M356.6 360.2h1.0M389.5 368.5h1.0M343.3 352.7h1.0M341.7 341.6h1.0M382.8 354.2h1.0M361.5 367.4h1.0M358.8 345.8h1.0M335.4 347.3h1.0M378.6 371.4h1.0M333.9 352.8h1.0M342.0 357.6h1.0M337.7 360.3h1.0M336.0 351.9h1.0M337.7 342.5h1.0M359.7 379.9h1.0M339.4 350.8h1.0M336.4 356.1h1.0M356.6 352.1h1.0M345.3 345.6h1.0M343.5 355.1h1.0M344.3 357.5h1.0M359.2 358.6h1.0M342.0 347.1h1.0M352.3 385.8h1.0M354.9 355.7h1.0M354.9 354.9h1.0M326.0 344.0h1.0M344.0 364.0h1.0M358.4 347.3h1.0M349.9 349.7h1.0M385.1 392.4h1.0M342.2 360.1h1.0M381.4 395.4h1.0M364.2 380.5h1.0M376.7 383.4h1.0M362.3 380.6h1.0M364.6 348.4h1.0M339.7 336.0h1.0M382.2 368.1h1.0M344.1 349.9h1.0M385.7 380.6h1.0M324.3 338.2h1.0M329.5 367.4h1.0M343.2 354.9h1.0M319.1 360.6h1.0M325.8 347.6h1.0M358.9 375.1h1.0M321.3 355.2h1.0M329.2 370.4h1.0M392.7 371.4h1.0M345.2 358.1h1.0M385.2 378.0h1.0M381.8 374.7h1.0M381.9 382.0h1.0M351.1 345.9h1.0M352.2 365.0h1.0M343.4 353.6h1.0M342.8 385.1h1.0M366.8 365.0h1.0M325.2 352.3h1.0M379.6 363.7h1.0M335.0 361.7h1.0M358.4 349.4h1.0M362.7 356.8h1.0M359.1 348.0h1.0M385.7 398.9h1.0M366.0 344.5h1.0M335.4 347.5h1.0M379.8 363.0h1.0M353.2 363.2h1.0M370.3 388.2h1.0M363.9 346.6h1.0M375.6 384.6h1.0M363.0 349.8h1.0M377.4 367.7h1.0M391.4 375.5h1.0M355.8 346.3h1.0M357.0 363.5h1.0M345.2 360.0h1.0M339.2 405.1h1.0M326.6 357.1h1.0M383.0 383.6h1.0M388.9 361.4h1.0M328.8 360.8h1.0M360.3 356.6h1.0M370.3 353.9h1.0M325.8 344.0h1.0M347.0 355.3h1.0M378.3 353.7h1.0M387.4 374.5h1.0M371.7 377.5h1.0M338.8 350.9h1.0M385.3 372.6h1.0M380.8 342.5h1.0M371.2 390.6h1.0M350.0 349.1h1.0M335.3 345.1h1.0M340.5 359.6h1.0M361.8 359.7h1.0M379.2 338.8h1.0M324.4 350.8h1.0M379.0 397.4h1.0M372.9 382.0h1.0M323.4 344.9h1.0M364.2 357.0h1.0M332.3 347.2h1.0M334.8 337.8h1.0M369.6 341.2h1.0M334.5 374.8h1.0M347.7 350.4h1.0M365.3 351.6h1.0M378.6 382.8h1.0M369.4 348.9h1.0M330.8 361.2h1.0M339.8 349.3h1.0M335.9 351.8h1.0M352.7 359.1h1.0M390.0 391.0h1.0M371.0 356.2h1.0M347.5 359.5h1.0M349.1 364.8h1.0M340.2 363.3h1.0M357.5 363.3h1.0M352.3 363.9h1.0M333.9 356.9h1.0M331.3 347.5h1.0M360.5 358.3h1.0M365.1 354.5h1.0M371.6 362.0h1.0M320.3 351.5h1.0M339.8 349.7h1.0M386.2 372.4h1.0M354.8 360.8h1.0M366.0 352.3h1.0M368.2 352.8h1.0M379.1 360.7h1.0M380.8 383.3h1.0M321.0 359.9h1.0M365.1 374.7h1.0M354.9 342.7h1.0M345.5 344.7h1.0M383.7 384.8h1.0M364.0 359.4h1.0M379.9 374.7h1.0M352.3 343.5h1.0M355.4 352.7h1.0M330.8 342.2h1.0M359.8 350.0h1.0M362.1 353.4h1.0M327.5 357.9h1.0M366.6 351.2h1.0M340.3 354.0h1.0M348.1 353.6h1.0M345.1 355.8h1.0M325.3 347.0h1.0M330.2 360.0h1.0M326.4 346.7h1.0M379.9 364.4h1.0M333.9 341.7h1.0M373.9 390.3h1.0M353.9 346.5h1.0M374.7 367.1h1.0M326.2 358.1h1.0M340.3 363.3h1.0M357.6 357.5h1.0M362.0 363.5h1.0M333.8 353.2h1.0M357.1 351.5h1.0M359.0 354.7h1.0M366.6 354.0h1.0M351.5 356.1h1.0M378.6 378.7h1.0M373.2 362.7h1.0M372.5 360.1h1.0M326.4 352.0h1.0M387.3 366.7h1.0M331.6 355.9h1.0M335.8 357.1h1.0M338.3 349.6h1.0M345.5 382.0h1.0M355.6 348.3h1.0M348.3 349.5h1.0M351.7 358.7h1.0M333.0 369.3h1.0M382.8 364.6h1.0M357.1 365.4h1.0M375.6 394.7h1.0M339.8 342.0h1.0M373.3 392.7h1.0M335.2 357.7h1.0M381.0 395.4h1.0M326.9 362.5h1.0M331.0 378.3h1.0M355.2 351.5h1.0M374.5 403.6h1.0M369.6 352.7h1.0M344.3 338.6h1.0M382.0 368.1h1.0M380.1 394.4h1.0M345.0 355.6h1.0M378.5 351.6h1.0M369.0 366.4h1.0M375.9 368.7h1.0M349.5 353.0h1.0M339.0 365.4h1.0M370.1 386.3h1.0M335.8 357.4h1.0M329.3 347.4h1.0M345.7 353.0h1.0M343.4 350.5h1.0M373.3 367.0h1.0M355.9 368.9h1.0M362.1 352.6h1.0M355.1 358.0h1.0M388.5 389.8h1.0M336.8 348.6h1.0M334.9 360.9h1.0M347.4 361.0h1.0M323.0 338.4h1.0M358.2 377.9h1.0M328.5 394.3h1.0M337.2 352.0h1.0M319.8 346.2h1.0M384.6 371.0h1.0M342.2 343.6h1.0M367.9 339.6h1.0M386.6 359.9h1.0M369.9 355.0h1.0M344.3 348.0h1.0M336.2 350.9h1.0M359.0 376.6h1.0M386.3 367.7h1.0M330.3 356.7h1.0M341.0 354.7h1.0M370.1 404.2h1.0M370.2 362.1h1.0M340.7 347.7h1.0M351.3 375.2h1.0M343.6 351.3h1.0M349.6 364.2h1.0M324.1 362.5h1.0M355.9 353.7h1.0M359.0 357.1h1.0M382.1 404.0h1.0M379.2 358.4h1.0M340.6 344.6h1.0M359.9 352.7h1.0M380.7 388.3h1.0M344.3 376.8h1.0M325.6 351.2h1.0M337.5 346.5h1.0M343.9 344.7h1.0M352.7 362.4h1.0M342.6 345.2h1.0M335.5 370.4h1.0M356.3 358.8h1.0M321.8 365.1h1.0M352.4 351.3h1.0M336.2 390.6h1.0M336.2 349.8h1.0M340.3 358.8h1.0M366.1 362.5h1.0M372.8 376.3h1.0M326.3 358.6h1.0M386.2 370.2h1.0M367.5 354.1h1.0M367.1 352.1h1.0M373.9 372.7h1.0M345.3 359.0h1.0M342.6 340.3h1.0M336.2 349.9h1.0M389.9 344.0h1.0M352.9 352.2h1.0M357.2 372.7h1.0M351.1 342.9h1.0M347.1 356.7h1.0M356.5 394.8h1.0M336.4 349.4h1.0M355.3 360.3h1.0M328.4 401.8h1.0M384.0 376.3h1.0M384.3 391.2h1.0M361.0 388.8h1.0M389.2 395.3h1.0M323.3 366.0h1.0M331.0 372.1h1.0M366.2 349.6h1.0M361.1 342.7h1.0M347.9 339.1h1.0M365.6 390.5h1.0M375.5 368.6h1.0M381.6 384.0h1.0M377.6 376.1h1.0M373.0 392.0h1.0M328.9 380.1h1.0M368.4 340.8h1.0M366.8 354.6h1.0M354.8 360.5h1.0M350.4 372.8h1.0M365.3 351.4h1.0M376.4 375.8h1.0M337.9 345.7h1.0M379.3 396.7h1.0M328.4 337.0h1.0M353.4 355.0h1.0M380.3 354.4h1.0M359.2 371.4h1.0M371.3 348.5h1.0M331.5 371.3h1.0M338.3 342.2h1.0M326.8 357.7h1.0M325.2 360.7h1.0M375.7 377.1h1.0M374.4 363.8h1.0M350.1 360.1h1.0M336.5 357.5h1.0M340.0 355.4h1.0M376.0 368.6h1.0M357.5 359.0h1.0M344.4 352.5h1.0M357.3 355.4h1.0M385.2 374.0h1.0M369.6 348.5h1.0M378.3 361.2h1.0M335.6 346.8h1.0M384.9 404.6h1.0M373.9 350.1h1.0M369.5 361.8h1.0M349.4 354.4h1.0M326.8 348.7h1.0M334.5 363.0h1.0M334.6 342.7h1.0M334.9 345.5h1.0M358.4 360.8h1.0M341.9 343.6h1.0M382.2 358.4h1.0M347.0 354.1h1.0M339.5 369.2h1.0M342.2 344.2h1.0M328.9 342.8h1.0M361.6 373.0h1.0M381.5 378.0h1.0M337.0 355.8h1.0M363.9 347.6h1.0M366.0 338.9h1.0M347.2 353.8h1.0M344.9 354.8h1.0M329.4 348.2h1.0M347.7 337.9h1.0M357.4 376.9h1.0M337.8 350.1h1.0M332.7 360.2h1.0M332.9 360.5h1.0M354.0 350.3h1.0M340.9 346.8h1.0M371.9 373.1h1.0M375.8 392.5h1.0M378.4 394.8h1.0M367.5 356.7h1.0M373.9 406.3h1.0M365.0 363.2h1.0M346.7 379.4h1.0M342.6 351.4h1.0M361.9 349.4h1.0M354.2 346.9h1.0M378.5 379.3h1.0M365.2 363.0h1.0M351.6 403.7h1.0M360.4 400.7h1.0M353.1 399.2h1.0M328.0 346.7h1.0M377.5 370.0h1.0M342.0 350.4h1.0M361.6 344.5h1.0M334.7 355.3h1.0M375.7 361.8h1.0M323.2 347.2h1.0M327.5 352.3h1.0M340.6 378.6h1.0M345.3 399.3h1.0M379.8 385.2h1.0M373.6 358.5h1.0M381.4 360.9h1.0M329.3 367.3h1.0M356.5 342.7h1.0M323.3 357.0h1.0M374.1 345.9h1.0M376.7 371.8h1.0M362.3 360.5h1.0M324.7 358.3h1.0M334.5 363.6h1.0M369.9 363.0h1.0M382.0 366.8h1.0M344.5 360.8h1.0M343.9 352.7h1.0M366.9 349.3h1.0M366.9 365.8h1.0M373.1 388.7h1.0M369.0 351.0h1.0M371.8 357.6h1.0M367.7 347.8h1.0M339.0 355.6h1.0M360.9 349.9h1.0M362.8 384.3h1.0M341.2 352.2h1.0M334.2 355.4h1.0M367.8 365.4h1.0M360.9 404.7h1.0M375.6 370.4h1.0M344.9 360.8h1.0M358.5 389.5h1.0M337.8 376.6h1.0M359.7 357.8h1.0M336.5 360.3h1.0M386.3 372.3h1.0M359.8 353.3h1.0M331.9 355.1h1.0M341.0 369.3h1.0M363.7 355.2h1.0M348.6 375.7h1.0M347.1 354.4h1.0M352.9 361.3h1.0M359.5 363.0h1.0M316.7 347.2h1.0M335.9 350.7h1.0M389.2 367.6h1.0M374.8 345.8h1.0M371.9 362.6h1.0M382.2 398.0h1.0M344.9 351.4h1.0M343.5 340.8h1.0M390.4 360.8h1.0M342.3 344.0h1.0M373.2 376.5h1.0M331.4 352.8h1.0M364.8 359.7h1.0M380.7 346.1h1.0M339.2 351.6h1.0M342.2 383.0h1.0M380.7 352.6h1.0M370.9 346.7h1.0M348.8 348.4h1.0M323.3 353.5h1.0M355.7 401.5h1.0M360.1 349.8h1.0M354.6 353.3h1.0M352.4 367.6h1.0M384.4 364.2h1.0M341.5 347.3h1.0M356.8 352.5h1.0M321.1 348.2h1.0M358.5 349.5h1.0M355.9 363.3h1.0M348.9 348.4h1.0M387.1 401.8h1.0M344.1 348.9h1.0M356.7 364.8h1.0M376.5 342.6h1.0M336.7 350.2h1.0M344.7 350.7h1.0M354.0 349.4h1.0M345.8 343.9h1.0M345.4 358.5h1.0M349.1 362.1h1.0M328.6 362.4h1.0M324.9 351.7h1.0M386.4 377.3h1.0M324.3 361.8h1.0M384.8 356.9h1.0M340.8 349.1h1.0M351.9 357.9h1.0M365.9 350.9h1.0M334.8 345.7h1.0M323.4 343.2h1.0M339.3 345.1h1.0M380.5 361.1h1.0M338.6 349.7h1.0M342.2 341.2h1.0M351.8 362.2h1.0M351.4 395.7h1.0M357.2 375.5h1.0M351.4 379.0h1.0M324.3 348.7h1.0M357.8 338.2h1.0M344.2 363.0h1.0M327.3 360.9h1.0M391.7 398.5h1.0M388.8 396.7h1.0M376.8 368.6h1.0M376.1 364.3h1.0M383.6 371.8h1.0M352.7 352.1h1.0M338.9 377.5h1.0M342.7 352.7h1.0M339.7 363.4h1.0M384.9 389.2h1.0M324.4 345.6h1.0M377.0 390.9h1.0M352.9 344.6h1.0M333.7 343.5h1.0M341.3 349.3h1.0M376.1 364.5h1.0M344.3 353.5h1.0M363.7 394.8h1.0M346.5 352.0h1.0M334.6 337.6h1.0M374.0 365.7h1.0M353.9 378.1h1.0M351.0 349.1h1.0M328.4 376.1h1.0M351.9 351.2h1.0M385.5 390.7h1.0M369.9 352.9h1.0M342.4 347.1h1.0M364.9 333.7h1.0M353.1 355.4h1.0M377.8 361.5h1.0M373.3 354.6h1.0M322.4 357.9h1.0M357.6 341.8h1.0M380.2 374.4h1.0M375.0 390.7h1.0M382.8 370.1h1.0M378.4 386.1h1.0M384.5 360.9h1.0M345.2 351.0h1.0M360.2 364.6h1.0M361.6 357.2h1.0M323.6 350.4h1.0M380.5 346.5h1.0M385.4 384.5h1.0M360.7 380.3h1.0M340.2 359.2h1.0M385.0 377.7h1.0M378.4 355.0h1.0M370.5 345.6h1.0M389.5 368.5h1.0M365.5 359.9h1.0M340.4 389.0h1.0M344.6 356.5h1.0M347.0 341.1h1.0M340.2 353.6h1.0M371.2 347.8h1.0M360.1 336.6h1.0M381.1 347.0h1.0M384.8 377.4h1.0M341.4 334.5h1.0M377.5 343.8h1.0M347.3 357.5h1.0M386.1 367.4h1.0M363.8 352.4h1.0M367.3 362.9h1.0M340.5 356.4h1.0M373.0 381.2h1.0M347.6 387.3h1.0M321.9 356.4h1.0M321.8 368.8h1.0M376.8 374.1h1.0M352.6 342.9h1.0M348.9 350.7h1.0M337.0 348.0h1.0M344.1 342.2h1.0M361.6 368.7h1.0M345.9 357.9h1.0M328.8 342.0h1.0M334.3 364.2h1.0M351.6 355.8h1.0M367.3 351.6h1.0M355.7 356.1h1.0M378.9 388.4h1.0M361.9 351.8h1.0M333.9 366.9h1.0M364.7 345.7h1.0M369.6 366.4h1.0M347.0 354.7h1.0M359.9 373.9h1.0M339.0 373.3h1.0M383.0 366.1h1.0M393.9 391.3h1.0M327.4 351.2h1.0M380.6 362.0h1.0M335.2 342.7h1.0M346.9 394.3h1.0M388.3 392.4h1.0M359.5 368.0h1.0M338.2 361.0h1.0M327.2 347.9h1.0M369.8 354.7h1.0M336.4 345.7h1.0M354.9 343.3h1.0M364.0 348.1h1.0M374.1 391.6h1.0M358.1 364.4h1.0M363.6 361.0h1.0M370.5 345.3h1.0M353.6 350.7h1.0M358.0 368.0h1.0M340.1 367.2h1.0M334.9 342.0h1.0M349.9 353.0h1.0M344.7 353.4h1.0M327.6 337.0h1.0M332.4 362.8h1.0M373.6 366.6h1.0M328.5 343.9h1.0M354.2 405.2h1.0M329.6 354.3h1.0M356.1 362.6h1.0M377.6 349.4h1.0M353.4 353.8h1.0M350.6 364.4h1.0M338.2 353.4h1.0M355.1 345.7h1.0M378.1 403.6h1.0M363.2 350.8h1.0M371.0 344.0h1.0M329.2 361.0h1.0M378.0 368.8h1.0M365.0 363.9h1.0M358.5 361.2h1.0M329.1 340.0h1.0M374.3 342.1h1.0M355.8 362.7h1.0M381.2 360.1h1.0M334.4 346.3h1.0M331.6 365.8h1.0M336.5 344.5h1.0M361.9 350.3h1.0M326.0 344.7h1.0M345.7 343.1h1.0M341.2 365.8h1.0M368.9 356.5h1.0M341.6 349.2h1.0M344.0 344.1h1.0M337.2 357.0h1.0M319.6 345.1h1.0M379.1 348.8h1.0M377.2 395.2h1.0M348.5 354.5h1.0M351.7 343.6h1.0M362.3 355.5h1.0M338.3 356.0h1.0M334.2 336.0h1.0M373.4 358.4h1.0M372.1 352.8h1.0M342.3 348.5h1.0M381.0 348.4h1.0M352.1 358.8h1.0M348.5 355.7h1.0M361.7 355.2h1.0M377.6 381.8h1.0M385.4 376.8h1.0M344.6 347.8h1.0M363.1 367.9h1.0M392.5 371.8h1.0M377.5 399.5h1.0M332.5 360.4h1.0M361.6 351.5h1.0M329.7 389.7h1.0M321.1 346.3h1.0M367.1 365.3h1.0M371.1 348.0h1.0M366.2 348.1h1.0M329.2 352.3h1.0M346.8 345.5h1.0M348.6 349.7h1.0M382.1 356.0h1.0M323.5 365.5h1.0M350.9 357.4h1.0M370.4 337.8h1.0M367.1 367.3h1.0M352.8 369.9h1.0M357.4 347.2h1.0M318.9 347.3h1.0M344.8 368.5h1.0M337.5 346.4h1.0M341.4 345.8h1.0M384.0 392.2h1.0M336.8 370.5h1.0M353.1 347.8h1.0M357.3 339.3h1.0M356.9 354.3h1.0M344.7 348.9h1.0M376.6 380.3h1.0M378.8 399.6h1.0M368.4 349.3h1.0M384.2 389.1h1.0M329.2 350.1h1.0M331.3 347.0h1.0M370.5 336.1h1.0M382.6 366.2h1.0M368.2 360.7h1.0M351.4 351.0h1.0M370.0 375.4h1.0M366.4 365.5h1.0M376.4 346.4h1.0M359.4 357.7h1.0M334.8 355.3h1.0M350.6 348.7h1.0M342.1 359.2h1.0M323.1 353.8h1.0M374.8 350.3h1.0M345.9 342.0h1.0M385.0 364.5h1.0M356.6 382.8h1.0M376.0 361.3h1.0M379.9 362.2h1.0M377.7 383.1h1.0M336.0 355.7h1.0M379.5 355.6h1.0M343.6 356.3h1.0M367.1 351.8h1.0M371.1 366.4h1.0M344.0 348.8h1.0M343.6 354.9h1.0M352.2 354.9h1.0M374.3 365.4h1.0M353.5 338.1h1.0M346.5 366.7h1.0M379.8 399.0h1.0M352.5 348.2h1.0M345.5 351.8h1.0M353.9 378.8h1.0M343.5 349.0h1.0M338.2 373.2h1.0M350.1 351.3h1.0M321.7 336.3h1.0M341.7 349.3h1.0M376.5 385.5h1.0M334.3 349.7h1.0M384.6 376.8h1.0M338.0 346.3h1.0M361.6 380.2h1.0M369.2 350.8h1.0M390.6 376.6h1.0M324.7 353.6h1.0M324.8 343.1h1.0M339.8 344.0h1.0M332.8 358.8h1.0M330.3 345.2h1.0M375.0 373.5h1.0M322.6 358.0h1.0M381.4 398.1h1.0M356.8 386.1h1.0M349.0 352.2h1.0M357.6 350.7h1.0M394.1 379.2h1.0M355.9 383.1h1.0M349.4 359.9h1.0M337.7 362.3h1.0M366.9 372.6h1.0M350.3 364.6h1.0M352.1 364.4h1.0M359.6 374.0h1.0M375.5 354.4h1.0M342.1 349.3h1.0M325.7 340.2h1.0M365.4 360.7h1.0M384.7 385.5h1.0M377.3 347.8h1.0M375.9 388.2h1.0M349.4 356.2h1.0M339.3 360.4h1.0M349.1 361.5h1.0M347.4 354.5h1.0M327.2 348.5h1.0M338.2 358.4h1.0M344.8 339.2h1.0M330.2 342.8h1.0M376.6 369.3h1.0M358.9 343.7h1.0M359.0 339.5h1.0M364.8 372.4h1.0M326.5 353.4h1.0M375.4 381.7h1.0M324.9 346.4h1.0M343.3 348.9h1.0M359.6 381.7h1.0M330.6 351.9h1.0M381.5 341.1h1.0M385.0 381.9h1.0M336.9 356.8h1.0M335.8 355.7h1.0M345.0 345.7h1.0M334.0 376.1h1.0M340.0 342.5h1.0M334.7 352.0h1.0M318.9 351.9h1.0M361.9 348.7h1.0M388.9 371.7h1.0M377.1 380.3h1.0M382.6 374.7h1.0M327.9 363.9h1.0M355.5 352.5h1.0M362.4 366.7h1.0M341.3 351.4h1.0M345.4 341.8h1.0M341.5 345.8h1.0M358.3 349.1h1.0M334.9 353.1h1.0M331.2 371.9h1.0M342.3 361.6h1.0M378.2 338.7h1.0M366.6 358.2h1.0M390.2 379.0h1.0M376.0 350.2h1.0M368.3 353.0h1.0M376.3 351.0h1.0M355.3 398.0h1.0M344.0 344.6h1.0M318.9 355.8h1.0M329.5 373.2h1.0M347.6 391.6h1.0M354.4 361.2h1.0M334.1 355.1h1.0M331.8 352.3h1.0M334.7 349.2h1.0M370.0 359.3h1.0M327.7 351.9h1.0M330.8 358.1h1.0M382.2 396.8h1.0M383.9 361.5h1.0M360.5 354.1h1.0M376.9 380.3h1.0M348.1 351.3h1.0M375.4 340.4h1.0M335.4 345.8h1.0M365.7 355.1h1.0M369.6 365.4h1.0M375.4 344.5h1.0M374.9 341.3h1.0M357.4 384.6h1.0M333.8 366.0h1.0M353.3 351.6h1.0M373.0 367.4h1.0M350.3 401.7h1.0M381.1 388.9h1.0M382.6 362.1h1.0M350.5 351.9h1.0M349.4 345.8h1.0M375.0 353.5h1.0M332.6 355.8h1.0M355.3 363.7h1.0M363.0 345.8h1.0M376.1 374.9h1.0M325.3 355.4h1.0M344.1 349.2h1.0M336.5 347.6h1.0M325.7 367.1h1.0M374.4 378.8h1.0M371.6 356.5h1.0M390.7 387.5h1.0M324.8 335.6h1.0M330.0 375.6h1.0M386.9 390.6h1.0M354.9 367.2h1.0M349.2 352.2h1.0M395.4 367.0h1.0M341.4 348.2h1.0M360.5 349.9h1.0M347.0 381.1h1.0M346.7 340.5h1.0M386.6 372.0h1.0M341.4 373.5h1.0M337.3 356.7h1.0M335.5 357.9h1.0M356.1 349.9h1.0M352.6 346.1h1.0M336.6 392.0h1.0M363.8 353.0h1.0M378.8 367.6h1.0M380.0 389.8h1.0M385.0 363.9h1.0M376.2 365.1h1.0M360.4 343.8h1.0M379.9 375.9h1.0M385.5 350.5h1.0M357.9 355.9h1.0M343.7 345.5h1.0M372.6 357.0h1.0M345.0 361.7h1.0M374.7 355.9h1.0M345.1 350.2h1.0M390.2 400.4h1.0M330.6 348.9h1.0M324.3 354.4h1.0M356.1 364.6h1.0M350.2 359.5h1.0M387.1 361.7h1.0M358.2 359.3h1.0M336.0 349.4h1.0M352.2 361.1h1.0M369.4 359.3h1.0M384.2 341.3h1.0M384.9 401.8h1.0M334.9 340.1h1.0M362.9 362.1h1.0M323.1 356.6h1.0M354.5 362.6h1.0M354.7 357.9h1.0M381.2 397.1h1.0M367.9 361.1h1.0M365.0 355.9h1.0M322.6 352.6h1.0M380.5 395.5h1.0M337.4 358.2h1.0M358.4 358.2h1.0M337.5 346.5h1.0M384.3 388.2h1.0M385.4 366.7h1.0M341.6 355.3h1.0M383.5 359.0h1.0M350.7 353.4h1.0M336.4 342.0h1.0M355.4 369.7h1.0M369.6 366.3h1.0M336.3 357.9h1.0M387.8 342.2h1.0M349.2 386.0h1.0M344.4 344.1h1.0M376.3 365.9h1.0M327.4 338.6h1.0M376.2 391.1h1.0M354.9 346.6h1.0M361.1 356.8h1.0M376.3 362.9h1.0M351.4 387.2h1.0M344.2 350.1h1.0M340.4 387.1h1.0M343.7 349.9h1.0M352.6 368.1h1.0M340.8 334.1h1.0M345.7 362.4h1.0M335.6 351.6h1.0M336.8 354.1h1.0M324.5 361.3h1.0M338.5 339.6h1.0M360.7 340.5h1.0M360.5 354.7h1.0M373.6 367.1h1.0M369.1 357.2h1.0M383.4 378.6h1.0M386.7 385.5h1.0M345.2 351.8h1.0M360.4 361.9h1.0M319.9 358.1h1.0M384.8 380.8h1.0M354.8 350.7h1.0M361.3 345.4h1.0M363.2 390.0h1.0M338.9 360.7h1.0M329.7 368.0h1.0M345.7 368.9h1.0M352.5 340.8h1.0M378.2 368.6h1.0M337.7 355.1h1.0M359.9 346.1h1.0M332.8 336.5h1.0M379.2 377.2h1.0M330.0 353.4h1.0M349.7 361.1h1.0M331.5 358.0h1.0M386.6 350.2h1.0M329.5 391.2h1.0M383.3 361.6h1.0M336.7 378.4h1.0M336.0 361.3h1.0M355.0 353.6h1.0M364.3 347.1h1.0M380.8 375.7h1.0M383.7 384.8h1.0M376.7 359.1h1.0M382.4 369.8h1.0M375.8 373.1h1.0M330.4 352.3h1.0M333.2 355.9h1.0M349.0 346.0h1.0M372.7 356.7h1.0M329.1 348.9h1.0M324.9 357.4h1.0M366.6 355.2h1.0M375.7 365.4h1.0M327.9 362.3h1.0M364.2 354.0h1.0M337.3 364.4h1.0M330.3 360.9h1.0M355.0 353.5h1.0M363.9 393.9h1.0M333.6 369.2h1.0M343.3 351.9h1.0M332.1 353.2h1.0M375.1 347.2h1.0M322.7 352.8h1.0M337.4 357.2h1.0M381.4 364.6h1.0M371.3 378.8h1.0M322.1 358.5h1.0M385.5 386.8h1.0M384.9 389.3h1.0M361.7 344.1h1.0M340.4 351.6h1.0M333.3 346.4h1.0M372.7 347.8h1.0M368.4 344.3h1.0M365.8 351.4h1.0M332.0 345.1h1.0M337.9 355.7h1.0M329.3 352.0h1.0M381.3 355.5h1.0M387.5 372.9h1.0M337.1 364.7h1.0M335.3 369.5h1.0M339.5 350.2h1.0M347.0 356.5h1.0M379.3 362.4h1.0M332.7 346.9h1.0M377.7 395.6h1.0M355.8 365.4h1.0M353.9 377.0h1.0M325.6 350.3h1.0M382.2 382.5h1.0M342.3 374.4h1.0M363.5 400.1h1.0M380.5 399.6h1.0M350.0 348.4h1.0M364.1 390.4h1.0M375.9 345.9h1.0M338.3 349.8h1.0M347.3 360.2h1.0M384.3 397.7h1.0M361.4 352.2h1.0M385.1 394.3h1.0M322.9 359.2h1.0M378.8 375.4h1.0M363.3 372.0h1.0M333.0 356.4h1.0M350.6 346.8h1.0M367.8 359.5h1.0M334.4 357.3h1.0M360.0 350.0h1.0M362.3 381.9h1.0M350.0 354.5h1.0M365.9 390.9h1.0M377.4 391.1h1.0M374.0 347.9h1.0M334.7 357.2h1.0M326.7 345.3h1.0M363.0 354.0h1.0M333.5 364.2h1.0M333.8 348.4h1.0M383.5 374.4h1.0M348.6 390.2h1.0M378.8 384.7h1.0M344.3 352.5h1.0M377.0 396.3h1.0M372.4 355.0h1.0M385.1 378.6h1.0M353.3 347.5h1.0M373.5 356.8h1.0M350.2 359.7h1.0M350.1 337.0h1.0M333.2 368.9h1.0M367.4 341.8h1.0M385.5 366.7h1.0M370.4 353.1h1.0M374.9 349.9h1.0M340.0 357.3h1.0M369.4 346.7h1.0M354.5 347.7h1.0M331.3 362.0h1.0M335.7 345.6h1.0M376.0 366.5h1.0M382.3 350.7h1.0M336.8 364.8h1.0M347.6 341.8h1.0M335.5 358.6h1.0M373.6 354.7h1.0M374.6 342.3h1.0M380.8 365.3h1.0M347.4 352.8h1.0M332.8 351.5h1.0M365.3 345.1h1.0M369.1 352.8h1.0M378.3 397.4h1.0M388.5 354.5h1.0M328.7 354.9h1.0M378.2 378.8h1.0M365.2 354.2h1.0M349.4 350.9h1.0M360.1 354.7h1.0M370.0 379.7h1.0M363.0 351.4h1.0M335.0 365.9h1.0M336.2 341.2h1.0M373.2 347.8h1.0M351.9 354.9h1.0M330.6 353.2h1.0M364.2 358.1h1.0M324.1 348.6h1.0M337.6 345.6h1.0M380.5 387.0h1.0M322.5 350.1h1.0M332.7 360.7h1.0M329.1 341.5h1.0M326.9 344.7h1.0M355.0 362.4h1.0M360.6 354.6h1.0M332.7 385.9h1.0M384.6 385.9h1.0M337.8 350.6h1.0M356.6 346.7h1.0M373.9 372.7h1.0M389.2 370.5h1.0M325.3 359.4h1.0M345.4 360.7h1.0M322.7 360.6h1.0M352.1 357.8h1.0M347.2 351.5h1.0M323.3 350.9h1.0M365.0 391.4h1.0M394.2 363.4h1.0M382.1 354.0h1.0M368.0 370.8h1.0M358.8 346.5h1.0M330.9 357.3h1.0M347.9 355.6h1.0M359.9 336.5h1.0M336.1 345.8h1.0M326.0 354.2h1.0M351.4 357.8h1.0M360.6 362.6h1.0M345.0 355.4h1.0M326.8 362.4h1.0M332.5 367.1h1.0M374.3 371.6h1.0M340.8 359.6h1.0M348.9 390.9h1.0M336.6 372.6h1.0M346.8 341.8h1.0M357.2 358.4h1.0M325.9 391.1h1.0M371.7 342.8h1.0M324.7 356.4h1.0M345.7 363.0h1.0M323.2 355.3h1.0M335.0 345.2h1.0M367.9 360.0h1.0M336.3 372.1h1.0M367.5 371.7h1.0M337.5 352.2h1.0M320.9 354.7h1.0M377.3 343.1h1.0M345.0 344.2h1.0M374.2 372.3h1.0M338.1 364.9h1.0M380.4 383.7h1.0M341.1 354.6h1.0M386.4 381.3h1.0M363.5 354.8h1.0M338.6 360.0h1.0M356.8 341.5h1.0M344.4 351.1h1.0M368.8 365.4h1.0M360.1 375.4h1.0M334.9 368.0h1.0M348.4 363.8h1.0M349.1 354.8h1.0M387.3 377.1h1.0M387.1 371.0h1.0M375.3 343.0h1.0M354.5 372.6h1.0M383.1 375.5h1.0M328.5 350.8h1.0M338.5 340.2h1.0M354.0 361.8h1.0M386.1 366.8h1.0M348.3 369.0h1.0M332.8 368.4h1.0M360.5 391.8h1.0M356.2 359.5h1.0M344.1 341.0h1.0M327.8 392.5h1.0M341.0 350.3h1.0M371.6 361.9h1.0M355.8 350.7h1.0M361.5 354.5h1.0M354.9 360.5h1.0M375.2 360.6h1.0M368.9 376.2h1.0M334.6 357.3h1.0M353.2 376.2h1.0M333.0 344.6h1.0M341.7 342.7h1.0M349.4 348.4h1.0M374.3 344.9h1.0M333.7 357.6h1.0M325.3 358.6h1.0M348.4 372.3h1.0M368.0 352.4h1.0M388.2 357.8h1.0M340.2 352.8h1.0M331.9 346.4h1.0M357.6 345.6h1.0M363.2 344.1h1.0M336.7 362.9h1.0M335.6 364.0h1.0M385.1 388.1h1.0M328.0 352.3h1.0M369.3 352.2h1.0M346.6 400.5h1.0M323.6 343.4h1.0M383.0 382.1h1.0M361.0 367.3h1.0M345.6 359.2h1.0M378.2 372.8h1.0M369.4 389.5h1.0M374.3 366.7h1.0M334.7 360.0h1.0M330.8 359.6h1.0M348.2 352.4h1.0M349.0 356.9h1.0M379.3 368.1h1.0M337.9 342.5h1.0M344.2 349.1h1.0M350.9 363.5h1.0M377.1 387.3h1.0M333.3 336.6h1.0M347.1 354.5h1.0M362.9 350.3h1.0M383.5 403.3h1.0M368.5 347.7h1.0M386.8 370.0h1.0M350.0 376.0h1.0M346.3 346.1h1.0M374.4 368.7h1.0M347.2 367.2h1.0M378.0 354.3h1.0M316.2 363.0h1.0M382.7 371.4h1.0M363.8 342.1h1.0M386.7 369.0h1.0M349.3 355.0h1.0M370.8 348.8h1.0M350.9 365.9h1.0M336.7 364.1h1.0M372.5 397.2h1.0M370.8 359.3h1.0M383.2 371.2h1.0M376.6 378.8h1.0M348.1 358.2h1.0M325.7 352.5h1.0M358.0 344.5h1.0M359.4 363.2h1.0M378.0 352.0h1.0M330.3 341.6h1.0M386.3 366.4h1.0M376.0 380.5h1.0M385.7 382.6h1.0M388.8 372.4h1.0M375.4 352.2h1.0M331.8 354.5h1.0M339.8 354.0h1.0M353.0 354.5h1.0M334.6 349.2h1.0M331.6 356.2h1.0M387.9 388.5h1.0M372.3 379.8h1.0M363.8 345.6h1.0M344.5 351.9h1.0M345.8 341.1h1.0M344.4 365.4h1.0M348.7 342.1h1.0M354.8 357.7h1.0M377.9 399.6h1.0M376.8 336.9h1.0M345.9 355.7h1.0M331.0 353.3h1.0M336.9 351.4h1.0M380.8 371.7h1.0M345.4 345.1h1.0M365.5 405.4h1.0M327.3 356.5h1.0M346.8 360.7h1.0M333.2 359.8h1.0M339.7 385.2h1.0M327.1 348.4h1.0M378.8 364.4h1.0M340.7 352.7h1.0M325.0 347.2h1.0M355.2 378.4h1.0M355.1 350.1h1.0M341.2 370.1h1.0M330.6 353.0h1.0M325.5 344.8h1.0M341.1 366.6h1.0M352.5 349.1h1.0M336.4 351.5h1.0M391.2 368.8h1.0M346.9 363.3h1.0M364.9 381.3h1.0M370.1 350.5h1.0M345.0 354.1h1.0M342.3 358.2h1.0M371.0 388.5h1.0M369.2 352.3h1.0M340.7 355.8h1.0M350.4 363.9h1.0M335.1 345.6h1.0M350.8 333.8h1.0M383.6 379.4h1.0M336.2 341.5h1.0M369.2 353.3h1.0M383.7 352.4h1.0M325.1 356.7h1.0M351.6 356.5h1.0M349.6 355.1h1.0M339.0 355.9h1.0M331.3 380.1h1.0M348.3 348.1h1.0M353.3 374.4h1.0M323.7 360.0h1.0M382.0 392.8h1.0M363.6 363.8h1.0M347.0 348.0h1.0M376.1 374.2h1.0M369.8 346.3h1.0M342.7 350.5h1.0M338.9 360.5h1.0M332.7 364.2h1.0M334.0 371.3h1.0M377.8 393.8h1.0M382.3 385.0h1.0M334.0 361.4h1.0M328.5 354.3h1.0M376.6 372.3h1.0M343.7 353.5h1.0M377.5 346.1h1.0M355.5 369.9h1.0M330.3 357.2h1.0M334.1 358.2h1.0M385.8 392.2h1.0M330.0 353.8h1.0M337.8 344.8h1.0M373.7 366.0h1.0M344.8 346.4h1.0M339.6 341.5h1.0M365.1 410.4h1.0M320.3 346.3h1.0M336.4 349.1h1.0M377.2 378.3h1.0M384.4 390.0h1.0M321.7 367.4h1.0M373.9 357.5h1.0M347.9 338.7h1.0M357.7 370.1h1.0M342.7 370.6h1.0M355.4 347.5h1.0M384.1 393.0h1.0M372.1 356.2h1.0M342.9 372.9h1.0M380.4 347.0h1.0M340.6 333.8h1.0M334.7 346.4h1.0M333.0 362.1h1.0M341.8 349.9h1.0M384.7 409.6h1.0M335.0 369.1h1.0M318.6 358.5h1.0M371.3 354.2h1.0M379.4 367.4h1.0M364.5 370.7h1.0M348.5 342.3h1.0M374.8 366.6h1.0M336.9 346.6h1.0M391.8 374.0h1.0M375.7 358.9h1.0M335.5 356.9h1.0M342.4 356.2h1.0M354.1 357.9h1.0M350.3 351.2h1.0M382.8 394.1h1.0M351.4 348.4h1.0M329.9 351.0h1.0M334.4 355.6h1.0M370.0 338.6h1.0M384.1 367.7h1.0M357.8 371.6h1.0M382.0 374.8h1.0M334.4 348.9h1.0M348.1 350.1h1.0M358.7 361.6h1.0M337.9 362.5h1.0M379.9 375.7h1.0M345.7 353.8h1.0M378.1 354.0h1.0M367.4 359.8h1.0M328.7 349.2h1.0M374.9 395.2h1.0M350.6 352.5h1.0M379.2 374.8h1.0M366.9 377.6h1.0M356.0 342.9h1.0M355.1 364.9h1.0M360.4 353.0h1.0M381.4 339.4h1.0M338.8 366.1h1.0M378.5 380.6h1.0M365.3 359.3h1.0M321.3 339.7h1.0M339.4 357.3h1.0M378.4 373.5h1.0M363.6 334.3h1.0M359.0 352.6h1.0M334.9 360.7h1.0M380.2 363.9h1.0M376.3 339.7h1.0M318.4 345.9h1.0M363.1 343.7h1.0M341.0 347.1h1.0M373.8 397.4h1.0M367.7 373.5h1.0M388.9 367.2h1.0M364.2 371.2h1.0M348.9 384.7h1.0M341.1 363.5h1.0M379.5 375.7h1.0M386.6 374.6h1.0M362.9 349.5h1.0M342.3 366.4h1.0M349.8 353.9h1.0M347.6 348.1h1.0M365.3 361.1h1.0M354.4 343.4h1.0M352.3 362.9h1.0M328.7 364.4h1.0M334.0 394.6h1.0M357.0 348.5h1.0M346.7 349.5h1.0M371.9 344.8h1.0M368.2 340.8h1.0M332.4 403.3h1.0M379.1 354.3h1.0M332.4 345.2h1.0M351.6 376.6h1.0M349.7 352.1h1.0M342.1 345.7h1.0M350.1 349.1h1.0M324.6 344.6h1.0M360.6 344.3h1.0M359.0 362.3h1.0M375.1 350.7h1.0M339.4 347.5h1.0M337.8 354.6h1.0M341.7 353.2h1.0M362.8 367.6h1.0M368.5 355.6h1.0M347.3 346.3h1.0M348.0 353.8h1.0M343.9 344.1h1.0M332.5 380.8h1.0M349.9 355.8h1.0M363.1 351.5h1.0M367.3 343.8h1.0M347.0 350.6h1.0M372.4 365.8h1.0M333.2 397.6h1.0M347.1 367.4h1.0M364.5 362.5h1.0M331.0 348.6h1.0M357.4 343.2h1.0M325.9 353.2h1.0M329.3 345.3h1.0M342.5 361.3h1.0M341.6 361.9h1.0M332.5 343.3h1.0M341.5 358.6h1.0M382.8 346.8h1.0M386.0 397.0h1.0M376.2 360.9h1.0M320.5 353.6h1.0M321.6 343.7h1.0M360.6 368.3h1.0M322.2 346.6h1.0M330.8 351.5h1.0M327.7 355.1h1.0M378.7 350.1h1.0M363.4 355.6h1.0M344.1 356.7h1.0M342.0 349.2h1.0M365.8 375.8h1.0M374.9 374.2h1.0M351.7 339.9h1.0M358.8 363.1h1.0M355.0 354.9h1.0M363.5 359.7h1.0M373.6 393.7h1.0M337.4 352.3h1.0M377.2 382.2h1.0M334.6 361.9h1.0M358.8 341.7h1.0M335.1 347.8h1.0M336.6 344.4h1.0M381.2 403.0h1.0M380.7 366.1h1.0M381.6 370.8h1.0M352.4 370.9h1.0M354.7 344.0h1.0M343.8 360.4h1.0M322.8 399.5h1.0M355.6 352.6h1.0M372.7 346.7h1.0M325.5 364.3h1.0M352.3 379.6h1.0M379.7 361.3h1.0M352.7 350.0h1.0M340.9 349.3h1.0M342.9 359.4h1.0M351.7 351.7h1.0M321.4 341.5h1.0M362.5 356.9h1.0M343.2 352.5h1.0M349.1 353.5h1.0M346.0 347.9h1.0M379.3 369.3h1.0M343.4 348.1h1.0M337.7 361.5h1.0M348.9 372.8h1.0M343.1 338.3h1.0M385.3 390.8h1.0M336.9 355.2h1.0M327.6 355.2h1.0M340.4 350.5h1.0M347.0 346.8h1.0M358.7 367.0h1.0M348.0 352.1h1.0M327.4 397.3h1.0M383.0 382.6h1.0M360.1 364.3h1.0M392.2 363.3h1.0M346.9 344.6h1.0M327.9 364.6h1.0M332.9 355.0h1.0M386.2 349.7h1.0M344.2 349.7h1.0M354.9 366.6h1.0M355.2 368.3h1.0M380.3 364.8h1.0M334.6 361.7h1.0M364.9 350.2h1.0M367.2 365.6h1.0M367.4 373.7h1.0M380.0 365.9h1.0M342.5 353.9h1.0M373.3 347.1h1.0M323.3 346.8h1.0M382.3 342.3h1.0M329.9 345.0h1.0M374.2 347.4h1.0M378.1 377.8h1.0M351.3 374.2h1.0M379.0 370.5h1.0M386.2 386.6h1.0M374.6 365.9h1.0M363.5 345.3h1.0M330.5 364.4h1.0M330.8 364.5h1.0M351.0 392.4h1.0M375.4 349.5h1.0M349.4 361.0h1.0M377.9 380.6h1.0M352.8 343.6h1.0M336.9 350.2h1.0M361.8 354.6h1.0M361.9 385.6h1.0M353.7 369.2h1.0M388.8 383.3h1.0M349.1 351.9h1.0M344.5 349.2h1.0M355.8 354.9h1.0M355.1 346.0h1.0M356.4 353.1h1.0M337.6 399.4h1.0M367.8 368.1h1.0M346.2 368.5h1.0M371.1 400.2h1.0M379.5 368.9h1.0M368.8 336.0h1.0M337.3 350.0h1.0M379.3 377.3h1.0M321.7 356.3h1.0M375.7 354.8h1.0M352.0 346.8h1.0M323.0 362.3h1.0M331.9 370.0h1.0M360.7 348.6h1.0M346.7 380.0h1.0M352.5 385.8h1.0M350.1 393.1h1.0M363.9 352.3h1.0M386.6 361.8h1.0M353.4 353.4h1.0M372.7 353.3h1.0M333.5 354.5h1.0M331.3 353.5h1.0M339.3 344.3h1.0M378.5 364.2h1.0M340.2 353.0h1.0M390.1 400.5h1.0M355.3 353.7h1.0M357.6 370.8h1.0M319.8 337.8h1.0M384.1 389.3h1.0M363.0 360.0h1.0M366.5 378.8h1.0M346.8 337.7h1.0M390.2 366.7h1.0M349.3 350.7h1.0M352.7 364.6h1.0M371.9 344.5h1.0M378.5 359.6h1.0M370.0 379.9h1.0M369.2 381.0h1.0M337.2 362.5h1.0M373.0 349.6h1.0M345.5 367.0h1.0M341.1 350.5h1.0M387.2 395.9h1.0M352.7 346.8h1.0M331.9 344.3h1.0M349.1 343.2h1.0M341.1 355.3h1.0M342.4 352.0h1.0M360.5 360.6h1.0M323.4 348.3h1.0M353.6 360.5h1.0M337.9 347.3h1.0M372.5 356.9h1.0M388.1 388.0h1.0M351.9 366.7h1.0M348.2 344.8h1.0M345.0 375.2h1.0M327.6 347.6h1.0M348.2 348.0h1.0M342.4 344.8h1.0M323.0 347.2h1.0M370.8 354.5h1.0M344.4 354.7h1.0M337.5 341.4h1.0M344.2 379.1h1.0M337.5 353.9h1.0M346.9 383.4h1.0M358.6 350.8h1.0M390.0 394.6h1.0M331.4 347.3h1.0M340.1 376.1h1.0M331.9 361.1h1.0M382.3 381.8h1.0M362.2 354.6h1.0M325.9 353.5h1.0M323.8 357.4h1.0M343.9 355.4h1.0M340.5 355.7h1.0M357.4 375.8h1.0M358.9 367.6h1.0M379.7 362.3h1.0M369.6 365.3h1.0M333.2 353.9h1.0M338.0 365.2h1.0M384.6 380.1h1.0M344.7 347.7h1.0M366.5 369.0h1.0M377.4 350.1h1.0M343.5 359.9h1.0M352.9 350.9h1.0M382.4 371.1h1.0M344.7 338.7h1.0M359.1 363.8h1.0M352.8 366.8h1.0M317.8 361.4h1.0M329.9 348.8h1.0M350.3 392.5h1.0M349.2 342.5h1.0M358.0 345.4h1.0M338.7 367.3h1.0M378.6 391.9h1.0M361.8 341.5h1.0M330.6 353.9h1.0M380.6 384.2h1.0M382.2 346.0h1.0M386.5 371.7h1.0M343.3 363.1h1.0M330.4 357.9h1.0M351.6 341.0h1.0M342.8 343.7h1.0M375.8 394.7h1.0M364.2 358.6h1.0M346.1 358.1h1.0M333.8 389.2h1.0M335.7 356.3h1.0M345.7 350.9h1.0M357.9 354.1h1.0M337.7 355.3h1.0M350.1 354.9h1.0M379.0 349.1h1.0M355.6 353.7h1.0M337.8 370.0h1.0M337.4 356.3h1.0M328.2 352.1h1.0M378.1 393.2h1.0M365.9 349.0h1.0M357.7 339.7h1.0M378.9 375.7h1.0M372.5 358.0h1.0M335.2 349.3h1.0M359.3 359.6h1.0M367.8 369.1h1.0M360.1 376.2h1.0M376.2 368.1h1.0M387.4 376.5h1.0M320.2 341.3h1.0M329.6 360.7h1.0M375.7 347.6h1.0M354.3 363.1h1.0M380.9 339.1h1.0M332.5 396.8h1.0M382.3 358.8h1.0M350.1 398.5h1.0M348.9 354.5h1.0M326.3 381.7h1.0M338.2 355.3h1.0M353.4 359.5h1.0M324.9 355.7h1.0M368.2 341.2h1.0M374.6 354.8h1.0M346.8 358.9h1.0M379.0 374.7h1.0M347.2 366.7h1.0M339.1 336.8h1.0M334.2 346.2h1.0M355.5 343.4h1.0M350.9 360.2h1.0M367.6 401.4h1.0M348.4 363.6h1.0M385.6 351.0h1.0M375.4 380.5h1.0M371.1 365.6h1.0M371.9 366.7h1.0M379.4 380.7h1.0M349.1 361.9h1.0M354.3 359.1h1.0M360.0 357.0h1.0M331.0 360.8h1.0M378.5 387.3h1.0M365.9 375.2h1.0M378.6 373.3h1.0M362.7 372.8h1.0M345.4 374.5h1.0M373.3 376.0h1.0M350.2 362.4h1.0M378.3 374.7h1.0M344.5 360.0h1.0M351.6 347.7h1.0M366.7 349.3h1.0M352.3 353.0h1.0M357.2 380.3h1.0M334.3 346.8h1.0M375.6 359.4h1.0M346.4 366.9h1.0M369.1 361.4h1.0M379.5 395.4h1.0M345.5 400.1h1.0M326.6 351.0h1.0M360.4 397.1h1.0M327.8 343.6h1.0M347.7 344.2h1.0M345.8 361.7h1.0M335.6 351.7h1.0M383.3 379.9h1.0M364.1 342.8h1.0M354.0 344.3h1.0M323.5 332.6h1.0M353.8 356.5h1.0M372.4 342.4h1.0M370.6 383.5h1.0M375.2 340.0h1.0" stroke="#3478cc" stroke-width="1.0" stroke-opacity="0.44" fill="none"/>
<path d="M365.1 351.2h1.0M350.7 357.6h1.0M367.8 367.6h1.0M363.1 353.6h1.0M342.6 372.7h1.0M367.1 360.7h1.0M374.0 335.2h1.0M359.0 337.5h1.0M358.6 352.5h1.0M375.1 347.9h1.0M367.0 359.0h1.0M350.7 338.5h1.0M350.7 334.3h1.0M350.0 372.3h1.0M343.2 361.3h1.0M351.5 364.4h1.0M376.1 375.1h1.0M376.2 362.8h1.0M371.9 355.7h1.0M335.0 334.9h1.0M367.8 373.9h1.0M343.8 368.7h1.0M366.9 360.7h1.0M374.1 350.5h1.0M341.9 349.3h1.0M358.2 334.5h1.0M375.9 344.8h1.0M368.4 338.4h1.0M342.7 339.5h1.0M374.3 348.0h1.0M360.9 337.3h1.0M370.3 331.6h1.0M343.2 352.2h1.0M352.3 339.3h1.0M369.0 333.2h1.0M351.2 352.1h1.0M350.2 338.9h1.0M365.4 368.1h1.0M359.9 354.8h1.0M374.3 345.5h1.0M350.9 358.1h1.0M335.5 344.9h1.0M376.1 342.3h1.0M342.8 337.9h1.0M352.2 352.4h1.0M352.2 345.7h1.0M351.6 363.3h1.0M369.2 355.8h1.0M351.6 349.3h1.0M373.4 349.2h1.0M370.0 350.0h1.0M376.6 370.9h1.0M351.4 338.2h1.0M368.6 369.3h1.0M351.7 350.0h1.0M369.4 340.0h1.0M345.4 357.8h1.0M366.6 334.5h1.0M375.5 358.2h1.0M350.7 355.9h1.0M362.4 368.4h1.0M359.9 348.8h1.0M361.8 349.1h1.0M351.9 352.9h1.0M351.2 362.4h1.0M358.0 357.9h1.0M335.8 353.8h1.0M374.6 372.2h1.0M350.5 360.7h1.0M365.4 342.7h1.0M353.4 367.2h1.0M367.1 355.5h1.0M342.3 353.9h1.0M353.4 334.7h1.0M360.4 354.4h1.0M337.1 370.5h1.0M358.2 337.9h1.0M360.3 360.1h1.0M352.6 359.9h1.0M350.9 340.2h1.0M352.2 356.4h1.0M361.0 344.4h1.0M359.4 356.3h1.0M367.8 360.8h1.0M350.6 349.2h1.0M361.0 369.7h1.0M368.7 366.9h1.0M361.1 356.4h1.0M334.5 351.4h1.0M344.7 365.2h1.0M351.7 365.3h1.0M342.7 359.0h1.0M374.6 346.7h1.0M372.4 367.1h1.0M372.1 362.8h1.0M338.7 345.0h1.0M360.7 332.9h1.0M351.7 359.5h1.0M334.1 345.3h1.0M360.8 354.5h1.0M353.4 338.9h1.0M361.2 337.5h1.0M349.7 349.6h1.0M367.7 359.5h1.0M351.6 361.2h1.0M372.3 354.7h1.0M361.0 373.2h1.0M343.0 360.1h1.0M345.3 356.0h1.0M337.2 351.7h1.0M356.5 334.3h1.0M368.0 334.0h1.0M373.7 365.0h1.0M372.0 362.3h1.0M362.0 359.4h1.0M351.9 358.0h1.0M361.3 336.6h1.0M349.9 336.5h1.0M368.0 358.3h1.0M359.8 347.5h1.0M367.0 356.3h1.0M349.5 355.3h1.0M358.9 372.2h1.0M369.4 359.3h1.0M365.5 366.9h1.0M377.6 339.8h1.0M359.5 363.5h1.0M361.3 337.2h1.0M358.3 370.5h1.0M343.1 349.1h1.0M352.3 363.0h1.0M366.2 369.5h1.0M374.9 352.6h1.0M372.0 343.9h1.0M372.2 364.1h1.0M352.4 354.2h1.0M375.8 365.2h1.0M360.1 372.4h1.0M359.6 335.4h1.0M372.2 345.1h1.0M367.6 342.5h1.0M343.5 362.1h1.0M375.8 335.7h1.0M374.3 370.7h1.0M350.6 368.1h1.0M351.5 341.7h1.0M372.4 356.4h1.0M350.5 365.2h1.0M353.0 363.6h1.0M359.0 369.5h1.0M360.8 354.1h1.0M351.5 374.5h1.0M344.3 337.8h1.0M350.5 359.2h1.0M350.1 343.6h1.0M376.4 356.8h1.0M334.7 343.9h1.0M374.6 335.4h1.0M342.8 367.8h1.0M360.3 352.1h1.0M374.4 361.6h1.0M359.8 346.1h1.0M369.8 351.2h1.0M351.9 343.6h1.0M341.8 359.5h1.0M367.1 362.9h1.0M367.6 336.6h1.0M353.1 338.9h1.0M375.0 349.4h1.0M366.4 353.7h1.0M375.4 353.7h1.0M369.2 353.3h1.0M374.8 354.0h1.0M367.6 354.0h1.0M372.6 366.4h1.0M361.1 361.1h1.0M360.5 355.7h1.0M342.0 352.9h1.0M350.3 338.5h1.0M370.0 347.6h1.0M359.0 336.7h1.0M351.3 357.6h1.0M367.9 348.7h1.0M345.7 354.1h1.0M361.4 359.9h1.0M366.5 355.9h1.0M350.5 342.4h1.0M369.4 343.5h1.0M341.8 361.9h1.0M348.7 356.2h1.0M344.9 362.4h1.0M343.5 367.5h1.0M351.2 334.1h1.0M367.9 348.5h1.0M367.1 341.2h1.0M362.4 347.8h1.0M373.9 357.2h1.0M361.6 353.4h1.0M374.0 350.3h1.0M374.6 344.4h1.0M353.6 368.2h1.0M351.5 358.3h1.0M374.4 358.8h1.0M361.3 349.0h1.0M374.7 355.3h1.0M337.0 362.2h1.0M360.5 362.0h1.0M336.6 374.8h1.0M351.3 357.8h1.0M366.9 343.8h1.0M349.6 342.7h1.0M349.1 358.7h1.0M350.1 356.5h1.0M351.8 352.4h1.0M349.9 351.0h1.0M368.3 340.5h1.0M359.0 352.0h1.0M351.0 335.8h1.0M360.6 369.8h1.0M366.1 349.8h1.0M360.6 342.6h1.0M341.0 365.8h1.0M343.5 371.9h1.0M360.2 348.7h1.0M359.8 370.3h1.0M351.6 358.2h1.0M344.7 335.0h1.0M367.1 334.3h1.0M341.9 361.5h1.0M348.9 366.0h1.0M360.4 371.5h1.0M350.2 354.4h1.0M349.0 348.3h1.0M361.7 355.6h1.0M375.9 338.7h1.0M365.2 343.3h1.0M375.3 336.7h1.0M361.6 355.0h1.0M352.6 343.9h1.0M375.4 340.4h1.0M352.2 347.1h1.0M351.1 346.0h1.0M350.7 351.5h1.0M344.2 360.8h1.0M359.3 363.3h1.0M346.0 350.8h1.0M343.7 334.6h1.0M372.4 374.1h1.0M360.9 346.4h1.0M367.1 351.3h1.0M368.3 370.3h1.0M368.3 338.9h1.0M375.3 354.4h1.0M334.7 337.7h1.0M368.0 363.3h1.0M335.7 338.0h1.0M362.4 348.1h1.0M368.1 350.6h1.0M335.0 359.1h1.0M363.3 346.8h1.0M359.3 347.9h1.0M368.4 360.3h1.0M350.4 337.0h1.0M337.0 346.4h1.0M359.2 345.8h1.0M354.8 339.8h1.0M349.8 356.8h1.0M360.7 351.5h1.0M359.7 361.4h1.0M360.5 367.0h1.0M358.8 365.9h1.0M345.1 337.7h1.0M348.7 365.9h1.0M357.6 335.4h1.0M351.9 369.2h1.0M362.2 341.1h1.0M366.8 358.1h1.0M351.5 342.9h1.0M358.8 336.2h1.0M375.7 367.0h1.0M351.8 368.0h1.0M350.0 375.0h1.0M352.3 359.7h1.0M361.0 355.1h1.0M342.0 366.9h1.0M352.8 348.3h1.0M367.1 365.1h1.0M351.3 346.7h1.0M333.0 353.8h1.0M361.0 353.3h1.0M361.3 353.5h1.0M343.4 347.5h1.0M364.9 355.0h1.0M366.3 348.7h1.0M343.3 360.4h1.0M350.4 371.5h1.0M368.0 344.8h1.0M359.8 345.3h1.0M359.3 344.2h1.0M349.8 339.9h1.0M367.0 373.0h1.0M342.6 351.7h1.0M360.2 356.5h1.0M360.1 344.3h1.0M368.4 356.9h1.0M336.7 337.2h1.0M374.2 340.1h1.0M361.2 342.2h1.0M343.4 360.3h1.0M342.2 361.4h1.0M342.6 366.3h1.0M342.1 337.6h1.0M359.7 337.7h1.0M350.6 333.2h1.0M352.3 338.8h1.0M376.0 352.4h1.0M367.0 339.4h1.0M341.5 370.3h1.0M358.7 361.4h1.0M341.3 339.6h1.0M351.0 334.8h1.0M344.2 369.6h1.0M352.9 351.1h1.0M361.0 356.3h1.0M334.0 361.1h1.0M362.0 339.0h1.0M343.6 341.4h1.0M359.3 351.7h1.0M358.7 336.7h1.0M360.4 362.9h1.0M367.8 353.9h1.0M359.2 356.7h1.0M374.9 353.8h1.0M352.0 361.5h1.0M348.7 351.8h1.0M351.4 346.9h1.0M359.1 366.2h1.0M359.4 345.6h1.0M349.7 354.6h1.0M345.0 351.6h1.0M361.3 341.1h1.0M369.3 373.8h1.0M359.3 353.5h1.0M345.5 342.4h1.0M352.1 337.7h1.0M342.5 344.2h1.0M343.9 358.5h1.0M367.0 370.5h1.0M360.3 340.4h1.0M344.0 372.5h1.0M357.9 351.0h1.0M352.5 364.9h1.0M374.7 360.8h1.0M344.7 372.7h1.0M361.4 335.7h1.0M375.4 337.1h1.0M352.5 345.9h1.0M373.1 371.9h1.0M359.8 371.4h1.0M345.1 355.2h1.0M343.9 330.7h1.0M367.4 359.4h1.0M350.1 373.9h1.0M349.9 353.7h1.0M349.3 365.8h1.0M351.0 338.1h1.0M368.5 352.1h1.0M369.2 344.2h1.0M367.0 353.2h1.0M352.4 359.2h1.0M342.6 358.1h1.0M360.6 364.0h1.0M359.3 347.0h1.0M366.0 364.8h1.0M365.8 367.6h1.0M334.9 345.3h1.0M342.2 360.4h1.0M350.6 354.6h1.0M368.5 343.3h1.0M352.7 365.5h1.0M360.1 344.4h1.0M351.5 365.3h1.0M360.7 347.4h1.0M343.3 337.9h1.0M368.2 360.2h1.0M343.3 347.3h1.0M376.3 348.8h1.0M372.7 341.8h1.0M351.4 363.5h1.0M360.1 361.0h1.0M361.2 341.7h1.0M358.2 344.9h1.0M375.4 366.8h1.0M360.5 360.3h1.0M350.6 361.5h1.0M350.8 345.2h1.0M359.3 355.0h1.0M344.8 343.3h1.0M366.8 369.8h1.0M377.8 355.8h1.0M376.8 335.5h1.0M374.8 366.8h1.0M345.0 354.9h1.0M351.8 351.0h1.0M367.9 345.5h1.0M369.1 354.4h1.0M361.3 366.4h1.0M350.9 363.5h1.0M335.3 354.3h1.0M368.9 359.8h1.0M342.7 341.8h1.0M365.3 359.9h1.0M359.3 345.1h1.0M345.2 337.3h1.0M338.9 336.2h1.0M360.0 348.3h1.0M351.2 339.9h1.0M360.9 351.0h1.0M367.8 342.0h1.0M367.4 367.0h1.0M351.4 336.0h1.0M360.8 343.1h1.0M368.5 350.6h1.0M336.8 359.0h1.0M359.1 354.3h1.0M352.0 372.8h1.0M350.3 358.4h1.0M341.3 355.6h1.0M350.1 337.5h1.0M359.5 337.6h1.0M335.9 351.3h1.0M360.1 352.8h1.0M349.9 359.2h1.0M358.2 356.7h1.0M367.9 359.8h1.0M351.8 347.1h1.0M351.3 340.6h1.0M374.4 352.2h1.0M360.6 340.2h1.0M366.9 375.4h1.0M359.3 361.0h1.0M366.5 352.9h1.0M373.9 370.1h1.0M341.1 337.3h1.0M351.2 363.7h1.0M351.8 369.9h1.0M336.3 370.1h1.0M368.9 372.9h1.0M342.6 344.3h1.0M360.6 352.7h1.0M366.7 370.4h1.0M352.1 349.3h1.0M343.6 354.2h1.0M374.2 359.1h1.0M368.4 371.7h1.0M366.3 345.2h1.0M344.2 353.9h1.0M353.4 355.4h1.0M359.4 351.4h1.0M352.8 352.3h1.0M360.0 367.3h1.0M342.9 349.8h1.0M342.7 352.5h1.0M373.3 355.1h1.0M350.6 347.6h1.0M367.7 337.4h1.0M366.3 340.0h1.0M353.2 360.8h1.0M345.3 358.4h1.0M375.9 366.7h1.0M361.4 360.2h1.0M351.8 355.2h1.0M335.4 344.5h1.0M367.3 340.2h1.0M351.0 335.8h1.0M352.6 344.2h1.0M359.7 345.7h1.0M350.8 361.7h1.0M368.0 339.8h1.0M336.8 327.7h1.0M377.1 356.0h1.0M367.4 334.3h1.0M350.6 343.1h1.0M360.3 368.1h1.0M367.2 370.5h1.0M375.3 344.1h1.0M361.2 338.9h1.0M368.3 367.0h1.0M367.8 354.6h1.0M375.9 357.4h1.0M374.8 373.0h1.0M373.5 375.3h1.0M359.4 362.2h1.0M366.9 336.7h1.0M343.9 343.4h1.0M367.6 362.1h1.0M342.7 354.2h1.0M351.8 372.3h1.0M345.3 344.1h1.0M366.8 342.4h1.0M352.6 357.8h1.0M345.3 351.8h1.0M368.5 351.6h1.0M360.7 338.6h1.0M342.5 358.8h1.0M337.4 346.2h1.0M344.0 340.0h1.0M360.9 356.5h1.0M373.8 373.2h1.0M347.4 355.2h1.0M341.6 364.4h1.0M365.5 335.5h1.0M344.8 353.0h1.0M369.0 363.0h1.0M375.1 339.5h1.0M337.2 345.4h1.0M376.2 339.0h1.0M365.6 355.7h1.0M350.6 371.4h1.0M335.4 374.7h1.0M358.6 351.3h1.0M363.1 339.5h1.0M335.4 349.2h1.0M374.2 351.5h1.0M351.0 375.3h1.0M366.3 355.1h1.0M350.7 341.0h1.0M348.8 364.0h1.0M370.4 366.0h1.0M334.8 338.6h1.0M343.8 355.8h1.0M368.0 365.2h1.0M367.1 349.8h1.0M350.0 373.1h1.0M366.7 343.0h1.0M336.4 375.1h1.0M352.1 361.9h1.0M377.2 363.2h1.0M362.0 357.1h1.0M367.9 372.1h1.0M343.2 343.8h1.0M367.5 355.7h1.0M374.6 361.7h1.0M335.6 353.4h1.0M357.0 344.7h1.0M344.0 344.1h1.0M350.0 361.4h1.0M343.4 365.6h1.0M367.7 364.1h1.0M369.8 340.4h1.0M367.6 347.3h1.0M368.7 339.2h1.0M350.9 350.0h1.0M368.1 336.3h1.0M350.2 359.0h1.0M350.4 363.9h1.0M366.5 353.8h1.0M353.2 359.3h1.0M374.7 336.3h1.0M359.5 333.8h1.0M359.3 361.8h1.0M341.3 336.8h1.0M351.7 341.2h1.0M359.9 356.8h1.0M358.7 370.4h1.0M358.3 351.5h1.0M350.6 372.6h1.0M350.4 361.5h1.0M368.8 372.4h1.0M362.2 349.4h1.0M350.2 353.6h1.0M361.5 361.6h1.0M365.1 350.5h1.0M361.0 368.8h1.0M359.1 353.5h1.0M350.3 351.5h1.0M349.5 335.5h1.0M350.6 343.7h1.0M341.2 350.3h1.0M360.7 346.2h1.0M368.3 350.5h1.0M368.1 349.8h1.0M349.4 352.9h1.0M359.1 362.9h1.0M351.9 359.4h1.0M335.9 340.1h1.0M367.2 346.6h1.0M360.5 350.5h1.0M352.9 372.5h1.0M360.8 350.5h1.0M370.8 350.3h1.0M343.6 350.1h1.0M359.0 353.6h1.0M361.8 351.9h1.0M350.1 351.2h1.0M366.4 350.9h1.0M369.4 339.5h1.0M353.6 346.7h1.0M349.4 342.7h1.0M341.7 368.0h1.0M353.3 354.9h1.0M362.3 351.6h1.0M366.6 346.0h1.0M370.9 345.1h1.0M351.2 353.0h1.0M358.1 356.9h1.0M350.9 368.3h1.0M367.9 358.4h1.0M367.6 357.8h1.0M360.9 362.9h1.0M373.7 350.3h1.0M368.5 348.3h1.0M343.1 354.2h1.0M352.2 349.6h1.0M361.1 371.5h1.0M351.1 342.2h1.0M358.9 331.0h1.0M367.8 333.6h1.0M368.2 348.7h1.0M360.4 349.7h1.0M360.0 338.7h1.0M362.1 350.7h1.0M350.8 339.9h1.0M343.8 358.8h1.0M342.3 351.1h1.0M344.0 358.7h1.0M359.7 372.2h1.0M360.6 358.3h1.0M344.6 345.9h1.0M335.4 371.0h1.0M361.2 358.9h1.0M375.2 339.2h1.0M349.8 344.7h1.0M344.0 366.8h1.0M359.2 334.5h1.0M360.8 344.9h1.0M369.5 336.7h1.0M368.4 338.4h1.0M365.5 374.4h1.0M360.0 364.8h1.0M351.7 359.6h1.0M351.1 364.4h1.0M353.6 337.7h1.0M361.7 370.5h1.0M359.6 369.6h1.0M351.9 339.2h1.0M352.6 365.0h1.0M336.1 359.2h1.0M352.3 371.6h1.0M350.7 357.5h1.0M335.3 341.7h1.0M367.9 350.6h1.0M367.8 350.0h1.0M343.1 349.8h1.0M351.3 343.5h1.0M365.7 340.4h1.0M359.2 341.4h1.0M351.5 335.9h1.0M343.0 368.5h1.0M360.6 370.3h1.0M365.7 344.9h1.0M361.1 350.5h1.0M372.9 349.3h1.0M352.3 377.8h1.0M349.9 344.9h1.0M344.9 337.4h1.0M360.1 355.1h1.0M360.1 333.5h1.0M376.0 349.6h1.0M360.7 342.7h1.0M360.1 347.6h1.0M350.8 352.6h1.0M359.5 351.7h1.0M349.6 340.3h1.0M366.5 349.0h1.0M359.6 358.7h1.0M368.3 356.7h1.0M335.9 338.3h1.0M360.8 364.0h1.0M360.3 353.9h1.0M358.2 351.7h1.0M358.7 347.5h1.0M359.2 370.7h1.0M367.5 348.8h1.0M343.3 367.6h1.0M350.2 353.0h1.0M359.5 338.2h1.0M351.8 359.1h1.0M360.3 336.7h1.0M362.6 337.4h1.0M373.5 354.1h1.0M368.9 365.6h1.0M366.9 354.0h1.0M361.3 341.4h1.0M343.6 360.6h1.0M350.7 360.5h1.0M334.3 370.0h1.0M345.2 363.8h1.0M374.4 373.6h1.0M375.6 338.8h1.0M360.3 356.5h1.0M365.9 337.8h1.0M344.4 341.6h1.0M357.8 352.9h1.0M351.7 364.2h1.0M375.6 343.2h1.0M360.4 356.8h1.0M368.9 355.2h1.0M366.5 373.2h1.0M359.4 356.7h1.0M352.2 350.0h1.0M359.5 365.9h1.0M361.4 356.6h1.0M359.1 371.2h1.0M334.8 362.8h1.0M351.4 344.7h1.0M351.5 346.2h1.0M369.9 337.2h1.0M367.0 367.0h1.0M342.8 344.8h1.0M360.4 351.5h1.0M367.0 335.3h1.0M365.7 351.2h1.0M360.4 351.3h1.0M366.9 350.4h1.0M368.6 348.0h1.0M351.9 358.9h1.0M344.1 333.1h1.0M366.8 357.7h1.0M350.5 348.3h1.0M350.3 367.2h1.0M374.6 343.1h1.0M353.8 360.2h1.0M368.9 358.5h1.0M344.3 336.5h1.0M375.5 368.0h1.0M358.8 356.7h1.0M368.6 334.1h1.0M336.9 346.5h1.0M349.1 368.8h1.0M359.1 371.4h1.0M343.8 340.8h1.0M374.5 338.7h1.0M351.2 362.8h1.0M361.3 354.4h1.0M343.9 346.5h1.0M352.7 359.6h1.0M371.2 350.6h1.0M342.7 336.2h1.0M358.8 359.5h1.0" stroke="#2a6cc4" stroke-width="1.0" stroke-opacity="0.5" fill="none"/>
<ellipse cx="382.0" cy="400.5" rx="5.0" ry="7.2" fill="#0a56b2" transform="rotate(5 382.0 400.5)" filter="url(#b5)"/>
<path d="M383.5 396.1h1.0M384.6 398.6h1.0M380.7 398.6h1.0M378.8 404.1h1.0M383.8 402.2h1.0M377.0 395.5h1.0M381.7 403.6h1.0M383.6 405.0h1.0M380.4 402.1h1.0M379.8 404.7h1.0M375.9 397.4h1.0M381.8 392.8h1.0M382.8 402.9h1.0M381.1 405.7h1.0M384.2 399.9h1.0M380.4 402.7h1.0M380.1 399.6h1.0M383.5 393.2h1.0M381.5 400.9h1.0M383.0 396.8h1.0M384.6 398.0h1.0M376.9 396.7h1.0M383.0 413.5h1.0M381.1 396.8h1.0M381.9 401.7h1.0M384.5 405.5h1.0M385.0 405.0h1.0M379.3 401.1h1.0M383.3 401.9h1.0M382.3 400.6h1.0M380.3 401.4h1.0M375.4 398.7h1.0M377.2 395.7h1.0M379.7 402.6h1.0M383.9 403.0h1.0M380.0 403.5h1.0M384.1 390.0h1.0M381.1 403.6h1.0M382.9 399.7h1.0M379.2 403.5h1.0M381.8 395.5h1.0M383.4 403.2h1.0M385.7 399.6h1.0M387.7 403.0h1.0M386.9 401.4h1.0M377.4 402.8h1.0M384.0 401.7h1.0M381.1 396.4h1.0M386.0 400.4h1.0M376.7 399.5h1.0M380.9 395.8h1.0M380.0 402.5h1.0M378.7 399.8h1.0M381.2 405.9h1.0M379.6 407.9h1.0M381.0 398.3h1.0M383.1 399.6h1.0M387.4 408.4h1.0M380.3 402.4h1.0M383.1 397.9h1.0M378.7 404.2h1.0M380.7 404.4h1.0M378.0 399.6h1.0M387.0 404.1h1.0M382.5 406.1h1.0M379.8 404.7h1.0M380.9 406.0h1.0M383.3 396.4h1.0M381.8 404.0h1.0M381.2 406.5h1.0M379.4 398.0h1.0M380.6 399.2h1.0M380.8 401.0h1.0M387.0 406.3h1.0M379.8 395.2h1.0M382.3 403.3h1.0M381.2 396.9h1.0M382.3 406.7h1.0M381.1 400.5h1.0M381.7 395.0h1.0M382.8 398.3h1.0M380.3 397.9h1.0M380.9 393.7h1.0M385.0 399.0h1.0M379.9 399.4h1.0M381.4 395.5h1.0M381.9 399.4h1.0M381.9 400.8h1.0M381.9 401.1h1.0M387.1 402.1h1.0M379.9 395.3h1.0M385.0 403.7h1.0M377.9 396.0h1.0M381.8 395.2h1.0M381.1 403.8h1.0M383.4 398.1h1.0M382.7 389.2h1.0M385.8 401.2h1.0M382.1 397.3h1.0M378.1 399.9h1.0M378.6 398.7h1.0M382.3 399.4h1.0M381.6 402.6h1.0M380.6 398.3h1.0M378.2 403.2h1.0M385.0 400.5h1.0M380.6 400.2h1.0M377.9 402.9h1.0M380.2 395.9h1.0M380.4 402.4h1.0M381.5 402.6h1.0M381.2 401.8h1.0M385.4 399.8h1.0M385.2 403.0h1.0M379.7 402.2h1.0M382.7 394.7h1.0M379.8 401.7h1.0M377.1 401.7h1.0M379.4 395.8h1.0M380.1 396.7h1.0M380.2 399.4h1.0M381.3 406.7h1.0M382.9 402.5h1.0M387.3 401.3h1.0M379.2 409.6h1.0M377.5 403.8h1.0M379.5 405.5h1.0M386.1 396.5h1.0M379.9 396.3h1.0M383.3 397.2h1.0M385.7 398.2h1.0M382.2 402.0h1.0M385.5 393.3h1.0M385.4 402.9h1.0M383.1 396.9h1.0M380.1 402.7h1.0M377.4 403.0h1.0M382.2 394.6h1.0M377.7 401.2h1.0M384.4 405.0h1.0M382.4 403.1h1.0M383.0 406.3h1.0M380.4 397.5h1.0M385.1 404.6h1.0M383.5 397.0h1.0M382.0 401.3h1.0M378.8 397.3h1.0M378.4 401.4h1.0M379.4 402.0h1.0M384.1 398.6h1.0M388.5 404.6h1.0M383.2 399.9h1.0M383.3 404.1h1.0M380.2 402.5h1.0M383.5 403.1h1.0M382.8 395.7h1.0M380.5 396.7h1.0M381.1 404.4h1.0M381.4 405.2h1.0M384.9 398.6h1.0M380.1 400.5h1.0M382.3 408.3h1.0M383.0 403.4h1.0M379.7 397.6h1.0M386.0 396.8h1.0M382.1 399.7h1.0M379.3 401.5h1.0M383.3 406.1h1.0M383.0 401.8h1.0M379.7 396.0h1.0M379.4 397.5h1.0M383.4 400.4h1.0M379.0 399.2h1.0M383.0 399.2h1.0M377.7 409.5h1.0M373.9 405.2h1.0M375.1 400.6h1.0M376.8 413.5h1.0M382.5 394.2h1.0M384.9 400.0h1.0M384.2 404.3h1.0M379.2 402.7h1.0M382.5 398.8h1.0M380.6 400.8h1.0M379.3 396.8h1.0M384.5 395.1h1.0M379.9 399.6h1.0M381.8 398.8h1.0M377.8 399.2h1.0M388.0 399.6h1.0M379.0 400.7h1.0M387.4 394.5h1.0M381.5 399.6h1.0M387.1 401.5h1.0M375.8 395.2h1.0M383.1 393.8h1.0M382.0 401.0h1.0M381.9 398.4h1.0M380.6 398.9h1.0M380.8 401.6h1.0M377.2 399.9h1.0M377.9 397.3h1.0M381.6 396.4h1.0M378.1 399.4h1.0M383.0 400.3h1.0M374.1 402.7h1.0M380.0 393.3h1.0M381.2 397.7h1.0M381.3 395.9h1.0M382.2 399.0h1.0M385.7 407.4h1.0M384.4 405.9h1.0M381.3 397.7h1.0M380.5 402.1h1.0M387.5 400.7h1.0M380.6 397.8h1.0M378.6 401.3h1.0M381.0 395.1h1.0M380.3 401.0h1.0M381.3 399.7h1.0M381.6 402.5h1.0M381.9 396.2h1.0M380.5 399.0h1.0M382.0 400.2h1.0M384.8 400.6h1.0M380.9 404.1h1.0M381.5 397.8h1.0M386.1 402.0h1.0M384.7 404.4h1.0M382.9 401.9h1.0M377.4 400.6h1.0M377.9 399.9h1.0M381.8 404.0h1.0M382.2 404.1h1.0M380.2 400.5h1.0M382.9 397.6h1.0M376.7 404.3h1.0M386.4 403.2h1.0M381.8 399.1h1.0M380.8 399.5h1.0M379.4 403.8h1.0M379.8 404.5h1.0M381.3 400.6h1.0M378.8 397.0h1.0M385.4 399.3h1.0M387.5 400.8h1.0M381.7 394.6h1.0M385.7 395.3h1.0M380.8 397.8h1.0M380.9 398.6h1.0M383.8 404.1h1.0M373.4 399.1h1.0M382.2 401.9h1.0M383.5 401.2h1.0M380.0 400.8h1.0M383.4 405.1h1.0M389.0 397.9h1.0M382.0 405.9h1.0M382.9 400.4h1.0M381.3 395.0h1.0M385.3 401.7h1.0M378.9 396.1h1.0M383.7 400.0h1.0M384.2 400.6h1.0M385.2 400.6h1.0M376.0 403.7h1.0M382.6 398.6h1.0M382.1 405.2h1.0M383.0 402.4h1.0M384.1 402.7h1.0M385.0 397.2h1.0M381.2 401.2h1.0M381.5 401.2h1.0M384.4 398.2h1.0M382.2 403.3h1.0M381.1 396.4h1.0M381.4 401.1h1.0M380.1 404.7h1.0M383.3 405.8h1.0M379.0 396.2h1.0M383.0 399.8h1.0M381.2 396.9h1.0M383.5 404.3h1.0M381.4 401.0h1.0M382.6 403.5h1.0M384.5 399.3h1.0M382.0 393.3h1.0M382.8 400.9h1.0M379.8 400.8h1.0M383.0 395.5h1.0M377.0 399.8h1.0M386.1 398.5h1.0M382.5 399.3h1.0M383.3 402.0h1.0M379.2 402.6h1.0M379.6 402.8h1.0M378.5 397.8h1.0M386.1 399.5h1.0M382.4 406.8h1.0M380.7 396.6h1.0" stroke="#0a56b2" stroke-width="1.0" stroke-opacity="0.6" fill="none"/>
<rect x="431.6" y="318.6" width="102.39999999999998" height="96.39999999999998" fill="none" stroke="#c4c4c4" stroke-width="1"/>
<line x1="431.6" y1="318.6" x2="431.6" y2="415" stroke="#777" stroke-width="1.1"/>
<line x1="431.1" y1="415" x2="534" y2="415" stroke="#3a3a3a" stroke-width="1.45"/>
<line x1="429.6" y1="328.6" x2="431.6" y2="328.6" stroke="#555" stroke-width="0.8"/>
<text x="427.3" y="330.3" font-size="5" font-weight="bold" text-anchor="end" fill="#666">10<tspan font-size="3.4" dy="-2">5</tspan></text>
<line x1="429.6" y1="349.7" x2="431.6" y2="349.7" stroke="#555" stroke-width="0.8"/>
<text x="427.3" y="351.4" font-size="5" font-weight="bold" text-anchor="end" fill="#666">10<tspan font-size="3.4" dy="-2">4</tspan></text>
<line x1="429.6" y1="371.8" x2="431.6" y2="371.8" stroke="#555" stroke-width="0.8"/>
<text x="427.3" y="373.5" font-size="5" font-weight="bold" text-anchor="end" fill="#666">10<tspan font-size="3.4" dy="-2">3</tspan></text>
<line x1="429.6" y1="394.4" x2="431.6" y2="394.4" stroke="#555" stroke-width="0.8"/>
<text x="427.3" y="396.1" font-size="5" font-weight="bold" text-anchor="end" fill="#666">10<tspan font-size="3.4" dy="-2">2</tspan></text>
<line x1="429.6" y1="405.4" x2="431.6" y2="405.4" stroke="#222" stroke-width="1.3"/>
<text x="427.6" y="407.2" font-size="5.2" font-weight="bold" text-anchor="end" fill="#666">0</text>
<line x1="430.40000000000003" y1="413.0" x2="431.6" y2="413.0" stroke="#777" stroke-width="0.6"/>
<line x1="430.40000000000003" y1="410.0" x2="431.6" y2="410.0" stroke="#777" stroke-width="0.6"/>
<line x1="430.40000000000003" y1="402.0" x2="431.6" y2="402.0" stroke="#777" stroke-width="0.6"/>
<line x1="430.40000000000003" y1="385.0" x2="431.6" y2="385.0" stroke="#777" stroke-width="0.6"/>
<line x1="430.40000000000003" y1="380.0" x2="431.6" y2="380.0" stroke="#777" stroke-width="0.6"/>
<line x1="430.40000000000003" y1="377.0" x2="431.6" y2="377.0" stroke="#777" stroke-width="0.6"/>
<line x1="430.40000000000003" y1="375.0" x2="431.6" y2="375.0" stroke="#777" stroke-width="0.6"/>
<line x1="430.40000000000003" y1="363.0" x2="431.6" y2="363.0" stroke="#777" stroke-width="0.6"/>
<line x1="430.40000000000003" y1="358.0" x2="431.6" y2="358.0" stroke="#777" stroke-width="0.6"/>
<line x1="430.40000000000003" y1="355.0" x2="431.6" y2="355.0" stroke="#777" stroke-width="0.6"/>
<line x1="430.40000000000003" y1="353.0" x2="431.6" y2="353.0" stroke="#777" stroke-width="0.6"/>
<line x1="430.40000000000003" y1="342.0" x2="431.6" y2="342.0" stroke="#777" stroke-width="0.6"/>
<line x1="430.40000000000003" y1="336.0" x2="431.6" y2="336.0" stroke="#777" stroke-width="0.6"/>
<line x1="430.40000000000003" y1="333.0" x2="431.6" y2="333.0" stroke="#777" stroke-width="0.6"/>
<line x1="430.40000000000003" y1="331.0" x2="431.6" y2="331.0" stroke="#777" stroke-width="0.6"/>
<line x1="453.1" y1="415" x2="453.1" y2="417" stroke="#555" stroke-width="0.8"/>
<text x="449.9" y="424.6" font-size="5" font-weight="bold" fill="#666">10<tspan font-size="3.4" dy="-2">2</tspan></text>
<line x1="477.2" y1="415" x2="477.2" y2="417" stroke="#555" stroke-width="0.8"/>
<text x="474.0" y="424.6" font-size="5" font-weight="bold" fill="#666">10<tspan font-size="3.4" dy="-2">3</tspan></text>
<line x1="500.6" y1="415" x2="500.6" y2="417" stroke="#555" stroke-width="0.8"/>
<text x="497.4" y="424.6" font-size="5" font-weight="bold" fill="#666">10<tspan font-size="3.4" dy="-2">4</tspan></text>
<line x1="523.6" y1="415" x2="523.6" y2="417" stroke="#555" stroke-width="0.8"/>
<text x="520.4" y="424.6" font-size="5" font-weight="bold" fill="#666">10<tspan font-size="3.4" dy="-2">5</tspan></text>
<line x1="442.4" y1="415" x2="442.4" y2="417" stroke="#222" stroke-width="1.3"/>
<text x="442.4" y="424.6" font-size="5.2" font-weight="bold" text-anchor="middle" fill="#666">0</text>
<line x1="433.6" y1="415" x2="433.6" y2="416.2" stroke="#777" stroke-width="0.6"/>
<line x1="436.6" y1="415" x2="436.6" y2="416.2" stroke="#777" stroke-width="0.6"/>
<line x1="446.6" y1="415" x2="446.6" y2="416.2" stroke="#777" stroke-width="0.6"/>
<line x1="449.6" y1="415" x2="449.6" y2="416.2" stroke="#777" stroke-width="0.6"/>
<line x1="461.6" y1="415" x2="461.6" y2="416.2" stroke="#777" stroke-width="0.6"/>
<line x1="467.6" y1="415" x2="467.6" y2="416.2" stroke="#777" stroke-width="0.6"/>
<line x1="471.6" y1="415" x2="471.6" y2="416.2" stroke="#777" stroke-width="0.6"/>
<line x1="474.6" y1="415" x2="474.6" y2="416.2" stroke="#777" stroke-width="0.6"/>
<line x1="485.6" y1="415" x2="485.6" y2="416.2" stroke="#777" stroke-width="0.6"/>
<line x1="491.6" y1="415" x2="491.6" y2="416.2" stroke="#777" stroke-width="0.6"/>
<line x1="495.6" y1="415" x2="495.6" y2="416.2" stroke="#777" stroke-width="0.6"/>
<line x1="498.6" y1="415" x2="498.6" y2="416.2" stroke="#777" stroke-width="0.6"/>
<line x1="508.6" y1="415" x2="508.6" y2="416.2" stroke="#777" stroke-width="0.6"/>
<line x1="514.6" y1="415" x2="514.6" y2="416.2" stroke="#777" stroke-width="0.6"/>
<line x1="518.6" y1="415" x2="518.6" y2="416.2" stroke="#777" stroke-width="0.6"/>
<line x1="521.6" y1="415" x2="521.6" y2="416.2" stroke="#777" stroke-width="0.6"/>
<line x1="531.6" y1="415" x2="531.6" y2="416.2" stroke="#777" stroke-width="0.6"/>
<text x="425.6" y="302.3" font-size="12.1" text-anchor="start" font-weight="normal" fill="#222" class="t">T cell + IFN-γ-HLCs +</text>
<text x="436.4" y="316.5" font-size="11.85" text-anchor="start" font-weight="normal" fill="#222" class="t">αCD3/28 + 1-DMT</text>
<path d="M517.0 408.9h1.0M511.6 371.2h1.0M509.0 368.4h1.0M507.3 394.3h1.0M515.6 408.4h1.0M515.1 360.8h1.0M521.3 356.4h1.0M518.3 395.7h1.0M511.6 390.6h1.0M515.0 362.9h1.0M510.1 400.4h1.0M522.2 397.8h1.0M515.0 369.8h1.0M513.4 392.2h1.0M509.4 401.5h1.0M519.5 396.1h1.0M507.8 386.7h1.0M513.1 399.6h1.0M507.1 380.0h1.0M507.5 385.3h1.0M513.5 372.1h1.0M516.1 399.9h1.0M510.4 403.0h1.0M518.5 394.1h1.0M512.9 386.5h1.0M509.3 393.7h1.0M512.8 382.5h1.0M511.8 381.4h1.0M512.5 375.0h1.0M508.5 393.4h1.0M508.3 393.5h1.0M512.2 371.6h1.0M509.9 404.7h1.0M515.7 375.8h1.0M522.3 392.8h1.0M512.0 386.0h1.0M513.9 378.0h1.0M515.7 384.4h1.0M512.0 349.6h1.0M508.5 382.3h1.0M514.0 392.0h1.0M517.8 370.1h1.0M513.9 380.9h1.0M512.2 355.3h1.0M511.6 364.0h1.0M512.4 386.5h1.0M515.9 398.1h1.0M513.7 403.7h1.0M523.8 368.8h1.0M510.9 399.2h1.0M508.5 384.9h1.0M511.4 395.8h1.0M513.4 407.1h1.0M513.1 399.0h1.0M513.2 397.0h1.0M512.1 369.0h1.0M514.4 374.0h1.0M512.8 377.9h1.0M513.0 372.6h1.0M508.9 370.5h1.0M513.3 403.1h1.0M512.1 402.5h1.0M510.1 388.7h1.0M510.8 397.1h1.0M512.9 381.9h1.0M509.9 385.1h1.0M515.6 402.5h1.0M507.5 363.9h1.0M512.7 400.8h1.0M510.6 357.7h1.0M512.5 356.2h1.0M514.1 369.7h1.0M517.5 369.1h1.0M511.2 398.7h1.0M507.2 400.5h1.0M519.3 396.6h1.0M511.5 409.6h1.0M517.6 403.6h1.0M516.4 367.9h1.0M513.8 369.3h1.0M514.0 366.6h1.0M514.6 357.3h1.0M510.8 381.5h1.0M515.6 390.9h1.0M516.0 375.3h1.0M512.8 395.2h1.0M521.4 378.2h1.0M511.7 373.3h1.0M516.6 389.7h1.0M510.8 383.3h1.0M513.8 369.2h1.0M513.7 399.9h1.0M512.5 370.3h1.0M513.9 362.5h1.0M509.4 367.5h1.0M512.8 380.5h1.0M511.9 388.1h1.0M508.8 400.6h1.0M510.1 396.0h1.0M512.8 389.8h1.0M509.7 382.2h1.0M513.0 363.2h1.0M511.7 392.8h1.0M514.8 355.2h1.0M514.5 371.9h1.0M511.8 381.9h1.0M517.8 400.4h1.0M511.0 401.6h1.0M510.5 397.1h1.0M514.1 366.0h1.0M514.2 387.3h1.0M511.0 391.6h1.0M514.0 401.0h1.0M513.9 381.6h1.0M515.3 395.4h1.0M517.6 393.6h1.0M505.8 395.6h1.0M508.5 381.2h1.0M518.4 396.0h1.0M512.4 405.1h1.0M510.4 380.6h1.0M514.0 383.1h1.0M512.4 351.2h1.0M513.6 400.4h1.0M511.9 377.0h1.0M511.8 359.1h1.0M509.7 390.8h1.0M509.9 368.2h1.0M512.2 359.5h1.0M511.9 398.2h1.0M509.6 404.3h1.0M513.5 406.1h1.0M510.4 396.5h1.0M512.9 379.4h1.0M509.0 363.3h1.0M511.8 386.9h1.0M508.6 387.8h1.0M515.2 393.6h1.0M512.2 379.5h1.0M511.9 366.9h1.0M516.2 397.4h1.0M514.1 386.8h1.0M510.4 399.5h1.0M510.7 381.4h1.0M514.9 391.1h1.0M517.6 406.2h1.0M513.8 362.8h1.0M522.7 362.9h1.0M512.7 362.8h1.0M511.2 389.4h1.0M512.1 384.5h1.0M510.5 397.3h1.0M512.6 382.5h1.0M520.0 356.0h1.0M513.9 349.1h1.0M512.2 379.7h1.0M513.5 360.0h1.0M514.9 393.3h1.0M511.1 391.2h1.0M511.5 360.3h1.0M509.5 366.2h1.0M513.1 397.5h1.0M511.9 390.7h1.0M514.2 394.7h1.0M507.9 375.6h1.0M514.3 394.5h1.0M519.4 389.5h1.0M516.9 394.6h1.0M514.7 356.2h1.0M513.9 378.4h1.0M508.1 405.6h1.0M513.7 390.2h1.0M519.9 359.0h1.0M512.6 385.2h1.0M513.1 380.7h1.0M513.5 380.0h1.0M506.2 365.3h1.0M515.8 386.3h1.0M519.9 386.7h1.0M508.9 389.5h1.0M511.3 358.2h1.0M513.4 384.7h1.0M514.0 376.8h1.0M512.9 383.9h1.0M512.3 398.7h1.0M513.4 405.2h1.0M516.9 396.0h1.0M510.7 394.7h1.0M521.9 363.0h1.0M514.5 382.0h1.0M507.7 399.0h1.0M508.4 368.9h1.0M514.5 387.8h1.0M506.9 409.6h1.0M506.9 392.0h1.0M511.3 360.4h1.0M512.8 385.6h1.0M508.5 394.0h1.0M506.5 388.3h1.0M510.2 381.0h1.0M516.3 408.9h1.0M515.8 385.6h1.0M510.0 364.2h1.0M514.1 360.8h1.0M514.2 358.8h1.0M510.0 389.7h1.0M513.7 386.5h1.0M515.6 398.8h1.0M512.9 400.9h1.0M514.0 374.6h1.0M507.6 391.0h1.0M514.1 403.1h1.0M514.8 397.7h1.0M514.1 378.5h1.0M517.5 385.8h1.0M515.2 364.7h1.0M511.1 389.1h1.0M515.6 396.2h1.0M512.1 377.3h1.0M515.7 409.6h1.0M514.7 389.6h1.0M510.1 388.2h1.0M509.8 391.1h1.0M514.0 375.7h1.0M506.6 387.2h1.0M510.8 395.4h1.0M513.6 373.7h1.0M518.3 357.5h1.0M512.8 377.7h1.0M510.7 408.1h1.0M512.8 357.2h1.0M514.0 362.6h1.0M512.8 386.9h1.0M513.8 399.6h1.0M506.0 409.1h1.0M513.0 396.7h1.0M515.9 393.5h1.0M513.3 408.1h1.0M515.3 389.9h1.0M515.6 387.1h1.0M509.9 378.9h1.0M512.6 404.0h1.0M510.4 379.4h1.0M512.8 386.2h1.0M511.9 352.9h1.0M519.1 397.4h1.0M507.9 354.7h1.0M508.2 399.2h1.0M513.0 377.7h1.0M509.7 391.2h1.0M508.4 387.3h1.0M511.4 353.0h1.0M507.7 385.7h1.0M512.1 396.5h1.0M513.6 400.8h1.0M506.8 371.5h1.0M514.9 408.6h1.0M512.7 394.5h1.0M515.5 393.4h1.0M510.4 387.2h1.0M512.4 349.4h1.0M524.0 396.1h1.0M513.8 396.1h1.0M514.4 392.1h1.0M513.0 394.5h1.0M516.6 361.7h1.0M513.4 369.1h1.0M510.2 394.1h1.0M511.8 397.8h1.0M513.5 399.6h1.0M512.2 384.9h1.0M509.0 392.1h1.0M517.3 357.3h1.0M511.0 389.2h1.0M511.9 367.0h1.0M504.8 401.6h1.0M505.6 392.4h1.0M516.8 377.0h1.0M510.5 396.2h1.0M511.1 390.1h1.0M510.8 402.1h1.0M506.4 376.6h1.0M512.2 401.6h1.0M515.5 375.6h1.0M515.0 396.4h1.0M514.6 388.3h1.0M520.1 398.6h1.0M510.8 409.0h1.0M508.0 398.8h1.0M515.9 381.4h1.0M514.4 349.7h1.0M511.0 373.8h1.0M514.7 398.5h1.0M512.3 394.9h1.0M518.4 374.3h1.0M515.4 391.4h1.0M520.0 403.6h1.0M509.5 374.1h1.0M513.0 364.2h1.0M510.5 379.8h1.0M510.8 384.9h1.0M509.7 390.7h1.0M505.3 394.8h1.0M512.8 379.1h1.0M513.9 385.7h1.0M518.6 373.7h1.0M514.6 356.1h1.0M508.7 376.0h1.0M511.4 407.3h1.0M510.9 371.1h1.0M514.4 384.7h1.0M512.0 393.6h1.0M513.0 370.8h1.0M509.7 393.8h1.0M516.2 405.7h1.0M523.6 389.5h1.0M511.7 367.1h1.0M515.2 403.5h1.0M510.4 396.4h1.0M512.8 373.2h1.0M508.6 366.2h1.0M519.1 384.9h1.0M517.5 383.5h1.0M512.2 390.9h1.0M508.9 397.3h1.0M519.5 360.7h1.0M512.9 396.4h1.0M508.4 407.5h1.0M511.8 392.9h1.0M510.2 367.2h1.0M515.5 364.2h1.0M516.1 392.8h1.0M509.2 359.0h1.0M514.4 401.9h1.0M513.1 377.2h1.0M514.1 360.3h1.0M513.7 352.1h1.0M513.8 386.1h1.0M512.2 374.3h1.0M511.2 393.0h1.0M511.1 395.2h1.0M517.5 396.1h1.0M514.2 378.8h1.0M509.9 397.0h1.0M511.0 391.1h1.0M513.6 400.2h1.0M512.9 369.2h1.0M514.8 377.9h1.0M512.7 379.1h1.0M510.7 389.9h1.0M509.1 363.4h1.0M512.8 396.6h1.0M514.1 408.0h1.0M515.9 396.2h1.0M514.5 403.2h1.0M519.6 388.8h1.0M512.7 373.6h1.0M517.8 400.7h1.0M515.6 372.9h1.0M508.0 406.8h1.0M514.2 380.1h1.0M512.6 392.6h1.0M515.1 360.4h1.0M524.6 392.3h1.0M512.9 360.2h1.0M516.3 379.3h1.0M513.5 366.2h1.0M514.4 378.0h1.0M506.5 403.6h1.0M515.6 392.7h1.0M514.8 389.9h1.0M514.2 351.5h1.0M522.6 381.5h1.0M512.1 384.8h1.0M518.8 400.2h1.0M511.9 375.7h1.0M512.5 400.9h1.0M512.2 394.6h1.0M507.2 383.8h1.0M516.5 392.2h1.0M511.8 379.6h1.0M522.2 371.8h1.0M513.0 370.8h1.0M507.2 376.9h1.0M513.6 376.2h1.0M514.1 361.2h1.0M509.4 386.6h1.0M515.4 365.4h1.0M507.2 381.5h1.0M512.6 399.3h1.0M523.5 394.9h1.0M507.9 400.7h1.0M510.3 386.4h1.0M509.6 365.8h1.0M515.3 401.5h1.0M514.1 387.3h1.0M521.6 398.4h1.0M513.9 363.0h1.0M512.5 384.3h1.0M510.8 381.0h1.0M511.0 357.7h1.0M507.4 370.5h1.0M511.1 386.0h1.0M507.1 377.4h1.0M508.3 390.6h1.0M517.9 385.7h1.0M509.0 391.1h1.0M515.0 384.6h1.0M507.4 403.1h1.0M510.3 396.2h1.0M515.6 397.2h1.0M507.4 376.0h1.0M513.6 407.3h1.0M516.8 394.4h1.0M517.9 392.9h1.0M505.5 392.1h1.0M511.5 375.1h1.0M509.7 403.0h1.0M508.9 386.0h1.0M509.9 387.1h1.0M512.5 389.1h1.0M509.7 399.6h1.0M510.3 389.4h1.0M521.2 356.5h1.0M510.3 404.5h1.0M511.9 391.6h1.0M512.4 364.0h1.0M513.7 378.9h1.0M510.4 370.7h1.0M510.5 381.9h1.0M510.1 388.2h1.0M513.2 390.6h1.0M511.6 375.0h1.0M515.6 363.9h1.0M522.4 379.0h1.0M509.8 396.1h1.0M523.5 360.3h1.0M512.5 363.4h1.0M511.6 391.2h1.0M517.3 354.5h1.0M514.8 393.4h1.0M519.2 389.6h1.0M515.1 383.7h1.0M516.4 371.9h1.0M513.2 409.3h1.0M513.6 387.9h1.0M509.7 374.7h1.0M513.8 386.6h1.0M509.4 372.4h1.0M517.6 387.4h1.0M516.4 378.7h1.0M509.6 392.9h1.0M516.7 387.3h1.0M511.1 409.4h1.0M512.0 359.5h1.0M507.9 386.8h1.0M513.4 355.7h1.0M508.2 376.7h1.0M511.4 407.0h1.0M518.4 373.3h1.0M517.6 366.0h1.0M510.8 404.2h1.0M513.7 394.0h1.0M513.9 373.8h1.0M522.7 393.0h1.0M511.8 393.9h1.0M511.8 357.9h1.0M514.1 376.3h1.0M513.5 351.3h1.0M512.8 399.2h1.0M514.9 368.1h1.0M511.5 383.8h1.0M519.0 395.5h1.0M512.4 389.9h1.0M512.2 385.5h1.0M513.0 397.4h1.0M512.7 399.8h1.0M511.4 397.9h1.0M511.9 395.3h1.0M511.1 376.2h1.0M518.1 368.0h1.0M514.6 371.3h1.0M515.6 401.2h1.0M504.4 397.6h1.0M516.5 379.1h1.0M517.3 367.5h1.0M513.9 385.6h1.0M513.7 379.6h1.0M509.3 402.5h1.0M506.0 405.1h1.0M508.5 400.3h1.0M511.2 383.0h1.0M508.9 357.7h1.0M516.3 379.4h1.0M515.0 390.1h1.0M512.9 355.0h1.0M514.0 395.1h1.0M514.2 387.4h1.0M515.0 350.8h1.0M520.0 358.0h1.0M512.8 366.4h1.0M510.8 392.9h1.0M519.9 373.9h1.0M510.5 360.9h1.0M517.9 379.2h1.0M510.3 393.8h1.0M515.0 378.2h1.0M512.5 352.1h1.0M512.6 405.9h1.0M511.8 391.4h1.0M510.6 401.5h1.0M510.5 364.3h1.0M514.0 383.0h1.0M512.5 396.4h1.0M512.5 388.7h1.0M512.9 388.1h1.0M512.1 409.4h1.0M513.2 387.5h1.0M508.9 387.7h1.0M510.8 395.4h1.0M511.8 377.4h1.0M513.9 400.4h1.0M511.2 397.0h1.0M513.9 352.2h1.0M515.2 395.8h1.0M507.3 388.9h1.0M510.6 409.4h1.0M510.2 391.2h1.0M514.6 368.4h1.0M509.2 405.6h1.0M508.7 370.7h1.0M513.1 394.6h1.0M507.9 381.4h1.0M509.4 381.2h1.0M512.3 408.8h1.0M512.0 395.0h1.0M507.6 401.1h1.0M516.3 406.8h1.0M510.0 380.3h1.0M511.9 408.7h1.0M516.4 367.7h1.0M515.6 397.2h1.0M510.2 383.3h1.0M512.4 382.3h1.0M513.6 381.0h1.0M523.0 375.8h1.0M509.7 396.5h1.0M512.6 404.0h1.0M518.5 386.9h1.0M511.6 359.4h1.0M525.0 368.2h1.0M510.4 402.5h1.0M510.4 381.2h1.0M511.4 385.5h1.0M511.8 377.8h1.0M515.0 388.1h1.0M517.5 396.3h1.0M512.8 391.1h1.0M513.6 376.4h1.0M516.1 384.9h1.0M509.4 388.3h1.0M509.2 394.4h1.0M513.2 382.6h1.0M513.2 400.0h1.0M513.1 364.1h1.0M509.3 362.0h1.0M512.7 368.3h1.0M511.1 380.6h1.0M515.6 394.7h1.0M512.3 388.7h1.0M509.4 380.3h1.0M517.0 405.7h1.0M515.4 391.8h1.0M515.6 364.7h1.0M513.2 400.3h1.0M506.8 383.7h1.0M514.4 361.8h1.0M514.0 360.1h1.0M508.4 382.6h1.0M509.9 389.1h1.0M514.5 383.2h1.0M512.4 390.4h1.0M515.5 361.8h1.0M512.0 397.7h1.0M509.1 409.8h1.0M513.0 409.4h1.0M518.3 376.6h1.0M513.1 373.6h1.0M513.6 388.1h1.0M514.8 360.7h1.0M513.1 404.7h1.0M511.7 359.8h1.0M512.7 393.5h1.0M509.6 383.1h1.0M513.2 369.3h1.0M507.4 367.0h1.0M515.3 389.7h1.0M507.3 393.7h1.0M513.4 386.3h1.0M510.4 398.4h1.0M509.3 359.4h1.0M510.0 402.6h1.0M522.9 366.4h1.0M512.9 402.1h1.0M515.1 388.4h1.0M509.4 396.8h1.0M508.5 395.8h1.0M512.4 355.4h1.0M519.8 384.9h1.0M510.9 382.3h1.0M519.6 381.9h1.0M511.2 384.7h1.0M507.6 403.9h1.0M511.4 388.7h1.0M514.3 360.2h1.0M511.1 360.1h1.0M509.1 374.4h1.0M511.3 383.2h1.0M509.9 396.3h1.0M513.4 375.5h1.0M515.1 400.5h1.0M511.0 394.6h1.0M511.5 350.4h1.0M517.8 408.8h1.0M509.6 356.9h1.0M514.8 388.2h1.0M511.1 387.4h1.0M509.9 392.0h1.0M515.7 378.0h1.0M509.9 402.5h1.0M508.6 383.6h1.0M511.5 358.9h1.0M507.7 396.6h1.0M513.9 409.2h1.0M515.4 380.4h1.0M508.0 391.2h1.0M511.3 393.3h1.0M518.9 373.5h1.0M509.2 407.2h1.0M515.2 395.0h1.0M517.5 398.2h1.0M511.1 379.7h1.0M513.4 378.1h1.0M513.2 402.4h1.0M510.6 379.4h1.0M507.6 397.8h1.0M515.9 373.9h1.0M514.6 370.7h1.0M510.9 385.7h1.0M512.5 391.1h1.0M512.0 373.9h1.0M512.0 384.0h1.0M509.9 380.6h1.0M514.1 380.9h1.0M512.4 386.2h1.0M511.9 403.7h1.0M507.4 374.1h1.0M518.4 400.8h1.0M511.7 402.7h1.0M515.0 387.2h1.0M523.1 384.1h1.0M512.2 357.2h1.0M514.3 391.8h1.0M512.9 401.4h1.0M511.7 355.9h1.0M511.4 371.6h1.0M513.8 379.7h1.0M515.6 387.0h1.0M513.9 384.8h1.0M513.4 376.4h1.0M505.6 377.6h1.0M511.0 368.8h1.0M515.3 392.0h1.0M513.2 363.6h1.0M509.1 396.0h1.0M521.6 355.9h1.0M512.8 351.0h1.0M515.6 371.3h1.0M510.9 407.8h1.0M515.4 394.0h1.0M511.6 360.0h1.0M514.1 386.0h1.0M510.8 368.6h1.0M516.6 375.1h1.0M510.0 408.3h1.0M513.2 396.6h1.0M510.2 354.3h1.0M511.8 378.4h1.0M518.1 391.3h1.0M512.6 394.0h1.0M514.3 399.0h1.0M511.9 386.1h1.0M512.9 387.3h1.0M511.3 397.9h1.0M508.7 409.1h1.0M514.3 372.7h1.0M514.0 407.7h1.0M514.8 360.4h1.0M513.6 394.0h1.0M509.7 369.9h1.0M516.5 383.4h1.0M511.7 393.6h1.0M512.3 384.0h1.0M508.2 395.3h1.0M515.8 361.3h1.0M508.9 403.4h1.0M522.7 382.1h1.0M513.3 396.1h1.0M510.0 390.6h1.0M515.3 391.6h1.0M507.9 400.3h1.0M511.0 374.3h1.0M514.6 376.5h1.0M514.4 382.6h1.0M509.6 407.2h1.0M515.7 370.7h1.0M513.5 403.2h1.0M513.1 397.7h1.0M513.9 361.7h1.0M511.5 380.2h1.0M514.4 386.1h1.0M518.1 369.0h1.0M509.9 385.3h1.0M508.8 348.6h1.0M509.9 362.9h1.0M515.2 388.2h1.0M514.4 363.4h1.0M513.8 362.4h1.0M509.7 403.5h1.0M511.2 393.0h1.0M511.8 407.9h1.0M513.7 384.9h1.0M514.4 390.7h1.0M509.1 384.4h1.0M523.2 358.4h1.0M509.7 387.8h1.0M512.3 384.2h1.0M505.9 408.9h1.0M508.6 386.9h1.0M509.8 386.6h1.0M517.3 406.8h1.0M509.6 404.2h1.0M507.2 387.9h1.0M506.9 402.5h1.0M514.3 399.2h1.0M511.9 387.6h1.0M511.5 390.9h1.0M514.3 400.7h1.0M510.8 406.5h1.0M511.7 390.2h1.0M512.8 394.8h1.0M516.0 377.1h1.0M514.8 388.1h1.0M514.7 394.7h1.0M508.9 391.1h1.0M511.1 386.7h1.0M514.4 387.9h1.0M514.0 369.9h1.0M515.6 365.7h1.0M507.7 397.1h1.0M510.9 354.7h1.0M510.5 373.2h1.0M519.0 397.7h1.0M513.8 390.8h1.0M513.3 399.8h1.0M509.1 399.4h1.0M517.0 396.8h1.0M509.4 394.5h1.0M520.7 360.4h1.0M513.3 402.6h1.0M521.2 376.3h1.0M513.1 372.4h1.0M510.0 398.9h1.0M512.9 400.2h1.0M517.7 382.7h1.0M510.5 372.8h1.0M516.8 360.6h1.0M515.8 390.8h1.0M509.2 398.0h1.0M512.9 350.9h1.0M508.8 400.1h1.0M511.5 368.2h1.0M514.0 377.0h1.0M519.4 390.9h1.0M517.7 397.1h1.0M509.4 380.1h1.0M517.1 378.9h1.0M513.3 386.6h1.0M515.9 390.6h1.0M511.0 384.9h1.0M509.2 373.5h1.0M514.0 364.1h1.0M514.1 393.7h1.0M504.0 402.0h1.0M518.4 406.9h1.0M511.7 368.9h1.0M508.0 391.8h1.0M511.2 372.1h1.0M514.6 395.4h1.0M513.0 385.3h1.0M512.2 388.9h1.0M510.9 373.4h1.0M516.0 398.1h1.0M507.1 386.4h1.0M509.0 400.3h1.0M513.4 394.4h1.0M510.2 352.9h1.0M520.2 395.1h1.0M519.6 384.5h1.0M509.1 398.8h1.0M512.2 394.4h1.0M511.3 364.0h1.0M512.0 408.3h1.0M504.4 382.4h1.0M516.5 387.0h1.0M524.4 367.3h1.0M514.3 359.0h1.0M513.2 394.0h1.0M511.8 380.3h1.0M511.6 394.9h1.0M514.2 391.7h1.0M512.4 362.8h1.0M511.8 368.7h1.0M509.4 397.1h1.0M508.3 369.6h1.0M524.8 357.2h1.0M512.9 386.7h1.0M517.1 373.0h1.0M511.8 375.1h1.0M510.5 393.7h1.0M508.7 400.1h1.0M511.8 377.2h1.0M516.2 380.2h1.0M508.3 369.7h1.0M501.8 388.6h1.0M514.3 406.8h1.0M514.4 399.4h1.0M512.7 390.8h1.0M512.1 385.5h1.0M512.8 384.9h1.0M514.6 375.0h1.0M510.8 405.4h1.0M511.7 407.9h1.0M514.8 372.2h1.0M510.2 380.2h1.0M514.3 379.9h1.0M514.9 389.6h1.0M511.6 388.2h1.0M511.2 384.2h1.0M507.9 401.5h1.0M508.1 376.1h1.0M517.3 370.4h1.0M513.5 350.1h1.0M512.2 391.1h1.0M507.9 403.8h1.0M516.0 388.5h1.0M510.5 366.4h1.0M512.8 395.4h1.0M513.5 396.9h1.0M524.6 393.4h1.0M514.4 373.9h1.0M524.6 359.2h1.0M513.4 389.3h1.0M515.3 401.0h1.0M506.6 398.2h1.0M511.2 405.6h1.0M508.9 374.8h1.0M512.6 355.9h1.0M513.3 352.1h1.0M505.5 385.5h1.0M509.9 409.1h1.0M511.8 372.3h1.0M511.0 378.6h1.0M507.6 388.2h1.0M510.5 372.2h1.0M512.8 407.5h1.0M510.7 354.6h1.0M514.0 380.6h1.0M510.6 361.6h1.0M513.9 362.4h1.0M506.7 396.0h1.0M514.6 377.5h1.0M512.9 404.4h1.0M523.5 393.6h1.0M517.4 399.0h1.0M514.2 400.3h1.0M518.1 377.0h1.0M513.9 386.6h1.0M513.6 363.6h1.0M515.0 358.0h1.0M510.6 374.4h1.0M511.5 356.5h1.0M513.2 384.0h1.0M511.0 383.5h1.0M510.1 394.1h1.0M510.9 391.2h1.0M513.7 397.3h1.0M511.5 402.1h1.0M509.6 390.0h1.0M509.6 363.3h1.0" stroke="#ff84c6" stroke-width="1.0" stroke-opacity="0.42" fill="none"/>
<ellipse cx="512.1" cy="402.7" rx="5.4" ry="6.3" fill="#ff86c6" transform="rotate(0 512.1 402.7)" filter="url(#b5)"/>
<path d="M510.3 406.6h1.0M513.2 406.6h1.0M511.0 404.4h1.0M513.4 403.0h1.0M512.1 396.4h1.0M515.3 408.6h1.0M516.0 406.1h1.0M512.2 406.7h1.0M511.5 403.2h1.0M513.8 402.9h1.0M509.9 400.0h1.0M512.4 403.7h1.0M507.6 401.9h1.0M513.2 400.7h1.0M513.0 403.2h1.0M506.1 399.2h1.0M511.0 398.4h1.0M510.9 401.4h1.0M513.8 406.7h1.0M509.8 405.7h1.0M508.9 395.7h1.0M513.0 406.0h1.0M514.7 406.1h1.0M515.5 406.9h1.0M512.7 400.5h1.0M510.3 402.9h1.0M516.3 400.2h1.0M512.9 403.5h1.0M515.2 404.3h1.0M508.2 404.5h1.0M513.1 405.5h1.0M511.7 404.9h1.0M510.5 405.5h1.0M512.4 402.7h1.0M509.3 403.5h1.0M513.7 408.2h1.0M510.8 408.0h1.0M506.0 399.6h1.0M510.7 401.4h1.0M512.6 399.2h1.0M512.6 401.9h1.0M514.1 399.7h1.0M515.6 405.8h1.0M510.7 399.6h1.0M515.1 405.5h1.0M511.4 403.8h1.0M513.1 404.1h1.0M512.0 404.9h1.0M512.5 404.8h1.0M513.3 403.5h1.0M509.8 398.4h1.0M511.6 400.2h1.0M509.3 394.0h1.0M508.0 409.2h1.0M514.3 406.7h1.0M516.7 404.3h1.0M510.3 402.7h1.0M512.5 404.8h1.0M504.8 398.7h1.0M510.6 408.5h1.0M513.6 403.8h1.0M510.9 399.9h1.0M507.1 403.7h1.0M511.1 405.4h1.0M512.1 401.5h1.0M510.1 398.9h1.0M510.1 399.7h1.0M506.3 398.4h1.0M512.1 396.4h1.0M514.2 403.1h1.0M514.0 409.1h1.0M511.6 401.4h1.0M511.3 394.3h1.0M512.0 399.7h1.0M514.9 404.9h1.0M508.8 400.9h1.0M513.3 402.9h1.0M510.8 397.0h1.0M509.6 406.7h1.0M509.7 402.8h1.0M511.4 399.4h1.0M507.9 402.5h1.0M511.5 400.2h1.0M512.0 404.8h1.0M507.2 401.8h1.0M512.6 399.1h1.0M510.9 403.5h1.0M513.4 404.8h1.0M507.9 398.7h1.0M508.2 401.8h1.0M512.5 405.8h1.0M506.0 403.6h1.0M504.3 401.9h1.0M509.9 406.3h1.0M511.3 403.1h1.0M509.3 400.4h1.0M511.4 404.2h1.0M509.3 403.1h1.0M508.7 402.3h1.0M514.9 400.5h1.0M510.0 397.5h1.0M508.1 405.7h1.0M507.8 410.5h1.0M515.4 405.1h1.0M513.0 401.1h1.0M509.0 407.2h1.0M510.4 403.3h1.0M516.8 405.8h1.0M512.8 397.8h1.0M510.9 408.5h1.0M509.6 408.1h1.0M510.9 409.7h1.0M513.6 403.1h1.0M509.2 403.4h1.0M507.3 402.4h1.0M514.0 401.2h1.0M513.2 407.1h1.0M506.9 400.9h1.0M513.4 403.7h1.0M512.1 406.9h1.0M507.1 403.3h1.0M513.2 398.6h1.0M516.3 405.7h1.0M510.5 405.5h1.0M515.0 409.3h1.0M516.7 404.2h1.0M508.8 404.1h1.0M507.4 402.1h1.0M510.8 406.1h1.0M509.1 395.5h1.0M508.6 403.5h1.0M513.3 402.5h1.0M518.1 401.3h1.0M508.5 408.6h1.0M507.0 400.8h1.0M510.8 399.3h1.0M512.6 408.7h1.0M510.0 407.7h1.0M514.1 407.8h1.0M509.7 402.5h1.0M513.0 398.7h1.0M513.3 401.5h1.0M520.4 402.5h1.0M512.4 407.5h1.0M513.8 401.5h1.0M511.2 394.8h1.0M512.3 403.4h1.0M511.1 403.2h1.0M510.4 406.1h1.0M510.9 405.5h1.0M506.3 400.7h1.0M511.0 403.7h1.0M505.4 404.9h1.0M512.6 398.1h1.0M511.8 398.6h1.0M510.6 411.2h1.0M512.0 403.2h1.0M513.3 401.0h1.0M510.5 402.3h1.0M514.2 404.2h1.0M509.3 397.1h1.0M507.7 401.4h1.0M513.9 401.6h1.0M514.5 396.0h1.0M512.9 404.3h1.0M510.1 399.2h1.0M513.5 406.1h1.0M511.4 404.0h1.0M510.3 404.7h1.0M508.9 402.2h1.0M510.8 396.4h1.0M512.7 403.2h1.0M507.5 401.4h1.0M513.2 403.7h1.0M508.6 405.4h1.0M511.4 406.9h1.0M510.1 397.0h1.0M512.7 406.6h1.0M515.9 402.3h1.0M510.7 404.4h1.0M505.8 404.2h1.0M506.2 407.9h1.0M512.3 409.0h1.0M508.0 404.3h1.0M508.8 399.1h1.0M516.8 402.3h1.0M516.0 403.8h1.0M512.9 408.9h1.0M512.1 404.4h1.0M513.4 399.3h1.0M511.1 401.2h1.0M512.0 403.7h1.0M509.8 395.8h1.0M513.9 393.8h1.0M511.1 403.0h1.0M509.7 402.5h1.0M507.0 402.2h1.0M513.8 410.2h1.0M512.0 401.8h1.0M509.9 403.2h1.0M514.5 409.4h1.0M512.9 406.1h1.0M511.8 406.9h1.0M508.6 407.0h1.0M510.6 398.4h1.0M512.6 402.3h1.0M512.2 399.7h1.0M510.3 404.2h1.0M512.9 404.3h1.0M511.5 408.8h1.0M509.3 398.0h1.0M510.1 403.0h1.0M516.1 408.9h1.0M510.2 400.7h1.0M505.9 400.1h1.0M515.4 401.3h1.0M509.9 400.6h1.0M512.7 402.9h1.0M512.2 410.4h1.0M506.8 409.7h1.0M515.8 404.0h1.0M512.9 405.2h1.0M514.6 399.8h1.0M510.2 403.8h1.0M513.0 401.6h1.0M514.2 404.4h1.0M516.8 405.1h1.0M509.9 400.9h1.0M507.5 399.5h1.0M513.7 402.6h1.0M510.0 402.3h1.0M509.5 401.2h1.0M509.7 403.7h1.0M515.7 404.7h1.0M510.8 403.0h1.0M512.4 406.4h1.0M508.9 406.2h1.0M508.9 399.9h1.0M509.8 402.1h1.0M508.0 398.9h1.0M510.5 396.2h1.0M513.0 408.6h1.0M512.9 403.3h1.0M511.7 401.6h1.0M507.9 404.7h1.0M514.8 405.9h1.0M512.5 403.9h1.0M513.9 397.0h1.0M510.5 398.1h1.0M508.5 405.1h1.0" stroke="#ff80c2" stroke-width="1.0" stroke-opacity="0.5" fill="none"/>
</svg></body></html>
